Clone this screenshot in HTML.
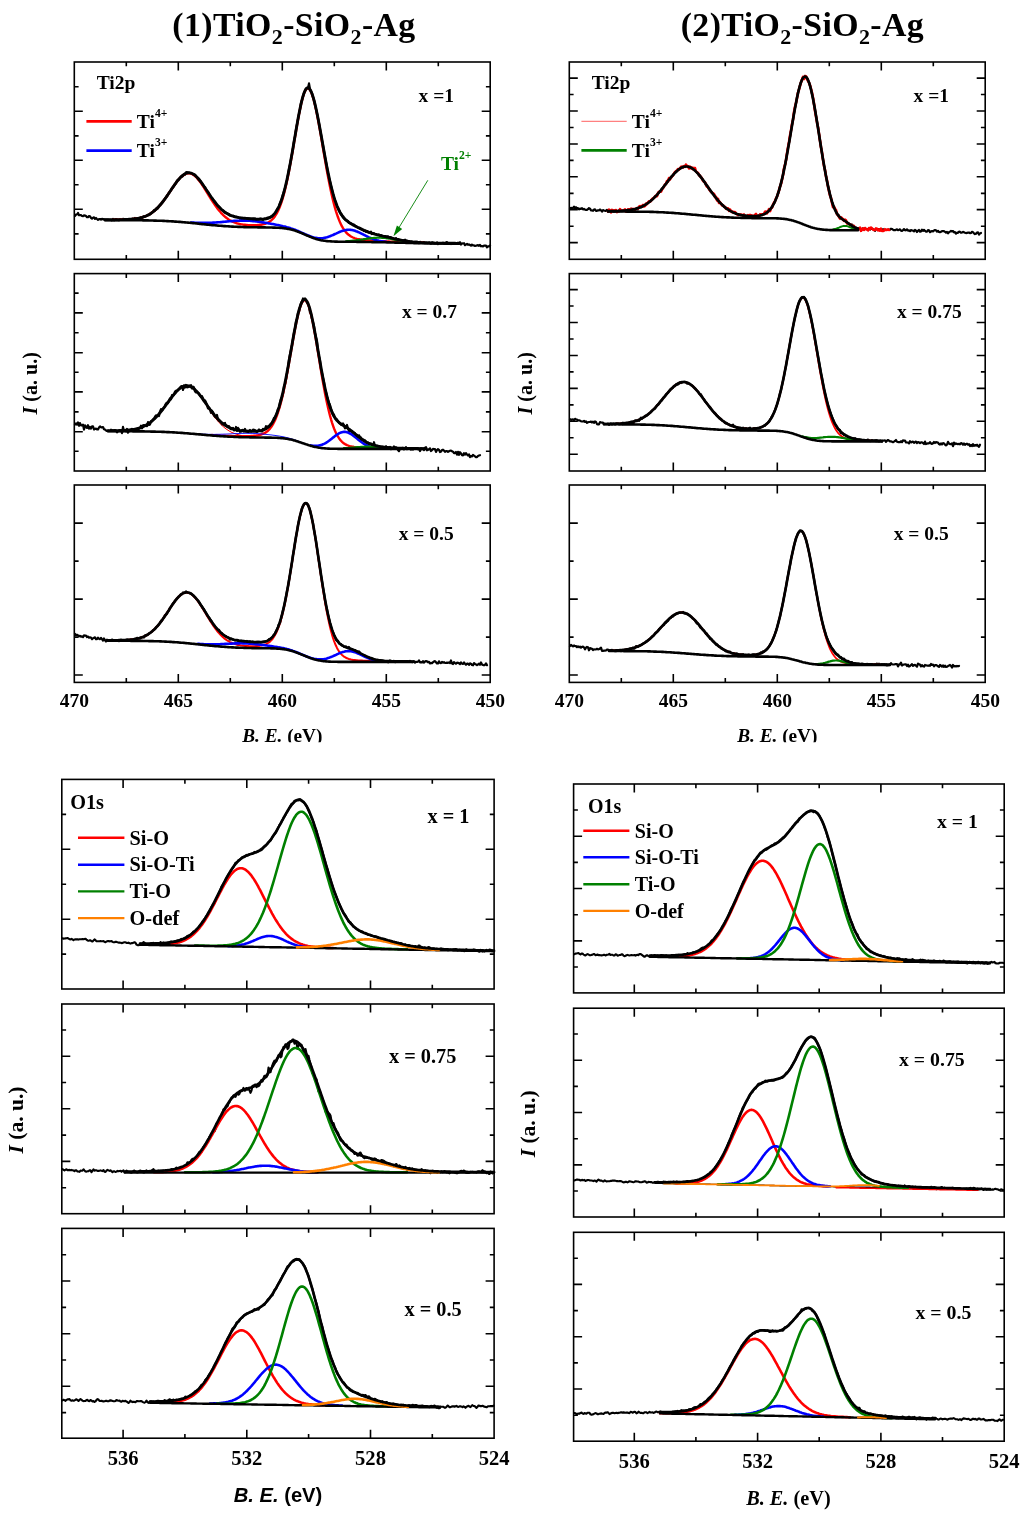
<!DOCTYPE html>
<html lang="en"><head><meta charset="utf-8"><title>XPS Ti2p and O1s spectra</title>
<style>html,body{margin:0;padding:0;background:#fff}svg{display:block}</style></head>
<body>
<svg width="1024" height="1513" viewBox="0 0 1024 1513">
<rect width="1024" height="1513" fill="#fff"/>
<polyline points="75.0,215.9 76.0,214.5 77.0,214.5 78.0,213.0 79.0,215.2 80.0,215.1 81.0,215.1 82.0,216.0 83.0,216.2 84.0,215.3 85.0,215.6 86.0,216.1 87.0,217.2 88.0,217.2 89.0,216.0 90.0,216.3 91.0,217.9 92.0,218.7 93.0,217.7 94.0,217.3 95.0,218.9 96.0,218.0 97.0,219.0 98.0,219.8 99.0,219.2 100.0,219.0 101.0,219.7 102.0,218.8 103.0,219.3 104.0,219.2 105.0,219.7 106.0,219.6 107.0,219.7 108.0,219.6 109.0,219.8 110.0,219.8 111.0,219.9 112.0,220.4 113.0,219.0 114.0,220.3 115.0,219.6 116.0,219.1 117.0,219.6 118.0,219.7 119.0,220.2 120.0,219.2 121.0,219.7 122.0,219.7 123.0,218.8 124.0,219.0 125.0,219.8 126.0,219.8 127.0,219.9 128.0,219.6 129.0,219.5 130.0,219.3 131.0,219.7 132.0,218.7 133.0,218.9 134.0,219.1 135.0,218.0 136.0,219.2 137.0,218.1 138.0,218.3 139.0,219.1 140.0,217.5 141.0,217.4 142.0,218.1 143.0,216.6 144.0,216.5 145.0,216.6 146.0,216.2 147.0,215.8 148.0,215.2 149.0,215.1 150.0,214.4 151.0,213.6 152.0,212.3 153.0,211.5 154.0,210.2 155.0,210.6 156.0,208.5 157.0,208.8 158.0,208.2 159.0,205.8 160.0,204.9 161.0,203.8 162.0,203.1 163.0,201.1 164.0,200.1 165.0,198.5 166.0,197.3 167.0,196.5 168.0,194.0 169.0,193.0 170.0,191.6 171.0,190.4 172.0,187.9 173.0,187.6 174.0,185.8 175.0,184.6 176.0,182.8 177.0,180.7 178.0,179.9 179.0,179.4 180.0,177.9 181.0,176.8 182.0,176.7 183.0,176.1 184.0,174.4 185.0,174.7 186.0,172.4 187.0,172.1 188.0,173.2 189.0,172.7 190.0,173.2 191.0,173.4 192.0,173.5 193.0,174.3 194.0,174.7 195.0,174.7 196.0,176.3 197.0,177.3 198.0,179.1 199.0,178.9 200.0,180.7 201.0,181.8 202.0,183.3 203.0,185.6 204.0,186.4 205.0,187.5 206.0,189.3 207.0,191.1 208.0,191.8 209.0,193.7 210.0,196.0 211.0,197.2 212.0,198.2 213.0,199.4 214.0,200.9 215.0,201.6 216.0,204.0 217.0,204.9 218.0,206.0 219.0,206.4 220.0,207.7 221.0,209.2 222.0,210.0 223.0,210.5 224.0,211.8 225.0,212.7 226.0,212.6 227.0,213.3 228.0,213.7 229.0,214.1 230.0,215.5 231.0,215.7 232.0,216.0 233.0,215.7 234.0,216.0 235.0,216.8 236.0,216.8 237.0,217.3 238.0,217.1 239.0,217.9 240.0,218.6 241.0,218.6 242.0,218.8 243.0,218.2 244.0,218.7 245.0,218.2 246.0,218.8 247.0,218.3 248.0,218.4 249.0,218.4 250.0,219.1 251.0,218.9 252.0,219.0 253.0,218.4 254.0,219.1 255.0,218.4 256.0,219.8 257.0,219.2 258.0,219.4 259.0,219.2 260.0,218.6 261.0,218.7 262.0,219.3 263.0,219.9 264.0,218.6 265.0,218.7 266.0,218.8 267.0,217.8 268.0,217.5 269.0,217.7 270.0,217.4 271.0,216.7 272.0,216.8 273.0,215.2 274.0,214.4 275.0,213.8 276.0,212.5 277.0,209.4 278.0,208.1 279.0,206.8 280.0,203.3 281.0,200.9 282.0,197.9 283.0,194.7 284.0,191.3 285.0,188.1 286.0,184.5 287.0,180.2 288.0,174.8 289.0,169.0 290.0,164.6 291.0,159.1 292.0,153.8 293.0,147.9 294.0,141.3 295.0,136.4 296.0,129.4 297.0,124.3 298.0,119.2 299.0,113.9 300.0,109.5 301.0,103.0 302.0,100.0 303.0,96.5 304.0,93.0 305.0,91.0 306.0,88.5 307.0,88.3 308.0,88.0 309.0,83.4 310.0,89.2 311.0,91.2 312.0,93.4 313.0,97.2 314.0,100.2 315.0,104.7 316.0,109.0 317.0,113.2 318.0,118.2 319.0,123.1 320.0,128.6 321.0,134.1 322.0,140.3 323.0,145.3 324.0,151.3 325.0,156.9 326.0,161.9 327.0,167.3 328.0,173.0 329.0,177.9 330.0,181.3 331.0,185.8 332.0,189.8 333.0,193.5 334.0,197.8 335.0,200.6 336.0,203.7 337.0,206.6 338.0,207.9 339.0,210.2 340.0,212.2 341.0,214.4 342.0,215.4 343.0,217.1 344.0,218.5 345.0,219.6 346.0,220.3 347.0,220.6 348.0,221.0 349.0,222.9 350.0,223.3 351.0,223.3 352.0,224.1 353.0,224.7 354.0,224.6 355.0,226.1 356.0,226.1 357.0,226.8 358.0,227.8 359.0,227.9 360.0,228.7 361.0,229.1 362.0,229.4 363.0,229.9 364.0,231.1 365.0,230.6 366.0,231.9 367.0,231.1 368.0,232.2 369.0,232.4 370.0,232.3 371.0,231.7 372.0,234.0 373.0,233.1 374.0,233.4 375.0,234.2 376.0,234.4 377.0,234.8 378.0,234.8 379.0,234.5 380.0,235.8 381.0,235.2 382.0,235.9 383.0,236.3 384.0,236.8 385.0,236.4 386.0,236.6 387.0,236.9 388.0,236.3 389.0,237.1 390.0,237.2 391.0,237.4 392.0,238.2 393.0,238.2 394.0,239.3 395.0,239.5 396.0,238.2 397.0,239.3 398.0,239.0 399.0,240.0 400.0,240.0 401.0,240.6 402.0,240.5 403.0,240.9 404.0,240.6 405.0,239.7 406.0,240.5 407.0,240.8 408.0,241.1 409.0,241.0 410.0,242.4 411.0,241.7 412.0,242.4 413.0,241.8 414.0,242.8 415.0,241.6 416.0,242.5 417.0,241.7 418.0,242.6 419.0,243.2 420.0,241.8 421.0,242.2 422.0,242.7 423.0,242.6 424.0,242.1 425.0,243.3 426.0,242.8 427.0,243.4 428.0,243.0 429.0,242.4 430.0,242.7 431.0,243.6 432.0,242.3 433.0,242.8 434.0,243.3 435.0,243.5 436.0,243.5 437.0,242.4 438.0,244.1 439.0,243.1 440.0,243.2 441.0,243.2 442.0,243.1 443.0,242.8 444.0,243.1 445.0,243.8 446.0,242.6 447.0,242.1 448.0,243.5 449.0,243.4 450.0,243.6 451.0,244.1 452.0,243.0 453.0,243.4 454.0,243.6 455.0,243.9 456.0,243.8 457.0,243.0 458.0,242.7 459.0,243.2 460.0,242.2 461.0,244.5 462.0,243.4 463.0,243.5 464.0,243.2 465.0,245.2 466.0,244.4 467.0,243.9 468.0,244.8 469.0,244.4 470.0,245.0 471.0,245.7 472.0,244.6 473.0,245.3 474.0,245.4 475.0,246.0 476.0,245.7 477.0,245.4 478.0,245.0 479.0,245.8 480.0,244.9 481.0,246.3 482.0,246.0 483.0,246.5 484.0,245.7 485.0,245.6 486.0,245.7 487.0,247.3 488.0,246.4 489.0,246.5 490.0,245.4" fill="none" stroke="#000" stroke-width="2.2" stroke-linejoin="round" stroke-linecap="round" />
<polyline points="113.0,219.8 114.0,219.7 115.0,219.7 116.0,219.7 117.0,219.7 118.0,219.7 119.0,219.7 120.0,219.6 121.0,219.6 122.0,219.6 123.0,219.6 124.0,219.5 125.0,219.5 126.0,219.5 127.0,219.4 128.0,219.4 129.0,219.3 130.0,219.3 131.0,219.2 132.0,219.1 133.0,219.0 134.0,218.9 135.0,218.8 136.0,218.6 137.0,218.5 138.0,218.3 139.0,218.1 140.0,217.9 141.0,217.6 142.0,217.4 143.0,217.1 144.0,216.7 145.0,216.4 146.0,216.0 147.0,215.5 148.0,215.0 149.0,214.5 150.0,213.9 151.0,213.3 152.0,212.6 153.0,211.9 154.0,211.1 155.0,210.3 156.0,209.4 157.0,208.4 158.0,207.4 159.0,206.3 160.0,205.2 161.0,204.0 162.0,202.8 163.0,201.5 164.0,200.2 165.0,198.8 166.0,197.4 167.0,196.0 168.0,194.5 169.0,193.0 170.0,191.5 171.0,190.1 172.0,188.6 173.0,187.1 174.0,185.7 175.0,184.2 176.0,182.9 177.0,181.5 178.0,180.3 179.0,179.1 180.0,178.0 181.0,177.0 182.0,176.1 183.0,175.3 184.0,174.6 185.0,174.1 186.0,173.6 187.0,173.3 188.0,173.2 189.0,173.2 190.0,173.3 191.0,173.6 192.0,174.0 193.0,174.6 194.0,175.2 195.0,176.1 196.0,177.0 197.0,178.0 198.0,179.2 199.0,180.4 200.0,181.7 201.0,183.1 202.0,184.6 203.0,186.1 204.0,187.7 205.0,189.3 206.0,190.9 207.0,192.5 208.0,194.1 209.0,195.8 210.0,197.4 211.0,199.0 212.0,200.6 213.0,202.1 214.0,203.6 215.0,205.1 216.0,206.5 217.0,207.9 218.0,209.2 219.0,210.4 220.0,211.6 221.0,212.8 222.0,213.8 223.0,214.9 224.0,215.8 225.0,216.7 226.0,217.5 227.0,218.3 228.0,219.0 229.0,219.7 230.0,220.3 231.0,220.8 232.0,221.4 233.0,221.8 234.0,222.3 235.0,222.6 236.0,223.0 237.0,223.3 238.0,223.6 239.0,223.8 240.0,224.1 241.0,224.3 242.0,224.4 243.0,224.6 244.0,224.7 245.0,224.8 246.0,224.9 247.0,225.0 248.0,225.1 249.0,225.1 250.0,225.2 251.0,225.2 252.0,225.2 253.0,225.2 254.0,225.2 255.0,225.2 256.0,225.1 257.0,225.1 258.0,225.0 259.0,224.9 260.0,224.8 261.0,224.7 262.0,224.5 263.0,224.3 264.0,224.1 265.0,223.8 266.0,223.4 267.0,223.0 268.0,222.6 269.0,222.0 270.0,221.4 271.0,220.6 272.0,219.7 273.0,218.7 274.0,217.6 275.0,216.2 276.0,214.7 277.0,212.9 278.0,211.0 279.0,208.8 280.0,206.3 281.0,203.6 282.0,200.6 283.0,197.3 284.0,193.7 285.0,189.8 286.0,185.5 287.0,181.0 288.0,176.2 289.0,171.2 290.0,165.9 291.0,160.4 292.0,154.7 293.0,148.9 294.0,143.0 295.0,137.1 296.0,131.2 297.0,125.4 298.0,119.7 299.0,114.4 300.0,109.3 301.0,104.6 302.0,100.4 303.0,96.7 304.0,93.6 305.0,91.2 306.0,89.4 307.0,88.5 308.0,88.3 309.0,88.8 310.0,90.0 311.0,91.9 312.0,94.3 313.0,97.4 314.0,100.9 315.0,105.0 316.0,109.5 317.0,114.4 318.0,119.5 319.0,125.0 320.0,130.6 321.0,136.4 322.0,142.3 323.0,148.2 324.0,154.1 325.0,159.9 326.0,165.6 327.0,171.2 328.0,176.6 329.0,181.8 330.0,186.8 331.0,191.5 332.0,196.0 333.0,200.2 334.0,204.2 335.0,207.9 336.0,211.3 337.0,214.4 338.0,217.3 339.0,219.9 340.0,222.3 341.0,224.4 342.0,226.4 343.0,228.1 344.0,229.7 345.0,231.0 346.0,232.3 347.0,233.3 348.0,234.3 349.0,235.1 350.0,235.8 351.0,236.5 352.0,237.0 353.0,237.5 354.0,237.9 355.0,238.3 356.0,238.6 357.0,238.9 358.0,239.1 359.0,239.3 360.0,239.5 361.0,239.7 362.0,239.8 363.0,239.9 364.0,240.0 365.0,240.1 366.0,240.2 367.0,240.3 368.0,240.4 369.0,240.5 370.0,240.5 371.0,240.6 372.0,240.7 373.0,240.7 374.0,240.8 375.0,240.8 376.0,240.9 377.0,240.9 378.0,241.0 379.0,241.1 380.0,241.1 381.0,241.2 382.0,241.2 383.0,241.3 384.0,241.3 385.0,241.3 386.0,241.4 387.0,241.4 388.0,241.5 389.0,241.5 390.0,241.6 391.0,241.6 392.0,241.7 393.0,241.7 394.0,241.7 395.0,241.8 396.0,241.8 397.0,241.9 398.0,241.9 399.0,242.0 400.0,242.0 401.0,242.0 402.0,242.1 403.0,242.1 404.0,242.2 405.0,242.2 406.0,242.2 407.0,242.3 408.0,242.3 409.0,242.3 410.0,242.4 411.0,242.4 412.0,242.5 413.0,242.5 414.0,242.5 415.0,242.6 416.0,242.6 417.0,242.6 418.0,242.7 419.0,242.7 420.0,242.7 421.0,242.7 422.0,242.8 423.0,242.8 424.0,242.8" fill="none" stroke="#ff0000" stroke-width="2.4" stroke-linejoin="round" stroke-linecap="round" />
<polyline points="191.0,222.5 192.0,222.5 193.0,222.6 194.0,222.6 195.0,222.7 196.0,222.7 197.0,222.7 198.0,222.8 199.0,222.8 200.0,222.8 201.0,222.8 202.0,222.8 203.0,222.9 204.0,222.9 205.0,222.9 206.0,222.8 207.0,222.8 208.0,222.8 209.0,222.8 210.0,222.8 211.0,222.7 212.0,222.7 213.0,222.6 214.0,222.6 215.0,222.5 216.0,222.5 217.0,222.4 218.0,222.3 219.0,222.2 220.0,222.2 221.0,222.1 222.0,222.0 223.0,221.9 224.0,221.8 225.0,221.7 226.0,221.6 227.0,221.5 228.0,221.4 229.0,221.3 230.0,221.3 231.0,221.2 232.0,221.1 233.0,221.0 234.0,220.9 235.0,220.9 236.0,220.8 237.0,220.8 238.0,220.7 239.0,220.7 240.0,220.6 241.0,220.6 242.0,220.6 243.0,220.6 244.0,220.6 245.0,220.6 246.0,220.6 247.0,220.7 248.0,220.7 249.0,220.8 250.0,220.8 251.0,220.9 252.0,221.0 253.0,221.1 254.0,221.2 255.0,221.3 256.0,221.4 257.0,221.5 258.0,221.6 259.0,221.8 260.0,221.9 261.0,222.1 262.0,222.2 263.0,222.4 264.0,222.5 265.0,222.7 266.0,222.9 267.0,223.0 268.0,223.2 269.0,223.4 270.0,223.6 271.0,223.7 272.0,223.9 273.0,224.1 274.0,224.3 275.0,224.5 276.0,224.7 277.0,224.9 278.0,225.1 279.0,225.3 280.0,225.5 281.0,225.7 282.0,225.9 283.0,226.2 284.0,226.4 285.0,226.6 286.0,226.9 287.0,227.2 288.0,227.4 289.0,227.7 290.0,228.0 291.0,228.4 292.0,228.7 293.0,229.1 294.0,229.4 295.0,229.8 296.0,230.2 297.0,230.6 298.0,231.0 299.0,231.5 300.0,231.9 301.0,232.4 302.0,232.8 303.0,233.3 304.0,233.7 305.0,234.2 306.0,234.6 307.0,235.0 308.0,235.4 309.0,235.8 310.0,236.2 311.0,236.6 312.0,236.9 313.0,237.2 314.0,237.5 315.0,237.7 316.0,237.9 317.0,238.0 318.0,238.2 319.0,238.2 320.0,238.3 321.0,238.2 322.0,238.2 323.0,238.1 324.0,237.9 325.0,237.8 326.0,237.5 327.0,237.3 328.0,236.9 329.0,236.6 330.0,236.2 331.0,235.8 332.0,235.4 333.0,235.0 334.0,234.5 335.0,234.0 336.0,233.6 337.0,233.1 338.0,232.7 339.0,232.2 340.0,231.8 341.0,231.4 342.0,231.0 343.0,230.7 344.0,230.4 345.0,230.2 346.0,230.0 347.0,229.9 348.0,229.8 349.0,229.8 350.0,229.8 351.0,229.9 352.0,230.1 353.0,230.3 354.0,230.5 355.0,230.8 356.0,231.2 357.0,231.5 358.0,232.0 359.0,232.4 360.0,232.9 361.0,233.4 362.0,233.9 363.0,234.4 364.0,234.9 365.0,235.4 366.0,235.9 367.0,236.4 368.0,236.9 369.0,237.4 370.0,237.8 371.0,238.2 372.0,238.6 373.0,239.0 374.0,239.4 375.0,239.7 376.0,240.0 377.0,240.3 378.0,240.5 379.0,240.8 380.0,241.0 381.0,241.2 382.0,241.3 383.0,241.5 384.0,241.6 385.0,241.8 386.0,241.9" fill="none" stroke="#0000ff" stroke-width="2.6" stroke-linejoin="round" stroke-linecap="round" />
<polyline points="346.0,241.3 347.0,241.2 348.0,241.2 349.0,241.1 350.0,241.0 351.0,240.9 352.0,240.8 353.0,240.7 354.0,240.6 355.0,240.5 356.0,240.4 357.0,240.2 358.0,240.1 359.0,240.0 360.0,239.8 361.0,239.7 362.0,239.5 363.0,239.4 364.0,239.2 365.0,239.0 366.0,238.9 367.0,238.7 368.0,238.6 369.0,238.4 370.0,238.3 371.0,238.2 372.0,238.1 373.0,238.0 374.0,237.9 375.0,237.8 376.0,237.8 377.0,237.7 378.0,237.7 379.0,237.7 380.0,237.7 381.0,237.7 382.0,237.8 383.0,237.8 384.0,237.9 385.0,238.0 386.0,238.1 387.0,238.3 388.0,238.4 389.0,238.6 390.0,238.7 391.0,238.9 392.0,239.1 393.0,239.3 394.0,239.5 395.0,239.7 396.0,239.9 397.0,240.1 398.0,240.3 399.0,240.5 400.0,240.6 401.0,240.8 402.0,241.0 403.0,241.2 404.0,241.3 405.0,241.5 406.0,241.7 407.0,241.8 408.0,241.9 409.0,242.1 410.0,242.2 411.0,242.3 412.0,242.4 413.0,242.5 414.0,242.6" fill="none" stroke="#008000" stroke-width="2.2" stroke-linejoin="round" stroke-linecap="round" />
<polyline points="105.0,220.2 106.0,220.2 107.0,220.2 108.0,220.2 109.0,220.2 110.0,220.2 111.0,220.2 112.0,220.2 113.0,220.2 114.0,220.2 115.0,220.2 116.0,220.2 117.0,220.2 118.0,220.2 119.0,220.2 120.0,220.2 121.0,220.2 122.0,220.2 123.0,220.2 124.0,220.2 125.0,220.2 126.0,220.2 127.0,220.2 128.0,220.2 129.0,220.2 130.0,220.2 131.0,220.3 132.0,220.3 133.0,220.3 134.0,220.3 135.0,220.3 136.0,220.3 137.0,220.3 138.0,220.3 139.0,220.3 140.0,220.3 141.0,220.3 142.0,220.3 143.0,220.4 144.0,220.4 145.0,220.4 146.0,220.4 147.0,220.4 148.0,220.4 149.0,220.5 150.0,220.5 151.0,220.5 152.0,220.5 153.0,220.5 154.0,220.6 155.0,220.6 156.0,220.6 157.0,220.7 158.0,220.7 159.0,220.7 160.0,220.8 161.0,220.8 162.0,220.8 163.0,220.9 164.0,220.9 165.0,221.0 166.0,221.0 167.0,221.1 168.0,221.1 169.0,221.2 170.0,221.2 171.0,221.3 172.0,221.4 173.0,221.4 174.0,221.5 175.0,221.6 176.0,221.6 177.0,221.7 178.0,221.8 179.0,221.9 180.0,221.9 181.0,222.0 182.0,222.1 183.0,222.2 184.0,222.3 185.0,222.4 186.0,222.5 187.0,222.5 188.0,222.6 189.0,222.7 190.0,222.8 191.0,222.9 192.0,223.0 193.0,223.1 194.0,223.2 195.0,223.3 196.0,223.4 197.0,223.5 198.0,223.6 199.0,223.7 200.0,223.9 201.0,224.0 202.0,224.1 203.0,224.2 204.0,224.3 205.0,224.4 206.0,224.5 207.0,224.6 208.0,224.7 209.0,224.8 210.0,224.9 211.0,225.0 212.0,225.1 213.0,225.2 214.0,225.2 215.0,225.3 216.0,225.4 217.0,225.5 218.0,225.6 219.0,225.7 220.0,225.8 221.0,225.8 222.0,225.9 223.0,226.0 224.0,226.1 225.0,226.1 226.0,226.2 227.0,226.3 228.0,226.3 229.0,226.4 230.0,226.5 231.0,226.5 232.0,226.6 233.0,226.6 234.0,226.7 235.0,226.7 236.0,226.8 237.0,226.8 238.0,226.9 239.0,226.9 240.0,226.9 241.0,227.0 242.0,227.0 243.0,227.0 244.0,227.1 245.0,227.1 246.0,227.1 247.0,227.2 248.0,227.2 249.0,227.2 250.0,227.2 251.0,227.3 252.0,227.3 253.0,227.3 254.0,227.3 255.0,227.3 256.0,227.3 257.0,227.3 258.0,227.4 259.0,227.4 260.0,227.4 261.0,227.4 262.0,227.4 263.0,227.4 264.0,227.4 265.0,227.4 266.0,227.5 267.0,227.5 268.0,227.5 269.0,227.5 270.0,227.5 271.0,227.5 272.0,227.5 273.0,227.6 274.0,227.6 275.0,227.6 276.0,227.7 277.0,227.7 278.0,227.7 279.0,227.8 280.0,227.9 281.0,227.9 282.0,228.0 283.0,228.1 284.0,228.2 285.0,228.4 286.0,228.5 287.0,228.7 288.0,228.9 289.0,229.0 290.0,229.3 291.0,229.5 292.0,229.7 293.0,230.0 294.0,230.3 295.0,230.6 296.0,231.0 297.0,231.3 298.0,231.7 299.0,232.1 300.0,232.5 301.0,232.9 302.0,233.3 303.0,233.7 304.0,234.2 305.0,234.6 306.0,235.0 307.0,235.5 308.0,235.9 309.0,236.3 310.0,236.7 311.0,237.1 312.0,237.5 313.0,237.9 314.0,238.2 315.0,238.6 316.0,238.9 317.0,239.2 318.0,239.5 319.0,239.7 320.0,239.9 321.0,240.2 322.0,240.4 323.0,240.5 324.0,240.7 325.0,240.8 326.0,241.0 327.0,241.1 328.0,241.2 329.0,241.3 330.0,241.3 331.0,241.4 332.0,241.5 333.0,241.5 334.0,241.5 335.0,241.6 336.0,241.6 337.0,241.6 338.0,241.7 339.0,241.7 340.0,241.7 341.0,241.7 342.0,241.7 343.0,241.7 344.0,241.7 345.0,241.8 346.0,241.8 347.0,241.8 348.0,241.8 349.0,241.8 350.0,241.8 351.0,241.8 352.0,241.8 353.0,241.8 354.0,241.8 355.0,241.8 356.0,241.8 357.0,241.9 358.0,241.9 359.0,241.9 360.0,241.9 361.0,241.9 362.0,241.9 363.0,241.9 364.0,241.9 365.0,241.9 366.0,242.0 367.0,242.0 368.0,242.0 369.0,242.0 370.0,242.0 371.0,242.0 372.0,242.1 373.0,242.1 374.0,242.1 375.0,242.1 376.0,242.1 377.0,242.1 378.0,242.2 379.0,242.2 380.0,242.2 381.0,242.2 382.0,242.2 383.0,242.3 384.0,242.3 385.0,242.3 386.0,242.3 387.0,242.4 388.0,242.4 389.0,242.4 390.0,242.4 391.0,242.5 392.0,242.5 393.0,242.5 394.0,242.5 395.0,242.6 396.0,242.6 397.0,242.6 398.0,242.6 399.0,242.7 400.0,242.7 401.0,242.7 402.0,242.8 403.0,242.8 404.0,242.8 405.0,242.8 406.0,242.9 407.0,242.9 408.0,242.9 409.0,242.9 410.0,243.0 411.0,243.0 412.0,243.0 413.0,243.0 414.0,243.1 415.0,243.1 416.0,243.1 417.0,243.1 418.0,243.2 419.0,243.2 420.0,243.2 421.0,243.2 422.0,243.2 423.0,243.3 424.0,243.3 425.0,243.3 426.0,243.3 427.0,243.3 428.0,243.3 429.0,243.4 430.0,243.4 431.0,243.4 432.0,243.4 433.0,243.4 434.0,243.4 435.0,243.5 436.0,243.5 437.0,243.5 438.0,243.5 439.0,243.5 440.0,243.5 441.0,243.5 442.0,243.5 443.0,243.5 444.0,243.6 445.0,243.6 446.0,243.6 447.0,243.6 448.0,243.6 449.0,243.6 450.0,243.6 451.0,243.6 452.0,243.6 453.0,243.6 454.0,243.6 455.0,243.6 456.0,243.6 457.0,243.6 458.0,243.6 459.0,243.7" fill="none" stroke="#000" stroke-width="2.6" stroke-linejoin="round" stroke-linecap="round" />
<polyline points="105.0,219.8 106.0,219.8 107.0,219.8 108.0,219.8 109.0,219.8 110.0,219.8 111.0,219.8 112.0,219.8 113.0,219.8 114.0,219.7 115.0,219.7 116.0,219.7 117.0,219.7 118.0,219.7 119.0,219.7 120.0,219.6 121.0,219.6 122.0,219.6 123.0,219.6 124.0,219.5 125.0,219.5 126.0,219.5 127.0,219.4 128.0,219.4 129.0,219.3 130.0,219.3 131.0,219.2 132.0,219.1 133.0,219.0 134.0,218.9 135.0,218.8 136.0,218.6 137.0,218.5 138.0,218.3 139.0,218.1 140.0,217.9 141.0,217.6 142.0,217.4 143.0,217.1 144.0,216.7 145.0,216.4 146.0,216.0 147.0,215.5 148.0,215.0 149.0,214.5 150.0,213.9 151.0,213.3 152.0,212.6 153.0,211.9 154.0,211.1 155.0,210.2 156.0,209.3 157.0,208.4 158.0,207.4 159.0,206.3 160.0,205.2 161.0,204.0 162.0,202.8 163.0,201.5 164.0,200.2 165.0,198.8 166.0,197.4 167.0,195.9 168.0,194.5 169.0,193.0 170.0,191.5 171.0,190.0 172.0,188.5 173.0,187.0 174.0,185.6 175.0,184.2 176.0,182.8 177.0,181.4 178.0,180.2 179.0,179.0 180.0,177.9 181.0,176.8 182.0,175.9 183.0,175.1 184.0,174.4 185.0,173.8 186.0,173.3 187.0,173.0 188.0,172.8 189.0,172.8 190.0,172.9 191.0,173.1 192.0,173.5 193.0,174.0 194.0,174.6 195.0,175.4 196.0,176.2 197.0,177.2 198.0,178.3 199.0,179.5 200.0,180.7 201.0,182.0 202.0,183.4 203.0,184.8 204.0,186.3 205.0,187.7 206.0,189.3 207.0,190.8 208.0,192.3 209.0,193.8 210.0,195.3 211.0,196.8 212.0,198.2 213.0,199.6 214.0,201.0 215.0,202.3 216.0,203.5 217.0,204.8 218.0,205.9 219.0,207.0 220.0,208.0 221.0,209.0 222.0,209.9 223.0,210.7 224.0,211.5 225.0,212.3 226.0,212.9 227.0,213.5 228.0,214.1 229.0,214.6 230.0,215.1 231.0,215.5 232.0,215.9 233.0,216.2 234.0,216.5 235.0,216.8 236.0,217.0 237.0,217.2 238.0,217.4 239.0,217.6 240.0,217.8 241.0,217.9 242.0,218.0 243.0,218.1 244.0,218.2 245.0,218.3 246.0,218.4 247.0,218.5 248.0,218.6 249.0,218.7 250.0,218.7 251.0,218.8 252.0,218.9 253.0,219.0 254.0,219.0 255.0,219.1 256.0,219.2 257.0,219.2 258.0,219.3 259.0,219.3 260.0,219.3 261.0,219.3 262.0,219.3 263.0,219.2 264.0,219.2 265.0,219.0 266.0,218.9 267.0,218.6 268.0,218.3 269.0,217.9 270.0,217.4 271.0,216.8 272.0,216.1 273.0,215.3 274.0,214.3 275.0,213.1 276.0,211.7 277.0,210.1 278.0,208.3 279.0,206.3 280.0,203.9 281.0,201.4 282.0,198.5 283.0,195.3 284.0,191.8 285.0,188.0 286.0,183.9 287.0,179.5 288.0,174.8 289.0,169.9 290.0,164.7 291.0,159.3 292.0,153.7 293.0,147.9 294.0,142.1 295.0,136.2 296.0,130.4 297.0,124.7 298.0,119.1 299.0,113.8 300.0,108.7 301.0,104.1 302.0,99.9 303.0,96.2 304.0,93.1 305.0,90.7 306.0,89.0 307.0,88.0 308.0,87.8 309.0,88.3 310.0,89.5 311.0,91.3 312.0,93.7 313.0,96.7 314.0,100.2 315.0,104.1 316.0,108.5 317.0,113.2 318.0,118.2 319.0,123.5 320.0,128.9 321.0,134.5 322.0,140.1 323.0,145.7 324.0,151.3 325.0,156.8 326.0,162.2 327.0,167.4 328.0,172.4 329.0,177.1 330.0,181.7 331.0,185.9 332.0,189.9 333.0,193.7 334.0,197.1 335.0,200.3 336.0,203.1 337.0,205.8 338.0,208.1 339.0,210.3 340.0,212.2 341.0,213.9 342.0,215.4 343.0,216.8 344.0,218.0 345.0,219.1 346.0,220.0 347.0,220.9 348.0,221.7 349.0,222.4 350.0,223.1 351.0,223.7 352.0,224.3 353.0,224.9 354.0,225.4 355.0,225.9 356.0,226.5 357.0,227.0 358.0,227.5 359.0,227.9 360.0,228.4 361.0,228.9 362.0,229.4 363.0,229.8 364.0,230.3 365.0,230.7 366.0,231.1 367.0,231.5 368.0,231.9 369.0,232.3 370.0,232.6 371.0,233.0 372.0,233.3 373.0,233.6 374.0,233.9 375.0,234.2 376.0,234.4 377.0,234.7 378.0,234.9 379.0,235.2 380.0,235.4 381.0,235.6 382.0,235.8 383.0,236.1 384.0,236.3 385.0,236.5 386.0,236.7 387.0,237.0 388.0,237.2 389.0,237.4 390.0,237.7 391.0,237.9 392.0,238.1 393.0,238.4 394.0,238.6 395.0,238.8 396.0,239.0 397.0,239.3 398.0,239.5 399.0,239.7 400.0,239.9 401.0,240.1 402.0,240.3 403.0,240.5 404.0,240.7 405.0,240.9 406.0,241.0 407.0,241.2 408.0,241.3 409.0,241.5 410.0,241.6 411.0,241.7 412.0,241.8 413.0,242.0 414.0,242.1 415.0,242.1 416.0,242.2 417.0,242.3 418.0,242.4 419.0,242.5 420.0,242.5 421.0,242.6 422.0,242.6 423.0,242.7 424.0,242.7 425.0,242.8 426.0,242.8 427.0,242.8 428.0,242.9 429.0,242.9 430.0,242.9 431.0,243.0 432.0,243.0 433.0,243.0 434.0,243.0 435.0,243.1 436.0,243.1 437.0,243.1 438.0,243.1 439.0,243.1 440.0,243.2 441.0,243.2 442.0,243.2 443.0,243.2 444.0,243.2 445.0,243.2 446.0,243.2 447.0,243.3 448.0,243.3 449.0,243.3 450.0,243.3 451.0,243.3 452.0,243.3 453.0,243.3 454.0,243.3 455.0,243.3 456.0,243.4 457.0,243.4 458.0,243.4 459.0,243.4" fill="none" stroke="#000" stroke-width="2.9" stroke-linejoin="round" stroke-linecap="round" />
<path d="M126.3 259.3L126.3 255.0 M178.3 259.3L178.3 250.8 M230.3 259.3L230.3 255.0 M282.3 259.3L282.3 250.8 M334.3 259.3L334.3 255.0 M386.3 259.3L386.3 250.8 M438.3 259.3L438.3 255.0 M126.3 62.0L126.3 66.3 M178.3 62.0L178.3 70.5 M230.3 62.0L230.3 66.3 M282.3 62.0L282.3 70.5 M334.3 62.0L334.3 66.3 M386.3 62.0L386.3 70.5 M438.3 62.0L438.3 66.3 M74.3 86.8L78.6 86.8 M490.2 86.8L485.9 86.8 M74.3 111.3L82.8 111.3 M490.2 111.3L481.7 111.3 M74.3 135.9L78.6 135.9 M490.2 135.9L485.9 135.9 M74.3 160.2L82.8 160.2 M490.2 160.2L481.7 160.2 M74.3 184.8L78.6 184.8 M490.2 184.8L485.9 184.8 M74.3 209.2L82.8 209.2 M490.2 209.2L481.7 209.2 M74.3 233.9L78.6 233.9 M490.2 233.9L485.9 233.9" stroke="#000" stroke-width="1.6" fill="none"/>
<rect x="74.3" y="62.0" width="415.9" height="197.3" fill="none" stroke="#000" stroke-width="1.6"/>
<polyline points="75.0,424.6 76.0,423.3 77.0,424.7 78.0,422.4 79.0,425.8 80.0,423.1 81.0,425.3 82.0,425.3 83.0,424.6 84.0,429.6 85.0,425.3 86.0,426.9 87.0,427.9 88.0,425.2 89.0,428.6 90.0,427.0 91.0,428.6 92.0,426.4 93.0,426.4 94.0,429.5 95.0,428.8 96.0,428.6 97.0,429.4 98.0,429.5 99.0,427.5 100.0,426.4 101.0,427.3 102.0,427.3 103.0,427.0 104.0,429.2 105.0,429.6 106.0,430.4 107.0,430.9 108.0,430.4 109.0,430.6 110.0,430.9 111.0,429.7 112.0,430.0 113.0,430.8 114.0,430.0 115.0,430.1 116.0,430.6 117.0,432.3 118.0,431.1 119.0,430.3 120.0,430.0 121.0,430.5 122.0,433.1 123.0,426.9 124.0,431.1 125.0,430.6 126.0,431.3 127.0,428.9 128.0,432.6 129.0,431.2 130.0,429.9 131.0,430.0 132.0,428.8 133.0,429.6 134.0,429.2 135.0,430.2 136.0,429.3 137.0,428.6 138.0,429.2 139.0,428.8 140.0,428.1 141.0,425.7 142.0,428.3 143.0,425.3 144.0,425.0 145.0,425.6 146.0,425.8 147.0,426.2 148.0,422.0 149.0,425.0 150.0,424.5 151.0,421.3 152.0,420.8 153.0,419.5 154.0,418.5 155.0,416.7 156.0,415.3 157.0,416.0 158.0,415.4 159.0,416.0 160.0,411.6 161.0,409.1 162.0,410.4 163.0,408.4 164.0,408.0 165.0,405.8 166.0,403.5 167.0,402.8 168.0,403.1 169.0,401.2 170.0,398.4 171.0,399.2 172.0,395.2 173.0,395.0 174.0,394.6 175.0,391.6 176.0,390.7 177.0,391.0 178.0,389.9 179.0,388.8 180.0,387.7 181.0,386.3 182.0,386.1 183.0,390.0 184.0,385.4 185.0,387.6 186.0,385.0 187.0,387.3 188.0,387.2 189.0,386.5 190.0,385.6 191.0,385.2 192.0,388.5 193.0,386.6 194.0,387.4 195.0,391.5 196.0,392.4 197.0,391.8 198.0,392.6 199.0,393.3 200.0,395.7 201.0,396.1 202.0,396.2 203.0,398.5 204.0,401.0 205.0,400.3 206.0,402.5 207.0,405.2 208.0,408.4 209.0,408.1 210.0,409.3 211.0,412.9 212.0,410.7 213.0,412.4 214.0,415.5 215.0,417.0 216.0,417.5 217.0,415.0 218.0,420.0 219.0,420.9 220.0,421.2 221.0,422.8 222.0,424.5 223.0,423.8 224.0,423.4 225.0,423.0 226.0,425.9 227.0,425.6 228.0,426.3 229.0,426.1 230.0,428.2 231.0,429.2 232.0,429.2 233.0,427.8 234.0,430.4 235.0,430.0 236.0,427.0 237.0,430.8 238.0,427.9 239.0,429.1 240.0,431.8 241.0,431.5 242.0,430.1 243.0,429.9 244.0,431.4 245.0,429.0 246.0,431.6 247.0,430.8 248.0,432.1 249.0,431.1 250.0,430.0 251.0,431.5 252.0,430.9 253.0,429.7 254.0,429.9 255.0,430.1 256.0,431.3 257.0,432.0 258.0,431.0 259.0,429.5 260.0,430.3 261.0,431.2 262.0,431.6 263.0,428.9 264.0,430.0 265.0,428.8 266.0,426.2 267.0,426.6 268.0,426.7 269.0,425.9 270.0,425.0 271.0,423.6 272.0,423.3 273.0,420.3 274.0,417.8 275.0,418.2 276.0,414.7 277.0,413.8 278.0,409.2 279.0,408.6 280.0,402.3 281.0,398.7 282.0,397.0 283.0,394.1 284.0,386.6 285.0,384.6 286.0,379.6 287.0,373.5 288.0,367.0 289.0,359.2 290.0,354.3 291.0,349.5 292.0,345.3 293.0,338.9 294.0,332.8 295.0,328.4 296.0,321.3 297.0,318.9 298.0,313.0 299.0,311.7 300.0,307.0 301.0,303.2 302.0,301.3 303.0,298.5 304.0,299.8 305.0,298.3 306.0,300.0 307.0,302.8 308.0,303.9 309.0,306.7 310.0,312.5 311.0,314.1 312.0,319.0 313.0,322.2 314.0,326.2 315.0,333.3 316.0,337.3 317.0,340.9 318.0,350.9 319.0,356.4 320.0,360.6 321.0,369.0 322.0,372.9 323.0,377.7 324.0,382.2 325.0,389.3 326.0,391.9 327.0,396.0 328.0,399.8 329.0,402.9 330.0,404.9 331.0,408.8 332.0,411.1 333.0,415.1 334.0,414.7 335.0,418.6 336.0,418.7 337.0,419.5 338.0,421.3 339.0,422.5 340.0,423.4 341.0,424.7 342.0,424.9 343.0,423.5 344.0,425.1 345.0,428.4 346.0,427.0 347.0,425.0 348.0,428.6 349.0,431.0 350.0,431.2 351.0,430.6 352.0,431.6 353.0,432.9 354.0,432.8 355.0,433.3 356.0,436.5 357.0,435.0 358.0,437.5 359.0,435.3 360.0,437.0 361.0,437.4 362.0,439.9 363.0,439.4 364.0,440.0 365.0,440.3 366.0,442.1 367.0,443.6 368.0,442.3 369.0,444.1 370.0,443.8 371.0,443.5 372.0,444.9 373.0,446.4 374.0,442.2 375.0,446.2 376.0,447.7 377.0,445.7 378.0,447.0 379.0,447.4 380.0,447.1 381.0,446.9 382.0,448.3 383.0,448.2 384.0,447.3 385.0,448.0 386.0,446.3 387.0,447.2 388.0,447.7 389.0,447.6 390.0,446.9 391.0,449.2 392.0,448.3 393.0,448.8 394.0,446.5 395.0,447.5 396.0,447.3 397.0,447.9 398.0,450.1 399.0,451.2 400.0,448.5 401.0,448.7 402.0,448.1 403.0,447.7 404.0,449.4 405.0,447.9 406.0,447.2 407.0,449.2 408.0,448.3 409.0,448.8 410.0,448.8 411.0,449.6 412.0,449.2 413.0,449.6 414.0,448.4 415.0,448.4 416.0,449.0 417.0,448.9 418.0,449.2 419.0,449.0 420.0,451.1 421.0,448.4 422.0,449.2 423.0,448.8 424.0,450.2 425.0,447.7 426.0,447.2 427.0,450.3 428.0,449.9 429.0,449.3 430.0,448.3 431.0,451.0 432.0,450.1 433.0,448.9 434.0,449.2 435.0,449.1 436.0,451.9 437.0,450.0 438.0,449.1 439.0,449.8 440.0,452.1 441.0,451.6 442.0,450.1 443.0,449.7 444.0,450.6 445.0,451.8 446.0,451.1 447.0,451.0 448.0,451.9 449.0,451.3 450.0,450.8 451.0,450.5 452.0,451.3 453.0,451.7 454.0,453.1 455.0,453.1 456.0,452.0 457.0,454.7 458.0,451.9 459.0,454.8 460.0,452.2 461.0,453.4 462.0,455.1 463.0,455.3 464.0,453.2 465.0,454.6 466.0,453.2 467.0,454.5 468.0,455.5 469.0,454.4 470.0,457.1 471.0,456.0 472.0,456.4 473.0,454.9 474.0,455.7 475.0,456.4 476.0,457.2 477.0,457.2 478.0,455.9 479.0,455.5 480.0,455.2" fill="none" stroke="#000" stroke-width="2.2" stroke-linejoin="round" stroke-linecap="round" />
<polyline points="117.0,430.8 118.0,430.8 119.0,430.8 120.0,430.7 121.0,430.7 122.0,430.7 123.0,430.6 124.0,430.6 125.0,430.5 126.0,430.4 127.0,430.4 128.0,430.3 129.0,430.2 130.0,430.1 131.0,429.9 132.0,429.8 133.0,429.6 134.0,429.5 135.0,429.3 136.0,429.1 137.0,428.8 138.0,428.6 139.0,428.3 140.0,428.0 141.0,427.6 142.0,427.2 143.0,426.8 144.0,426.4 145.0,425.9 146.0,425.3 147.0,424.8 148.0,424.1 149.0,423.5 150.0,422.8 151.0,422.0 152.0,421.2 153.0,420.3 154.0,419.4 155.0,418.4 156.0,417.4 157.0,416.4 158.0,415.3 159.0,414.1 160.0,412.9 161.0,411.7 162.0,410.5 163.0,409.2 164.0,407.8 165.0,406.5 166.0,405.2 167.0,403.8 168.0,402.4 169.0,401.1 170.0,399.7 171.0,398.4 172.0,397.1 173.0,395.8 174.0,394.6 175.0,393.4 176.0,392.3 177.0,391.3 178.0,390.3 179.0,389.4 180.0,388.6 181.0,387.9 182.0,387.3 183.0,386.9 184.0,386.5 185.0,386.2 186.0,386.1 187.0,386.1 188.0,386.2 189.0,386.5 190.0,386.8 191.0,387.3 192.0,387.9 193.0,388.6 194.0,389.4 195.0,390.3 196.0,391.4 197.0,392.4 198.0,393.6 199.0,394.8 200.0,396.1 201.0,397.5 202.0,398.9 203.0,400.3 204.0,401.8 205.0,403.3 206.0,404.8 207.0,406.3 208.0,407.7 209.0,409.2 210.0,410.7 211.0,412.1 212.0,413.6 213.0,415.0 214.0,416.3 215.0,417.6 216.0,418.9 217.0,420.1 218.0,421.3 219.0,422.4 220.0,423.5 221.0,424.5 222.0,425.5 223.0,426.4 224.0,427.3 225.0,428.1 226.0,428.9 227.0,429.6 228.0,430.2 229.0,430.9 230.0,431.4 231.0,432.0 232.0,432.5 233.0,432.9 234.0,433.3 235.0,433.7 236.0,434.0 237.0,434.4 238.0,434.7 239.0,434.9 240.0,435.2 241.0,435.4 242.0,435.6 243.0,435.8 244.0,435.9 245.0,436.1 246.0,436.2 247.0,436.3 248.0,436.4 249.0,436.5 250.0,436.6 251.0,436.7 252.0,436.7 253.0,436.8 254.0,436.8 255.0,436.9 256.0,436.9 257.0,437.0 258.0,437.0" fill="none" stroke="#ff0000" stroke-width="1.0" stroke-linejoin="round" stroke-linecap="round" />
<polyline points="212.0,435.0 213.0,435.1 214.0,435.2 215.0,435.2 216.0,435.3 217.0,435.4 218.0,435.4 219.0,435.5 220.0,435.6 221.0,435.6 222.0,435.7 223.0,435.7 224.0,435.8 225.0,435.8 226.0,435.9 227.0,435.9 228.0,435.9 229.0,436.0 230.0,436.0 231.0,436.0 232.0,436.1 233.0,436.1 234.0,436.1 235.0,436.1 236.0,436.2 237.0,436.2 238.0,436.2 239.0,436.2 240.0,436.2 241.0,436.2 242.0,436.2 243.0,436.2 244.0,436.2 245.0,436.2 246.0,436.2 247.0,436.2 248.0,436.1 249.0,436.1 250.0,436.1 251.0,436.0 252.0,436.0 253.0,435.9 254.0,435.8 255.0,435.7 256.0,435.6 257.0,435.4 258.0,435.3 259.0,435.1 260.0,434.8 261.0,434.6 262.0,434.2 263.0,433.9 264.0,433.4 265.0,432.9 266.0,432.2 267.0,431.5 268.0,430.7 269.0,429.7 270.0,428.6 271.0,427.3 272.0,425.8 273.0,424.2 274.0,422.3 275.0,420.2 276.0,417.9 277.0,415.3 278.0,412.4 279.0,409.2 280.0,405.8 281.0,402.1 282.0,398.1 283.0,393.8 284.0,389.2 285.0,384.4 286.0,379.3 287.0,374.0 288.0,368.6 289.0,363.0 290.0,357.3 291.0,351.5 292.0,345.8 293.0,340.1 294.0,334.5 295.0,329.1 296.0,324.0 297.0,319.2 298.0,314.9 299.0,310.9 300.0,307.5 301.0,304.7 302.0,302.5 303.0,301.0 304.0,300.1 305.0,300.1 306.0,300.7 307.0,302.0 308.0,304.1 309.0,306.8 310.0,310.2 311.0,314.1 312.0,318.5 313.0,323.4 314.0,328.7 315.0,334.3 316.0,340.1 317.0,346.1 318.0,352.2 319.0,358.4 320.0,364.5 321.0,370.6 322.0,376.5 323.0,382.3 324.0,387.9 325.0,393.2 326.0,398.3 327.0,403.1 328.0,407.6 329.0,411.8 330.0,415.7 331.0,419.3 332.0,422.6 333.0,425.6 334.0,428.4 335.0,430.8 336.0,433.0 337.0,435.0 338.0,436.7 339.0,438.2 340.0,439.6 341.0,440.7 342.0,441.8 343.0,442.7 344.0,443.4 345.0,444.1 346.0,444.6 347.0,445.1 348.0,445.5 349.0,445.9 350.0,446.2 351.0,446.4 352.0,446.7 353.0,446.8 354.0,447.0 355.0,447.1 356.0,447.3 357.0,447.4 358.0,447.4 359.0,447.5 360.0,447.6 361.0,447.6 362.0,447.7 363.0,447.7 364.0,447.8 365.0,447.8 366.0,447.9 367.0,447.9 368.0,447.9 369.0,448.0 370.0,448.0 371.0,448.0 372.0,448.0 373.0,448.1 374.0,448.1 375.0,448.1 376.0,448.1 377.0,448.2 378.0,448.2 379.0,448.2 380.0,448.2 381.0,448.2 382.0,448.2 383.0,448.3 384.0,448.3 385.0,448.3 386.0,448.3 387.0,448.3 388.0,448.3 389.0,448.3 390.0,448.4 391.0,448.4 392.0,448.4 393.0,448.4 394.0,448.4 395.0,448.4 396.0,448.4 397.0,448.4 398.0,448.4" fill="none" stroke="#ff0000" stroke-width="2.4" stroke-linejoin="round" stroke-linecap="round" />
<polyline points="200.0,434.0 201.0,434.0 202.0,434.1 203.0,434.1 204.0,434.2 205.0,434.2 206.0,434.2 207.0,434.3 208.0,434.3 209.0,434.3 210.0,434.3 211.0,434.3 212.0,434.4 213.0,434.4 214.0,434.4 215.0,434.4 216.0,434.3 217.0,434.3 218.0,434.3 219.0,434.3 220.0,434.3 221.0,434.2 222.0,434.2 223.0,434.2 224.0,434.1 225.0,434.1 226.0,434.1 227.0,434.0 228.0,434.0 229.0,433.9 230.0,433.9 231.0,433.8 232.0,433.8 233.0,433.7 234.0,433.7 235.0,433.6 236.0,433.6 237.0,433.6 238.0,433.5 239.0,433.5 240.0,433.5 241.0,433.4 242.0,433.4 243.0,433.4 244.0,433.4 245.0,433.3 246.0,433.3 247.0,433.3 248.0,433.3 249.0,433.4 250.0,433.4 251.0,433.4 252.0,433.4 253.0,433.4 254.0,433.5 255.0,433.5 256.0,433.6 257.0,433.6 258.0,433.7 259.0,433.8 260.0,433.8 261.0,433.9 262.0,434.0 263.0,434.1 264.0,434.2 265.0,434.3 266.0,434.4 267.0,434.5 268.0,434.6 269.0,434.7 270.0,434.8 271.0,434.9 272.0,435.0 273.0,435.2 274.0,435.3 275.0,435.4 276.0,435.6 277.0,435.7 278.0,435.9 279.0,436.0 280.0,436.2 281.0,436.4 282.0,436.5 283.0,436.7 284.0,436.9 285.0,437.2 286.0,437.4 287.0,437.6 288.0,437.9 289.0,438.1 290.0,438.4 291.0,438.7 292.0,439.0 293.0,439.3 294.0,439.6 295.0,439.9 296.0,440.3 297.0,440.7 298.0,441.0 299.0,441.4 300.0,441.8" fill="none" stroke="#0000ff" stroke-width="0.9" stroke-linejoin="round" stroke-linecap="round" />
<polyline points="311.0,445.4 312.0,445.6 313.0,445.7 314.0,445.8 315.0,445.8 316.0,445.8 317.0,445.8 318.0,445.7 319.0,445.5 320.0,445.3 321.0,445.1 322.0,444.7 323.0,444.3 324.0,443.9 325.0,443.4 326.0,442.8 327.0,442.2 328.0,441.5 329.0,440.8 330.0,440.0 331.0,439.2 332.0,438.4 333.0,437.6 334.0,436.9 335.0,436.1 336.0,435.3 337.0,434.7 338.0,434.0 339.0,433.4 340.0,432.9 341.0,432.5 342.0,432.2 343.0,432.0 344.0,431.9 345.0,431.9 346.0,432.0 347.0,432.2 348.0,432.6 349.0,433.0 350.0,433.5 351.0,434.0 352.0,434.7 353.0,435.4 354.0,436.2 355.0,437.0 356.0,437.8 357.0,438.6 358.0,439.4 359.0,440.2 360.0,441.0 361.0,441.8 362.0,442.5 363.0,443.2 364.0,443.9 365.0,444.5 366.0,445.0 367.0,445.5 368.0,446.0 369.0,446.4 370.0,446.8 371.0,447.1 372.0,447.4 373.0,447.6 374.0,447.9 375.0,448.0 376.0,448.2 377.0,448.3 378.0,448.4" fill="none" stroke="#0000ff" stroke-width="2.6" stroke-linejoin="round" stroke-linecap="round" />
<polyline points="344.0,448.4 345.0,448.4 346.0,448.3 347.0,448.2 348.0,448.2 349.0,448.1 350.0,448.0 351.0,447.9 352.0,447.9 353.0,447.8 354.0,447.7 355.0,447.6 356.0,447.5 357.0,447.4 358.0,447.4 359.0,447.3 360.0,447.2 361.0,447.1 362.0,447.1 363.0,447.0 364.0,447.0 365.0,446.9 366.0,446.9 367.0,446.9 368.0,446.9 369.0,446.9 370.0,446.9 371.0,446.9 372.0,447.0 373.0,447.0 374.0,447.1 375.0,447.1 376.0,447.2 377.0,447.3 378.0,447.4 379.0,447.4 380.0,447.5 381.0,447.6 382.0,447.7 383.0,447.8 384.0,447.9 385.0,447.9 386.0,448.0 387.0,448.1 388.0,448.2 389.0,448.3 390.0,448.3 391.0,448.4 392.0,448.4" fill="none" stroke="#008000" stroke-width="2.6" stroke-linejoin="round" stroke-linecap="round" />
<polyline points="108.0,431.3 109.0,431.3 110.0,431.3 111.0,431.3 112.0,431.3 113.0,431.3 114.0,431.3 115.0,431.3 116.0,431.3 117.0,431.3 118.0,431.3 119.0,431.3 120.0,431.3 121.0,431.3 122.0,431.3 123.0,431.3 124.0,431.3 125.0,431.3 126.0,431.3 127.0,431.3 128.0,431.3 129.0,431.3 130.0,431.3 131.0,431.3 132.0,431.3 133.0,431.4 134.0,431.4 135.0,431.4 136.0,431.4 137.0,431.4 138.0,431.4 139.0,431.4 140.0,431.4 141.0,431.4 142.0,431.4 143.0,431.4 144.0,431.4 145.0,431.5 146.0,431.5 147.0,431.5 148.0,431.5 149.0,431.5 150.0,431.5 151.0,431.6 152.0,431.6 153.0,431.6 154.0,431.6 155.0,431.6 156.0,431.7 157.0,431.7 158.0,431.7 159.0,431.8 160.0,431.8 161.0,431.8 162.0,431.9 163.0,431.9 164.0,431.9 165.0,432.0 166.0,432.0 167.0,432.1 168.0,432.1 169.0,432.1 170.0,432.2 171.0,432.2 172.0,432.3 173.0,432.4 174.0,432.4 175.0,432.5 176.0,432.5 177.0,432.6 178.0,432.7 179.0,432.7 180.0,432.8 181.0,432.9 182.0,432.9 183.0,433.0 184.0,433.1 185.0,433.2 186.0,433.2 187.0,433.3 188.0,433.4 189.0,433.5 190.0,433.6 191.0,433.7 192.0,433.7 193.0,433.8 194.0,433.9 195.0,434.0 196.0,434.1 197.0,434.2 198.0,434.3 199.0,434.4 200.0,434.4 201.0,434.5 202.0,434.6 203.0,434.7 204.0,434.8 205.0,434.9 206.0,435.0 207.0,435.1 208.0,435.2 209.0,435.2 210.0,435.3 211.0,435.4 212.0,435.5 213.0,435.6 214.0,435.7 215.0,435.7 216.0,435.8 217.0,435.9 218.0,436.0 219.0,436.0 220.0,436.1 221.0,436.2 222.0,436.2 223.0,436.3 224.0,436.4 225.0,436.4 226.0,436.5 227.0,436.5 228.0,436.6 229.0,436.7 230.0,436.7 231.0,436.8 232.0,436.8 233.0,436.8 234.0,436.9 235.0,436.9 236.0,437.0 237.0,437.0 238.0,437.0 239.0,437.1 240.0,437.1 241.0,437.1 242.0,437.2 243.0,437.2 244.0,437.2 245.0,437.3 246.0,437.3 247.0,437.3 248.0,437.3 249.0,437.3 250.0,437.4 251.0,437.4 252.0,437.4 253.0,437.4 254.0,437.4 255.0,437.4 256.0,437.5 257.0,437.5 258.0,437.5 259.0,437.5 260.0,437.5 261.0,437.5 262.0,437.5 263.0,437.5 264.0,437.5 265.0,437.6 266.0,437.6 267.0,437.6 268.0,437.6 269.0,437.6 270.0,437.6 271.0,437.6 272.0,437.7 273.0,437.7 274.0,437.7 275.0,437.8 276.0,437.8 277.0,437.8 278.0,437.9 279.0,438.0 280.0,438.0 281.0,438.1 282.0,438.2 283.0,438.3 284.0,438.4 285.0,438.5 286.0,438.7 287.0,438.8 288.0,439.0 289.0,439.2 290.0,439.4 291.0,439.6 292.0,439.8 293.0,440.1 294.0,440.4 295.0,440.6 296.0,440.9 297.0,441.2 298.0,441.6 299.0,441.9 300.0,442.2 301.0,442.6 302.0,442.9 303.0,443.2 304.0,443.6 305.0,443.9 306.0,444.3 307.0,444.6 308.0,444.9 309.0,445.3 310.0,445.6 311.0,445.9 312.0,446.1 313.0,446.4 314.0,446.7 315.0,446.9 316.0,447.1 317.0,447.3 318.0,447.5 319.0,447.7 320.0,447.8 321.0,448.0 322.0,448.1 323.0,448.2 324.0,448.3 325.0,448.4 326.0,448.5 327.0,448.5 328.0,448.6 329.0,448.6 330.0,448.7 331.0,448.7 332.0,448.8 333.0,448.8 334.0,448.8 335.0,448.8 336.0,448.8 337.0,448.8 338.0,448.9 339.0,448.9 340.0,448.9 341.0,448.9 342.0,448.9 343.0,448.9 344.0,448.9 345.0,448.9 346.0,448.9 347.0,448.9 348.0,448.9 349.0,448.9 350.0,448.9 351.0,448.9 352.0,448.9 353.0,448.9 354.0,448.9 355.0,448.9 356.0,448.9 357.0,448.9 358.0,448.9 359.0,448.9 360.0,448.9 361.0,448.9 362.0,448.9 363.0,448.9 364.0,448.9 365.0,448.9 366.0,448.9 367.0,448.9 368.0,448.9 369.0,448.9 370.0,448.9 371.0,448.9 372.0,448.9 373.0,448.9 374.0,448.9 375.0,448.9 376.0,448.9 377.0,448.9 378.0,448.9 379.0,448.9 380.0,448.9 381.0,448.9 382.0,448.9 383.0,448.9 384.0,448.9 385.0,448.9 386.0,448.9 387.0,448.9 388.0,448.9 389.0,448.9 390.0,448.9 391.0,448.9 392.0,448.9 393.0,448.9 394.0,448.9 395.0,448.9 396.0,448.9 397.0,448.9 398.0,448.9 399.0,448.9 400.0,448.9 401.0,448.9 402.0,448.9 403.0,448.9 404.0,448.9 405.0,448.9 406.0,448.9 407.0,448.9 408.0,448.9 409.0,448.9 410.0,448.9 411.0,448.9 412.0,448.9 413.0,448.9 414.0,448.9 415.0,448.9 416.0,448.9 417.0,448.9 418.0,448.9 419.0,448.9 420.0,448.9 421.0,448.9 422.0,448.9 423.0,448.9 424.0,448.9 425.0,448.9 426.0,448.9" fill="none" stroke="#000" stroke-width="2.6" stroke-linejoin="round" stroke-linecap="round" />
<polyline points="108.0,430.9 109.0,430.9 110.0,430.9 111.0,430.8 112.0,430.8 113.0,430.8 114.0,430.8 115.0,430.8 116.0,430.7 117.0,430.7 118.0,430.7 119.0,430.7 120.0,430.6 121.0,430.6 122.0,430.5 123.0,430.5 124.0,430.4 125.0,430.4 126.0,430.3 127.0,430.2 128.0,430.1 129.0,430.0 130.0,429.9 131.0,429.8 132.0,429.7 133.0,429.5 134.0,429.3 135.0,429.1 136.0,428.9 137.0,428.7 138.0,428.4 139.0,428.1 140.0,427.8 141.0,427.5 142.0,427.1 143.0,426.7 144.0,426.2 145.0,425.7 146.0,425.2 147.0,424.6 148.0,424.0 149.0,423.3 150.0,422.6 151.0,421.8 152.0,421.0 153.0,420.1 154.0,419.2 155.0,418.3 156.0,417.2 157.0,416.2 158.0,415.1 159.0,413.9 160.0,412.7 161.0,411.5 162.0,410.3 163.0,409.0 164.0,407.6 165.0,406.3 166.0,404.9 167.0,403.6 168.0,402.2 169.0,400.8 170.0,399.5 171.0,398.2 172.0,396.8 173.0,395.6 174.0,394.3 175.0,393.2 176.0,392.0 177.0,391.0 178.0,390.0 179.0,389.1 180.0,388.3 181.0,387.6 182.0,387.0 183.0,386.5 184.0,386.1 185.0,385.9 186.0,385.7 187.0,385.7 188.0,385.8 189.0,386.0 190.0,386.4 191.0,386.8 192.0,387.4 193.0,388.1 194.0,388.8 195.0,389.7 196.0,390.7 197.0,391.8 198.0,392.9 199.0,394.1 200.0,395.3 201.0,396.6 202.0,398.0 203.0,399.4 204.0,400.8 205.0,402.2 206.0,403.6 207.0,405.0 208.0,406.5 209.0,407.9 210.0,409.3 211.0,410.6 212.0,412.0 213.0,413.3 214.0,414.5 215.0,415.8 216.0,416.9 217.0,418.1 218.0,419.1 219.0,420.2 220.0,421.1 221.0,422.0 222.0,422.9 223.0,423.7 224.0,424.5 225.0,425.2 226.0,425.8 227.0,426.4 228.0,427.0 229.0,427.5 230.0,427.9 231.0,428.3 232.0,428.7 233.0,429.0 234.0,429.4 235.0,429.6 236.0,429.9 237.0,430.1 238.0,430.3 239.0,430.4 240.0,430.6 241.0,430.7 242.0,430.8 243.0,430.9 244.0,431.0 245.0,431.1 246.0,431.1 247.0,431.2 248.0,431.2 249.0,431.3 250.0,431.3 251.0,431.3 252.0,431.3 253.0,431.3 254.0,431.3 255.0,431.2 256.0,431.2 257.0,431.1 258.0,431.0 259.0,430.9 260.0,430.8 261.0,430.6 262.0,430.3 263.0,430.0 264.0,429.7 265.0,429.2 266.0,428.7 267.0,428.1 268.0,427.3 269.0,426.5 270.0,425.4 271.0,424.3 272.0,422.9 273.0,421.4 274.0,419.6 275.0,417.6 276.0,415.4 277.0,412.9 278.0,410.1 279.0,407.1 280.0,403.7 281.0,400.1 282.0,396.2 283.0,392.0 284.0,387.5 285.0,382.8 286.0,377.8 287.0,372.6 288.0,367.2 289.0,361.7 290.0,356.1 291.0,350.4 292.0,344.7 293.0,339.1 294.0,333.6 295.0,328.3 296.0,323.2 297.0,318.5 298.0,314.1 299.0,310.2 300.0,306.9 301.0,304.1 302.0,301.9 303.0,300.4 304.0,299.6 305.0,299.5 306.0,300.1 307.0,301.5 308.0,303.5 309.0,306.2 310.0,309.5 311.0,313.3 312.0,317.7 313.0,322.5 314.0,327.6 315.0,333.0 316.0,338.6 317.0,344.4 318.0,350.2 319.0,356.1 320.0,361.8 321.0,367.5 322.0,373.0 323.0,378.2 324.0,383.3 325.0,388.0 326.0,392.5 327.0,396.6 328.0,400.3 329.0,403.8 330.0,406.9 331.0,409.7 332.0,412.1 333.0,414.3 334.0,416.2 335.0,417.8 336.0,419.3 337.0,420.5 338.0,421.5 339.0,422.5 340.0,423.3 341.0,424.0 342.0,424.7 343.0,425.3 344.0,425.9 345.0,426.5 346.0,427.1 347.0,427.7 348.0,428.4 349.0,429.1 350.0,429.8 351.0,430.6 352.0,431.3 353.0,432.2 354.0,433.0 355.0,433.8 356.0,434.7 357.0,435.5 358.0,436.3 359.0,437.1 360.0,437.9 361.0,438.7 362.0,439.4 363.0,440.1 364.0,440.8 365.0,441.4 366.0,441.9 367.0,442.5 368.0,443.0 369.0,443.4 370.0,443.8 371.0,444.2 372.0,444.5 373.0,444.9 374.0,445.2 375.0,445.4 376.0,445.7 377.0,445.9 378.0,446.1 379.0,446.3 380.0,446.5 381.0,446.6 382.0,446.8 383.0,446.9 384.0,447.1 385.0,447.2 386.0,447.3 387.0,447.4 388.0,447.5 389.0,447.6 390.0,447.7 391.0,447.8 392.0,447.9 393.0,447.9 394.0,448.0 395.0,448.0 396.0,448.1 397.0,448.1 398.0,448.2 399.0,448.2 400.0,448.3 401.0,448.3 402.0,448.3 403.0,448.4 404.0,448.4 405.0,448.4 406.0,448.4 407.0,448.4 408.0,448.4 409.0,448.5 410.0,448.5 411.0,448.5 412.0,448.5 413.0,448.5 414.0,448.5 415.0,448.5 416.0,448.5 417.0,448.5 418.0,448.5 419.0,448.6 420.0,448.6 421.0,448.6 422.0,448.6 423.0,448.6 424.0,448.6 425.0,448.6 426.0,448.6" fill="none" stroke="#000" stroke-width="2.9" stroke-linejoin="round" stroke-linecap="round" />
<path d="M126.3 471.0L126.3 466.7 M178.3 471.0L178.3 462.5 M230.3 471.0L230.3 466.7 M282.3 471.0L282.3 462.5 M334.3 471.0L334.3 466.7 M386.3 471.0L386.3 462.5 M438.3 471.0L438.3 466.7 M126.3 273.6L126.3 277.9 M178.3 273.6L178.3 282.1 M230.3 273.6L230.3 277.9 M282.3 273.6L282.3 282.1 M334.3 273.6L334.3 277.9 M386.3 273.6L386.3 282.1 M438.3 273.6L438.3 277.9 M74.3 293.1L78.6 293.1 M490.2 293.1L485.9 293.1 M74.3 312.9L82.8 312.9 M490.2 312.9L481.7 312.9 M74.3 332.8L78.6 332.8 M490.2 332.8L485.9 332.8 M74.3 352.7L82.8 352.7 M490.2 352.7L481.7 352.7 M74.3 372.3L78.6 372.3 M490.2 372.3L485.9 372.3 M74.3 391.9L82.8 391.9 M490.2 391.9L481.7 391.9 M74.3 411.9L78.6 411.9 M490.2 411.9L485.9 411.9 M74.3 431.8L82.8 431.8 M490.2 431.8L481.7 431.8 M74.3 451.2L78.6 451.2 M490.2 451.2L485.9 451.2" stroke="#000" stroke-width="1.6" fill="none"/>
<rect x="74.3" y="273.6" width="415.9" height="197.4" fill="none" stroke="#000" stroke-width="1.6"/>
<polyline points="75.0,633.9 76.0,635.3 77.0,634.8 78.0,635.4 79.0,636.3 80.0,635.8 81.0,636.6 82.0,636.4 83.0,637.1 84.0,635.3 85.0,635.7 86.0,635.5 87.0,637.1 88.0,636.6 89.0,637.7 90.0,637.4 91.0,637.5 92.0,639.2 93.0,638.2 94.0,637.9 95.0,637.3 96.0,639.2 97.0,639.2 98.0,637.7 99.0,638.7 100.0,639.2 101.0,637.8 102.0,639.1 103.0,640.6 104.0,638.4 105.0,640.3 106.0,641.5 107.0,639.7 108.0,640.2 109.0,640.5 110.0,640.6 111.0,640.6 112.0,639.6 113.0,640.0 114.0,640.4 115.0,640.2 116.0,640.8 117.0,640.1 118.0,640.1 119.0,641.1 120.0,640.2 121.0,639.7 122.0,640.2 123.0,640.0 124.0,640.4 125.0,640.2 126.0,639.8 127.0,639.7 128.0,639.6 129.0,640.4 130.0,640.6 131.0,639.6 132.0,639.7 133.0,639.5 134.0,639.0 135.0,638.8 136.0,638.6 137.0,637.8 138.0,638.1 139.0,638.4 140.0,638.4 141.0,637.5 142.0,637.1 143.0,637.2 144.0,637.5 145.0,635.6 146.0,635.1 147.0,634.8 148.0,634.6 149.0,633.3 150.0,633.2 151.0,631.9 152.0,631.7 153.0,630.4 154.0,629.5 155.0,629.1 156.0,627.1 157.0,626.2 158.0,625.7 159.0,624.5 160.0,623.0 161.0,620.6 162.0,620.6 163.0,619.0 164.0,617.2 165.0,615.0 166.0,614.8 167.0,613.7 168.0,611.6 169.0,610.5 170.0,608.0 171.0,606.9 172.0,605.0 173.0,603.3 174.0,602.3 175.0,600.7 176.0,599.5 177.0,598.2 178.0,597.3 179.0,596.3 180.0,595.5 181.0,594.1 182.0,594.1 183.0,592.5 184.0,592.9 185.0,592.6 186.0,591.3 187.0,592.2 188.0,593.0 189.0,593.0 190.0,592.9 191.0,593.5 192.0,594.5 193.0,595.3 194.0,596.5 195.0,597.2 196.0,598.7 197.0,599.7 198.0,600.5 199.0,601.7 200.0,603.4 201.0,605.4 202.0,606.3 203.0,608.7 204.0,609.1 205.0,611.4 206.0,612.6 207.0,614.8 208.0,616.3 209.0,617.8 210.0,618.8 211.0,620.4 212.0,622.0 213.0,624.2 214.0,624.8 215.0,626.6 216.0,628.0 217.0,628.4 218.0,629.6 219.0,629.9 220.0,631.7 221.0,633.2 222.0,633.2 223.0,634.7 224.0,635.6 225.0,636.1 226.0,636.3 227.0,637.2 228.0,637.3 229.0,637.9 230.0,639.6 231.0,638.6 232.0,638.9 233.0,639.6 234.0,639.9 235.0,640.4 236.0,639.9 237.0,639.9 238.0,640.1 239.0,641.1 240.0,641.4 241.0,640.7 242.0,640.9 243.0,641.2 244.0,640.9 245.0,641.2 246.0,642.0 247.0,641.0 248.0,641.8 249.0,642.3 250.0,641.3 251.0,642.4 252.0,641.9 253.0,641.7 254.0,642.5 255.0,642.1 256.0,642.0 257.0,641.9 258.0,641.8 259.0,641.9 260.0,642.1 261.0,642.5 262.0,641.9 263.0,642.1 264.0,641.6 265.0,641.8 266.0,641.2 267.0,641.5 268.0,640.6 269.0,639.1 270.0,639.1 271.0,638.2 272.0,637.9 273.0,636.3 274.0,635.3 275.0,633.7 276.0,631.2 277.0,629.4 278.0,627.2 279.0,624.0 280.0,623.2 281.0,618.6 282.0,614.2 283.0,610.2 284.0,606.6 285.0,601.7 286.0,596.2 287.0,590.9 288.0,586.2 289.0,580.2 290.0,574.6 291.0,568.2 292.0,562.5 293.0,554.7 294.0,549.6 295.0,542.7 296.0,536.5 297.0,531.6 298.0,524.8 299.0,520.6 300.0,515.9 301.0,512.6 302.0,508.0 303.0,506.2 304.0,504.5 305.0,503.2 306.0,503.1 307.0,503.6 308.0,504.5 309.0,507.2 310.0,509.6 311.0,514.8 312.0,519.3 313.0,523.2 314.0,530.0 315.0,535.3 316.0,540.9 317.0,547.8 318.0,555.1 319.0,561.5 320.0,567.7 321.0,575.2 322.0,581.2 323.0,587.4 324.0,593.0 325.0,599.6 326.0,605.2 327.0,609.3 328.0,614.4 329.0,618.7 330.0,622.8 331.0,625.8 332.0,630.4 333.0,632.4 334.0,635.2 335.0,636.8 336.0,639.8 337.0,640.6 338.0,640.9 339.0,643.4 340.0,643.8 341.0,644.1 342.0,645.3 343.0,645.5 344.0,646.7 345.0,647.1 346.0,646.5 347.0,647.8 348.0,648.3 349.0,647.0 350.0,649.1 351.0,649.2 352.0,649.6 353.0,650.3 354.0,650.0 355.0,650.1 356.0,651.1 357.0,651.4 358.0,652.2 359.0,651.4 360.0,652.8 361.0,654.8 362.0,654.3 363.0,655.1 364.0,655.3 365.0,655.5 366.0,656.5 367.0,657.0 368.0,656.9 369.0,657.4 370.0,658.2 371.0,657.9 372.0,658.2 373.0,659.5 374.0,659.8 375.0,659.4 376.0,660.5 377.0,660.3 378.0,660.3 379.0,660.1 380.0,660.8 381.0,660.3 382.0,660.7 383.0,660.5 384.0,661.5 385.0,661.0 386.0,661.0 387.0,661.4 388.0,662.3 389.0,661.7 390.0,660.5 391.0,661.3 392.0,661.3 393.0,661.0 394.0,660.9 395.0,662.2 396.0,661.7 397.0,661.8 398.0,661.6 399.0,661.8 400.0,661.7 401.0,661.5 402.0,661.4 403.0,661.0 404.0,661.1 405.0,661.4 406.0,661.1 407.0,661.6 408.0,661.1 409.0,661.9 410.0,660.8 411.0,661.7 412.0,662.1 413.0,661.9 414.0,661.2 415.0,662.7 416.0,661.7 417.0,662.0 418.0,661.7 419.0,660.4 420.0,662.3 421.0,662.2 422.0,662.5 423.0,661.2 424.0,662.6 425.0,661.5 426.0,661.1 427.0,661.3 428.0,662.3 429.0,661.8 430.0,663.4 431.0,662.9 432.0,663.2 433.0,662.2 434.0,661.5 435.0,661.1 436.0,662.3 437.0,663.5 438.0,663.5 439.0,661.3 440.0,662.8 441.0,663.2 442.0,661.9 443.0,662.7 444.0,662.2 445.0,662.9 446.0,663.0 447.0,662.6 448.0,662.8 449.0,662.4 450.0,663.1 451.0,660.5 452.0,663.5 453.0,664.0 454.0,662.1 455.0,663.1 456.0,663.7 457.0,662.7 458.0,662.8 459.0,663.3 460.0,664.0 461.0,662.4 462.0,663.7 463.0,664.0 464.0,662.5 465.0,663.7 466.0,664.8 467.0,663.7 468.0,663.6 469.0,664.9 470.0,663.4 471.0,663.7 472.0,665.0 473.0,665.3 474.0,663.1 475.0,663.9 476.0,664.4 477.0,665.1 478.0,664.5 479.0,663.7 480.0,664.8 481.0,662.5 482.0,664.4 483.0,664.9 484.0,665.3 485.0,664.8 486.0,663.3 487.0,665.2" fill="none" stroke="#000" stroke-width="2.2" stroke-linejoin="round" stroke-linecap="round" />
<polyline points="113.0,640.3 114.0,640.3 115.0,640.3 116.0,640.3 117.0,640.3 118.0,640.3 119.0,640.2 120.0,640.2 121.0,640.2 122.0,640.2 123.0,640.1 124.0,640.1 125.0,640.0 126.0,640.0 127.0,639.9 128.0,639.9 129.0,639.8 130.0,639.7 131.0,639.6 132.0,639.5 133.0,639.4 134.0,639.2 135.0,639.1 136.0,638.9 137.0,638.7 138.0,638.4 139.0,638.2 140.0,637.9 141.0,637.6 142.0,637.3 143.0,636.9 144.0,636.5 145.0,636.0 146.0,635.5 147.0,635.0 148.0,634.4 149.0,633.7 150.0,633.0 151.0,632.3 152.0,631.5 153.0,630.6 154.0,629.7 155.0,628.7 156.0,627.7 157.0,626.6 158.0,625.4 159.0,624.2 160.0,622.9 161.0,621.6 162.0,620.3 163.0,618.8 164.0,617.4 165.0,615.9 166.0,614.4 167.0,612.9 168.0,611.4 169.0,609.9 170.0,608.3 171.0,606.8 172.0,605.3 173.0,603.9 174.0,602.5 175.0,601.1 176.0,599.8 177.0,598.6 178.0,597.5 179.0,596.5 180.0,595.5 181.0,594.7 182.0,594.0 183.0,593.4 184.0,593.0 185.0,592.7 186.0,592.5 187.0,592.5 188.0,592.7 189.0,593.0 190.0,593.4 191.0,593.9 192.0,594.6 193.0,595.5 194.0,596.4 195.0,597.5 196.0,598.7 197.0,599.9 198.0,601.3 199.0,602.7 200.0,604.2 201.0,605.8 202.0,607.4 203.0,609.0 204.0,610.7 205.0,612.3 206.0,614.0 207.0,615.7 208.0,617.4 209.0,619.0 210.0,620.6 211.0,622.2 212.0,623.8 213.0,625.3 214.0,626.7 215.0,628.1 216.0,629.5 217.0,630.8 218.0,632.0 219.0,633.2 220.0,634.3 221.0,635.3 222.0,636.3 223.0,637.2 224.0,638.1 225.0,638.9 226.0,639.6 227.0,640.3 228.0,640.9 229.0,641.5 230.0,642.1 231.0,642.5 232.0,643.0 233.0,643.4 234.0,643.8 235.0,644.1 236.0,644.4 237.0,644.7 238.0,644.9 239.0,645.1 240.0,645.3 241.0,645.5 242.0,645.6 243.0,645.7 244.0,645.8 245.0,645.9 246.0,646.0 247.0,646.1 248.0,646.1 249.0,646.2 250.0,646.2 251.0,646.2 252.0,646.2 253.0,646.2 254.0,646.2 255.0,646.2 256.0,646.1 257.0,646.1 258.0,646.0 259.0,645.9 260.0,645.7 261.0,645.6 262.0,645.4 263.0,645.1 264.0,644.9 265.0,644.5 266.0,644.1 267.0,643.6 268.0,643.0 269.0,642.4 270.0,641.6 271.0,640.6 272.0,639.5 273.0,638.3 274.0,636.8 275.0,635.1 276.0,633.2 277.0,631.1 278.0,628.6 279.0,625.9 280.0,622.9 281.0,619.5 282.0,615.9 283.0,611.8 284.0,607.5 285.0,602.8 286.0,597.8 287.0,592.5 288.0,586.9 289.0,581.0 290.0,574.9 291.0,568.7 292.0,562.4 293.0,556.0 294.0,549.7 295.0,543.4 296.0,537.3 297.0,531.4 298.0,525.9 299.0,520.8 300.0,516.2 301.0,512.2 302.0,508.9 303.0,506.3 304.0,504.4 305.0,503.4 306.0,503.2 307.0,503.8 308.0,505.3 309.0,507.7 310.0,510.8 311.0,514.6 312.0,519.2 313.0,524.2 314.0,529.9 315.0,535.9 316.0,542.2 317.0,548.9 318.0,555.6 319.0,562.5 320.0,569.4 321.0,576.2 322.0,582.9 323.0,589.4 324.0,595.7 325.0,601.8 326.0,607.5 327.0,612.9 328.0,617.9 329.0,622.6 330.0,627.0 331.0,631.0 332.0,634.6 333.0,637.9 334.0,640.8 335.0,643.5 336.0,645.8 337.0,647.9 338.0,649.7 339.0,651.3 340.0,652.7 341.0,653.9 342.0,654.9 343.0,655.8 344.0,656.6 345.0,657.2 346.0,657.8 347.0,658.2 348.0,658.6 349.0,659.0 350.0,659.2 351.0,659.5 352.0,659.7 353.0,659.9 354.0,660.0 355.0,660.1 356.0,660.2 357.0,660.3 358.0,660.4 359.0,660.5 360.0,660.5 361.0,660.6 362.0,660.6 363.0,660.7 364.0,660.7 365.0,660.8 366.0,660.8 367.0,660.8 368.0,660.9 369.0,660.9 370.0,660.9 371.0,661.0 372.0,661.0 373.0,661.0 374.0,661.0 375.0,661.1 376.0,661.1 377.0,661.1 378.0,661.1 379.0,661.1 380.0,661.2 381.0,661.2 382.0,661.2 383.0,661.2 384.0,661.2 385.0,661.2 386.0,661.3 387.0,661.3 388.0,661.3 389.0,661.3 390.0,661.3 391.0,661.3 392.0,661.3 393.0,661.3 394.0,661.4 395.0,661.4 396.0,661.4 397.0,661.4 398.0,661.4 399.0,661.4 400.0,661.4 401.0,661.4 402.0,661.4 403.0,661.4" fill="none" stroke="#ff0000" stroke-width="2.0" stroke-linejoin="round" stroke-linecap="round" />
<polyline points="198.0,643.9 199.0,643.9 200.0,644.0 201.0,644.0 202.0,644.1 203.0,644.1 204.0,644.2 205.0,644.2 206.0,644.3 207.0,644.3 208.0,644.3 209.0,644.3 210.0,644.3 211.0,644.3 212.0,644.3 213.0,644.3 214.0,644.3 215.0,644.3 216.0,644.3 217.0,644.3 218.0,644.2 219.0,644.2 220.0,644.2 221.0,644.1 222.0,644.1 223.0,644.0 224.0,644.0 225.0,643.9 226.0,643.9 227.0,643.8 228.0,643.8 229.0,643.7 230.0,643.7 231.0,643.6 232.0,643.6 233.0,643.5 234.0,643.5 235.0,643.4 236.0,643.4 237.0,643.4 238.0,643.4 239.0,643.4 240.0,643.3 241.0,643.3 242.0,643.3 243.0,643.4 244.0,643.4 245.0,643.4 246.0,643.4 247.0,643.5 248.0,643.5 249.0,643.6 250.0,643.6 251.0,643.7 252.0,643.8 253.0,643.9 254.0,644.0 255.0,644.1 256.0,644.2 257.0,644.3 258.0,644.4 259.0,644.5 260.0,644.6 261.0,644.7 262.0,644.9 263.0,645.0 264.0,645.1 265.0,645.3 266.0,645.4 267.0,645.5 268.0,645.7 269.0,645.8 270.0,646.0 271.0,646.1 272.0,646.3 273.0,646.4 274.0,646.6 275.0,646.7 276.0,646.9 277.0,647.0 278.0,647.2 279.0,647.4 280.0,647.5 281.0,647.7 282.0,647.9 283.0,648.1 284.0,648.3 285.0,648.6 286.0,648.8 287.0,649.1 288.0,649.3 289.0,649.6 290.0,649.9 291.0,650.2 292.0,650.5 293.0,650.9 294.0,651.2 295.0,651.6 296.0,652.0 297.0,652.4 298.0,652.8 299.0,653.2 300.0,653.6 301.0,654.1 302.0,654.5 303.0,654.9 304.0,655.3 305.0,655.8 306.0,656.2 307.0,656.6 308.0,656.9 309.0,657.3 310.0,657.6 311.0,658.0 312.0,658.3 313.0,658.5 314.0,658.8 315.0,659.0 316.0,659.1 317.0,659.3 318.0,659.3 319.0,659.4 320.0,659.4 321.0,659.4 322.0,659.3 323.0,659.2 324.0,659.1 325.0,658.9 326.0,658.7 327.0,658.4 328.0,658.1 329.0,657.8 330.0,657.4 331.0,657.0 332.0,656.6 333.0,656.2 334.0,655.7 335.0,655.3 336.0,654.8 337.0,654.3 338.0,653.9 339.0,653.4 340.0,653.0 341.0,652.6 342.0,652.3 343.0,651.9 344.0,651.7 345.0,651.4 346.0,651.3 347.0,651.2 348.0,651.1 349.0,651.1 350.0,651.2 351.0,651.3 352.0,651.5 353.0,651.7 354.0,652.0 355.0,652.3 356.0,652.6 357.0,653.0 358.0,653.5 359.0,653.9 360.0,654.4 361.0,654.9 362.0,655.3 363.0,655.8 364.0,656.3 365.0,656.8 366.0,657.2 367.0,657.7 368.0,658.1 369.0,658.5 370.0,658.9 371.0,659.2 372.0,659.5 373.0,659.8 374.0,660.1 375.0,660.3 376.0,660.5 377.0,660.7 378.0,660.9 379.0,661.1 380.0,661.2 381.0,661.3 382.0,661.4" fill="none" stroke="#0000ff" stroke-width="2.6" stroke-linejoin="round" stroke-linecap="round" />
<polyline points="108.0,640.8 109.0,640.8 110.0,640.8 111.0,640.8 112.0,640.8 113.0,640.8 114.0,640.8 115.0,640.8 116.0,640.8 117.0,640.8 118.0,640.8 119.0,640.8 120.0,640.8 121.0,640.8 122.0,640.8 123.0,640.8 124.0,640.8 125.0,640.8 126.0,640.8 127.0,640.8 128.0,640.8 129.0,640.8 130.0,640.8 131.0,640.9 132.0,640.9 133.0,640.9 134.0,640.9 135.0,640.9 136.0,640.9 137.0,640.9 138.0,640.9 139.0,640.9 140.0,640.9 141.0,640.9 142.0,640.9 143.0,641.0 144.0,641.0 145.0,641.0 146.0,641.0 147.0,641.0 148.0,641.0 149.0,641.1 150.0,641.1 151.0,641.1 152.0,641.1 153.0,641.1 154.0,641.2 155.0,641.2 156.0,641.2 157.0,641.3 158.0,641.3 159.0,641.3 160.0,641.4 161.0,641.4 162.0,641.5 163.0,641.5 164.0,641.5 165.0,641.6 166.0,641.6 167.0,641.7 168.0,641.7 169.0,641.8 170.0,641.9 171.0,641.9 172.0,642.0 173.0,642.1 174.0,642.1 175.0,642.2 176.0,642.3 177.0,642.3 178.0,642.4 179.0,642.5 180.0,642.6 181.0,642.7 182.0,642.8 183.0,642.8 184.0,642.9 185.0,643.0 186.0,643.1 187.0,643.2 188.0,643.3 189.0,643.4 190.0,643.5 191.0,643.6 192.0,643.7 193.0,643.8 194.0,643.9 195.0,644.0 196.0,644.1 197.0,644.2 198.0,644.3 199.0,644.4 200.0,644.5 201.0,644.7 202.0,644.8 203.0,644.9 204.0,645.0 205.0,645.1 206.0,645.2 207.0,645.3 208.0,645.4 209.0,645.5 210.0,645.6 211.0,645.7 212.0,645.8 213.0,645.9 214.0,646.0 215.0,646.1 216.0,646.2 217.0,646.3 218.0,646.3 219.0,646.4 220.0,646.5 221.0,646.6 222.0,646.7 223.0,646.8 224.0,646.8 225.0,646.9 226.0,647.0 227.0,647.0 228.0,647.1 229.0,647.2 230.0,647.2 231.0,647.3 232.0,647.4 233.0,647.4 234.0,647.5 235.0,647.5 236.0,647.6 237.0,647.6 238.0,647.6 239.0,647.7 240.0,647.7 241.0,647.8 242.0,647.8 243.0,647.8 244.0,647.9 245.0,647.9 246.0,647.9 247.0,648.0 248.0,648.0 249.0,648.0 250.0,648.0 251.0,648.0 252.0,648.1 253.0,648.1 254.0,648.1 255.0,648.1 256.0,648.1 257.0,648.1 258.0,648.2 259.0,648.2 260.0,648.2 261.0,648.2 262.0,648.2 263.0,648.2 264.0,648.2 265.0,648.2 266.0,648.3 267.0,648.3 268.0,648.3 269.0,648.3 270.0,648.3 271.0,648.4 272.0,648.4 273.0,648.4 274.0,648.4 275.0,648.5 276.0,648.5 277.0,648.6 278.0,648.7 279.0,648.7 280.0,648.8 281.0,648.9 282.0,649.0 283.0,649.1 284.0,649.3 285.0,649.4 286.0,649.6 287.0,649.8 288.0,650.0 289.0,650.2 290.0,650.5 291.0,650.7 292.0,651.0 293.0,651.3 294.0,651.6 295.0,652.0 296.0,652.3 297.0,652.7 298.0,653.1 299.0,653.5 300.0,653.9 301.0,654.3 302.0,654.7 303.0,655.1 304.0,655.5 305.0,655.9 306.0,656.3 307.0,656.7 308.0,657.1 309.0,657.5 310.0,657.9 311.0,658.2 312.0,658.6 313.0,658.9 314.0,659.2 315.0,659.5 316.0,659.7 317.0,660.0 318.0,660.2 319.0,660.4 320.0,660.6 321.0,660.8 322.0,660.9 323.0,661.1 324.0,661.2 325.0,661.3 326.0,661.4 327.0,661.5 328.0,661.5 329.0,661.6 330.0,661.6 331.0,661.7 332.0,661.7 333.0,661.8 334.0,661.8 335.0,661.8 336.0,661.8 337.0,661.8 338.0,661.9 339.0,661.9 340.0,661.9 341.0,661.9 342.0,661.9 343.0,661.9 344.0,661.9 345.0,661.9 346.0,661.9 347.0,661.9 348.0,661.9 349.0,661.9 350.0,661.9 351.0,661.9 352.0,661.9 353.0,661.9 354.0,661.9 355.0,661.9 356.0,661.9 357.0,661.9 358.0,661.9 359.0,661.9 360.0,661.9 361.0,661.9 362.0,661.9 363.0,661.9 364.0,661.9 365.0,661.9 366.0,661.9 367.0,661.9 368.0,661.9 369.0,661.9 370.0,661.9 371.0,661.9 372.0,661.9 373.0,661.9 374.0,661.9 375.0,661.9 376.0,661.9 377.0,661.9 378.0,661.9 379.0,661.9 380.0,661.9 381.0,661.9 382.0,661.9 383.0,661.9 384.0,661.9 385.0,661.9 386.0,661.9 387.0,661.9 388.0,661.9 389.0,661.9 390.0,661.9 391.0,661.9 392.0,661.9 393.0,661.9 394.0,661.9 395.0,661.9 396.0,661.9 397.0,661.9 398.0,661.9 399.0,661.9 400.0,661.9 401.0,661.9 402.0,661.9 403.0,661.9 404.0,661.9 405.0,661.9 406.0,661.9 407.0,661.9 408.0,661.9 409.0,661.9 410.0,661.9 411.0,661.9 412.0,661.9 413.0,661.9" fill="none" stroke="#000" stroke-width="2.6" stroke-linejoin="round" stroke-linecap="round" />
<polyline points="108.0,640.4 109.0,640.4 110.0,640.4 111.0,640.4 112.0,640.4 113.0,640.3 114.0,640.3 115.0,640.3 116.0,640.3 117.0,640.3 118.0,640.3 119.0,640.2 120.0,640.2 121.0,640.2 122.0,640.2 123.0,640.1 124.0,640.1 125.0,640.0 126.0,640.0 127.0,639.9 128.0,639.9 129.0,639.8 130.0,639.7 131.0,639.6 132.0,639.5 133.0,639.4 134.0,639.2 135.0,639.1 136.0,638.9 137.0,638.7 138.0,638.4 139.0,638.2 140.0,637.9 141.0,637.6 142.0,637.3 143.0,636.9 144.0,636.5 145.0,636.0 146.0,635.5 147.0,635.0 148.0,634.4 149.0,633.7 150.0,633.0 151.0,632.3 152.0,631.5 153.0,630.6 154.0,629.7 155.0,628.7 156.0,627.7 157.0,626.6 158.0,625.4 159.0,624.2 160.0,622.9 161.0,621.6 162.0,620.2 163.0,618.8 164.0,617.4 165.0,615.9 166.0,614.4 167.0,612.9 168.0,611.4 169.0,609.9 170.0,608.3 171.0,606.8 172.0,605.3 173.0,603.9 174.0,602.5 175.0,601.1 176.0,599.8 177.0,598.6 178.0,597.5 179.0,596.4 180.0,595.5 181.0,594.6 182.0,593.9 183.0,593.4 184.0,592.9 185.0,592.6 186.0,592.4 187.0,592.4 188.0,592.5 189.0,592.8 190.0,593.2 191.0,593.7 192.0,594.4 193.0,595.2 194.0,596.1 195.0,597.2 196.0,598.3 197.0,599.5 198.0,600.8 199.0,602.2 200.0,603.7 201.0,605.2 202.0,606.7 203.0,608.3 204.0,609.9 205.0,611.5 206.0,613.1 207.0,614.7 208.0,616.3 209.0,617.8 210.0,619.4 211.0,620.9 212.0,622.3 213.0,623.7 214.0,625.1 215.0,626.4 216.0,627.6 217.0,628.8 218.0,629.9 219.0,630.9 220.0,631.9 221.0,632.8 222.0,633.7 223.0,634.5 224.0,635.2 225.0,635.9 226.0,636.5 227.0,637.1 228.0,637.6 229.0,638.1 230.0,638.5 231.0,638.9 232.0,639.2 233.0,639.5 234.0,639.8 235.0,640.0 236.0,640.2 237.0,640.4 238.0,640.6 239.0,640.8 240.0,640.9 241.0,641.0 242.0,641.1 243.0,641.2 244.0,641.3 245.0,641.4 246.0,641.5 247.0,641.6 248.0,641.7 249.0,641.7 250.0,641.8 251.0,641.9 252.0,641.9 253.0,642.0 254.0,642.1 255.0,642.1 256.0,642.1 257.0,642.2 258.0,642.2 259.0,642.2 260.0,642.2 261.0,642.1 262.0,642.0 263.0,641.9 264.0,641.8 265.0,641.5 266.0,641.3 267.0,640.9 268.0,640.4 269.0,639.9 270.0,639.2 271.0,638.4 272.0,637.4 273.0,636.3 274.0,634.9 275.0,633.4 276.0,631.6 277.0,629.5 278.0,627.2 279.0,624.6 280.0,621.6 281.0,618.4 282.0,614.8 283.0,610.8 284.0,606.5 285.0,601.9 286.0,597.0 287.0,591.7 288.0,586.2 289.0,580.4 290.0,574.4 291.0,568.2 292.0,561.9 293.0,555.6 294.0,549.3 295.0,543.0 296.0,537.0 297.0,531.2 298.0,525.7 299.0,520.6 300.0,516.0 301.0,512.0 302.0,508.7 303.0,506.1 304.0,504.2 305.0,503.2 306.0,503.0 307.0,503.7 308.0,505.2 309.0,507.5 310.0,510.6 311.0,514.4 312.0,518.8 313.0,523.9 314.0,529.4 315.0,535.4 316.0,541.6 317.0,548.1 318.0,554.8 319.0,561.5 320.0,568.2 321.0,574.8 322.0,581.3 323.0,587.6 324.0,593.6 325.0,599.4 326.0,604.8 327.0,609.9 328.0,614.5 329.0,618.8 330.0,622.8 331.0,626.3 332.0,629.5 333.0,632.3 334.0,634.8 335.0,636.9 336.0,638.8 337.0,640.4 338.0,641.7 339.0,642.9 340.0,643.8 341.0,644.6 342.0,645.3 343.0,645.9 344.0,646.4 345.0,646.8 346.0,647.2 347.0,647.5 348.0,647.8 349.0,648.2 350.0,648.5 351.0,648.9 352.0,649.2 353.0,649.6 354.0,650.1 355.0,650.5 356.0,651.0 357.0,651.5 358.0,652.0 359.0,652.5 360.0,653.0 361.0,653.6 362.0,654.1 363.0,654.6 364.0,655.1 365.0,655.7 366.0,656.1 367.0,656.6 368.0,657.1 369.0,657.5 370.0,657.9 371.0,658.3 372.0,658.6 373.0,658.9 374.0,659.2 375.0,659.5 376.0,659.7 377.0,659.9 378.0,660.1 379.0,660.3 380.0,660.4 381.0,660.6 382.0,660.7 383.0,660.8 384.0,660.9 385.0,661.0 386.0,661.0 387.0,661.1 388.0,661.1 389.0,661.2 390.0,661.2 391.0,661.2 392.0,661.3 393.0,661.3 394.0,661.3 395.0,661.3 396.0,661.4 397.0,661.4 398.0,661.4 399.0,661.4 400.0,661.4 401.0,661.4 402.0,661.4 403.0,661.4 404.0,661.5 405.0,661.5 406.0,661.5 407.0,661.5 408.0,661.5 409.0,661.5 410.0,661.5 411.0,661.5 412.0,661.5 413.0,661.5" fill="none" stroke="#000" stroke-width="2.7" stroke-linejoin="round" stroke-linecap="round" />
<path d="M126.3 682.4L126.3 678.1 M178.3 682.4L178.3 673.9 M230.3 682.4L230.3 678.1 M282.3 682.4L282.3 673.9 M334.3 682.4L334.3 678.1 M386.3 682.4L386.3 673.9 M438.3 682.4L438.3 678.1 M126.3 485.0L126.3 489.3 M178.3 485.0L178.3 493.5 M230.3 485.0L230.3 489.3 M282.3 485.0L282.3 493.5 M334.3 485.0L334.3 489.3 M386.3 485.0L386.3 493.5 M438.3 485.0L438.3 489.3 M74.3 523.1L82.8 523.1 M490.2 523.1L481.7 523.1 M74.3 561.1L78.6 561.1 M490.2 561.1L485.9 561.1 M74.3 599.1L82.8 599.1 M490.2 599.1L481.7 599.1 M74.3 637.1L78.6 637.1 M490.2 637.1L485.9 637.1 M74.3 675.0L82.8 675.0 M490.2 675.0L481.7 675.0" stroke="#000" stroke-width="1.6" fill="none"/>
<rect x="74.3" y="485.0" width="415.9" height="197.4" fill="none" stroke="#000" stroke-width="1.6"/>
<polyline points="570.0,208.9 571.0,207.9 572.0,208.1 573.0,208.0 574.0,206.7 575.0,208.3 576.0,207.2 577.0,208.6 578.0,208.1 579.0,209.4 580.0,208.6 581.0,208.8 582.0,208.1 583.0,209.4 584.0,208.9 585.0,209.6 586.0,209.8 587.0,209.9 588.0,209.2 589.0,208.1 590.0,208.7 591.0,210.3 592.0,210.5 593.0,210.8 594.0,209.5 595.0,209.3 596.0,210.8 597.0,210.8 598.0,210.3 599.0,210.4 600.0,209.5 601.0,210.4 602.0,211.6 603.0,210.1 604.0,210.5 605.0,210.8 606.0,210.8 607.0,209.8 608.0,211.0 609.0,210.9 610.0,211.0 611.0,211.0 612.0,211.1 613.0,210.7 614.0,211.8 615.0,210.9 616.0,211.7 617.0,211.6 618.0,211.0 619.0,210.4 620.0,209.9 621.0,210.2 622.0,210.6 623.0,210.8 624.0,210.3 625.0,210.3 626.0,211.6 627.0,210.5 628.0,209.7 629.0,210.4 630.0,209.5 631.0,208.7 632.0,209.7 633.0,209.1 634.0,209.2 635.0,209.7 636.0,208.7 637.0,208.0 638.0,208.8 639.0,206.8 640.0,206.8 641.0,207.5 642.0,207.1 643.0,205.9 644.0,205.1 645.0,205.0 646.0,204.4 647.0,203.7 648.0,202.7 649.0,201.6 650.0,201.1 651.0,200.4 652.0,199.6 653.0,198.5 654.0,197.8 655.0,196.1 656.0,196.2 657.0,195.3 658.0,193.3 659.0,191.9 660.0,191.4 661.0,190.3 662.0,188.7 663.0,188.0 664.0,186.0 665.0,184.5 666.0,184.3 667.0,182.2 668.0,180.9 669.0,178.8 670.0,178.4 671.0,177.0 672.0,176.1 673.0,175.3 674.0,173.9 675.0,172.3 676.0,172.2 677.0,171.0 678.0,170.2 679.0,169.2 680.0,168.6 681.0,167.3 682.0,166.8 683.0,166.8 684.0,166.4 685.0,166.7 686.0,165.0 687.0,166.3 688.0,166.3 689.0,167.4 690.0,167.0 691.0,167.5 692.0,168.3 693.0,169.2 694.0,168.9 695.0,170.0 696.0,171.8 697.0,172.7 698.0,173.6 699.0,175.4 700.0,175.3 701.0,177.3 702.0,178.4 703.0,180.1 704.0,181.0 705.0,182.8 706.0,185.3 707.0,185.9 708.0,187.1 709.0,189.2 710.0,190.2 711.0,192.2 712.0,192.3 713.0,193.6 714.0,194.5 715.0,196.3 716.0,197.1 717.0,199.8 718.0,200.4 719.0,201.7 720.0,202.7 721.0,203.6 722.0,204.5 723.0,204.9 724.0,207.1 725.0,207.1 726.0,208.9 727.0,209.1 728.0,208.9 729.0,210.0 730.0,210.6 731.0,211.1 732.0,211.6 733.0,212.3 734.0,212.5 735.0,212.9 736.0,213.6 737.0,213.9 738.0,214.0 739.0,214.7 740.0,214.6 741.0,215.2 742.0,215.2 743.0,215.9 744.0,214.7 745.0,216.4 746.0,215.6 747.0,216.4 748.0,215.7 749.0,215.9 750.0,216.3 751.0,215.9 752.0,215.9 753.0,216.0 754.0,216.7 755.0,215.3 756.0,215.9 757.0,216.5 758.0,215.6 759.0,216.3 760.0,214.4 761.0,214.6 762.0,214.6 763.0,214.1 764.0,213.8 765.0,213.8 766.0,212.5 767.0,212.4 768.0,211.6 769.0,210.4 770.0,210.4 771.0,208.0 772.0,207.7 773.0,204.8 774.0,203.5 775.0,201.4 776.0,198.5 777.0,196.6 778.0,194.0 779.0,190.6 780.0,186.8 781.0,183.7 782.0,179.3 783.0,174.8 784.0,168.7 785.0,165.0 786.0,160.3 787.0,154.0 788.0,147.6 789.0,142.8 790.0,137.2 791.0,130.6 792.0,125.2 793.0,119.6 794.0,113.3 795.0,107.8 796.0,103.3 797.0,97.6 798.0,92.5 799.0,89.0 800.0,85.5 801.0,82.1 802.0,79.6 803.0,77.5 804.0,78.0 805.0,76.0 806.0,76.9 807.0,78.2 808.0,80.3 809.0,82.2 810.0,85.7 811.0,89.2 812.0,94.0 813.0,97.9 814.0,104.5 815.0,109.8 816.0,115.8 817.0,121.6 818.0,127.0 819.0,133.8 820.0,140.5 821.0,147.5 822.0,153.1 823.0,159.6 824.0,165.1 825.0,170.3 826.0,175.9 827.0,181.3 828.0,186.2 829.0,190.0 830.0,194.5 831.0,198.3 832.0,202.0 833.0,205.3 834.0,206.8 835.0,209.4 836.0,211.0 837.0,214.4 838.0,215.1 839.0,215.6 840.0,218.3 841.0,218.1 842.0,219.0 843.0,219.8 844.0,220.6 845.0,220.1 846.0,221.6 847.0,222.7 848.0,223.2 849.0,223.7 850.0,224.2 851.0,224.5 852.0,224.5 853.0,225.7 854.0,227.2 855.0,227.6 856.0,227.6 857.0,228.3 858.0,229.3 859.0,228.5 860.0,228.2 861.0,230.8 862.0,228.8 863.0,228.3 864.0,229.8 865.0,228.3 866.0,228.9 867.0,229.1 868.0,230.0 869.0,228.5 870.0,229.6 871.0,228.0 872.0,229.0 873.0,229.2 874.0,229.5 875.0,230.8 876.0,229.2 877.0,229.2 878.0,229.1 879.0,229.2 880.0,229.8 881.0,229.6 882.0,230.4 883.0,229.2 884.0,230.1 885.0,230.0 886.0,229.8 887.0,230.0 888.0,229.9 889.0,229.6 890.0,229.7 891.0,228.7 892.0,229.0 893.0,229.7 894.0,230.2 895.0,230.2 896.0,229.7 897.0,229.3 898.0,230.1 899.0,229.9 900.0,229.3 901.0,230.6 902.0,230.9 903.0,230.1 904.0,229.1 905.0,230.2 906.0,230.3 907.0,229.3 908.0,230.7 909.0,230.4 910.0,231.1 911.0,230.1 912.0,230.5 913.0,230.6 914.0,231.3 915.0,229.9 916.0,230.7 917.0,232.0 918.0,230.6 919.0,230.0 920.0,231.7 921.0,231.4 922.0,229.6 923.0,230.9 924.0,229.8 925.0,230.9 926.0,231.6 927.0,231.6 928.0,230.2 929.0,230.4 930.0,232.2 931.0,231.5 932.0,231.0 933.0,231.4 934.0,230.5 935.0,230.0 936.0,230.3 937.0,231.7 938.0,230.8 939.0,231.9 940.0,232.2 941.0,231.8 942.0,231.0 943.0,231.2 944.0,231.1 945.0,231.8 946.0,232.7 947.0,232.0 948.0,233.3 949.0,232.2 950.0,231.6 951.0,230.9 952.0,231.4 953.0,231.0 954.0,232.4 955.0,232.1 956.0,233.6 957.0,232.7 958.0,232.8 959.0,231.7 960.0,231.9 961.0,232.8 962.0,232.5 963.0,231.9 964.0,232.2 965.0,232.7 966.0,233.1 967.0,232.9 968.0,232.5 969.0,232.5 970.0,233.2 971.0,232.9 972.0,231.8 973.0,232.3 974.0,233.3 975.0,234.1 976.0,233.7 977.0,232.5 978.0,232.3 979.0,234.7 980.0,233.4 981.0,232.9" fill="none" stroke="#000" stroke-width="2.2" stroke-linejoin="round" stroke-linecap="round" />
<polyline points="608.0,211.7 609.0,209.6 610.0,210.3 611.0,212.4 612.0,209.9 613.0,210.4 614.0,211.1 615.0,210.2 616.0,210.1 617.0,212.1 618.0,211.3 619.0,211.5 620.0,209.2 621.0,210.3 622.0,210.7 623.0,210.7 624.0,210.0 625.0,209.4 626.0,211.6 627.0,210.2 628.0,209.4 629.0,209.5 630.0,209.3 631.0,209.1 632.0,208.8 633.0,209.4 634.0,208.9 635.0,209.4 636.0,208.9 637.0,208.5 638.0,208.7 639.0,206.8 640.0,206.0 641.0,206.9 642.0,205.9 643.0,205.0 644.0,206.4 645.0,206.1 646.0,203.5 647.0,204.1 648.0,202.5 649.0,201.3 650.0,201.7 651.0,200.9 652.0,199.0 653.0,198.6 654.0,197.9 655.0,197.0 656.0,195.5 657.0,196.1 658.0,193.1 659.0,191.7 660.0,191.7 661.0,191.8 662.0,189.5 663.0,187.9 664.0,186.8 665.0,184.4 666.0,183.9 667.0,181.0 668.0,181.4 669.0,178.0 670.0,179.4 671.0,177.7 672.0,176.2 673.0,175.4 674.0,173.5 675.0,172.1 676.0,171.0 677.0,170.8 678.0,169.0 679.0,169.6 680.0,168.5 681.0,166.8 682.0,166.7 683.0,167.5 684.0,166.0 685.0,166.8 686.0,164.6 687.0,166.3 688.0,166.3 689.0,168.5 690.0,166.7 691.0,168.2 692.0,167.5 693.0,169.2 694.0,167.9 695.0,168.1 696.0,171.5 697.0,172.3 698.0,172.9 699.0,174.8 700.0,176.3 701.0,176.8 702.0,178.6 703.0,180.7 704.0,181.8 705.0,182.3 706.0,184.4 707.0,186.8 708.0,187.0 709.0,188.8 710.0,190.5 711.0,191.7 712.0,192.5 713.0,193.4 714.0,193.9 715.0,197.1 716.0,196.9 717.0,200.5 718.0,198.9 719.0,202.9 720.0,202.2 721.0,203.7 722.0,205.4 723.0,205.5 724.0,206.3 725.0,206.8 726.0,208.7 727.0,208.6 728.0,208.3 729.0,210.8 730.0,209.5 731.0,211.2 732.0,212.2 733.0,211.7 734.0,212.1 735.0,212.0 736.0,213.5 737.0,214.2 738.0,215.0 739.0,214.7 740.0,214.8 741.0,214.6 742.0,214.7 743.0,215.4 744.0,214.6 745.0,216.8 746.0,216.5 747.0,216.8 748.0,215.1 749.0,216.1 750.0,214.9 751.0,215.3 752.0,216.0 753.0,215.9 754.0,216.3 755.0,215.0 756.0,214.0 757.0,216.2 758.0,216.2 759.0,217.0 760.0,214.6 761.0,214.5 762.0,214.2 763.0,214.4 764.0,214.1 765.0,211.8 766.0,211.5 767.0,213.3 768.0,211.2 769.0,209.1 770.0,211.2 771.0,208.4 772.0,207.7 773.0,204.7 774.0,202.7 775.0,201.2 776.0,198.3 777.0,196.6 778.0,193.6 779.0,190.5 780.0,186.6 781.0,184.0 782.0,179.8 783.0,175.3 784.0,168.3 785.0,164.9 786.0,160.2 787.0,153.3 788.0,147.4 789.0,142.0 790.0,135.5 791.0,130.5 792.0,124.0 793.0,119.7 794.0,112.0 795.0,106.7 796.0,102.8 797.0,98.2 798.0,92.7 799.0,89.7 800.0,85.9 801.0,82.4 802.0,80.1 803.0,76.9 804.0,79.0 805.0,76.1 806.0,76.2 807.0,78.7 808.0,81.0 809.0,82.7 810.0,85.2 811.0,88.8 812.0,92.8 813.0,97.7 814.0,103.7 815.0,111.0 816.0,116.4 817.0,122.4 818.0,127.2 819.0,133.6 820.0,140.7 821.0,147.3 822.0,152.6 823.0,159.5 824.0,166.0 825.0,169.9 826.0,176.6 827.0,180.5 828.0,186.6 829.0,191.1 830.0,195.6 831.0,198.1 832.0,202.7 833.0,207.1 834.0,206.8 835.0,208.7 836.0,210.0 837.0,214.1 838.0,215.0 839.0,216.8 840.0,218.5 841.0,217.3 842.0,218.2 843.0,219.1 844.0,220.8 845.0,219.7 846.0,220.3 847.0,223.4 848.0,223.5 849.0,223.7 850.0,225.0 851.0,224.9 852.0,225.6 853.0,227.0 854.0,226.0 855.0,228.4 856.0,228.2 857.0,228.9 858.0,229.0 859.0,228.1 860.0,227.7 861.0,230.8 862.0,229.6 863.0,228.4 864.0,229.9 865.0,228.0 866.0,229.2 867.0,229.4 868.0,230.3 869.0,228.0 870.0,229.0 871.0,227.5 872.0,228.2 873.0,229.6 874.0,230.0 875.0,230.0 876.0,228.4 877.0,228.7 878.0,230.4 879.0,229.3 880.0,230.7 881.0,228.7 882.0,231.0 883.0,231.0 884.0,230.6 885.0,229.2 886.0,230.0 887.0,229.9 888.0,229.3 889.0,230.0" fill="none" stroke="#ff0000" stroke-width="2.6" stroke-linejoin="round" stroke-linecap="round" />
<polyline points="615.0,211.0 616.0,211.0 617.0,211.0 618.0,211.0 619.0,210.9 620.0,210.9 621.0,210.8 622.0,210.8 623.0,210.7 624.0,210.6 625.0,210.5 626.0,210.4 627.0,210.3 628.0,210.2 629.0,210.1 630.0,210.0 631.0,209.8 632.0,209.6 633.0,209.4 634.0,209.2 635.0,209.0 636.0,208.7 637.0,208.4 638.0,208.1 639.0,207.7 640.0,207.4 641.0,206.9 642.0,206.5 643.0,206.0 644.0,205.5 645.0,204.9 646.0,204.3 647.0,203.7 648.0,203.0 649.0,202.3 650.0,201.5 651.0,200.6 652.0,199.8 653.0,198.9 654.0,197.9 655.0,196.9 656.0,195.9 657.0,194.8 658.0,193.6 659.0,192.5 660.0,191.3 661.0,190.1 662.0,188.8 663.0,187.6 664.0,186.3 665.0,185.0 666.0,183.7 667.0,182.4 668.0,181.1 669.0,179.8 670.0,178.6 671.0,177.3 672.0,176.1 673.0,175.0 674.0,173.9 675.0,172.8 676.0,171.8 677.0,170.9 678.0,170.0 679.0,169.2 680.0,168.6 681.0,168.0 682.0,167.5 683.0,167.1 684.0,166.8 685.0,166.6 686.0,166.5 687.0,166.5 688.0,166.7 689.0,166.9 690.0,167.3 691.0,167.8 692.0,168.3 693.0,169.0 694.0,169.8 695.0,170.6 696.0,171.6 697.0,172.6 698.0,173.7 699.0,174.8 700.0,176.1 701.0,177.3 702.0,178.6 703.0,180.0 704.0,181.4 705.0,182.8 706.0,184.2 707.0,185.6 708.0,187.1 709.0,188.5 710.0,189.9 711.0,191.3 712.0,192.7 713.0,194.1 714.0,195.4 715.0,196.7 716.0,198.0 717.0,199.2 718.0,200.4 719.0,201.5 720.0,202.6 721.0,203.6 722.0,204.6 723.0,205.6 724.0,206.5 725.0,207.3 726.0,208.1 727.0,208.8 728.0,209.5 729.0,210.2 730.0,210.8 731.0,211.4 732.0,211.9 733.0,212.4 734.0,212.8 735.0,213.3 736.0,213.6 737.0,214.0 738.0,214.3 739.0,214.6 740.0,214.8 741.0,215.0 742.0,215.2 743.0,215.4 744.0,215.6 745.0,215.7 746.0,215.8 747.0,215.9 748.0,216.0 749.0,216.1 750.0,216.1 751.0,216.2 752.0,216.2 753.0,216.2 754.0,216.2 755.0,216.1 756.0,216.1 757.0,216.0 758.0,215.8 759.0,215.7 760.0,215.5 761.0,215.2 762.0,215.0 763.0,214.6 764.0,214.2 765.0,213.7 766.0,213.1 767.0,212.4 768.0,211.6 769.0,210.6 770.0,209.5 771.0,208.3 772.0,206.9 773.0,205.2 774.0,203.4 775.0,201.3 776.0,199.0 777.0,196.4 778.0,193.5 779.0,190.4 780.0,186.9 781.0,183.1 782.0,179.1 783.0,174.7 784.0,170.1 785.0,165.2 786.0,160.0 787.0,154.6 788.0,149.0 789.0,143.3 790.0,137.4 791.0,131.5 792.0,125.5 793.0,119.6 794.0,113.8 795.0,108.2 796.0,102.9 797.0,97.8 798.0,93.2 799.0,89.0 800.0,85.3 801.0,82.2 802.0,79.7 803.0,77.9 804.0,76.9 805.0,76.5 806.0,76.9 807.0,78.0 808.0,79.9 809.0,82.4 810.0,85.7 811.0,89.5 812.0,93.9 813.0,98.7 814.0,104.0 815.0,109.6 816.0,115.6 817.0,121.7 818.0,128.0 819.0,134.3 820.0,140.7 821.0,147.0 822.0,153.2 823.0,159.2 824.0,165.1 825.0,170.7 826.0,176.1 827.0,181.2 828.0,186.0 829.0,190.5 830.0,194.7 831.0,198.5 832.0,202.1 833.0,205.3 834.0,208.3 835.0,210.9 836.0,213.3 837.0,215.4 838.0,217.3 839.0,218.9 840.0,220.4 841.0,221.7 842.0,222.8 843.0,223.8 844.0,224.6 845.0,225.3 846.0,225.9 847.0,226.4 848.0,226.9 849.0,227.3 850.0,227.6 851.0,227.9 852.0,228.1 853.0,228.3 854.0,228.4 855.0,228.6 856.0,228.7 857.0,228.8 858.0,228.9" fill="none" stroke="#ff0000" stroke-width="0.1" stroke-linejoin="round" stroke-linecap="round" />
<polyline points="833.0,229.5 834.0,229.3 835.0,229.1 836.0,228.8 837.0,228.4 838.0,228.0 839.0,227.6 840.0,227.1 841.0,226.7 842.0,226.4 843.0,226.1 844.0,226.0 845.0,225.9 846.0,226.0 847.0,226.1 848.0,226.4 849.0,226.8 850.0,227.2 851.0,227.6 852.0,228.0 853.0,228.4 854.0,228.8 855.0,229.1 856.0,229.4 857.0,229.6" fill="none" stroke="#008000" stroke-width="2.0" stroke-linejoin="round" stroke-linecap="round" />
<polyline points="608.0,211.5 609.0,211.5 610.0,211.5 611.0,211.5 612.0,211.5 613.0,211.5 614.0,211.5 615.0,211.5 616.0,211.5 617.0,211.5 618.0,211.5 619.0,211.5 620.0,211.5 621.0,211.5 622.0,211.5 623.0,211.5 624.0,211.5 625.0,211.5 626.0,211.5 627.0,211.6 628.0,211.6 629.0,211.6 630.0,211.6 631.0,211.6 632.0,211.6 633.0,211.6 634.0,211.6 635.0,211.6 636.0,211.6 637.0,211.6 638.0,211.6 639.0,211.7 640.0,211.7 641.0,211.7 642.0,211.7 643.0,211.7 644.0,211.7 645.0,211.7 646.0,211.8 647.0,211.8 648.0,211.8 649.0,211.8 650.0,211.9 651.0,211.9 652.0,211.9 653.0,211.9 654.0,212.0 655.0,212.0 656.0,212.0 657.0,212.1 658.0,212.1 659.0,212.2 660.0,212.2 661.0,212.3 662.0,212.3 663.0,212.3 664.0,212.4 665.0,212.5 666.0,212.5 667.0,212.6 668.0,212.6 669.0,212.7 670.0,212.7 671.0,212.8 672.0,212.9 673.0,212.9 674.0,213.0 675.0,213.1 676.0,213.2 677.0,213.2 678.0,213.3 679.0,213.4 680.0,213.5 681.0,213.6 682.0,213.7 683.0,213.7 684.0,213.8 685.0,213.9 686.0,214.0 687.0,214.1 688.0,214.2 689.0,214.3 690.0,214.4 691.0,214.5 692.0,214.6 693.0,214.7 694.0,214.8 695.0,214.8 696.0,214.9 697.0,215.0 698.0,215.1 699.0,215.2 700.0,215.3 701.0,215.4 702.0,215.5 703.0,215.6 704.0,215.7 705.0,215.8 706.0,215.9 707.0,216.0 708.0,216.0 709.0,216.1 710.0,216.2 711.0,216.3 712.0,216.4 713.0,216.5 714.0,216.5 715.0,216.6 716.0,216.7 717.0,216.8 718.0,216.8 719.0,216.9 720.0,217.0 721.0,217.0 722.0,217.1 723.0,217.1 724.0,217.2 725.0,217.2 726.0,217.3 727.0,217.4 728.0,217.4 729.0,217.4 730.0,217.5 731.0,217.5 732.0,217.6 733.0,217.6 734.0,217.7 735.0,217.7 736.0,217.7 737.0,217.8 738.0,217.8 739.0,217.8 740.0,217.8 741.0,217.9 742.0,217.9 743.0,217.9 744.0,217.9 745.0,218.0 746.0,218.0 747.0,218.0 748.0,218.0 749.0,218.0 750.0,218.0 751.0,218.0 752.0,218.1 753.0,218.1 754.0,218.1 755.0,218.1 756.0,218.1 757.0,218.1 758.0,218.1 759.0,218.1 760.0,218.1 761.0,218.1 762.0,218.1 763.0,218.2 764.0,218.2 765.0,218.2 766.0,218.2 767.0,218.2 768.0,218.2 769.0,218.2 770.0,218.2 771.0,218.2 772.0,218.2 773.0,218.3 774.0,218.3 775.0,218.3 776.0,218.3 777.0,218.4 778.0,218.4 779.0,218.5 780.0,218.5 781.0,218.6 782.0,218.7 783.0,218.8 784.0,218.9 785.0,219.0 786.0,219.1 787.0,219.3 788.0,219.5 789.0,219.7 790.0,219.9 791.0,220.1 792.0,220.4 793.0,220.6 794.0,220.9 795.0,221.2 796.0,221.6 797.0,221.9 798.0,222.3 799.0,222.6 800.0,223.0 801.0,223.4 802.0,223.8 803.0,224.2 804.0,224.6 805.0,225.0 806.0,225.4 807.0,225.8 808.0,226.1 809.0,226.5 810.0,226.8 811.0,227.2 812.0,227.5 813.0,227.8 814.0,228.0 815.0,228.3 816.0,228.5 817.0,228.7 818.0,228.9 819.0,229.1 820.0,229.3 821.0,229.4 822.0,229.5 823.0,229.6 824.0,229.7 825.0,229.8 826.0,229.9 827.0,229.9 828.0,230.0 829.0,230.0 830.0,230.1 831.0,230.1 832.0,230.1 833.0,230.1 834.0,230.1 835.0,230.2 836.0,230.2 837.0,230.2 838.0,230.2 839.0,230.2 840.0,230.2 841.0,230.2 842.0,230.2 843.0,230.2 844.0,230.2 845.0,230.2 846.0,230.2 847.0,230.2 848.0,230.2 849.0,230.2 850.0,230.2 851.0,230.2 852.0,230.2 853.0,230.2 854.0,230.2 855.0,230.2 856.0,230.2 857.0,230.2 858.0,230.2" fill="none" stroke="#000" stroke-width="2.6" stroke-linejoin="round" stroke-linecap="round" />
<polyline points="608.0,211.2 609.0,211.2 610.0,211.1 611.0,211.1 612.0,211.1 613.0,211.1 614.0,211.1 615.0,211.0 616.0,211.0 617.0,211.0 618.0,211.0 619.0,210.9 620.0,210.9 621.0,210.8 622.0,210.8 623.0,210.7 624.0,210.6 625.0,210.5 626.0,210.4 627.0,210.3 628.0,210.2 629.0,210.1 630.0,210.0 631.0,209.8 632.0,209.6 633.0,209.4 634.0,209.2 635.0,209.0 636.0,208.7 637.0,208.4 638.0,208.1 639.0,207.7 640.0,207.4 641.0,206.9 642.0,206.5 643.0,206.0 644.0,205.5 645.0,204.9 646.0,204.3 647.0,203.7 648.0,203.0 649.0,202.3 650.0,201.5 651.0,200.6 652.0,199.8 653.0,198.9 654.0,197.9 655.0,196.9 656.0,195.9 657.0,194.8 658.0,193.6 659.0,192.5 660.0,191.3 661.0,190.1 662.0,188.8 663.0,187.6 664.0,186.3 665.0,185.0 666.0,183.7 667.0,182.4 668.0,181.1 669.0,179.8 670.0,178.6 671.0,177.3 672.0,176.1 673.0,175.0 674.0,173.9 675.0,172.8 676.0,171.8 677.0,170.9 678.0,170.0 679.0,169.2 680.0,168.6 681.0,168.0 682.0,167.5 683.0,167.1 684.0,166.8 685.0,166.6 686.0,166.5 687.0,166.5 688.0,166.7 689.0,166.9 690.0,167.3 691.0,167.8 692.0,168.3 693.0,169.0 694.0,169.8 695.0,170.6 696.0,171.6 697.0,172.6 698.0,173.7 699.0,174.8 700.0,176.1 701.0,177.3 702.0,178.6 703.0,180.0 704.0,181.4 705.0,182.8 706.0,184.2 707.0,185.6 708.0,187.1 709.0,188.5 710.0,189.9 711.0,191.3 712.0,192.7 713.0,194.1 714.0,195.4 715.0,196.7 716.0,198.0 717.0,199.2 718.0,200.4 719.0,201.5 720.0,202.6 721.0,203.6 722.0,204.6 723.0,205.6 724.0,206.5 725.0,207.3 726.0,208.1 727.0,208.8 728.0,209.5 729.0,210.2 730.0,210.8 731.0,211.4 732.0,211.9 733.0,212.4 734.0,212.8 735.0,213.3 736.0,213.6 737.0,214.0 738.0,214.3 739.0,214.6 740.0,214.8 741.0,215.0 742.0,215.2 743.0,215.4 744.0,215.6 745.0,215.7 746.0,215.8 747.0,215.9 748.0,216.0 749.0,216.1 750.0,216.1 751.0,216.2 752.0,216.2 753.0,216.2 754.0,216.2 755.0,216.1 756.0,216.1 757.0,216.0 758.0,215.8 759.0,215.7 760.0,215.5 761.0,215.2 762.0,215.0 763.0,214.6 764.0,214.2 765.0,213.7 766.0,213.1 767.0,212.4 768.0,211.6 769.0,210.6 770.0,209.5 771.0,208.3 772.0,206.9 773.0,205.2 774.0,203.4 775.0,201.3 776.0,199.0 777.0,196.4 778.0,193.5 779.0,190.4 780.0,186.9 781.0,183.1 782.0,179.1 783.0,174.7 784.0,170.1 785.0,165.2 786.0,160.0 787.0,154.6 788.0,149.0 789.0,143.3 790.0,137.4 791.0,131.5 792.0,125.5 793.0,119.6 794.0,113.8 795.0,108.2 796.0,102.9 797.0,97.8 798.0,93.2 799.0,89.0 800.0,85.3 801.0,82.2 802.0,79.7 803.0,77.9 804.0,76.9 805.0,76.5 806.0,76.9 807.0,78.0 808.0,79.9 809.0,82.4 810.0,85.7 811.0,89.5 812.0,93.9 813.0,98.7 814.0,104.0 815.0,109.6 816.0,115.6 817.0,121.7 818.0,128.0 819.0,134.3 820.0,140.7 821.0,147.0 822.0,153.2 823.0,159.2 824.0,165.1 825.0,170.7 826.0,176.1 827.0,181.2 828.0,185.9 829.0,190.4 830.0,194.5 831.0,198.3 832.0,201.7 833.0,204.7 834.0,207.5 835.0,209.8 836.0,211.9 837.0,213.6 838.0,215.1 839.0,216.3 840.0,217.4 841.0,218.2 842.0,219.0 843.0,219.7 844.0,220.3 845.0,221.0 846.0,221.7 847.0,222.4 848.0,223.1 849.0,223.8 850.0,224.5 851.0,225.2 852.0,225.9 853.0,226.5 854.0,227.0 855.0,227.5 856.0,227.9 857.0,228.2 858.0,228.5" fill="none" stroke="#000" stroke-width="2.7" stroke-linejoin="round" stroke-linecap="round" />
<path d="M621.3 259.3L621.3 255.0 M673.3 259.3L673.3 250.8 M725.3 259.3L725.3 255.0 M777.3 259.3L777.3 250.8 M829.3 259.3L829.3 255.0 M881.3 259.3L881.3 250.8 M933.3 259.3L933.3 255.0 M621.3 62.0L621.3 66.3 M673.3 62.0L673.3 70.5 M725.3 62.0L725.3 66.3 M777.3 62.0L777.3 70.5 M829.3 62.0L829.3 66.3 M881.3 62.0L881.3 70.5 M933.3 62.0L933.3 66.3 M569.3 78.1L577.8 78.1 M985.2 78.1L976.7 78.1 M569.3 94.5L573.6 94.5 M985.2 94.5L980.9 94.5 M569.3 111.0L577.8 111.0 M985.2 111.0L976.7 111.0 M569.3 127.5L573.6 127.5 M985.2 127.5L980.9 127.5 M569.3 144.0L577.8 144.0 M985.2 144.0L976.7 144.0 M569.3 160.4L573.6 160.4 M985.2 160.4L980.9 160.4 M569.3 176.8L577.8 176.8 M985.2 176.8L976.7 176.8 M569.3 193.4L573.6 193.4 M985.2 193.4L980.9 193.4 M569.3 209.6L577.8 209.6 M985.2 209.6L976.7 209.6 M569.3 226.3L573.6 226.3 M985.2 226.3L980.9 226.3 M569.3 242.6L577.8 242.6 M985.2 242.6L976.7 242.6" stroke="#000" stroke-width="1.6" fill="none"/>
<rect x="569.3" y="62.0" width="415.9" height="197.3" fill="none" stroke="#000" stroke-width="1.6"/>
<polyline points="570.0,419.2 571.0,419.8 572.0,419.6 573.0,419.4 574.0,420.1 575.0,418.8 576.0,419.4 577.0,419.5 578.0,420.3 579.0,420.3 580.0,420.6 581.0,421.2 582.0,421.5 583.0,421.5 584.0,420.9 585.0,421.9 586.0,421.4 587.0,422.9 588.0,422.3 589.0,422.0 590.0,422.0 591.0,421.5 592.0,422.5 593.0,421.7 594.0,422.9 595.0,421.4 596.0,422.0 597.0,424.1 598.0,424.3 599.0,424.3 600.0,422.1 601.0,422.5 602.0,422.6 603.0,422.6 604.0,424.1 605.0,423.8 606.0,424.0 607.0,423.8 608.0,423.6 609.0,424.9 610.0,424.2 611.0,423.5 612.0,424.4 613.0,423.6 614.0,423.7 615.0,424.4 616.0,423.4 617.0,423.6 618.0,423.5 619.0,424.4 620.0,424.5 621.0,423.6 622.0,424.3 623.0,422.7 624.0,423.2 625.0,423.7 626.0,422.9 627.0,423.1 628.0,422.9 629.0,422.9 630.0,422.5 631.0,421.5 632.0,421.8 633.0,421.4 634.0,421.8 635.0,420.4 636.0,420.5 637.0,421.1 638.0,420.3 639.0,420.8 640.0,419.3 641.0,417.6 642.0,418.7 643.0,417.8 644.0,417.0 645.0,415.9 646.0,415.7 647.0,415.4 648.0,414.5 649.0,413.6 650.0,413.0 651.0,411.9 652.0,410.4 653.0,410.0 654.0,409.1 655.0,408.7 656.0,406.8 657.0,405.2 658.0,405.0 659.0,403.7 660.0,401.9 661.0,400.4 662.0,400.4 663.0,397.8 664.0,397.0 665.0,396.2 666.0,394.4 667.0,393.6 668.0,392.7 669.0,391.2 670.0,389.7 671.0,388.9 672.0,388.1 673.0,387.7 674.0,385.9 675.0,386.2 676.0,384.4 677.0,384.7 678.0,384.5 679.0,383.6 680.0,382.5 681.0,383.1 682.0,382.6 683.0,382.2 684.0,381.9 685.0,381.9 686.0,382.3 687.0,383.7 688.0,383.3 689.0,383.7 690.0,383.9 691.0,385.0 692.0,385.5 693.0,386.2 694.0,387.5 695.0,388.2 696.0,389.6 697.0,390.6 698.0,391.5 699.0,393.3 700.0,394.6 701.0,394.4 702.0,396.8 703.0,398.2 704.0,399.5 705.0,401.6 706.0,402.4 707.0,403.5 708.0,404.7 709.0,406.6 710.0,406.9 711.0,408.7 712.0,409.8 713.0,411.1 714.0,412.3 715.0,413.0 716.0,414.1 717.0,415.7 718.0,416.3 719.0,418.3 720.0,418.7 721.0,418.9 722.0,420.4 723.0,420.9 724.0,421.8 725.0,423.0 726.0,423.4 727.0,423.2 728.0,424.3 729.0,424.4 730.0,425.5 731.0,425.5 732.0,425.2 733.0,424.7 734.0,426.3 735.0,426.5 736.0,426.8 737.0,428.4 738.0,427.7 739.0,428.2 740.0,427.6 741.0,428.5 742.0,428.0 743.0,427.7 744.0,428.4 745.0,428.6 746.0,428.2 747.0,429.4 748.0,428.8 749.0,428.1 750.0,427.7 751.0,429.1 752.0,429.1 753.0,429.0 754.0,428.2 755.0,428.2 756.0,428.7 757.0,428.1 758.0,428.1 759.0,428.2 760.0,428.1 761.0,426.9 762.0,426.8 763.0,426.5 764.0,425.6 765.0,425.7 766.0,424.0 767.0,423.8 768.0,422.4 769.0,422.0 770.0,420.1 771.0,418.2 772.0,416.6 773.0,414.2 774.0,412.9 775.0,410.1 776.0,407.4 777.0,404.7 778.0,401.5 779.0,397.5 780.0,393.3 781.0,390.2 782.0,385.5 783.0,380.8 784.0,376.2 785.0,370.6 786.0,366.1 787.0,359.9 788.0,354.3 789.0,348.9 790.0,343.0 791.0,337.5 792.0,332.2 793.0,326.6 794.0,322.0 795.0,317.1 796.0,313.6 797.0,308.6 798.0,305.0 799.0,302.0 800.0,300.3 801.0,298.6 802.0,297.1 803.0,297.6 804.0,296.9 805.0,298.3 806.0,300.3 807.0,302.9 808.0,305.5 809.0,310.1 810.0,314.1 811.0,318.2 812.0,323.0 813.0,328.2 814.0,333.7 815.0,339.6 816.0,345.4 817.0,351.0 818.0,356.4 819.0,361.6 820.0,367.1 821.0,373.5 822.0,378.0 823.0,383.4 824.0,389.0 825.0,393.2 826.0,397.4 827.0,401.4 828.0,405.4 829.0,408.8 830.0,411.3 831.0,414.1 832.0,416.9 833.0,419.6 834.0,422.8 835.0,423.9 836.0,425.6 837.0,427.6 838.0,429.0 839.0,429.5 840.0,430.0 841.0,433.2 842.0,432.7 843.0,433.5 844.0,435.0 845.0,434.6 846.0,435.5 847.0,435.5 848.0,437.1 849.0,436.8 850.0,437.5 851.0,438.2 852.0,438.1 853.0,439.5 854.0,438.6 855.0,438.2 856.0,439.5 857.0,439.7 858.0,439.9 859.0,439.3 860.0,439.5 861.0,439.8 862.0,440.4 863.0,440.0 864.0,440.8 865.0,440.6 866.0,440.6 867.0,440.0 868.0,439.6 869.0,440.5 870.0,441.1 871.0,441.0 872.0,440.2 873.0,441.0 874.0,440.7 875.0,440.9 876.0,440.2 877.0,440.3 878.0,440.7 879.0,441.3 880.0,440.6 881.0,440.9 882.0,441.4 883.0,440.5 884.0,440.5 885.0,440.4 886.0,441.9 887.0,440.7 888.0,440.0 889.0,440.6 890.0,441.4 891.0,441.4 892.0,441.7 893.0,442.2 894.0,441.6 895.0,441.0 896.0,440.0 897.0,441.7 898.0,442.1 899.0,442.0 900.0,442.1 901.0,441.2 902.0,442.2 903.0,440.4 904.0,440.7 905.0,440.5 906.0,442.5 907.0,442.5 908.0,442.5 909.0,443.4 910.0,441.2 911.0,442.4 912.0,441.9 913.0,441.7 914.0,442.9 915.0,442.1 916.0,441.6 917.0,443.0 918.0,442.1 919.0,442.4 920.0,443.2 921.0,442.4 922.0,442.4 923.0,443.0 924.0,444.0 925.0,441.6 926.0,444.1 927.0,443.6 928.0,443.3 929.0,443.4 930.0,442.1 931.0,443.4 932.0,443.9 933.0,443.3 934.0,442.0 935.0,443.0 936.0,442.2 937.0,442.4 938.0,442.6 939.0,444.0 940.0,444.6 941.0,443.4 942.0,444.4 943.0,443.2 944.0,443.3 945.0,444.6 946.0,445.4 947.0,444.7 948.0,441.9 949.0,443.5 950.0,444.1 951.0,444.1 952.0,443.3 953.0,446.1 954.0,442.6 955.0,444.1 956.0,443.4 957.0,443.9 958.0,444.2 959.0,443.8 960.0,444.4 961.0,443.1 962.0,443.6 963.0,444.7 964.0,443.5 965.0,444.8 966.0,444.1 967.0,443.7 968.0,444.7 969.0,444.2 970.0,446.1 971.0,444.9 972.0,446.1 973.0,444.2 974.0,445.8 975.0,445.0 976.0,445.6 977.0,444.7 978.0,446.0 979.0,446.8 980.0,444.7" fill="none" stroke="#000" stroke-width="2.2" stroke-linejoin="round" stroke-linecap="round" />
<polyline points="613.0,423.9 614.0,423.8 615.0,423.8 616.0,423.8 617.0,423.7 618.0,423.7 619.0,423.6 620.0,423.6 621.0,423.5 622.0,423.4 623.0,423.3 624.0,423.3 625.0,423.1 626.0,423.0 627.0,422.9 628.0,422.8 629.0,422.6 630.0,422.4 631.0,422.2 632.0,422.0 633.0,421.8 634.0,421.5 635.0,421.2 636.0,420.9 637.0,420.5 638.0,420.2 639.0,419.7 640.0,419.3 641.0,418.8 642.0,418.3 643.0,417.7 644.0,417.1 645.0,416.5 646.0,415.8 647.0,415.1 648.0,414.4 649.0,413.5 650.0,412.7 651.0,411.8 652.0,410.9 653.0,409.9 654.0,408.9 655.0,407.9 656.0,406.8 657.0,405.7 658.0,404.5 659.0,403.4 660.0,402.2 661.0,401.0 662.0,399.7 663.0,398.5 664.0,397.3 665.0,396.1 666.0,394.9 667.0,393.7 668.0,392.5 669.0,391.4 670.0,390.3 671.0,389.2 672.0,388.2 673.0,387.2 674.0,386.3 675.0,385.5 676.0,384.8 677.0,384.1 678.0,383.5 679.0,383.0 680.0,382.6 681.0,382.3 682.0,382.1 683.0,382.0 684.0,382.0 685.0,382.1 686.0,382.3 687.0,382.6 688.0,383.0 689.0,383.6 690.0,384.2 691.0,384.9 692.0,385.6 693.0,386.5 694.0,387.4 695.0,388.5 696.0,389.5 697.0,390.7 698.0,391.8 699.0,393.1 700.0,394.3 701.0,395.6 702.0,396.9 703.0,398.3 704.0,399.6 705.0,401.0 706.0,402.3 707.0,403.7 708.0,405.0 709.0,406.3 710.0,407.6 711.0,408.9 712.0,410.1 713.0,411.3 714.0,412.5 715.0,413.6 716.0,414.7 717.0,415.7 718.0,416.7 719.0,417.6 720.0,418.5 721.0,419.4 722.0,420.2 723.0,421.0 724.0,421.7 725.0,422.4 726.0,423.0 727.0,423.6 728.0,424.1 729.0,424.6 730.0,425.1 731.0,425.5 732.0,425.9 733.0,426.3 734.0,426.6 735.0,426.9 736.0,427.2 737.0,427.4 738.0,427.6 739.0,427.8 740.0,428.0 741.0,428.2 742.0,428.3 743.0,428.4 744.0,428.5 745.0,428.6 746.0,428.7 747.0,428.7 748.0,428.8 749.0,428.8 750.0,428.8 751.0,428.8 752.0,428.8 753.0,428.7 754.0,428.7 755.0,428.6 756.0,428.4 757.0,428.3 758.0,428.1 759.0,427.9 760.0,427.6 761.0,427.3 762.0,426.9 763.0,426.4 764.0,425.9 765.0,425.2 766.0,424.5 767.0,423.6 768.0,422.6 769.0,421.4 770.0,420.0 771.0,418.5 772.0,416.8 773.0,414.8 774.0,412.6 775.0,410.2 776.0,407.5 777.0,404.5 778.0,401.2 779.0,397.7 780.0,393.8 781.0,389.7 782.0,385.3 783.0,380.7 784.0,375.8 785.0,370.7 786.0,365.4 787.0,360.0 788.0,354.4 789.0,348.8 790.0,343.2 791.0,337.7 792.0,332.2 793.0,326.9 794.0,321.9 795.0,317.2 796.0,312.9 797.0,309.0 798.0,305.6 799.0,302.7 800.0,300.5 801.0,298.9 802.0,298.0 803.0,297.7 804.0,298.2 805.0,299.4 806.0,301.3 807.0,303.8 808.0,307.0 809.0,310.7 810.0,314.9 811.0,319.6 812.0,324.6 813.0,330.0 814.0,335.6 815.0,341.5 816.0,347.4 817.0,353.4 818.0,359.3 819.0,365.3 820.0,371.1 821.0,376.7 822.0,382.2 823.0,387.4 824.0,392.4 825.0,397.1 826.0,401.5 827.0,405.7 828.0,409.5 829.0,413.0 830.0,416.3 831.0,419.2 832.0,421.9 833.0,424.2 834.0,426.4 835.0,428.3 836.0,430.0 837.0,431.5 838.0,432.8 839.0,433.9 840.0,434.9 841.0,435.7 842.0,436.5 843.0,437.1 844.0,437.6 845.0,438.1 846.0,438.5 847.0,438.8 848.0,439.1 849.0,439.3 850.0,439.5 851.0,439.7 852.0,439.8 853.0,439.9 854.0,440.0 855.0,440.1 856.0,440.2 857.0,440.3 858.0,440.3 859.0,440.4 860.0,440.4 861.0,440.5 862.0,440.5 863.0,440.5 864.0,440.6 865.0,440.6 866.0,440.6 867.0,440.6 868.0,440.7 869.0,440.7 870.0,440.7 871.0,440.7 872.0,440.7 873.0,440.8 874.0,440.8 875.0,440.8 876.0,440.8 877.0,440.8 878.0,440.8 879.0,440.8 880.0,440.9 881.0,440.9 882.0,440.9" fill="none" stroke="#ff0000" stroke-width="1.8" stroke-linejoin="round" stroke-linecap="round" />
<polyline points="802.0,436.3 803.0,436.5 804.0,436.8 805.0,437.0 806.0,437.2 807.0,437.4 808.0,437.6 809.0,437.8 810.0,437.9 811.0,438.0 812.0,438.0 813.0,438.1 814.0,438.1 815.0,438.1 816.0,438.0 817.0,438.0 818.0,437.9 819.0,437.8 820.0,437.7 821.0,437.6 822.0,437.5 823.0,437.4 824.0,437.2 825.0,437.1 826.0,437.0 827.0,437.0 828.0,436.9 829.0,436.8 830.0,436.8 831.0,436.8 832.0,436.8 833.0,436.8 834.0,436.8 835.0,436.9 836.0,437.0 837.0,437.1 838.0,437.2 839.0,437.3 840.0,437.5 841.0,437.7 842.0,437.8 843.0,438.0 844.0,438.2 845.0,438.4 846.0,438.6 847.0,438.8 848.0,439.0 849.0,439.2 850.0,439.4 851.0,439.6 852.0,439.7 853.0,439.9 854.0,440.1 855.0,440.2 856.0,440.3 857.0,440.5 858.0,440.6 859.0,440.7 860.0,440.8 861.0,440.9 862.0,440.9" fill="none" stroke="#008000" stroke-width="2.2" stroke-linejoin="round" stroke-linecap="round" />
<polyline points="604.0,424.3 605.0,424.3 606.0,424.3 607.0,424.3 608.0,424.3 609.0,424.3 610.0,424.3 611.0,424.3 612.0,424.3 613.0,424.3 614.0,424.3 615.0,424.3 616.0,424.3 617.0,424.3 618.0,424.3 619.0,424.3 620.0,424.3 621.0,424.3 622.0,424.3 623.0,424.4 624.0,424.4 625.0,424.4 626.0,424.4 627.0,424.4 628.0,424.4 629.0,424.4 630.0,424.4 631.0,424.4 632.0,424.4 633.0,424.4 634.0,424.4 635.0,424.5 636.0,424.5 637.0,424.5 638.0,424.5 639.0,424.5 640.0,424.5 641.0,424.6 642.0,424.6 643.0,424.6 644.0,424.6 645.0,424.6 646.0,424.7 647.0,424.7 648.0,424.7 649.0,424.8 650.0,424.8 651.0,424.8 652.0,424.9 653.0,424.9 654.0,424.9 655.0,425.0 656.0,425.0 657.0,425.1 658.0,425.1 659.0,425.1 660.0,425.2 661.0,425.2 662.0,425.3 663.0,425.4 664.0,425.4 665.0,425.5 666.0,425.5 667.0,425.6 668.0,425.7 669.0,425.7 670.0,425.8 671.0,425.9 672.0,425.9 673.0,426.0 674.0,426.1 675.0,426.2 676.0,426.2 677.0,426.3 678.0,426.4 679.0,426.5 680.0,426.6 681.0,426.7 682.0,426.7 683.0,426.8 684.0,426.9 685.0,427.0 686.0,427.1 687.0,427.2 688.0,427.3 689.0,427.4 690.0,427.4 691.0,427.5 692.0,427.6 693.0,427.7 694.0,427.8 695.0,427.9 696.0,428.0 697.0,428.1 698.0,428.2 699.0,428.2 700.0,428.3 701.0,428.4 702.0,428.5 703.0,428.6 704.0,428.7 705.0,428.7 706.0,428.8 707.0,428.9 708.0,429.0 709.0,429.0 710.0,429.1 711.0,429.2 712.0,429.2 713.0,429.3 714.0,429.4 715.0,429.4 716.0,429.5 717.0,429.5 718.0,429.6 719.0,429.7 720.0,429.7 721.0,429.8 722.0,429.8 723.0,429.8 724.0,429.9 725.0,429.9 726.0,430.0 727.0,430.0 728.0,430.0 729.0,430.1 730.0,430.1 731.0,430.1 732.0,430.2 733.0,430.2 734.0,430.2 735.0,430.3 736.0,430.3 737.0,430.3 738.0,430.3 739.0,430.3 740.0,430.4 741.0,430.4 742.0,430.4 743.0,430.4 744.0,430.4 745.0,430.4 746.0,430.5 747.0,430.5 748.0,430.5 749.0,430.5 750.0,430.5 751.0,430.5 752.0,430.5 753.0,430.5 754.0,430.5 755.0,430.5 756.0,430.5 757.0,430.5 758.0,430.6 759.0,430.6 760.0,430.6 761.0,430.6 762.0,430.6 763.0,430.6 764.0,430.6 765.0,430.6 766.0,430.6 767.0,430.6 768.0,430.6 769.0,430.6 770.0,430.7 771.0,430.7 772.0,430.7 773.0,430.7 774.0,430.8 775.0,430.8 776.0,430.8 777.0,430.9 778.0,431.0 779.0,431.0 780.0,431.1 781.0,431.2 782.0,431.3 783.0,431.4 784.0,431.6 785.0,431.7 786.0,431.9 787.0,432.1 788.0,432.3 789.0,432.5 790.0,432.8 791.0,433.0 792.0,433.3 793.0,433.6 794.0,433.9 795.0,434.3 796.0,434.6 797.0,434.9 798.0,435.3 799.0,435.6 800.0,436.0 801.0,436.4 802.0,436.7 803.0,437.1 804.0,437.4 805.0,437.7 806.0,438.1 807.0,438.4 808.0,438.7 809.0,439.0 810.0,439.2 811.0,439.5 812.0,439.7 813.0,439.9 814.0,440.1 815.0,440.3 816.0,440.4 817.0,440.6 818.0,440.7 819.0,440.8 820.0,440.9 821.0,441.0 822.0,441.0 823.0,441.1 824.0,441.2 825.0,441.2 826.0,441.2 827.0,441.3 828.0,441.3 829.0,441.3 830.0,441.3 831.0,441.3 832.0,441.4 833.0,441.4 834.0,441.4 835.0,441.4 836.0,441.4 837.0,441.4 838.0,441.4 839.0,441.4 840.0,441.4 841.0,441.4 842.0,441.4 843.0,441.4 844.0,441.4 845.0,441.4 846.0,441.4 847.0,441.4 848.0,441.4 849.0,441.4 850.0,441.4 851.0,441.4 852.0,441.4 853.0,441.4 854.0,441.4 855.0,441.4 856.0,441.4 857.0,441.4 858.0,441.4 859.0,441.4 860.0,441.4 861.0,441.4 862.0,441.4 863.0,441.4 864.0,441.4 865.0,441.4 866.0,441.4 867.0,441.4 868.0,441.4 869.0,441.4 870.0,441.4 871.0,441.4 872.0,441.4 873.0,441.4 874.0,441.4 875.0,441.4 876.0,441.4 877.0,441.4 878.0,441.4 879.0,441.4 880.0,441.4 881.0,441.4 882.0,441.4" fill="none" stroke="#000" stroke-width="2.6" stroke-linejoin="round" stroke-linecap="round" />
<polyline points="604.0,424.0 605.0,424.0 606.0,424.0 607.0,424.0 608.0,424.0 609.0,423.9 610.0,423.9 611.0,423.9 612.0,423.9 613.0,423.9 614.0,423.8 615.0,423.8 616.0,423.8 617.0,423.7 618.0,423.7 619.0,423.6 620.0,423.6 621.0,423.5 622.0,423.4 623.0,423.3 624.0,423.3 625.0,423.1 626.0,423.0 627.0,422.9 628.0,422.8 629.0,422.6 630.0,422.4 631.0,422.2 632.0,422.0 633.0,421.8 634.0,421.5 635.0,421.2 636.0,420.9 637.0,420.5 638.0,420.2 639.0,419.7 640.0,419.3 641.0,418.8 642.0,418.3 643.0,417.7 644.0,417.1 645.0,416.5 646.0,415.8 647.0,415.1 648.0,414.4 649.0,413.5 650.0,412.7 651.0,411.8 652.0,410.9 653.0,409.9 654.0,408.9 655.0,407.9 656.0,406.8 657.0,405.7 658.0,404.5 659.0,403.4 660.0,402.2 661.0,401.0 662.0,399.7 663.0,398.5 664.0,397.3 665.0,396.1 666.0,394.9 667.0,393.7 668.0,392.5 669.0,391.4 670.0,390.3 671.0,389.2 672.0,388.2 673.0,387.2 674.0,386.3 675.0,385.5 676.0,384.8 677.0,384.1 678.0,383.5 679.0,383.0 680.0,382.6 681.0,382.3 682.0,382.1 683.0,382.0 684.0,382.0 685.0,382.1 686.0,382.3 687.0,382.6 688.0,383.0 689.0,383.6 690.0,384.2 691.0,384.9 692.0,385.6 693.0,386.5 694.0,387.4 695.0,388.5 696.0,389.5 697.0,390.7 698.0,391.8 699.0,393.1 700.0,394.3 701.0,395.6 702.0,396.9 703.0,398.3 704.0,399.6 705.0,401.0 706.0,402.3 707.0,403.7 708.0,405.0 709.0,406.3 710.0,407.6 711.0,408.9 712.0,410.1 713.0,411.3 714.0,412.5 715.0,413.6 716.0,414.7 717.0,415.7 718.0,416.7 719.0,417.6 720.0,418.5 721.0,419.4 722.0,420.2 723.0,421.0 724.0,421.7 725.0,422.4 726.0,423.0 727.0,423.6 728.0,424.1 729.0,424.6 730.0,425.1 731.0,425.5 732.0,425.9 733.0,426.3 734.0,426.6 735.0,426.9 736.0,427.2 737.0,427.4 738.0,427.6 739.0,427.8 740.0,428.0 741.0,428.2 742.0,428.3 743.0,428.4 744.0,428.5 745.0,428.6 746.0,428.7 747.0,428.7 748.0,428.8 749.0,428.8 750.0,428.8 751.0,428.8 752.0,428.8 753.0,428.7 754.0,428.7 755.0,428.6 756.0,428.4 757.0,428.3 758.0,428.1 759.0,427.9 760.0,427.6 761.0,427.3 762.0,426.9 763.0,426.4 764.0,425.9 765.0,425.2 766.0,424.5 767.0,423.6 768.0,422.6 769.0,421.4 770.0,420.0 771.0,418.5 772.0,416.8 773.0,414.8 774.0,412.6 775.0,410.2 776.0,407.5 777.0,404.5 778.0,401.2 779.0,397.7 780.0,393.8 781.0,389.7 782.0,385.3 783.0,380.7 784.0,375.8 785.0,370.7 786.0,365.4 787.0,359.9 788.0,354.4 789.0,348.8 790.0,343.2 791.0,337.6 792.0,332.1 793.0,326.9 794.0,321.8 795.0,317.1 796.0,312.7 797.0,308.8 798.0,305.3 799.0,302.4 800.0,300.1 801.0,298.5 802.0,297.5 803.0,297.2 804.0,297.6 805.0,298.7 806.0,300.5 807.0,302.9 808.0,305.9 809.0,309.5 810.0,313.6 811.0,318.1 812.0,323.0 813.0,328.2 814.0,333.6 815.0,339.3 816.0,345.0 817.0,350.8 818.0,356.6 819.0,362.3 820.0,367.9 821.0,373.3 822.0,378.6 823.0,383.7 824.0,388.5 825.0,393.1 826.0,397.4 827.0,401.4 828.0,405.1 829.0,408.5 830.0,411.7 831.0,414.6 832.0,417.3 833.0,419.7 834.0,421.8 835.0,423.8 836.0,425.6 837.0,427.1 838.0,428.6 839.0,429.8 840.0,431.0 841.0,432.0 842.0,432.9 843.0,433.7 844.0,434.4 845.0,435.1 846.0,435.7 847.0,436.2 848.0,436.7 849.0,437.1 850.0,437.5 851.0,437.8 852.0,438.2 853.0,438.4 854.0,438.7 855.0,438.9 856.0,439.1 857.0,439.3 858.0,439.5 859.0,439.7 860.0,439.8 861.0,439.9 862.0,440.0 863.0,440.1 864.0,440.2 865.0,440.3 866.0,440.4 867.0,440.4 868.0,440.5 869.0,440.5 870.0,440.6 871.0,440.6 872.0,440.7 873.0,440.7 874.0,440.7 875.0,440.7 876.0,440.8 877.0,440.8 878.0,440.8 879.0,440.8 880.0,440.8 881.0,440.9 882.0,440.9" fill="none" stroke="#000" stroke-width="2.7" stroke-linejoin="round" stroke-linecap="round" />
<path d="M621.3 471.0L621.3 466.7 M673.3 471.0L673.3 462.5 M725.3 471.0L725.3 466.7 M777.3 471.0L777.3 462.5 M829.3 471.0L829.3 466.7 M881.3 471.0L881.3 462.5 M933.3 471.0L933.3 466.7 M621.3 273.6L621.3 277.9 M673.3 273.6L673.3 282.1 M725.3 273.6L725.3 277.9 M777.3 273.6L777.3 282.1 M829.3 273.6L829.3 277.9 M881.3 273.6L881.3 282.1 M933.3 273.6L933.3 277.9 M569.3 289.6L577.8 289.6 M985.2 289.6L976.7 289.6 M569.3 306.0L573.6 306.0 M985.2 306.0L980.9 306.0 M569.3 322.5L577.8 322.5 M985.2 322.5L976.7 322.5 M569.3 339.0L573.6 339.0 M985.2 339.0L980.9 339.0 M569.3 355.5L577.8 355.5 M985.2 355.5L976.7 355.5 M569.3 371.9L573.6 371.9 M985.2 371.9L980.9 371.9 M569.3 388.4L577.8 388.4 M985.2 388.4L976.7 388.4 M569.3 404.9L573.6 404.9 M985.2 404.9L980.9 404.9 M569.3 421.3L577.8 421.3 M985.2 421.3L976.7 421.3 M569.3 437.8L573.6 437.8 M985.2 437.8L980.9 437.8 M569.3 454.3L577.8 454.3 M985.2 454.3L976.7 454.3" stroke="#000" stroke-width="1.6" fill="none"/>
<rect x="569.3" y="273.6" width="415.9" height="197.4" fill="none" stroke="#000" stroke-width="1.6"/>
<polyline points="570.0,646.1 571.0,644.9 572.0,645.8 573.0,646.4 574.0,645.5 575.0,646.1 576.0,646.0 577.0,647.2 578.0,646.3 579.0,647.2 580.0,646.6 581.0,647.7 582.0,646.8 583.0,646.7 584.0,647.4 585.0,649.3 586.0,647.7 587.0,646.9 588.0,647.3 589.0,650.3 590.0,648.2 591.0,648.4 592.0,648.8 593.0,650.0 594.0,649.4 595.0,649.5 596.0,649.3 597.0,648.8 598.0,649.4 599.0,649.2 600.0,648.5 601.0,647.7 602.0,650.8 603.0,650.8 604.0,650.6 605.0,650.6 606.0,650.5 607.0,649.5 608.0,649.6 609.0,650.3 610.0,650.3 611.0,650.2 612.0,649.9 613.0,650.8 614.0,650.8 615.0,651.2 616.0,651.2 617.0,650.1 618.0,650.6 619.0,650.2 620.0,650.3 621.0,651.1 622.0,650.8 623.0,650.2 624.0,650.3 625.0,650.0 626.0,649.5 627.0,649.3 628.0,648.9 629.0,649.8 630.0,648.4 631.0,648.4 632.0,648.3 633.0,647.7 634.0,648.6 635.0,647.8 636.0,646.1 637.0,646.3 638.0,646.8 639.0,645.7 640.0,645.6 641.0,645.1 642.0,644.5 643.0,643.5 644.0,643.2 645.0,642.6 646.0,641.5 647.0,641.3 648.0,640.4 649.0,639.7 650.0,639.0 651.0,637.8 652.0,636.4 653.0,636.4 654.0,635.2 655.0,633.4 656.0,632.4 657.0,632.0 658.0,631.1 659.0,628.9 660.0,628.4 661.0,627.2 662.0,626.2 663.0,625.5 664.0,625.0 665.0,622.6 666.0,622.7 667.0,621.5 668.0,621.0 669.0,619.0 670.0,618.2 671.0,617.7 672.0,616.6 673.0,616.5 674.0,615.2 675.0,614.9 676.0,614.1 677.0,613.1 678.0,613.5 679.0,612.6 680.0,612.6 681.0,612.5 682.0,612.8 683.0,612.0 684.0,613.4 685.0,613.5 686.0,613.6 687.0,613.5 688.0,614.0 689.0,615.0 690.0,615.5 691.0,616.7 692.0,617.7 693.0,618.7 694.0,619.5 695.0,620.0 696.0,622.3 697.0,623.5 698.0,623.4 699.0,624.8 700.0,627.2 701.0,628.1 702.0,628.7 703.0,630.1 704.0,630.4 705.0,632.2 706.0,634.0 707.0,633.7 708.0,636.1 709.0,636.4 710.0,638.9 711.0,638.6 712.0,639.6 713.0,640.9 714.0,641.9 715.0,643.2 716.0,644.6 717.0,644.3 718.0,645.5 719.0,646.7 720.0,646.7 721.0,648.2 722.0,648.7 723.0,649.4 724.0,649.7 725.0,650.6 726.0,651.4 727.0,651.1 728.0,652.2 729.0,652.1 730.0,651.6 731.0,653.3 732.0,653.2 733.0,653.9 734.0,653.3 735.0,653.8 736.0,653.7 737.0,653.5 738.0,654.4 739.0,655.2 740.0,654.7 741.0,654.5 742.0,654.5 743.0,654.2 744.0,655.0 745.0,655.3 746.0,654.8 747.0,654.8 748.0,654.7 749.0,654.5 750.0,655.7 751.0,655.4 752.0,655.0 753.0,654.3 754.0,654.6 755.0,655.1 756.0,655.0 757.0,655.6 758.0,654.5 759.0,653.9 760.0,653.5 761.0,652.3 762.0,653.1 763.0,651.4 764.0,651.5 765.0,650.7 766.0,650.2 767.0,649.3 768.0,648.2 769.0,646.8 770.0,645.0 771.0,643.6 772.0,641.5 773.0,638.7 774.0,637.0 775.0,633.8 776.0,631.2 777.0,628.1 778.0,624.0 779.0,619.9 780.0,616.7 781.0,611.7 782.0,607.2 783.0,602.7 784.0,597.0 785.0,592.0 786.0,586.9 787.0,580.7 788.0,575.4 789.0,570.3 790.0,565.4 791.0,559.0 792.0,555.1 793.0,550.6 794.0,545.6 795.0,541.9 796.0,537.8 797.0,536.1 798.0,533.2 799.0,532.0 800.0,530.4 801.0,531.2 802.0,531.0 803.0,532.4 804.0,534.7 805.0,536.9 806.0,539.5 807.0,543.6 808.0,547.9 809.0,552.3 810.0,557.2 811.0,562.3 812.0,567.8 813.0,573.5 814.0,578.8 815.0,585.1 816.0,590.8 817.0,595.9 818.0,601.2 819.0,606.5 820.0,611.4 821.0,616.5 822.0,621.1 823.0,625.1 824.0,629.1 825.0,631.7 826.0,635.8 827.0,638.1 828.0,640.8 829.0,642.8 830.0,644.8 831.0,646.8 832.0,648.1 833.0,649.6 834.0,650.6 835.0,653.0 836.0,654.2 837.0,654.6 838.0,654.7 839.0,656.3 840.0,657.7 841.0,657.2 842.0,659.1 843.0,659.2 844.0,658.6 845.0,660.4 846.0,660.8 847.0,661.0 848.0,660.9 849.0,661.7 850.0,663.1 851.0,662.4 852.0,662.2 853.0,663.4 854.0,663.4 855.0,663.2 856.0,663.9 857.0,663.5 858.0,663.8 859.0,663.6 860.0,664.6 861.0,664.1 862.0,663.7 863.0,664.9 864.0,664.5 865.0,664.2 866.0,664.7 867.0,663.9 868.0,664.2 869.0,664.2 870.0,664.8 871.0,664.3 872.0,664.6 873.0,664.5 874.0,664.5 875.0,664.2 876.0,664.7 877.0,663.6 878.0,664.2 879.0,663.7 880.0,664.9 881.0,664.9 882.0,664.1 883.0,664.7 884.0,664.2 885.0,665.0 886.0,664.3 887.0,665.5 888.0,665.1 889.0,665.1 890.0,664.4 891.0,663.2 892.0,664.2 893.0,664.5 894.0,664.5 895.0,664.2 896.0,664.2 897.0,664.1 898.0,666.4 899.0,664.4 900.0,664.4 901.0,662.6 902.0,665.5 903.0,664.8 904.0,664.5 905.0,664.4 906.0,664.4 907.0,666.0 908.0,664.7 909.0,666.5 910.0,666.0 911.0,665.0 912.0,664.2 913.0,665.9 914.0,665.1 915.0,664.9 916.0,665.6 917.0,666.6 918.0,663.6 919.0,664.3 920.0,664.6 921.0,666.4 922.0,665.1 923.0,666.2 924.0,666.6 925.0,665.0 926.0,665.4 927.0,665.5 928.0,665.8 929.0,665.4 930.0,665.8 931.0,664.0 932.0,665.0 933.0,664.6 934.0,666.3 935.0,665.2 936.0,665.0 937.0,665.5 938.0,666.3 939.0,666.9 940.0,664.9 941.0,665.6 942.0,666.6 943.0,665.4 944.0,666.9 945.0,665.7 946.0,667.0 947.0,666.7 948.0,666.1 949.0,665.6 950.0,665.0 951.0,665.9 952.0,667.5 953.0,665.0 954.0,666.4 955.0,666.0 956.0,666.5 957.0,665.9 958.0,666.3 959.0,665.9" fill="none" stroke="#000" stroke-width="2.2" stroke-linejoin="round" stroke-linecap="round" />
<polyline points="613.0,650.5 614.0,650.5 615.0,650.5 616.0,650.4 617.0,650.4 618.0,650.3 619.0,650.3 620.0,650.2 621.0,650.1 622.0,650.0 623.0,649.9 624.0,649.8 625.0,649.7 626.0,649.6 627.0,649.4 628.0,649.3 629.0,649.1 630.0,648.9 631.0,648.7 632.0,648.4 633.0,648.1 634.0,647.8 635.0,647.5 636.0,647.2 637.0,646.8 638.0,646.4 639.0,646.0 640.0,645.5 641.0,645.0 642.0,644.4 643.0,643.8 644.0,643.2 645.0,642.6 646.0,641.9 647.0,641.1 648.0,640.4 649.0,639.5 650.0,638.7 651.0,637.8 652.0,636.9 653.0,635.9 654.0,634.9 655.0,633.9 656.0,632.9 657.0,631.8 658.0,630.7 659.0,629.7 660.0,628.5 661.0,627.4 662.0,626.3 663.0,625.2 664.0,624.1 665.0,623.0 666.0,622.0 667.0,620.9 668.0,619.9 669.0,619.0 670.0,618.1 671.0,617.2 672.0,616.4 673.0,615.6 674.0,615.0 675.0,614.4 676.0,613.8 677.0,613.4 678.0,613.0 679.0,612.8 680.0,612.6 681.0,612.5 682.0,612.5 683.0,612.6 684.0,612.8 685.0,613.1 686.0,613.5 687.0,613.9 688.0,614.5 689.0,615.1 690.0,615.9 691.0,616.6 692.0,617.5 693.0,618.4 694.0,619.4 695.0,620.4 696.0,621.5 697.0,622.6 698.0,623.8 699.0,624.9 700.0,626.1 701.0,627.4 702.0,628.6 703.0,629.8 704.0,631.0 705.0,632.2 706.0,633.4 707.0,634.6 708.0,635.8 709.0,636.9 710.0,638.0 711.0,639.1 712.0,640.2 713.0,641.2 714.0,642.2 715.0,643.1 716.0,644.0 717.0,644.9 718.0,645.7 719.0,646.5 720.0,647.2 721.0,647.9 722.0,648.5 723.0,649.1 724.0,649.7 725.0,650.2 726.0,650.7 727.0,651.2 728.0,651.6 729.0,652.0 730.0,652.3 731.0,652.7 732.0,653.0 733.0,653.2 734.0,653.5 735.0,653.7 736.0,653.9 737.0,654.1 738.0,654.2 739.0,654.4 740.0,654.5 741.0,654.6 742.0,654.7 743.0,654.8 744.0,654.9 745.0,654.9 746.0,655.0 747.0,655.0 748.0,655.0 749.0,655.0 750.0,655.0 751.0,655.0 752.0,654.9 753.0,654.8 754.0,654.8 755.0,654.6 756.0,654.5 757.0,654.3 758.0,654.1 759.0,653.9 760.0,653.5 761.0,653.2 762.0,652.7 763.0,652.2 764.0,651.6 765.0,650.8 766.0,650.0 767.0,648.9 768.0,647.8 769.0,646.5 770.0,644.9 771.0,643.2 772.0,641.3 773.0,639.1 774.0,636.6 775.0,633.9 776.0,631.0 777.0,627.7 778.0,624.1 779.0,620.3 780.0,616.2 781.0,611.8 782.0,607.2 783.0,602.3 784.0,597.2 785.0,592.0 786.0,586.7 787.0,581.2 788.0,575.8 789.0,570.3 790.0,565.0 791.0,559.8 792.0,554.8 793.0,550.2 794.0,545.9 795.0,542.0 796.0,538.6 797.0,535.8 798.0,533.5 799.0,531.9 800.0,531.0 801.0,530.8 802.0,531.3 803.0,532.5 804.0,534.3 805.0,536.8 806.0,539.9 807.0,543.6 808.0,547.8 809.0,552.4 810.0,557.3 811.0,562.6 812.0,568.1 813.0,573.7 814.0,579.5 815.0,585.2 816.0,591.0 817.0,596.6 818.0,602.1 819.0,607.5 820.0,612.6 821.0,617.5 822.0,622.2 823.0,626.5 824.0,630.6 825.0,634.3 826.0,637.8 827.0,641.0 828.0,643.8 829.0,646.4 830.0,648.8 831.0,650.8 832.0,652.7 833.0,654.3 834.0,655.7 835.0,657.0 836.0,658.1 837.0,659.0 838.0,659.8 839.0,660.5 840.0,661.1 841.0,661.6 842.0,662.0 843.0,662.4 844.0,662.7 845.0,662.9 846.0,663.1 847.0,663.3 848.0,663.4 849.0,663.6 850.0,663.7 851.0,663.8 852.0,663.8 853.0,663.9 854.0,664.0 855.0,664.0 856.0,664.1 857.0,664.1 858.0,664.1 859.0,664.2 860.0,664.2 861.0,664.2 862.0,664.3 863.0,664.3 864.0,664.3 865.0,664.3 866.0,664.3 867.0,664.4 868.0,664.4 869.0,664.4 870.0,664.4 871.0,664.4 872.0,664.4 873.0,664.5 874.0,664.5 875.0,664.5 876.0,664.5 877.0,664.5 878.0,664.5 879.0,664.5 880.0,664.5" fill="none" stroke="#ff0000" stroke-width="1.8" stroke-linejoin="round" stroke-linecap="round" />
<polyline points="817.0,664.0 818.0,664.0 819.0,663.9 820.0,663.8 821.0,663.6 822.0,663.5 823.0,663.3 824.0,663.0 825.0,662.8 826.0,662.5 827.0,662.2 828.0,661.9 829.0,661.6 830.0,661.4 831.0,661.1 832.0,660.9 833.0,660.7 834.0,660.6 835.0,660.5 836.0,660.5 837.0,660.5 838.0,660.6 839.0,660.7 840.0,660.9 841.0,661.1 842.0,661.4 843.0,661.7 844.0,662.0 845.0,662.3 846.0,662.6 847.0,662.9 848.0,663.1 849.0,663.4 850.0,663.7 851.0,663.9 852.0,664.1 853.0,664.2 854.0,664.4 855.0,664.5" fill="none" stroke="#008000" stroke-width="2.2" stroke-linejoin="round" stroke-linecap="round" />
<polyline points="609.0,651.0 610.0,651.0 611.0,651.0 612.0,651.0 613.0,651.0 614.0,651.0 615.0,651.0 616.0,651.0 617.0,651.0 618.0,651.0 619.0,651.0 620.0,651.0 621.0,651.0 622.0,651.0 623.0,651.0 624.0,651.1 625.0,651.1 626.0,651.1 627.0,651.1 628.0,651.1 629.0,651.1 630.0,651.1 631.0,651.1 632.0,651.1 633.0,651.1 634.0,651.1 635.0,651.1 636.0,651.2 637.0,651.2 638.0,651.2 639.0,651.2 640.0,651.2 641.0,651.2 642.0,651.2 643.0,651.3 644.0,651.3 645.0,651.3 646.0,651.3 647.0,651.3 648.0,651.4 649.0,651.4 650.0,651.4 651.0,651.5 652.0,651.5 653.0,651.5 654.0,651.6 655.0,651.6 656.0,651.6 657.0,651.7 658.0,651.7 659.0,651.8 660.0,651.8 661.0,651.8 662.0,651.9 663.0,651.9 664.0,652.0 665.0,652.0 666.0,652.1 667.0,652.2 668.0,652.2 669.0,652.3 670.0,652.3 671.0,652.4 672.0,652.5 673.0,652.5 674.0,652.6 675.0,652.7 676.0,652.7 677.0,652.8 678.0,652.9 679.0,652.9 680.0,653.0 681.0,653.1 682.0,653.2 683.0,653.2 684.0,653.3 685.0,653.4 686.0,653.5 687.0,653.6 688.0,653.6 689.0,653.7 690.0,653.8 691.0,653.9 692.0,654.0 693.0,654.0 694.0,654.1 695.0,654.2 696.0,654.3 697.0,654.4 698.0,654.4 699.0,654.5 700.0,654.6 701.0,654.7 702.0,654.7 703.0,654.8 704.0,654.9 705.0,654.9 706.0,655.0 707.0,655.1 708.0,655.1 709.0,655.2 710.0,655.3 711.0,655.3 712.0,655.4 713.0,655.4 714.0,655.5 715.0,655.6 716.0,655.6 717.0,655.7 718.0,655.7 719.0,655.8 720.0,655.8 721.0,655.8 722.0,655.9 723.0,655.9 724.0,656.0 725.0,656.0 726.0,656.0 727.0,656.1 728.0,656.1 729.0,656.1 730.0,656.2 731.0,656.2 732.0,656.2 733.0,656.3 734.0,656.3 735.0,656.3 736.0,656.3 737.0,656.3 738.0,656.4 739.0,656.4 740.0,656.4 741.0,656.4 742.0,656.4 743.0,656.4 744.0,656.4 745.0,656.5 746.0,656.5 747.0,656.5 748.0,656.5 749.0,656.5 750.0,656.5 751.0,656.5 752.0,656.5 753.0,656.5 754.0,656.5 755.0,656.5 756.0,656.6 757.0,656.6 758.0,656.6 759.0,656.6 760.0,656.6 761.0,656.6 762.0,656.6 763.0,656.6 764.0,656.6 765.0,656.6 766.0,656.6 767.0,656.6 768.0,656.6 769.0,656.7 770.0,656.7 771.0,656.7 772.0,656.7 773.0,656.7 774.0,656.8 775.0,656.8 776.0,656.9 777.0,656.9 778.0,657.0 779.0,657.1 780.0,657.2 781.0,657.3 782.0,657.4 783.0,657.5 784.0,657.6 785.0,657.8 786.0,657.9 787.0,658.1 788.0,658.3 789.0,658.5 790.0,658.7 791.0,658.9 792.0,659.2 793.0,659.4 794.0,659.7 795.0,660.0 796.0,660.2 797.0,660.5 798.0,660.8 799.0,661.1 800.0,661.4 801.0,661.6 802.0,661.9 803.0,662.2 804.0,662.4 805.0,662.6 806.0,662.9 807.0,663.1 808.0,663.3 809.0,663.5 810.0,663.7 811.0,663.8 812.0,664.0 813.0,664.1 814.0,664.2 815.0,664.3 816.0,664.4 817.0,664.5 818.0,664.6 819.0,664.7 820.0,664.7 821.0,664.8 822.0,664.8 823.0,664.8 824.0,664.9 825.0,664.9 826.0,664.9 827.0,664.9 828.0,664.9 829.0,665.0 830.0,665.0 831.0,665.0 832.0,665.0 833.0,665.0 834.0,665.0 835.0,665.0 836.0,665.0 837.0,665.0 838.0,665.0 839.0,665.0 840.0,665.0 841.0,665.0 842.0,665.0 843.0,665.0 844.0,665.0 845.0,665.0 846.0,665.0 847.0,665.0 848.0,665.0 849.0,665.0 850.0,665.0 851.0,665.0 852.0,665.0 853.0,665.0 854.0,665.0 855.0,665.0 856.0,665.0 857.0,665.0 858.0,665.0 859.0,665.0 860.0,665.0 861.0,665.0 862.0,665.0 863.0,665.0 864.0,665.0 865.0,665.0 866.0,665.0 867.0,665.0 868.0,665.0 869.0,665.0 870.0,665.0 871.0,665.0 872.0,665.0 873.0,665.0 874.0,665.0 875.0,665.0 876.0,665.0 877.0,665.0 878.0,665.0 879.0,665.0 880.0,665.0 881.0,665.0 882.0,665.0 883.0,665.0 884.0,665.0 885.0,665.0 886.0,665.0 887.0,665.0 888.0,665.0 889.0,665.0 890.0,665.0" fill="none" stroke="#000" stroke-width="2.6" stroke-linejoin="round" stroke-linecap="round" />
<polyline points="609.0,650.6 610.0,650.6 611.0,650.6 612.0,650.6 613.0,650.5 614.0,650.5 615.0,650.5 616.0,650.4 617.0,650.4 618.0,650.3 619.0,650.3 620.0,650.2 621.0,650.1 622.0,650.0 623.0,649.9 624.0,649.8 625.0,649.7 626.0,649.6 627.0,649.4 628.0,649.3 629.0,649.1 630.0,648.9 631.0,648.7 632.0,648.4 633.0,648.1 634.0,647.8 635.0,647.5 636.0,647.2 637.0,646.8 638.0,646.4 639.0,646.0 640.0,645.5 641.0,645.0 642.0,644.4 643.0,643.8 644.0,643.2 645.0,642.6 646.0,641.9 647.0,641.1 648.0,640.4 649.0,639.5 650.0,638.7 651.0,637.8 652.0,636.9 653.0,635.9 654.0,634.9 655.0,633.9 656.0,632.9 657.0,631.8 658.0,630.7 659.0,629.7 660.0,628.5 661.0,627.4 662.0,626.3 663.0,625.2 664.0,624.1 665.0,623.0 666.0,622.0 667.0,620.9 668.0,619.9 669.0,619.0 670.0,618.1 671.0,617.2 672.0,616.4 673.0,615.6 674.0,615.0 675.0,614.4 676.0,613.8 677.0,613.4 678.0,613.0 679.0,612.8 680.0,612.6 681.0,612.5 682.0,612.5 683.0,612.6 684.0,612.8 685.0,613.1 686.0,613.5 687.0,613.9 688.0,614.5 689.0,615.1 690.0,615.9 691.0,616.6 692.0,617.5 693.0,618.4 694.0,619.4 695.0,620.4 696.0,621.5 697.0,622.6 698.0,623.8 699.0,624.9 700.0,626.1 701.0,627.4 702.0,628.6 703.0,629.8 704.0,631.0 705.0,632.2 706.0,633.4 707.0,634.6 708.0,635.8 709.0,636.9 710.0,638.0 711.0,639.1 712.0,640.2 713.0,641.2 714.0,642.2 715.0,643.1 716.0,644.0 717.0,644.9 718.0,645.7 719.0,646.5 720.0,647.2 721.0,647.9 722.0,648.5 723.0,649.1 724.0,649.7 725.0,650.2 726.0,650.7 727.0,651.2 728.0,651.6 729.0,652.0 730.0,652.3 731.0,652.7 732.0,653.0 733.0,653.2 734.0,653.5 735.0,653.7 736.0,653.9 737.0,654.1 738.0,654.2 739.0,654.4 740.0,654.5 741.0,654.6 742.0,654.7 743.0,654.8 744.0,654.9 745.0,654.9 746.0,655.0 747.0,655.0 748.0,655.0 749.0,655.0 750.0,655.0 751.0,655.0 752.0,654.9 753.0,654.8 754.0,654.8 755.0,654.6 756.0,654.5 757.0,654.3 758.0,654.1 759.0,653.9 760.0,653.5 761.0,653.2 762.0,652.7 763.0,652.2 764.0,651.6 765.0,650.8 766.0,650.0 767.0,648.9 768.0,647.8 769.0,646.5 770.0,644.9 771.0,643.2 772.0,641.3 773.0,639.1 774.0,636.6 775.0,633.9 776.0,631.0 777.0,627.7 778.0,624.1 779.0,620.3 780.0,616.2 781.0,611.8 782.0,607.2 783.0,602.3 784.0,597.2 785.0,592.0 786.0,586.7 787.0,581.2 788.0,575.8 789.0,570.3 790.0,565.0 791.0,559.8 792.0,554.8 793.0,550.2 794.0,545.9 795.0,542.0 796.0,538.6 797.0,535.8 798.0,533.5 799.0,531.9 800.0,531.0 801.0,530.8 802.0,531.3 803.0,532.5 804.0,534.3 805.0,536.8 806.0,539.9 807.0,543.6 808.0,547.7 809.0,552.3 810.0,557.3 811.0,562.5 812.0,568.0 813.0,573.6 814.0,579.2 815.0,584.9 816.0,590.6 817.0,596.1 818.0,601.5 819.0,606.7 820.0,611.7 821.0,616.4 822.0,620.8 823.0,624.9 824.0,628.7 825.0,632.2 826.0,635.4 827.0,638.2 828.0,640.8 829.0,643.1 830.0,645.2 831.0,647.0 832.0,648.6 833.0,650.1 834.0,651.3 835.0,652.5 836.0,653.6 837.0,654.5 838.0,655.4 839.0,656.2 840.0,657.0 841.0,657.7 842.0,658.4 843.0,659.0 844.0,659.6 845.0,660.2 846.0,660.7 847.0,661.2 848.0,661.6 849.0,662.0 850.0,662.3 851.0,662.7 852.0,662.9 853.0,663.2 854.0,663.4 855.0,663.5 856.0,663.7 857.0,663.8 858.0,663.9 859.0,664.0 860.0,664.1 861.0,664.1 862.0,664.2 863.0,664.2 864.0,664.3 865.0,664.3 866.0,664.3 867.0,664.3 868.0,664.4 869.0,664.4 870.0,664.4 871.0,664.4 872.0,664.4 873.0,664.5 874.0,664.5 875.0,664.5 876.0,664.5 877.0,664.5 878.0,664.5 879.0,664.5 880.0,664.5 881.0,664.6 882.0,664.6 883.0,664.6 884.0,664.6 885.0,664.6 886.0,664.6 887.0,664.6 888.0,664.6 889.0,664.6 890.0,664.6" fill="none" stroke="#000" stroke-width="2.7" stroke-linejoin="round" stroke-linecap="round" />
<path d="M621.3 682.4L621.3 678.1 M673.3 682.4L673.3 673.9 M725.3 682.4L725.3 678.1 M777.3 682.4L777.3 673.9 M829.3 682.4L829.3 678.1 M881.3 682.4L881.3 673.9 M933.3 682.4L933.3 678.1 M621.3 485.0L621.3 489.3 M673.3 485.0L673.3 493.5 M725.3 485.0L725.3 489.3 M777.3 485.0L777.3 493.5 M829.3 485.0L829.3 489.3 M881.3 485.0L881.3 493.5 M933.3 485.0L933.3 489.3 M569.3 523.1L577.8 523.1 M985.2 523.1L976.7 523.1 M569.3 561.1L573.6 561.1 M985.2 561.1L980.9 561.1 M569.3 599.1L577.8 599.1 M985.2 599.1L976.7 599.1 M569.3 637.1L573.6 637.1 M985.2 637.1L980.9 637.1 M569.3 675.0L577.8 675.0 M985.2 675.0L976.7 675.0" stroke="#000" stroke-width="1.6" fill="none"/>
<rect x="569.3" y="485.0" width="415.9" height="197.4" fill="none" stroke="#000" stroke-width="1.6"/>
<text x="74.3" y="706.9" font-family='"Liberation Serif", "DejaVu Serif", serif' font-size="19.5" font-weight="bold" font-style="normal" text-anchor="middle" fill="#000" >470</text>
<text x="178.3" y="706.9" font-family='"Liberation Serif", "DejaVu Serif", serif' font-size="19.5" font-weight="bold" font-style="normal" text-anchor="middle" fill="#000" >465</text>
<text x="282.3" y="706.9" font-family='"Liberation Serif", "DejaVu Serif", serif' font-size="19.5" font-weight="bold" font-style="normal" text-anchor="middle" fill="#000" >460</text>
<text x="386.3" y="706.9" font-family='"Liberation Serif", "DejaVu Serif", serif' font-size="19.5" font-weight="bold" font-style="normal" text-anchor="middle" fill="#000" >455</text>
<text x="490.3" y="706.9" font-family='"Liberation Serif", "DejaVu Serif", serif' font-size="19.5" font-weight="bold" font-style="normal" text-anchor="middle" fill="#000" >450</text>
<text transform="translate(36.9,383.3) rotate(-90)" font-family='"Liberation Serif", "DejaVu Serif", serif' font-size="20.0" font-weight="bold" text-anchor="middle"><tspan font-style="italic">I</tspan> (a. u.)</text>
<text x="569.3" y="706.9" font-family='"Liberation Serif", "DejaVu Serif", serif' font-size="19.5" font-weight="bold" font-style="normal" text-anchor="middle" fill="#000" >470</text>
<text x="673.3" y="706.9" font-family='"Liberation Serif", "DejaVu Serif", serif' font-size="19.5" font-weight="bold" font-style="normal" text-anchor="middle" fill="#000" >465</text>
<text x="777.3" y="706.9" font-family='"Liberation Serif", "DejaVu Serif", serif' font-size="19.5" font-weight="bold" font-style="normal" text-anchor="middle" fill="#000" >460</text>
<text x="881.3" y="706.9" font-family='"Liberation Serif", "DejaVu Serif", serif' font-size="19.5" font-weight="bold" font-style="normal" text-anchor="middle" fill="#000" >455</text>
<text x="985.3" y="706.9" font-family='"Liberation Serif", "DejaVu Serif", serif' font-size="19.5" font-weight="bold" font-style="normal" text-anchor="middle" fill="#000" >450</text>
<text transform="translate(531.9,383.3) rotate(-90)" font-family='"Liberation Serif", "DejaVu Serif", serif' font-size="20.0" font-weight="bold" text-anchor="middle"><tspan font-style="italic">I</tspan> (a. u.)</text>
<clipPath id="cl"><rect x="0" y="700" width="1024" height="42.3"/></clipPath>
<text x="282.3" y="741.9" clip-path="url(#cl)" font-family='"Liberation Serif", "DejaVu Serif", serif' font-size="19.3" font-weight="bold" text-anchor="middle"><tspan font-style="italic">B. E.</tspan> (eV)</text>
<text x="777.3" y="741.9" clip-path="url(#cl)" font-family='"Liberation Serif", "DejaVu Serif", serif' font-size="19.3" font-weight="bold" text-anchor="middle"><tspan font-style="italic">B. E.</tspan> (eV)</text>
<text x="294.0" y="35.6" font-family='"Liberation Serif", "DejaVu Serif", serif' font-size="33.8" letter-spacing="0.4" font-weight="bold" text-anchor="middle">(1)TiO<tspan font-size="22" dy="8">2</tspan><tspan dy="-8">-SiO</tspan><tspan font-size="22" dy="8">2</tspan><tspan dy="-8">-Ag</tspan></text>
<text x="802.4" y="36.2" font-family='"Liberation Serif", "DejaVu Serif", serif' font-size="33.8" letter-spacing="0.4" font-weight="bold" text-anchor="middle">(2)TiO<tspan font-size="22" dy="8">2</tspan><tspan dy="-8">-SiO</tspan><tspan font-size="22" dy="8">2</tspan><tspan dy="-8">-Ag</tspan></text>
<text x="96.7" y="88.8" font-family='"Liberation Serif", "DejaVu Serif", serif' font-size="19.5" font-weight="bold" font-style="normal" text-anchor="start" fill="#000" >Ti2p</text>
<path d="M86.4 121.3H131.7" stroke="#ff0000" stroke-width="2.8"/>
<path d="M86.4 150.6H131.7" stroke="#0000ff" stroke-width="2.8"/>
<text x="136.8" y="127.9" font-family='"Liberation Serif", "DejaVu Serif", serif' font-size="19.5" font-weight="bold" fill="#000">Ti<tspan font-size="11.6" dy="-11.2">4+</tspan></text>
<text x="136.8" y="157.3" font-family='"Liberation Serif", "DejaVu Serif", serif' font-size="19.5" font-weight="bold" fill="#000">Ti<tspan font-size="11.6" dy="-11.2">3+</tspan></text>
<text x="418.6" y="102.3" font-family='"Liberation Serif", "DejaVu Serif", serif' font-size="19.5" font-weight="bold" font-style="normal" text-anchor="start" fill="#000" >x =1</text>
<text x="440.9" y="170.0" font-family='"Liberation Serif", "DejaVu Serif", serif' font-size="19.5" font-weight="bold" fill="#008000">Ti<tspan font-size="11.6" dy="-11.2">2+</tspan></text>
<path d="M427.8 180.3L397.5 230.0" stroke="#008000" stroke-width="0.9" fill="none"/>
<path d="M393.4 236.3L396.9 225.6L402.2 228.9Z" fill="#008000"/>
<text x="401.9" y="317.7" font-family='"Liberation Serif", "DejaVu Serif", serif' font-size="19.5" font-weight="bold" font-style="normal" text-anchor="start" fill="#000" >x = 0.7</text>
<text x="398.7" y="540.2" font-family='"Liberation Serif", "DejaVu Serif", serif' font-size="19.5" font-weight="bold" font-style="normal" text-anchor="start" fill="#000" >x = 0.5</text>
<text x="591.7" y="88.8" font-family='"Liberation Serif", "DejaVu Serif", serif' font-size="19.5" font-weight="bold" font-style="normal" text-anchor="start" fill="#000" >Ti2p</text>
<path d="M581.4 121.3H626.7" stroke="#ff8080" stroke-width="1.3"/>
<path d="M581.4 150.4H626.7" stroke="#008000" stroke-width="2.8"/>
<text x="631.8" y="127.8" font-family='"Liberation Serif", "DejaVu Serif", serif' font-size="19.5" font-weight="bold" fill="#000">Ti<tspan font-size="11.6" dy="-11.2">4+</tspan></text>
<text x="631.8" y="157.2" font-family='"Liberation Serif", "DejaVu Serif", serif' font-size="19.5" font-weight="bold" fill="#000">Ti<tspan font-size="11.6" dy="-11.2">3+</tspan></text>
<text x="913.6" y="102.3" font-family='"Liberation Serif", "DejaVu Serif", serif' font-size="19.5" font-weight="bold" font-style="normal" text-anchor="start" fill="#000" >x =1</text>
<text x="896.9" y="317.7" font-family='"Liberation Serif", "DejaVu Serif", serif' font-size="19.5" font-weight="bold" font-style="normal" text-anchor="start" fill="#000" >x = 0.75</text>
<text x="893.7" y="540.2" font-family='"Liberation Serif", "DejaVu Serif", serif' font-size="19.5" font-weight="bold" font-style="normal" text-anchor="start" fill="#000" >x = 0.5</text>
<polyline points="62.5,938.3 63.5,938.8 64.5,938.5 65.5,938.4 66.5,938.3 67.5,938.0 68.5,938.6 69.5,939.2 70.5,939.4 71.5,938.8 72.5,939.4 73.5,940.2 74.5,939.5 75.5,939.3 76.5,939.4 77.5,939.3 78.5,939.6 79.5,939.2 80.5,939.2 81.5,939.3 82.5,939.0 83.5,939.3 84.5,939.0 85.5,938.7 86.5,939.6 87.5,940.4 88.5,940.7 89.5,940.4 90.5,940.4 91.5,941.2 92.5,941.4 93.5,940.4 94.5,939.4 95.5,940.1 96.5,941.3 97.5,941.2 98.5,941.2 99.5,941.3 100.5,941.1 101.5,941.2 102.5,941.3 103.5,941.1 104.5,941.8 105.5,942.3 106.5,941.5 107.5,941.1 108.5,941.0 109.5,941.4 110.5,941.3 111.5,941.0 112.5,941.9 113.5,942.3 114.5,942.3 115.5,941.7 116.5,941.9 117.5,942.3 118.5,942.6 119.5,942.6 120.5,942.8 121.5,943.1 122.5,942.9 123.5,942.6 124.5,942.3 125.5,942.3 126.5,942.9 127.5,943.0 128.5,942.6 129.5,943.3 130.5,943.6 131.5,943.1 132.5,943.1 133.5,942.8 134.5,942.2 135.5,942.9 136.5,944.6 137.5,945.2 138.5,945.2 139.5,944.7 140.5,943.6 141.5,943.8 142.5,943.6 143.5,942.1 144.5,942.7 145.5,944.1 146.5,944.2 147.5,944.4 148.5,944.4 149.5,944.0 150.5,943.3 151.5,943.1 152.5,943.0 153.5,942.9 154.5,944.0 155.5,944.2 156.5,943.6 157.5,943.2 158.5,944.0 159.5,943.5 160.5,942.2 161.5,943.2 162.5,943.2 163.5,942.5 164.5,942.9 165.5,943.4 166.5,943.4 167.5,942.7 168.5,942.6 169.5,942.3 170.5,941.6 171.5,941.5 172.5,941.8 173.5,941.9 174.5,941.2 175.5,941.1 176.5,940.9 177.5,940.4 178.5,940.4 179.5,940.1 180.5,939.5 181.5,938.9 182.5,939.3 183.5,938.5 184.5,937.8 185.5,937.7 186.5,936.8 187.5,935.9 188.5,935.5 189.5,935.3 190.5,935.0 191.5,934.2 192.5,932.6 193.5,931.5 194.5,931.4 195.5,931.1 196.5,929.6 197.5,928.9 198.5,928.0 199.5,926.0 200.5,924.9 201.5,923.3 202.5,921.7 203.5,920.3 204.5,919.0 205.5,918.1 206.5,916.2 207.5,914.7 208.5,912.8 209.5,910.9 210.5,909.3 211.5,906.8 212.5,905.2 213.5,904.4 214.5,903.3 215.5,900.8 216.5,897.8 217.5,896.4 218.5,893.9 219.5,891.8 220.5,889.6 221.5,886.6 222.5,885.1 223.5,883.5 224.5,882.0 225.5,879.8 226.5,877.6 227.5,876.0 228.5,874.4 229.5,873.0 230.5,871.7 231.5,870.0 232.5,868.3 233.5,866.8 234.5,864.8 235.5,862.8 236.5,862.4 237.5,861.5 238.5,860.0 239.5,859.7 240.5,859.1 241.5,857.9 242.5,857.1 243.5,856.8 244.5,857.1 245.5,855.9 246.5,854.9 247.5,855.4 248.5,855.3 249.5,854.3 250.5,853.9 251.5,854.0 252.5,854.0 253.5,852.9 254.5,851.9 255.5,852.2 256.5,852.2 257.5,851.7 258.5,851.2 259.5,850.9 260.5,850.3 261.5,850.2 262.5,849.0 263.5,847.1 264.5,846.0 265.5,845.4 266.5,845.0 267.5,843.6 268.5,841.9 269.5,841.5 270.5,840.7 271.5,838.9 272.5,836.9 273.5,835.2 274.5,834.3 275.5,833.2 276.5,831.6 277.5,829.6 278.5,827.1 279.5,824.8 280.5,823.6 281.5,821.8 282.5,819.9 283.5,817.9 284.5,816.7 285.5,814.9 286.5,812.9 287.5,811.6 288.5,809.5 289.5,807.8 290.5,805.5 291.5,803.9 292.5,804.0 293.5,802.8 294.5,800.7 295.5,800.6 296.5,800.2 297.5,800.0 298.5,800.2 299.5,799.3 300.5,799.3 301.5,800.8 302.5,801.8 303.5,802.1 304.5,803.2 305.5,804.5 306.5,805.8 307.5,807.9 308.5,810.6 309.5,812.6 310.5,815.1 311.5,818.0 312.5,819.5 313.5,822.2 314.5,826.3 315.5,828.4 316.5,830.9 317.5,835.1 318.5,838.4 319.5,841.6 320.5,845.3 321.5,848.5 322.5,852.0 323.5,855.8 324.5,859.3 325.5,862.9 326.5,866.2 327.5,869.3 328.5,872.7 329.5,876.5 330.5,879.5 331.5,883.0 332.5,886.1 333.5,889.3 334.5,892.4 335.5,894.3 336.5,896.9 337.5,899.8 338.5,902.5 339.5,904.3 340.5,906.5 341.5,909.1 342.5,911.1 343.5,913.3 344.5,914.1 345.5,915.2 346.5,917.5 347.5,919.2 348.5,921.5 349.5,922.1 350.5,922.3 351.5,923.8 352.5,925.5 353.5,927.0 354.5,927.2 355.5,928.0 356.5,929.0 357.5,929.8 358.5,930.5 359.5,930.9 360.5,931.4 361.5,931.4 362.5,931.5 363.5,932.5 364.5,933.0 365.5,932.8 366.5,933.4 367.5,934.3 368.5,935.0 369.5,934.9 370.5,934.9 371.5,935.7 372.5,935.8 373.5,936.2 374.5,936.8 375.5,936.4 376.5,936.8 377.5,937.4 378.5,938.0 379.5,938.4 380.5,938.6 381.5,939.8 382.5,939.8 383.5,939.4 384.5,939.3 385.5,939.5 386.5,940.2 387.5,941.2 388.5,941.6 389.5,940.9 390.5,941.2 391.5,941.5 392.5,942.0 393.5,943.0 394.5,942.7 395.5,942.1 396.5,942.4 397.5,942.9 398.5,942.7 399.5,943.1 400.5,943.0 401.5,943.3 402.5,944.3 403.5,944.9 404.5,944.7 405.5,944.4 406.5,945.4 407.5,946.2 408.5,945.3 409.5,945.3 410.5,946.4 411.5,946.2 412.5,946.3 413.5,946.7 414.5,946.3 415.5,946.1 416.5,946.9 417.5,947.2 418.5,945.6 419.5,945.5 420.5,946.6 421.5,946.7 422.5,947.7 423.5,947.9 424.5,947.3 425.5,947.8 426.5,948.3 427.5,947.8 428.5,947.0 429.5,947.2 430.5,948.2 431.5,948.5 432.5,948.6 433.5,948.5 434.5,948.7 435.5,949.2 436.5,948.9 437.5,949.1 438.5,949.2 439.5,949.2 440.5,948.6 441.5,948.6 442.5,949.2 443.5,949.3 444.5,949.5 445.5,949.2 446.5,949.4 447.5,950.1 448.5,950.2 449.5,949.7 450.5,949.6 451.5,950.0 452.5,949.7 453.5,949.4 454.5,949.5 455.5,949.0 456.5,949.5 457.5,950.4 458.5,950.0 459.5,949.7 460.5,950.0 461.5,950.8 462.5,950.6 463.5,950.7 464.5,951.2 465.5,949.8 466.5,949.3 467.5,950.2 468.5,950.2 469.5,950.4 470.5,950.7 471.5,950.5 472.5,950.3 473.5,949.5 474.5,949.7 475.5,950.0 476.5,950.2 477.5,950.7 478.5,951.5 479.5,951.6 480.5,949.9 481.5,950.6 482.5,951.5 483.5,951.1 484.5,951.5 485.5,950.7 486.5,949.8 487.5,950.5 488.5,950.5 489.5,949.6 490.5,949.7 491.5,950.3 492.5,950.8 493.5,950.8" fill="none" stroke="#000" stroke-width="2.1" stroke-linejoin="round" stroke-linecap="round" />
<polyline points="149.0,944.7 150.0,944.7 151.0,944.7 152.0,944.7 153.0,944.7 154.0,944.7 155.0,944.7 156.0,944.7 157.0,944.7 158.0,944.7 159.0,944.7 160.0,944.6 161.0,944.6 162.0,944.6 163.0,944.6 164.0,944.5 165.0,944.5 166.0,944.4 167.0,944.3 168.0,944.2 169.0,944.2 170.0,944.1 171.0,943.9 172.0,943.8 173.0,943.7 174.0,943.5 175.0,943.3 176.0,943.1 177.0,942.9 178.0,942.6 179.0,942.4 180.0,942.1 181.0,941.7 182.0,941.4 183.0,941.0 184.0,940.6 185.0,940.1 186.0,939.6 187.0,939.0 188.0,938.4 189.0,937.8 190.0,937.1 191.0,936.4 192.0,935.6 193.0,934.8 194.0,933.9 195.0,932.9 196.0,931.9 197.0,930.9 198.0,929.7 199.0,928.6 200.0,927.3 201.0,926.0 202.0,924.7 203.0,923.2 204.0,921.8 205.0,920.2 206.0,918.6 207.0,917.0 208.0,915.3 209.0,913.6 210.0,911.8 211.0,910.0 212.0,908.1 213.0,906.2 214.0,904.3 215.0,902.4 216.0,900.5 217.0,898.5 218.0,896.6 219.0,894.6 220.0,892.7 221.0,890.8 222.0,888.9 223.0,887.0 224.0,885.2 225.0,883.5 226.0,881.8 227.0,880.2 228.0,878.6 229.0,877.2 230.0,875.8 231.0,874.5 232.0,873.3 233.0,872.3 234.0,871.3 235.0,870.5 236.0,869.8 237.0,869.2 238.0,868.7 239.0,868.4 240.0,868.3 241.0,868.2 242.0,868.3 243.0,868.6 244.0,868.9 245.0,869.4 246.0,870.1 247.0,870.9 248.0,871.7 249.0,872.8 250.0,873.9 251.0,875.1 252.0,876.5 253.0,877.9 254.0,879.4 255.0,881.0 256.0,882.7 257.0,884.4 258.0,886.2 259.0,888.1 260.0,889.9 261.0,891.9 262.0,893.8 263.0,895.8 264.0,897.8 265.0,899.8 266.0,901.8 267.0,903.7 268.0,905.7 269.0,907.6 270.0,909.5 271.0,911.4 272.0,913.3 273.0,915.1 274.0,916.9 275.0,918.6 276.0,920.2 277.0,921.8 278.0,923.4 279.0,924.9 280.0,926.4 281.0,927.7 282.0,929.1 283.0,930.3 284.0,931.5 285.0,932.7 286.0,933.8 287.0,934.8 288.0,935.8 289.0,936.7 290.0,937.5 291.0,938.4 292.0,939.1 293.0,939.8 294.0,940.5 295.0,941.1 296.0,941.7 297.0,942.2 298.0,942.7 299.0,943.2 300.0,943.6 301.0,944.0 302.0,944.3 303.0,944.7 304.0,945.0 305.0,945.3 306.0,945.5 307.0,945.7 308.0,946.0 309.0,946.2 310.0,946.3 311.0,946.5 312.0,946.6 313.0,946.8 314.0,946.9 315.0,947.0 316.0,947.1 317.0,947.2 318.0,947.3 319.0,947.4 320.0,947.5 321.0,947.5 322.0,947.6 323.0,947.6 324.0,947.7 325.0,947.7 326.0,947.8 327.0,947.8 328.0,947.9 329.0,947.9 330.0,947.9 331.0,948.0 332.0,948.0 333.0,948.0" fill="none" stroke="#ff0000" stroke-width="2.6" stroke-linejoin="round" stroke-linecap="round" />
<polyline points="228.0,946.1 229.0,946.1 230.0,946.1 231.0,946.0 232.0,946.0 233.0,945.9 234.0,945.8 235.0,945.7 236.0,945.6 237.0,945.5 238.0,945.4 239.0,945.2 240.0,945.1 241.0,944.9 242.0,944.6 243.0,944.4 244.0,944.2 245.0,943.9 246.0,943.6 247.0,943.3 248.0,942.9 249.0,942.6 250.0,942.2 251.0,941.8 252.0,941.4 253.0,941.0 254.0,940.5 255.0,940.1 256.0,939.7 257.0,939.2 258.0,938.8 259.0,938.4 260.0,938.0 261.0,937.6 262.0,937.3 263.0,937.0 264.0,936.7 265.0,936.5 266.0,936.3 267.0,936.1 268.0,936.0 269.0,936.0 270.0,936.0 271.0,936.0 272.0,936.1 273.0,936.2 274.0,936.4 275.0,936.7 276.0,936.9 277.0,937.2 278.0,937.6 279.0,938.0 280.0,938.4 281.0,938.8 282.0,939.2 283.0,939.7 284.0,940.2 285.0,940.6 286.0,941.1 287.0,941.6 288.0,942.0 289.0,942.5 290.0,942.9 291.0,943.3 292.0,943.7 293.0,944.1 294.0,944.4 295.0,944.8 296.0,945.1 297.0,945.4 298.0,945.7 299.0,945.9 300.0,946.1 301.0,946.3 302.0,946.5 303.0,946.7 304.0,946.9 305.0,947.0 306.0,947.1 307.0,947.2 308.0,947.3 309.0,947.4 310.0,947.5 311.0,947.6 312.0,947.6" fill="none" stroke="#0000ff" stroke-width="2.6" stroke-linejoin="round" stroke-linecap="round" />
<polyline points="195.0,945.5 196.0,945.6 197.0,945.6 198.0,945.6 199.0,945.6 200.0,945.6 201.0,945.6 202.0,945.6 203.0,945.6 204.0,945.6 205.0,945.7 206.0,945.7 207.0,945.7 208.0,945.7 209.0,945.7 210.0,945.7 211.0,945.7 212.0,945.7 213.0,945.7 214.0,945.7 215.0,945.7 216.0,945.7 217.0,945.7 218.0,945.6 219.0,945.6 220.0,945.6 221.0,945.6 222.0,945.5 223.0,945.5 224.0,945.4 225.0,945.3 226.0,945.3 227.0,945.2 228.0,945.1 229.0,945.0 230.0,944.8 231.0,944.7 232.0,944.5 233.0,944.3 234.0,944.1 235.0,943.9 236.0,943.6 237.0,943.3 238.0,943.0 239.0,942.6 240.0,942.2 241.0,941.7 242.0,941.2 243.0,940.6 244.0,940.0 245.0,939.3 246.0,938.6 247.0,937.8 248.0,936.9 249.0,936.0 250.0,934.9 251.0,933.8 252.0,932.6 253.0,931.3 254.0,929.9 255.0,928.4 256.0,926.9 257.0,925.2 258.0,923.4 259.0,921.5 260.0,919.4 261.0,917.3 262.0,915.0 263.0,912.7 264.0,910.2 265.0,907.6 266.0,904.9 267.0,902.1 268.0,899.2 269.0,896.2 270.0,893.1 271.0,890.0 272.0,886.7 273.0,883.4 274.0,880.0 275.0,876.5 276.0,873.0 277.0,869.5 278.0,866.0 279.0,862.4 280.0,858.9 281.0,855.4 282.0,851.9 283.0,848.5 284.0,845.1 285.0,841.8 286.0,838.6 287.0,835.5 288.0,832.6 289.0,829.8 290.0,827.1 291.0,824.6 292.0,822.3 293.0,820.2 294.0,818.3 295.0,816.7 296.0,815.2 297.0,814.0 298.0,813.1 299.0,812.4 300.0,811.9 301.0,811.7 302.0,811.8 303.0,812.1 304.0,812.7 305.0,813.6 306.0,814.6 307.0,816.0 308.0,817.6 309.0,819.3 310.0,821.4 311.0,823.6 312.0,826.0 313.0,828.6 314.0,831.3 315.0,834.2 316.0,837.3 317.0,840.4 318.0,843.7 319.0,847.1 320.0,850.5 321.0,854.0 322.0,857.5 323.0,861.1 324.0,864.7 325.0,868.3 326.0,871.8 327.0,875.4 328.0,878.9 329.0,882.3 330.0,885.8 331.0,889.1 332.0,892.4 333.0,895.5 334.0,898.6 335.0,901.6 336.0,904.5 337.0,907.3 338.0,910.0 339.0,912.6 340.0,915.0 341.0,917.4 342.0,919.6 343.0,921.8 344.0,923.8 345.0,925.7 346.0,927.5 347.0,929.2 348.0,930.7 349.0,932.2 350.0,933.6 351.0,934.9 352.0,936.1 353.0,937.2 354.0,938.3 355.0,939.2 356.0,940.1 357.0,940.9 358.0,941.7 359.0,942.4 360.0,943.0 361.0,943.6 362.0,944.1 363.0,944.6 364.0,945.0 365.0,945.4 366.0,945.8 367.0,946.1 368.0,946.4 369.0,946.6 370.0,946.9 371.0,947.1 372.0,947.3 373.0,947.5 374.0,947.6 375.0,947.8 376.0,947.9 377.0,948.0 378.0,948.1 379.0,948.2 380.0,948.3 381.0,948.4 382.0,948.5 383.0,948.5 384.0,948.6 385.0,948.7 386.0,948.7 387.0,948.8 388.0,948.8 389.0,948.9 390.0,948.9 391.0,948.9 392.0,949.0 393.0,949.0 394.0,949.0 395.0,949.1 396.0,949.1 397.0,949.1 398.0,949.1 399.0,949.2 400.0,949.2 401.0,949.2 402.0,949.3 403.0,949.3 404.0,949.3 405.0,949.3 406.0,949.3 407.0,949.4" fill="none" stroke="#008000" stroke-width="2.6" stroke-linejoin="round" stroke-linecap="round" />
<polyline points="140.0,944.8 141.0,944.8 142.0,944.8 143.0,944.9 144.0,944.9 145.0,944.9 146.0,944.9 147.0,944.9 148.0,944.9 149.0,945.0 150.0,945.0 151.0,945.0 152.0,945.0 153.0,945.0 154.0,945.1 155.0,945.1 156.0,945.1 157.0,945.1 158.0,945.1 159.0,945.1 160.0,945.2 161.0,945.2 162.0,945.2 163.0,945.2 164.0,945.2 165.0,945.3 166.0,945.3 167.0,945.3 168.0,945.3 169.0,945.3 170.0,945.3 171.0,945.4 172.0,945.4 173.0,945.4 174.0,945.4 175.0,945.4 176.0,945.5 177.0,945.5 178.0,945.5 179.0,945.5 180.0,945.5 181.0,945.5 182.0,945.6 183.0,945.6 184.0,945.6 185.0,945.6 186.0,945.6 187.0,945.6 188.0,945.7 189.0,945.7 190.0,945.7 191.0,945.7 192.0,945.7 193.0,945.8 194.0,945.8 195.0,945.8 196.0,945.8 197.0,945.8 198.0,945.8 199.0,945.9 200.0,945.9 201.0,945.9 202.0,945.9 203.0,945.9 204.0,946.0 205.0,946.0 206.0,946.0 207.0,946.0 208.0,946.0 209.0,946.0 210.0,946.1 211.0,946.1 212.0,946.1 213.0,946.1 214.0,946.1 215.0,946.2 216.0,946.2 217.0,946.2 218.0,946.2 219.0,946.2 220.0,946.2 221.0,946.3 222.0,946.3 223.0,946.3 224.0,946.3 225.0,946.3 226.0,946.4 227.0,946.4 228.0,946.4 229.0,946.4 230.0,946.4 231.0,946.4 232.0,946.5 233.0,946.5 234.0,946.5 235.0,946.5 236.0,946.5 237.0,946.6 238.0,946.6 239.0,946.6 240.0,946.6 241.0,946.6 242.0,946.6 243.0,946.7 244.0,946.7 245.0,946.7 246.0,946.7 247.0,946.7 248.0,946.8 249.0,946.8 250.0,946.8 251.0,946.8 252.0,946.8 253.0,946.8 254.0,946.9 255.0,946.9 256.0,946.9 257.0,946.9 258.0,946.9 259.0,947.0 260.0,947.0 261.0,947.0 262.0,947.0 263.0,947.0 264.0,947.0 265.0,947.1 266.0,947.1 267.0,947.1 268.0,947.1 269.0,947.1 270.0,947.2 271.0,947.2 272.0,947.2 273.0,947.2 274.0,947.2 275.0,947.2 276.0,947.3 277.0,947.3 278.0,947.3 279.0,947.3 280.0,947.3 281.0,947.3 282.0,947.4 283.0,947.4 284.0,947.4 285.0,947.4 286.0,947.4 287.0,947.5 288.0,947.5 289.0,947.5 290.0,947.5 291.0,947.5 292.0,947.5 293.0,947.6 294.0,947.6 295.0,947.6 296.0,947.6 297.0,947.6 298.0,947.7 299.0,947.7 300.0,947.7 301.0,947.7 302.0,947.7 303.0,947.7 304.0,947.8 305.0,947.8 306.0,947.8 307.0,947.8 308.0,947.8 309.0,947.9 310.0,947.9 311.0,947.9 312.0,947.9 313.0,947.9 314.0,947.9 315.0,948.0 316.0,948.0 317.0,948.0 318.0,948.0 319.0,948.0 320.0,948.1 321.0,948.1 322.0,948.1 323.0,948.1 324.0,948.1 325.0,948.1 326.0,948.2 327.0,948.2 328.0,948.2 329.0,948.2 330.0,948.2 331.0,948.3 332.0,948.3 333.0,948.3 334.0,948.3 335.0,948.3 336.0,948.3 337.0,948.4 338.0,948.4 339.0,948.4 340.0,948.4 341.0,948.4 342.0,948.5 343.0,948.5 344.0,948.5 345.0,948.5 346.0,948.5 347.0,948.5 348.0,948.6 349.0,948.6 350.0,948.6 351.0,948.6 352.0,948.6 353.0,948.7 354.0,948.7 355.0,948.7 356.0,948.7 357.0,948.7 358.0,948.7 359.0,948.8 360.0,948.8 361.0,948.8 362.0,948.8 363.0,948.8 364.0,948.8 365.0,948.9 366.0,948.9 367.0,948.9 368.0,948.9 369.0,948.9 370.0,949.0 371.0,949.0 372.0,949.0 373.0,949.0 374.0,949.0 375.0,949.0 376.0,949.1 377.0,949.1 378.0,949.1 379.0,949.1 380.0,949.1 381.0,949.2 382.0,949.2 383.0,949.2 384.0,949.2 385.0,949.2 386.0,949.2 387.0,949.3 388.0,949.3 389.0,949.3 390.0,949.3 391.0,949.3 392.0,949.4 393.0,949.4 394.0,949.4 395.0,949.4 396.0,949.4 397.0,949.4 398.0,949.5 399.0,949.5 400.0,949.5 401.0,949.5 402.0,949.5 403.0,949.6 404.0,949.6 405.0,949.6 406.0,949.6 407.0,949.6 408.0,949.6 409.0,949.7 410.0,949.7 411.0,949.7 412.0,949.7 413.0,949.7 414.0,949.8 415.0,949.8 416.0,949.8 417.0,949.8 418.0,949.8 419.0,949.8 420.0,949.9 421.0,949.9 422.0,949.9 423.0,949.9 424.0,949.9 425.0,950.0 426.0,950.0 427.0,950.0 428.0,950.0 429.0,950.0 430.0,950.0 431.0,950.1 432.0,950.1 433.0,950.1 434.0,950.1 435.0,950.1 436.0,950.2 437.0,950.2 438.0,950.2 439.0,950.2 440.0,950.2 441.0,950.2 442.0,950.3 443.0,950.3 444.0,950.3 445.0,950.3 446.0,950.3 447.0,950.4 448.0,950.4 449.0,950.4 450.0,950.4 451.0,950.4 452.0,950.4 453.0,950.5 454.0,950.5 455.0,950.5 456.0,950.5 457.0,950.5 458.0,950.5 459.0,950.6 460.0,950.6 461.0,950.6 462.0,950.6 463.0,950.6 464.0,950.7 465.0,950.7 466.0,950.7 467.0,950.7 468.0,950.7 469.0,950.7 470.0,950.8 471.0,950.8 472.0,950.8 473.0,950.8 474.0,950.8 475.0,950.9 476.0,950.9 477.0,950.9 478.0,950.9 479.0,950.9 480.0,950.9 481.0,951.0 482.0,951.0 483.0,951.0 484.0,951.0 485.0,951.0 486.0,951.1 487.0,951.1 488.0,951.1 489.0,951.1 490.0,951.1 491.0,951.1 492.0,951.2 493.0,951.2 494.0,951.2" fill="none" stroke="#000" stroke-width="2.4" stroke-linejoin="round" stroke-linecap="round" />
<polyline points="297.0,947.4 298.0,947.4 299.0,947.4 300.0,947.3 301.0,947.3 302.0,947.3 303.0,947.3 304.0,947.3 305.0,947.2 306.0,947.2 307.0,947.2 308.0,947.1 309.0,947.1 310.0,947.0 311.0,947.0 312.0,946.9 313.0,946.9 314.0,946.8 315.0,946.7 316.0,946.7 317.0,946.6 318.0,946.5 319.0,946.4 320.0,946.3 321.0,946.2 322.0,946.1 323.0,946.0 324.0,945.8 325.0,945.7 326.0,945.6 327.0,945.4 328.0,945.3 329.0,945.1 330.0,945.0 331.0,944.8 332.0,944.6 333.0,944.4 334.0,944.3 335.0,944.1 336.0,943.9 337.0,943.7 338.0,943.5 339.0,943.3 340.0,943.1 341.0,942.9 342.0,942.7 343.0,942.5 344.0,942.3 345.0,942.1 346.0,941.9 347.0,941.7 348.0,941.5 349.0,941.3 350.0,941.1 351.0,941.0 352.0,940.8 353.0,940.6 354.0,940.5 355.0,940.3 356.0,940.2 357.0,940.0 358.0,939.9 359.0,939.8 360.0,939.7 361.0,939.6 362.0,939.6 363.0,939.5 364.0,939.5 365.0,939.4 366.0,939.4 367.0,939.4 368.0,939.4 369.0,939.4 370.0,939.5 371.0,939.5 372.0,939.6 373.0,939.7 374.0,939.8 375.0,939.9 376.0,940.0 377.0,940.1 378.0,940.3 379.0,940.4 380.0,940.6 381.0,940.8 382.0,941.0 383.0,941.2 384.0,941.4 385.0,941.6 386.0,941.8 387.0,942.0 388.0,942.2 389.0,942.5 390.0,942.7 391.0,942.9 392.0,943.2 393.0,943.4 394.0,943.6 395.0,943.9 396.0,944.1 397.0,944.3 398.0,944.6 399.0,944.8 400.0,945.0 401.0,945.3 402.0,945.5 403.0,945.7 404.0,945.9 405.0,946.1 406.0,946.3 407.0,946.5 408.0,946.7 409.0,946.9 410.0,947.1 411.0,947.3 412.0,947.4 413.0,947.6 414.0,947.7 415.0,947.9 416.0,948.0 417.0,948.2 418.0,948.3 419.0,948.4 420.0,948.5 421.0,948.7 422.0,948.8 423.0,948.9 424.0,949.0 425.0,949.1 426.0,949.1 427.0,949.2 428.0,949.3 429.0,949.4 430.0,949.5 431.0,949.5 432.0,949.6 433.0,949.6 434.0,949.7 435.0,949.8 436.0,949.8 437.0,949.9 438.0,949.9 439.0,949.9" fill="none" stroke="#ff8000" stroke-width="2.6" stroke-linejoin="round" stroke-linecap="round" />
<polyline points="140.0,943.6 141.0,943.6 142.0,943.6 143.0,943.6 144.0,943.6 145.0,943.6 146.0,943.6 147.0,943.6 148.0,943.6 149.0,943.6 150.0,943.5 151.0,943.5 152.0,943.5 153.0,943.5 154.0,943.5 155.0,943.4 156.0,943.4 157.0,943.4 158.0,943.3 159.0,943.3 160.0,943.3 161.0,943.2 162.0,943.2 163.0,943.1 164.0,943.0 165.0,943.0 166.0,942.9 167.0,942.8 168.0,942.7 169.0,942.6 170.0,942.4 171.0,942.3 172.0,942.1 173.0,942.0 174.0,941.8 175.0,941.6 176.0,941.4 177.0,941.1 178.0,940.9 179.0,940.6 180.0,940.2 181.0,939.9 182.0,939.5 183.0,939.1 184.0,938.7 185.0,938.2 186.0,937.7 187.0,937.1 188.0,936.5 189.0,935.9 190.0,935.2 191.0,934.4 192.0,933.7 193.0,932.8 194.0,931.9 195.0,931.0 196.0,930.0 197.0,928.9 198.0,927.8 199.0,926.7 200.0,925.4 201.0,924.2 202.0,922.8 203.0,921.4 204.0,919.9 205.0,918.4 206.0,916.8 207.0,915.2 208.0,913.5 209.0,911.8 210.0,910.0 211.0,908.2 212.0,906.4 213.0,904.5 214.0,902.5 215.0,900.6 216.0,898.6 217.0,896.6 218.0,894.6 219.0,892.6 220.0,890.6 221.0,888.6 222.0,886.6 223.0,884.6 224.0,882.7 225.0,880.8 226.0,878.9 227.0,877.1 228.0,875.3 229.0,873.6 230.0,871.9 231.0,870.3 232.0,868.8 233.0,867.4 234.0,866.0 235.0,864.7 236.0,863.5 237.0,862.4 238.0,861.3 239.0,860.4 240.0,859.5 241.0,858.7 242.0,858.0 243.0,857.4 244.0,856.8 245.0,856.3 246.0,855.8 247.0,855.4 248.0,855.0 249.0,854.6 250.0,854.3 251.0,854.0 252.0,853.6 253.0,853.3 254.0,852.9 255.0,852.6 256.0,852.2 257.0,851.7 258.0,851.2 259.0,850.7 260.0,850.1 261.0,849.4 262.0,848.7 263.0,847.9 264.0,847.1 265.0,846.2 266.0,845.2 267.0,844.1 268.0,843.0 269.0,841.8 270.0,840.5 271.0,839.2 272.0,837.8 273.0,836.3 274.0,834.8 275.0,833.2 276.0,831.6 277.0,829.9 278.0,828.1 279.0,826.4 280.0,824.6 281.0,822.8 282.0,820.9 283.0,819.1 284.0,817.2 285.0,815.4 286.0,813.6 287.0,811.9 288.0,810.2 289.0,808.6 290.0,807.1 291.0,805.7 292.0,804.4 293.0,803.2 294.0,802.2 295.0,801.3 296.0,800.6 297.0,800.1 298.0,799.8 299.0,799.7 300.0,799.8 301.0,800.2 302.0,800.7 303.0,801.5 304.0,802.5 305.0,803.8 306.0,805.2 307.0,806.9 308.0,808.8 309.0,810.9 310.0,813.2 311.0,815.7 312.0,818.3 313.0,821.1 314.0,824.0 315.0,827.1 316.0,830.2 317.0,833.5 318.0,836.8 319.0,840.2 320.0,843.7 321.0,847.2 322.0,850.7 323.0,854.3 324.0,857.8 325.0,861.3 326.0,864.8 327.0,868.2 328.0,871.6 329.0,875.0 330.0,878.2 331.0,881.4 332.0,884.5 333.0,887.6 334.0,890.5 335.0,893.3 336.0,896.0 337.0,898.6 338.0,901.1 339.0,903.5 340.0,905.8 341.0,907.9 342.0,910.0 343.0,911.9 344.0,913.8 345.0,915.5 346.0,917.1 347.0,918.6 348.0,920.0 349.0,921.4 350.0,922.6 351.0,923.8 352.0,924.8 353.0,925.8 354.0,926.7 355.0,927.6 356.0,928.4 357.0,929.1 358.0,929.7 359.0,930.4 360.0,930.9 361.0,931.5 362.0,932.0 363.0,932.4 364.0,932.9 365.0,933.3 366.0,933.7 367.0,934.0 368.0,934.4 369.0,934.7 370.0,935.0 371.0,935.4 372.0,935.7 373.0,936.0 374.0,936.2 375.0,936.5 376.0,936.8 377.0,937.1 378.0,937.4 379.0,937.7 380.0,938.0 381.0,938.3 382.0,938.5 383.0,938.8 384.0,939.1 385.0,939.4 386.0,939.7 387.0,940.0 388.0,940.3 389.0,940.5 390.0,940.8 391.0,941.1 392.0,941.4 393.0,941.7 394.0,941.9 395.0,942.2 396.0,942.5 397.0,942.8 398.0,943.0 399.0,943.3 400.0,943.5 401.0,943.8 402.0,944.0 403.0,944.3 404.0,944.5 405.0,944.7 406.0,945.0 407.0,945.2 408.0,945.4 409.0,945.6 410.0,945.8 411.0,946.0 412.0,946.1 413.0,946.3 414.0,946.5 415.0,946.7 416.0,946.8 417.0,947.0 418.0,947.1 419.0,947.2 420.0,947.4 421.0,947.5 422.0,947.6 423.0,947.7 424.0,947.9 425.0,948.0 426.0,948.1 427.0,948.2 428.0,948.2 429.0,948.3 430.0,948.4 431.0,948.5 432.0,948.6 433.0,948.6 434.0,948.7 435.0,948.8 436.0,948.8 437.0,948.9 438.0,949.0 439.0,949.0 440.0,949.1 441.0,949.1 442.0,949.2 443.0,949.2 444.0,949.3 445.0,949.3 446.0,949.3 447.0,949.4 448.0,949.4 449.0,949.5 450.0,949.5 451.0,949.5 452.0,949.6 453.0,949.6 454.0,949.6 455.0,949.7 456.0,949.7 457.0,949.7 458.0,949.8 459.0,949.8 460.0,949.8 461.0,949.9 462.0,949.9 463.0,949.9 464.0,949.9 465.0,950.0 466.0,950.0 467.0,950.0 468.0,950.1 469.0,950.1 470.0,950.1 471.0,950.1 472.0,950.2 473.0,950.2 474.0,950.2 475.0,950.2 476.0,950.3 477.0,950.3 478.0,950.3 479.0,950.3 480.0,950.4 481.0,950.4 482.0,950.4 483.0,950.4 484.0,950.5 485.0,950.5 486.0,950.5 487.0,950.5 488.0,950.6 489.0,950.6 490.0,950.6 491.0,950.6 492.0,950.6 493.0,950.7 494.0,950.7" fill="none" stroke="#000" stroke-width="2.7" stroke-linejoin="round" stroke-linecap="round" />
<path d="M123.1 989.0L123.1 980.5 M184.9 989.0L184.9 984.7 M246.8 989.0L246.8 980.5 M308.6 989.0L308.6 984.7 M370.5 989.0L370.5 980.5 M432.3 989.0L432.3 984.7 M123.1 779.4L123.1 787.9 M184.9 779.4L184.9 783.7 M246.8 779.4L246.8 787.9 M308.6 779.4L308.6 783.7 M370.5 779.4L370.5 787.9 M432.3 779.4L432.3 783.7 M61.8 814.4L66.1 814.4 M494.1 814.4L489.8 814.4 M61.8 849.3L70.3 849.3 M494.1 849.3L485.6 849.3 M61.8 884.2L66.1 884.2 M494.1 884.2L489.8 884.2 M61.8 919.2L70.3 919.2 M494.1 919.2L485.6 919.2 M61.8 954.1L66.1 954.1 M494.1 954.1L489.8 954.1" stroke="#000" stroke-width="1.6" fill="none"/>
<rect x="61.8" y="779.4" width="432.3" height="209.6" fill="none" stroke="#000" stroke-width="1.6"/>
<polyline points="62.5,1169.1 63.5,1169.8 64.5,1170.5 65.5,1169.7 66.5,1169.3 67.5,1170.1 68.5,1170.1 69.5,1169.9 70.5,1170.3 71.5,1169.9 72.5,1170.2 73.5,1170.5 74.5,1171.1 75.5,1170.2 76.5,1170.4 77.5,1171.4 78.5,1171.5 79.5,1171.9 80.5,1170.5 81.5,1170.7 82.5,1170.7 83.5,1169.3 84.5,1170.4 85.5,1171.4 86.5,1171.6 87.5,1171.2 88.5,1171.2 89.5,1170.4 90.5,1170.2 91.5,1172.2 92.5,1170.8 93.5,1169.3 94.5,1170.7 95.5,1170.3 96.5,1170.3 97.5,1170.9 98.5,1170.9 99.5,1170.8 100.5,1170.4 101.5,1170.8 102.5,1171.1 103.5,1170.1 104.5,1171.7 105.5,1172.0 106.5,1170.6 107.5,1169.9 108.5,1170.4 109.5,1170.9 110.5,1170.3 111.5,1171.4 112.5,1172.1 113.5,1171.3 114.5,1171.3 115.5,1172.0 116.5,1171.6 117.5,1170.9 118.5,1171.3 119.5,1171.0 120.5,1170.9 121.5,1171.8 122.5,1170.9 123.5,1170.4 124.5,1172.5 125.5,1172.0 126.5,1170.6 127.5,1171.5 128.5,1171.8 129.5,1172.1 130.5,1172.4 131.5,1172.6 132.5,1172.0 133.5,1170.8 134.5,1170.6 135.5,1171.7 136.5,1172.2 137.5,1172.5 138.5,1172.1 139.5,1170.7 140.5,1170.5 141.5,1171.3 142.5,1172.1 143.5,1172.5 144.5,1172.4 145.5,1171.1 146.5,1170.4 147.5,1171.4 148.5,1171.8 149.5,1171.9 150.5,1171.0 151.5,1170.8 152.5,1169.9 153.5,1169.2 154.5,1170.8 155.5,1170.9 156.5,1171.3 157.5,1171.3 158.5,1170.8 159.5,1171.3 160.5,1170.7 161.5,1171.1 162.5,1171.2 163.5,1170.6 164.5,1171.0 165.5,1170.3 166.5,1170.1 167.5,1170.5 168.5,1170.0 169.5,1171.0 170.5,1170.5 171.5,1169.1 172.5,1170.2 173.5,1170.3 174.5,1170.0 175.5,1168.6 176.5,1167.6 177.5,1168.2 178.5,1168.9 179.5,1168.0 180.5,1166.9 181.5,1168.1 182.5,1168.0 183.5,1166.7 184.5,1165.9 185.5,1165.9 186.5,1164.2 187.5,1162.3 188.5,1162.5 189.5,1162.4 190.5,1162.0 191.5,1159.7 192.5,1158.9 193.5,1158.9 194.5,1159.7 195.5,1159.1 196.5,1156.9 197.5,1155.5 198.5,1153.4 199.5,1151.9 200.5,1151.4 201.5,1151.7 202.5,1148.7 203.5,1146.6 204.5,1146.6 205.5,1145.7 206.5,1143.1 207.5,1141.6 208.5,1139.4 209.5,1136.6 210.5,1135.4 211.5,1133.1 212.5,1132.6 213.5,1131.5 214.5,1131.3 215.5,1128.8 216.5,1123.5 217.5,1122.8 218.5,1121.8 219.5,1118.3 220.5,1117.5 221.5,1117.6 222.5,1112.9 223.5,1109.2 224.5,1110.3 225.5,1108.2 226.5,1107.1 227.5,1106.3 228.5,1103.4 229.5,1102.3 230.5,1099.2 231.5,1097.6 232.5,1096.8 233.5,1095.4 234.5,1096.5 235.5,1096.9 236.5,1094.5 237.5,1093.3 238.5,1094.7 239.5,1093.7 240.5,1090.9 241.5,1091.3 242.5,1090.7 243.5,1087.9 244.5,1090.6 245.5,1090.4 246.5,1088.0 247.5,1089.6 248.5,1088.8 249.5,1090.3 250.5,1092.8 251.5,1090.6 252.5,1086.0 253.5,1085.5 254.5,1084.8 255.5,1084.5 256.5,1087.2 257.5,1086.3 258.5,1086.2 259.5,1085.2 260.5,1081.6 261.5,1079.8 262.5,1081.5 263.5,1078.1 264.5,1075.7 265.5,1075.7 266.5,1077.1 267.5,1075.3 268.5,1067.6 269.5,1069.4 270.5,1072.2 271.5,1068.2 272.5,1065.0 273.5,1062.4 274.5,1060.6 275.5,1062.1 276.5,1061.1 277.5,1058.1 278.5,1055.1 279.5,1055.2 280.5,1057.4 281.5,1056.5 282.5,1050.2 283.5,1046.9 284.5,1046.4 285.5,1044.3 286.5,1045.2 287.5,1049.1 288.5,1048.1 289.5,1043.0 290.5,1041.1 291.5,1041.6 292.5,1039.5 293.5,1039.6 294.5,1043.8 295.5,1041.3 296.5,1042.9 297.5,1048.8 298.5,1045.6 299.5,1044.2 300.5,1045.8 301.5,1044.7 302.5,1048.3 303.5,1051.5 304.5,1050.0 305.5,1049.0 306.5,1053.4 307.5,1055.7 308.5,1055.8 309.5,1060.0 310.5,1063.7 311.5,1067.2 312.5,1073.4 313.5,1073.8 314.5,1075.8 315.5,1078.5 316.5,1079.4 317.5,1085.5 318.5,1091.4 319.5,1090.7 320.5,1092.7 321.5,1097.5 322.5,1098.5 323.5,1102.1 324.5,1106.8 325.5,1111.6 326.5,1112.5 327.5,1111.8 328.5,1113.0 329.5,1113.9 330.5,1115.5 331.5,1121.1 332.5,1123.2 333.5,1123.1 334.5,1126.3 335.5,1128.8 336.5,1130.5 337.5,1132.0 338.5,1134.0 339.5,1137.8 340.5,1140.5 341.5,1140.8 342.5,1141.0 343.5,1142.3 344.5,1144.3 345.5,1144.7 346.5,1144.6 347.5,1146.5 348.5,1147.8 349.5,1147.8 350.5,1149.2 351.5,1150.5 352.5,1150.4 353.5,1152.3 354.5,1153.9 355.5,1153.1 356.5,1154.0 357.5,1155.6 358.5,1155.5 359.5,1153.0 360.5,1152.5 361.5,1154.7 362.5,1156.1 363.5,1157.5 364.5,1158.1 365.5,1157.2 366.5,1157.7 367.5,1157.7 368.5,1158.1 369.5,1157.8 370.5,1158.4 371.5,1159.7 372.5,1159.5 373.5,1159.7 374.5,1158.4 375.5,1158.7 376.5,1160.0 377.5,1160.6 378.5,1160.9 379.5,1161.3 380.5,1161.1 381.5,1160.0 382.5,1160.3 383.5,1160.8 384.5,1161.3 385.5,1162.3 386.5,1162.8 387.5,1162.9 388.5,1163.6 389.5,1164.6 390.5,1164.9 391.5,1165.1 392.5,1165.4 393.5,1166.1 394.5,1165.9 395.5,1164.2 396.5,1164.0 397.5,1166.7 398.5,1166.0 399.5,1165.3 400.5,1166.5 401.5,1167.6 402.5,1168.5 403.5,1167.6 404.5,1167.6 405.5,1166.9 406.5,1168.4 407.5,1170.1 408.5,1168.5 409.5,1167.9 410.5,1168.9 411.5,1169.0 412.5,1168.4 413.5,1169.5 414.5,1170.0 415.5,1169.9 416.5,1170.7 417.5,1170.1 418.5,1170.6 419.5,1171.8 420.5,1170.3 421.5,1169.1 422.5,1169.9 423.5,1171.0 424.5,1170.5 425.5,1170.3 426.5,1170.7 427.5,1170.7 428.5,1171.1 429.5,1172.3 430.5,1173.2 431.5,1171.9 432.5,1170.8 433.5,1171.0 434.5,1171.0 435.5,1171.2 436.5,1172.1 437.5,1172.9 438.5,1171.8 439.5,1172.1 440.5,1172.1 441.5,1171.4 442.5,1172.2 443.5,1171.9 444.5,1171.1 445.5,1171.6 446.5,1172.5 447.5,1172.2 448.5,1172.8 449.5,1173.3 450.5,1172.0 451.5,1172.0 452.5,1172.2 453.5,1172.0 454.5,1172.6 455.5,1172.7 456.5,1173.2 457.5,1173.1 458.5,1172.4 459.5,1172.2 460.5,1171.0 461.5,1170.8 462.5,1171.8 463.5,1170.6 464.5,1170.7 465.5,1172.5 466.5,1172.9 467.5,1172.9 468.5,1172.9 469.5,1172.7 470.5,1171.8 471.5,1172.1 472.5,1171.8 473.5,1172.3 474.5,1172.2 475.5,1172.3 476.5,1172.6 477.5,1171.5 478.5,1171.2 479.5,1171.4 480.5,1172.0 481.5,1171.3 482.5,1170.2 483.5,1171.1 484.5,1171.2 485.5,1171.6 486.5,1173.2 487.5,1172.5 488.5,1173.7 489.5,1174.0 490.5,1171.5 491.5,1172.6 492.5,1173.5 493.5,1172.1" fill="none" stroke="#000" stroke-width="2.1" stroke-linejoin="round" stroke-linecap="round" />
<polyline points="154.0,1172.3 155.0,1172.3 156.0,1172.3 157.0,1172.3 158.0,1172.2 159.0,1172.2 160.0,1172.2 161.0,1172.1 162.0,1172.1 163.0,1172.1 164.0,1172.0 165.0,1171.9 166.0,1171.9 167.0,1171.8 168.0,1171.7 169.0,1171.6 170.0,1171.5 171.0,1171.4 172.0,1171.2 173.0,1171.1 174.0,1170.9 175.0,1170.7 176.0,1170.5 177.0,1170.3 178.0,1170.0 179.0,1169.7 180.0,1169.4 181.0,1169.1 182.0,1168.7 183.0,1168.3 184.0,1167.8 185.0,1167.4 186.0,1166.8 187.0,1166.3 188.0,1165.6 189.0,1165.0 190.0,1164.3 191.0,1163.5 192.0,1162.7 193.0,1161.8 194.0,1160.9 195.0,1159.9 196.0,1158.9 197.0,1157.8 198.0,1156.6 199.0,1155.4 200.0,1154.1 201.0,1152.8 202.0,1151.4 203.0,1149.9 204.0,1148.4 205.0,1146.9 206.0,1145.3 207.0,1143.6 208.0,1142.0 209.0,1140.2 210.0,1138.5 211.0,1136.7 212.0,1135.0 213.0,1133.2 214.0,1131.4 215.0,1129.6 216.0,1127.8 217.0,1126.0 218.0,1124.3 219.0,1122.5 220.0,1120.9 221.0,1119.3 222.0,1117.7 223.0,1116.2 224.0,1114.8 225.0,1113.4 226.0,1112.2 227.0,1111.0 228.0,1110.0 229.0,1109.1 230.0,1108.2 231.0,1107.5 232.0,1107.0 233.0,1106.5 234.0,1106.2 235.0,1106.0 236.0,1106.0 237.0,1106.1 238.0,1106.3 239.0,1106.7 240.0,1107.2 241.0,1107.8 242.0,1108.6 243.0,1109.4 244.0,1110.4 245.0,1111.5 246.0,1112.7 247.0,1114.0 248.0,1115.3 249.0,1116.8 250.0,1118.3 251.0,1119.9 252.0,1121.5 253.0,1123.2 254.0,1124.9 255.0,1126.7 256.0,1128.5 257.0,1130.3 258.0,1132.1 259.0,1133.9 260.0,1135.7 261.0,1137.4 262.0,1139.2 263.0,1140.9 264.0,1142.6 265.0,1144.3 266.0,1145.9 267.0,1147.5 268.0,1149.0 269.0,1150.5 270.0,1151.9 271.0,1153.3 272.0,1154.6 273.0,1155.9 274.0,1157.1 275.0,1158.2 276.0,1159.3 277.0,1160.3 278.0,1161.3 279.0,1162.2 280.0,1163.0 281.0,1163.8 282.0,1164.6 283.0,1165.3 284.0,1165.9 285.0,1166.5 286.0,1167.0 287.0,1167.6 288.0,1168.0 289.0,1168.5 290.0,1168.9 291.0,1169.2 292.0,1169.5 293.0,1169.8 294.0,1170.1 295.0,1170.4 296.0,1170.6 297.0,1170.8 298.0,1171.0 299.0,1171.1 300.0,1171.3 301.0,1171.4 302.0,1171.5 303.0,1171.6 304.0,1171.7 305.0,1171.8 306.0,1171.9 307.0,1172.0 308.0,1172.0 309.0,1172.1 310.0,1172.1 311.0,1172.2 312.0,1172.2 313.0,1172.2 314.0,1172.3 315.0,1172.3 316.0,1172.3 317.0,1172.3 318.0,1172.3" fill="none" stroke="#ff0000" stroke-width="2.6" stroke-linejoin="round" stroke-linecap="round" />
<polyline points="213.0,1172.3 214.0,1172.3 215.0,1172.3 216.0,1172.2 217.0,1172.2 218.0,1172.1 219.0,1172.1 220.0,1172.0 221.0,1172.0 222.0,1171.9 223.0,1171.8 224.0,1171.7 225.0,1171.7 226.0,1171.6 227.0,1171.5 228.0,1171.4 229.0,1171.2 230.0,1171.1 231.0,1171.0 232.0,1170.8 233.0,1170.7 234.0,1170.5 235.0,1170.4 236.0,1170.2 237.0,1170.0 238.0,1169.9 239.0,1169.7 240.0,1169.5 241.0,1169.3 242.0,1169.1 243.0,1168.9 244.0,1168.7 245.0,1168.5 246.0,1168.3 247.0,1168.0 248.0,1167.8 249.0,1167.6 250.0,1167.4 251.0,1167.2 252.0,1167.1 253.0,1166.9 254.0,1166.7 255.0,1166.5 256.0,1166.4 257.0,1166.3 258.0,1166.1 259.0,1166.0 260.0,1165.9 261.0,1165.9 262.0,1165.8 263.0,1165.7 264.0,1165.7 265.0,1165.7 266.0,1165.7 267.0,1165.7 268.0,1165.8 269.0,1165.8 270.0,1165.9 271.0,1166.0 272.0,1166.1 273.0,1166.2 274.0,1166.3 275.0,1166.5 276.0,1166.6 277.0,1166.8 278.0,1167.0 279.0,1167.2 280.0,1167.4 281.0,1167.6 282.0,1167.8 283.0,1168.0 284.0,1168.2 285.0,1168.4 286.0,1168.6 287.0,1168.8 288.0,1169.0 289.0,1169.2 290.0,1169.4 291.0,1169.6 292.0,1169.8 293.0,1170.0 294.0,1170.1 295.0,1170.3 296.0,1170.5 297.0,1170.6 298.0,1170.8 299.0,1170.9 300.0,1171.1 301.0,1171.2 302.0,1171.3 303.0,1171.4 304.0,1171.5 305.0,1171.6 306.0,1171.7 307.0,1171.8 308.0,1171.9 309.0,1171.9 310.0,1172.0 311.0,1172.1 312.0,1172.1 313.0,1172.2 314.0,1172.2 315.0,1172.3 316.0,1172.3 317.0,1172.3" fill="none" stroke="#0000ff" stroke-width="2.6" stroke-linejoin="round" stroke-linecap="round" />
<polyline points="185.0,1172.3 186.0,1172.3 187.0,1172.3 188.0,1172.3 189.0,1172.3 190.0,1172.3 191.0,1172.3 192.0,1172.3 193.0,1172.3 194.0,1172.3 195.0,1172.3 196.0,1172.3 197.0,1172.2 198.0,1172.2 199.0,1172.2 200.0,1172.2 201.0,1172.2 202.0,1172.2 203.0,1172.1 204.0,1172.1 205.0,1172.1 206.0,1172.0 207.0,1172.0 208.0,1172.0 209.0,1171.9 210.0,1171.9 211.0,1171.8 212.0,1171.7 213.0,1171.7 214.0,1171.6 215.0,1171.5 216.0,1171.4 217.0,1171.3 218.0,1171.2 219.0,1171.0 220.0,1170.9 221.0,1170.7 222.0,1170.5 223.0,1170.3 224.0,1170.1 225.0,1169.8 226.0,1169.6 227.0,1169.3 228.0,1168.9 229.0,1168.6 230.0,1168.2 231.0,1167.7 232.0,1167.2 233.0,1166.7 234.0,1166.2 235.0,1165.5 236.0,1164.9 237.0,1164.2 238.0,1163.4 239.0,1162.6 240.0,1161.7 241.0,1160.7 242.0,1159.7 243.0,1158.6 244.0,1157.4 245.0,1156.2 246.0,1154.9 247.0,1153.5 248.0,1152.0 249.0,1150.4 250.0,1148.8 251.0,1147.0 252.0,1145.2 253.0,1143.3 254.0,1141.3 255.0,1139.2 256.0,1137.0 257.0,1134.8 258.0,1132.4 259.0,1130.0 260.0,1127.5 261.0,1124.9 262.0,1122.3 263.0,1119.5 264.0,1116.8 265.0,1113.9 266.0,1111.1 267.0,1108.2 268.0,1105.2 269.0,1102.2 270.0,1099.2 271.0,1096.2 272.0,1093.2 273.0,1090.2 274.0,1087.3 275.0,1084.3 276.0,1081.4 277.0,1078.6 278.0,1075.8 279.0,1073.1 280.0,1070.5 281.0,1067.9 282.0,1065.5 283.0,1063.2 284.0,1061.0 285.0,1059.0 286.0,1057.1 287.0,1055.4 288.0,1053.8 289.0,1052.4 290.0,1051.2 291.0,1050.2 292.0,1049.4 293.0,1048.7 294.0,1048.3 295.0,1048.0 296.0,1048.0 297.0,1048.2 298.0,1048.5 299.0,1049.1 300.0,1049.9 301.0,1050.8 302.0,1051.9 303.0,1053.3 304.0,1054.8 305.0,1056.4 306.0,1058.2 307.0,1060.2 308.0,1062.3 309.0,1064.6 310.0,1067.0 311.0,1069.4 312.0,1072.0 313.0,1074.7 314.0,1077.4 315.0,1080.3 316.0,1083.1 317.0,1086.1 318.0,1089.0 319.0,1092.0 320.0,1095.0 321.0,1098.0 322.0,1101.0 323.0,1104.0 324.0,1107.0 325.0,1109.9 326.0,1112.8 327.0,1115.6 328.0,1118.4 329.0,1121.2 330.0,1123.9 331.0,1126.5 332.0,1129.0 333.0,1131.5 334.0,1133.8 335.0,1136.1 336.0,1138.3 337.0,1140.5 338.0,1142.5 339.0,1144.4 340.0,1146.3 341.0,1148.1 342.0,1149.8 343.0,1151.4 344.0,1152.9 345.0,1154.3 346.0,1155.7 347.0,1157.0 348.0,1158.2 349.0,1159.3 350.0,1160.3 351.0,1161.3 352.0,1162.2 353.0,1163.1 354.0,1163.9 355.0,1164.6 356.0,1165.3 357.0,1165.9 358.0,1166.5 359.0,1167.0 360.0,1167.5 361.0,1168.0 362.0,1168.4 363.0,1168.8 364.0,1169.1 365.0,1169.4 366.0,1169.7 367.0,1170.0 368.0,1170.2 369.0,1170.4 370.0,1170.6 371.0,1170.8 372.0,1171.0 373.0,1171.1 374.0,1171.2 375.0,1171.4 376.0,1171.5 377.0,1171.6 378.0,1171.6 379.0,1171.7 380.0,1171.8 381.0,1171.8 382.0,1171.9 383.0,1171.9 384.0,1172.0 385.0,1172.0 386.0,1172.1 387.0,1172.1 388.0,1172.1 389.0,1172.1 390.0,1172.2 391.0,1172.2 392.0,1172.2 393.0,1172.2 394.0,1172.2 395.0,1172.3 396.0,1172.3 397.0,1172.3 398.0,1172.3 399.0,1172.3 400.0,1172.3 401.0,1172.3 402.0,1172.3 403.0,1172.3 404.0,1172.3 405.0,1172.3 406.0,1172.3 407.0,1172.3" fill="none" stroke="#008000" stroke-width="2.6" stroke-linejoin="round" stroke-linecap="round" />
<polyline points="125.0,1172.6 126.0,1172.6 127.0,1172.6 128.0,1172.6 129.0,1172.6 130.0,1172.6 131.0,1172.6 132.0,1172.6 133.0,1172.6 134.0,1172.6 135.0,1172.6 136.0,1172.6 137.0,1172.6 138.0,1172.6 139.0,1172.6 140.0,1172.6 141.0,1172.6 142.0,1172.6 143.0,1172.6 144.0,1172.6 145.0,1172.6 146.0,1172.6 147.0,1172.6 148.0,1172.6 149.0,1172.6 150.0,1172.6 151.0,1172.6 152.0,1172.6 153.0,1172.6 154.0,1172.6 155.0,1172.6 156.0,1172.6 157.0,1172.6 158.0,1172.6 159.0,1172.6 160.0,1172.6 161.0,1172.6 162.0,1172.6 163.0,1172.6 164.0,1172.6 165.0,1172.6 166.0,1172.6 167.0,1172.6 168.0,1172.6 169.0,1172.6 170.0,1172.6 171.0,1172.6 172.0,1172.6 173.0,1172.6 174.0,1172.6 175.0,1172.6 176.0,1172.6 177.0,1172.6 178.0,1172.6 179.0,1172.6 180.0,1172.6 181.0,1172.6 182.0,1172.6 183.0,1172.6 184.0,1172.6 185.0,1172.6 186.0,1172.6 187.0,1172.6 188.0,1172.6 189.0,1172.6 190.0,1172.6 191.0,1172.6 192.0,1172.6 193.0,1172.6 194.0,1172.6 195.0,1172.6 196.0,1172.6 197.0,1172.6 198.0,1172.6 199.0,1172.6 200.0,1172.6 201.0,1172.6 202.0,1172.6 203.0,1172.6 204.0,1172.6 205.0,1172.6 206.0,1172.6 207.0,1172.6 208.0,1172.6 209.0,1172.6 210.0,1172.6 211.0,1172.6 212.0,1172.6 213.0,1172.6 214.0,1172.6 215.0,1172.6 216.0,1172.6 217.0,1172.6 218.0,1172.6 219.0,1172.6 220.0,1172.6 221.0,1172.6 222.0,1172.6 223.0,1172.6 224.0,1172.6 225.0,1172.6 226.0,1172.6 227.0,1172.6 228.0,1172.6 229.0,1172.6 230.0,1172.6 231.0,1172.6 232.0,1172.6 233.0,1172.6 234.0,1172.6 235.0,1172.6 236.0,1172.6 237.0,1172.6 238.0,1172.6 239.0,1172.6 240.0,1172.6 241.0,1172.6 242.0,1172.6 243.0,1172.6 244.0,1172.6 245.0,1172.6 246.0,1172.6 247.0,1172.6 248.0,1172.6 249.0,1172.6 250.0,1172.6 251.0,1172.6 252.0,1172.6 253.0,1172.6 254.0,1172.6 255.0,1172.6 256.0,1172.6 257.0,1172.6 258.0,1172.6 259.0,1172.6 260.0,1172.6 261.0,1172.6 262.0,1172.6 263.0,1172.6 264.0,1172.6 265.0,1172.6 266.0,1172.6 267.0,1172.6 268.0,1172.6 269.0,1172.6 270.0,1172.6 271.0,1172.6 272.0,1172.6 273.0,1172.6 274.0,1172.6 275.0,1172.6 276.0,1172.6 277.0,1172.6 278.0,1172.6 279.0,1172.6 280.0,1172.6 281.0,1172.6 282.0,1172.6 283.0,1172.6 284.0,1172.6 285.0,1172.6 286.0,1172.6 287.0,1172.6 288.0,1172.6 289.0,1172.6 290.0,1172.6 291.0,1172.6 292.0,1172.6 293.0,1172.6 294.0,1172.6 295.0,1172.6 296.0,1172.6 297.0,1172.6 298.0,1172.6 299.0,1172.6 300.0,1172.6 301.0,1172.6 302.0,1172.6 303.0,1172.6 304.0,1172.6 305.0,1172.6 306.0,1172.6 307.0,1172.6 308.0,1172.6 309.0,1172.6 310.0,1172.6 311.0,1172.6 312.0,1172.6 313.0,1172.6 314.0,1172.6 315.0,1172.6 316.0,1172.6 317.0,1172.6 318.0,1172.6 319.0,1172.6 320.0,1172.6 321.0,1172.6 322.0,1172.6 323.0,1172.6 324.0,1172.6 325.0,1172.6 326.0,1172.6 327.0,1172.6 328.0,1172.6 329.0,1172.6 330.0,1172.6 331.0,1172.6 332.0,1172.6 333.0,1172.6 334.0,1172.6 335.0,1172.6 336.0,1172.6 337.0,1172.6 338.0,1172.6 339.0,1172.6 340.0,1172.6 341.0,1172.6 342.0,1172.6 343.0,1172.6 344.0,1172.6 345.0,1172.6 346.0,1172.6 347.0,1172.6 348.0,1172.6 349.0,1172.6 350.0,1172.6 351.0,1172.6 352.0,1172.6 353.0,1172.6 354.0,1172.6 355.0,1172.6 356.0,1172.6 357.0,1172.6 358.0,1172.6 359.0,1172.6 360.0,1172.6 361.0,1172.6 362.0,1172.6 363.0,1172.6 364.0,1172.6 365.0,1172.6 366.0,1172.6 367.0,1172.6 368.0,1172.6 369.0,1172.6 370.0,1172.6 371.0,1172.6 372.0,1172.6 373.0,1172.6 374.0,1172.6 375.0,1172.6 376.0,1172.6 377.0,1172.6 378.0,1172.6 379.0,1172.6 380.0,1172.6 381.0,1172.6 382.0,1172.6 383.0,1172.6 384.0,1172.6 385.0,1172.6 386.0,1172.6 387.0,1172.6 388.0,1172.6 389.0,1172.6 390.0,1172.6 391.0,1172.6 392.0,1172.6 393.0,1172.6 394.0,1172.6 395.0,1172.6 396.0,1172.6 397.0,1172.6 398.0,1172.6 399.0,1172.6 400.0,1172.6 401.0,1172.6 402.0,1172.6 403.0,1172.6 404.0,1172.6 405.0,1172.6 406.0,1172.6 407.0,1172.6 408.0,1172.6 409.0,1172.6 410.0,1172.6 411.0,1172.6 412.0,1172.6 413.0,1172.6 414.0,1172.6 415.0,1172.6 416.0,1172.6 417.0,1172.6 418.0,1172.6 419.0,1172.6 420.0,1172.6 421.0,1172.6 422.0,1172.6 423.0,1172.6 424.0,1172.6 425.0,1172.6 426.0,1172.6 427.0,1172.6 428.0,1172.6 429.0,1172.6 430.0,1172.6 431.0,1172.6 432.0,1172.6 433.0,1172.6 434.0,1172.6 435.0,1172.6 436.0,1172.6 437.0,1172.6 438.0,1172.6 439.0,1172.6 440.0,1172.6 441.0,1172.6 442.0,1172.6 443.0,1172.6 444.0,1172.6 445.0,1172.6 446.0,1172.6 447.0,1172.6 448.0,1172.6 449.0,1172.6 450.0,1172.6 451.0,1172.6 452.0,1172.6 453.0,1172.6 454.0,1172.6 455.0,1172.6 456.0,1172.6 457.0,1172.6 458.0,1172.6 459.0,1172.6 460.0,1172.6 461.0,1172.6 462.0,1172.6 463.0,1172.6 464.0,1172.6 465.0,1172.6 466.0,1172.6 467.0,1172.6 468.0,1172.6 469.0,1172.6 470.0,1172.6 471.0,1172.6 472.0,1172.6 473.0,1172.6 474.0,1172.6 475.0,1172.6 476.0,1172.6 477.0,1172.6 478.0,1172.6 479.0,1172.6 480.0,1172.6 481.0,1172.6 482.0,1172.6 483.0,1172.6 484.0,1172.6 485.0,1172.6 486.0,1172.6 487.0,1172.6 488.0,1172.6 489.0,1172.6 490.0,1172.6 491.0,1172.6 492.0,1172.6 493.0,1172.6 494.0,1172.6" fill="none" stroke="#000" stroke-width="2.4" stroke-linejoin="round" stroke-linecap="round" />
<polyline points="294.0,1172.3 295.0,1172.3 296.0,1172.3 297.0,1172.2 298.0,1172.2 299.0,1172.2 300.0,1172.1 301.0,1172.1 302.0,1172.0 303.0,1172.0 304.0,1171.9 305.0,1171.9 306.0,1171.8 307.0,1171.8 308.0,1171.7 309.0,1171.6 310.0,1171.5 311.0,1171.4 312.0,1171.3 313.0,1171.2 314.0,1171.1 315.0,1171.0 316.0,1170.9 317.0,1170.8 318.0,1170.6 319.0,1170.5 320.0,1170.4 321.0,1170.2 322.0,1170.0 323.0,1169.9 324.0,1169.7 325.0,1169.5 326.0,1169.3 327.0,1169.1 328.0,1168.9 329.0,1168.7 330.0,1168.5 331.0,1168.3 332.0,1168.1 333.0,1167.9 334.0,1167.6 335.0,1167.4 336.0,1167.2 337.0,1166.9 338.0,1166.7 339.0,1166.4 340.0,1166.2 341.0,1165.9 342.0,1165.7 343.0,1165.4 344.0,1165.2 345.0,1164.9 346.0,1164.7 347.0,1164.5 348.0,1164.2 349.0,1164.0 350.0,1163.8 351.0,1163.6 352.0,1163.4 353.0,1163.2 354.0,1163.0 355.0,1162.9 356.0,1162.7 357.0,1162.6 358.0,1162.4 359.0,1162.3 360.0,1162.2 361.0,1162.1 362.0,1162.0 363.0,1162.0 364.0,1161.9 365.0,1161.9 366.0,1161.9 367.0,1161.9 368.0,1161.9 369.0,1162.0 370.0,1162.0 371.0,1162.1 372.0,1162.2 373.0,1162.3 374.0,1162.4 375.0,1162.5 376.0,1162.6 377.0,1162.8 378.0,1163.0 379.0,1163.1 380.0,1163.3 381.0,1163.5 382.0,1163.7 383.0,1163.9 384.0,1164.1 385.0,1164.4 386.0,1164.6 387.0,1164.8 388.0,1165.1 389.0,1165.3 390.0,1165.6 391.0,1165.8 392.0,1166.1 393.0,1166.3 394.0,1166.6 395.0,1166.8 396.0,1167.1 397.0,1167.3 398.0,1167.5 399.0,1167.8 400.0,1168.0 401.0,1168.2 402.0,1168.4 403.0,1168.7 404.0,1168.9 405.0,1169.1 406.0,1169.3 407.0,1169.5 408.0,1169.6 409.0,1169.8 410.0,1170.0 411.0,1170.1 412.0,1170.3 413.0,1170.4 414.0,1170.6 415.0,1170.7 416.0,1170.9 417.0,1171.0 418.0,1171.1 419.0,1171.2 420.0,1171.3 421.0,1171.4 422.0,1171.5 423.0,1171.6 424.0,1171.7 425.0,1171.7 426.0,1171.8 427.0,1171.9 428.0,1171.9 429.0,1172.0 430.0,1172.0 431.0,1172.1 432.0,1172.1 433.0,1172.2 434.0,1172.2 435.0,1172.2 436.0,1172.3 437.0,1172.3 438.0,1172.3 439.0,1172.3" fill="none" stroke="#ff8000" stroke-width="2.6" stroke-linejoin="round" stroke-linecap="round" />
<polyline points="125.0,1171.7 126.0,1171.7 127.0,1171.7 128.0,1171.7 129.0,1171.6 130.0,1171.6 131.0,1171.6 132.0,1171.6 133.0,1171.6 134.0,1171.6 135.0,1171.6 136.0,1171.5 137.0,1171.5 138.0,1171.5 139.0,1171.5 140.0,1171.5 141.0,1171.4 142.0,1171.4 143.0,1171.4 144.0,1171.4 145.0,1171.4 146.0,1171.3 147.0,1171.3 148.0,1171.3 149.0,1171.3 150.0,1171.2 151.0,1171.2 152.0,1171.2 153.0,1171.1 154.0,1171.1 155.0,1171.1 156.0,1171.0 157.0,1171.0 158.0,1170.9 159.0,1170.9 160.0,1170.8 161.0,1170.8 162.0,1170.7 163.0,1170.6 164.0,1170.5 165.0,1170.5 166.0,1170.4 167.0,1170.3 168.0,1170.2 169.0,1170.0 170.0,1169.9 171.0,1169.7 172.0,1169.6 173.0,1169.4 174.0,1169.2 175.0,1169.0 176.0,1168.8 177.0,1168.5 178.0,1168.2 179.0,1167.9 180.0,1167.6 181.0,1167.2 182.0,1166.8 183.0,1166.4 184.0,1165.9 185.0,1165.4 186.0,1164.9 187.0,1164.3 188.0,1163.7 189.0,1163.0 190.0,1162.3 191.0,1161.5 192.0,1160.7 193.0,1159.8 194.0,1158.9 195.0,1157.9 196.0,1156.9 197.0,1155.8 198.0,1154.6 199.0,1153.4 200.0,1152.1 201.0,1150.8 202.0,1149.4 203.0,1147.9 204.0,1146.4 205.0,1144.8 206.0,1143.2 207.0,1141.5 208.0,1139.8 209.0,1138.1 210.0,1136.3 211.0,1134.4 212.0,1132.6 213.0,1130.7 214.0,1128.8 215.0,1126.9 216.0,1124.9 217.0,1123.0 218.0,1121.1 219.0,1119.1 220.0,1117.2 221.0,1115.4 222.0,1113.5 223.0,1111.7 224.0,1109.9 225.0,1108.2 226.0,1106.5 227.0,1104.9 228.0,1103.4 229.0,1101.9 230.0,1100.5 231.0,1099.2 232.0,1098.0 233.0,1096.9 234.0,1095.8 235.0,1094.9 236.0,1094.0 237.0,1093.2 238.0,1092.5 239.0,1091.8 240.0,1091.2 241.0,1090.7 242.0,1090.3 243.0,1089.9 244.0,1089.5 245.0,1089.2 246.0,1088.9 247.0,1088.6 248.0,1088.4 249.0,1088.1 250.0,1087.8 251.0,1087.5 252.0,1087.1 253.0,1086.8 254.0,1086.3 255.0,1085.9 256.0,1085.3 257.0,1084.8 258.0,1084.1 259.0,1083.4 260.0,1082.6 261.0,1081.7 262.0,1080.8 263.0,1079.7 264.0,1078.6 265.0,1077.5 266.0,1076.2 267.0,1074.9 268.0,1073.5 269.0,1072.1 270.0,1070.5 271.0,1069.0 272.0,1067.4 273.0,1065.7 274.0,1064.1 275.0,1062.4 276.0,1060.7 277.0,1059.0 278.0,1057.3 279.0,1055.6 280.0,1054.0 281.0,1052.4 282.0,1050.8 283.0,1049.4 284.0,1048.0 285.0,1046.7 286.0,1045.5 287.0,1044.4 288.0,1043.4 289.0,1042.6 290.0,1041.9 291.0,1041.4 292.0,1041.0 293.0,1040.8 294.0,1040.8 295.0,1040.9 296.0,1041.2 297.0,1041.7 298.0,1042.4 299.0,1043.3 300.0,1044.3 301.0,1045.5 302.0,1046.9 303.0,1048.5 304.0,1050.2 305.0,1052.0 306.0,1054.0 307.0,1056.2 308.0,1058.4 309.0,1060.8 310.0,1063.2 311.0,1065.8 312.0,1068.4 313.0,1071.1 314.0,1073.9 315.0,1076.7 316.0,1079.5 317.0,1082.4 318.0,1085.3 319.0,1088.1 320.0,1091.0 321.0,1093.9 322.0,1096.8 323.0,1099.6 324.0,1102.4 325.0,1105.1 326.0,1107.8 327.0,1110.5 328.0,1113.0 329.0,1115.5 330.0,1118.0 331.0,1120.3 332.0,1122.6 333.0,1124.8 334.0,1126.9 335.0,1129.0 336.0,1130.9 337.0,1132.7 338.0,1134.5 339.0,1136.2 340.0,1137.8 341.0,1139.3 342.0,1140.7 343.0,1142.1 344.0,1143.3 345.0,1144.5 346.0,1145.6 347.0,1146.6 348.0,1147.6 349.0,1148.5 350.0,1149.3 351.0,1150.1 352.0,1150.8 353.0,1151.5 354.0,1152.1 355.0,1152.7 356.0,1153.3 357.0,1153.8 358.0,1154.2 359.0,1154.7 360.0,1155.1 361.0,1155.5 362.0,1155.8 363.0,1156.2 364.0,1156.5 365.0,1156.8 366.0,1157.1 367.0,1157.4 368.0,1157.7 369.0,1158.0 370.0,1158.3 371.0,1158.5 372.0,1158.8 373.0,1159.1 374.0,1159.4 375.0,1159.6 376.0,1159.9 377.0,1160.2 378.0,1160.5 379.0,1160.8 380.0,1161.0 381.0,1161.3 382.0,1161.6 383.0,1161.9 384.0,1162.2 385.0,1162.5 386.0,1162.8 387.0,1163.1 388.0,1163.3 389.0,1163.6 390.0,1163.9 391.0,1164.2 392.0,1164.5 393.0,1164.8 394.0,1165.1 395.0,1165.3 396.0,1165.6 397.0,1165.9 398.0,1166.1 399.0,1166.4 400.0,1166.6 401.0,1166.9 402.0,1167.1 403.0,1167.3 404.0,1167.6 405.0,1167.8 406.0,1168.0 407.0,1168.2 408.0,1168.4 409.0,1168.6 410.0,1168.8 411.0,1168.9 412.0,1169.1 413.0,1169.3 414.0,1169.4 415.0,1169.6 416.0,1169.7 417.0,1169.8 418.0,1170.0 419.0,1170.1 420.0,1170.2 421.0,1170.3 422.0,1170.4 423.0,1170.5 424.0,1170.6 425.0,1170.7 426.0,1170.8 427.0,1170.8 428.0,1170.9 429.0,1171.0 430.0,1171.1 431.0,1171.1 432.0,1171.2 433.0,1171.2 434.0,1171.3 435.0,1171.3 436.0,1171.4 437.0,1171.4 438.0,1171.4 439.0,1171.5 440.0,1171.5 441.0,1171.5 442.0,1171.6 443.0,1171.6 444.0,1171.6 445.0,1171.6 446.0,1171.7 447.0,1171.7 448.0,1171.7 449.0,1171.7 450.0,1171.7 451.0,1171.8 452.0,1171.8 453.0,1171.8 454.0,1171.8 455.0,1171.8 456.0,1171.8 457.0,1171.8 458.0,1171.9 459.0,1171.9 460.0,1171.9 461.0,1171.9 462.0,1171.9 463.0,1171.9 464.0,1171.9 465.0,1171.9 466.0,1171.9 467.0,1171.9 468.0,1172.0 469.0,1172.0 470.0,1172.0 471.0,1172.0 472.0,1172.0 473.0,1172.0 474.0,1172.0 475.0,1172.0 476.0,1172.0 477.0,1172.0 478.0,1172.0 479.0,1172.0 480.0,1172.0 481.0,1172.0 482.0,1172.1 483.0,1172.1 484.0,1172.1 485.0,1172.1 486.0,1172.1 487.0,1172.1 488.0,1172.1 489.0,1172.1 490.0,1172.1 491.0,1172.1 492.0,1172.1 493.0,1172.1 494.0,1172.1" fill="none" stroke="#000" stroke-width="2.7" stroke-linejoin="round" stroke-linecap="round" />
<path d="M123.1 1213.7L123.1 1205.2 M184.9 1213.7L184.9 1209.4 M246.8 1213.7L246.8 1205.2 M308.6 1213.7L308.6 1209.4 M370.5 1213.7L370.5 1205.2 M432.3 1213.7L432.3 1209.4 M123.1 1004.0L123.1 1012.5 M184.9 1004.0L184.9 1008.3 M246.8 1004.0L246.8 1012.5 M308.6 1004.0L308.6 1008.3 M370.5 1004.0L370.5 1012.5 M432.3 1004.0L432.3 1008.3 M61.8 1030.0L66.1 1030.0 M494.1 1030.0L489.8 1030.0 M61.8 1056.2L70.3 1056.2 M494.1 1056.2L485.6 1056.2 M61.8 1082.5L66.1 1082.5 M494.1 1082.5L489.8 1082.5 M61.8 1108.8L70.3 1108.8 M494.1 1108.8L485.6 1108.8 M61.8 1135.1L66.1 1135.1 M494.1 1135.1L489.8 1135.1 M61.8 1161.4L70.3 1161.4 M494.1 1161.4L485.6 1161.4 M61.8 1187.7L66.1 1187.7 M494.1 1187.7L489.8 1187.7" stroke="#000" stroke-width="1.6" fill="none"/>
<rect x="61.8" y="1004.0" width="432.3" height="209.7" fill="none" stroke="#000" stroke-width="1.6"/>
<polyline points="62.5,1400.3 63.5,1399.7 64.5,1400.1 65.5,1400.8 66.5,1399.9 67.5,1399.4 68.5,1399.4 69.5,1399.0 70.5,1400.4 71.5,1400.8 72.5,1400.3 73.5,1400.7 74.5,1400.4 75.5,1399.8 76.5,1399.3 77.5,1400.0 78.5,1401.0 79.5,1400.0 80.5,1399.0 81.5,1399.8 82.5,1400.8 83.5,1401.1 84.5,1401.0 85.5,1400.9 86.5,1400.1 87.5,1399.9 88.5,1401.0 89.5,1401.2 90.5,1400.0 91.5,1400.6 92.5,1401.4 93.5,1401.1 94.5,1401.9 95.5,1401.3 96.5,1400.0 97.5,1399.1 98.5,1399.5 99.5,1401.0 100.5,1401.0 101.5,1400.7 102.5,1401.2 103.5,1401.4 104.5,1401.2 105.5,1400.9 106.5,1400.7 107.5,1401.3 108.5,1401.3 109.5,1400.6 110.5,1400.4 111.5,1400.6 112.5,1400.9 113.5,1401.3 114.5,1401.2 115.5,1400.9 116.5,1400.0 117.5,1400.5 118.5,1400.8 119.5,1400.5 120.5,1401.5 121.5,1401.8 122.5,1400.8 123.5,1401.1 124.5,1401.3 125.5,1400.8 126.5,1401.5 127.5,1402.1 128.5,1403.0 129.5,1402.2 130.5,1400.7 131.5,1401.5 132.5,1402.1 133.5,1401.8 134.5,1401.9 135.5,1402.2 136.5,1401.1 137.5,1401.0 138.5,1401.3 139.5,1401.3 140.5,1401.1 141.5,1401.1 142.5,1401.8 143.5,1402.4 144.5,1402.8 145.5,1402.0 146.5,1400.7 147.5,1402.1 148.5,1402.8 149.5,1402.0 150.5,1401.4 151.5,1401.4 152.5,1401.8 153.5,1401.6 154.5,1402.2 155.5,1401.7 156.5,1401.2 157.5,1400.8 158.5,1400.9 159.5,1401.1 160.5,1401.8 161.5,1401.6 162.5,1401.5 163.5,1401.7 164.5,1400.1 165.5,1400.6 166.5,1401.4 167.5,1400.8 168.5,1400.0 169.5,1399.2 170.5,1399.6 171.5,1400.8 172.5,1399.9 173.5,1399.6 174.5,1401.2 175.5,1400.2 176.5,1399.5 177.5,1400.5 178.5,1399.7 179.5,1399.4 180.5,1398.9 181.5,1398.7 182.5,1399.7 183.5,1399.0 184.5,1397.6 185.5,1396.5 186.5,1397.2 187.5,1398.6 188.5,1397.0 189.5,1395.7 190.5,1395.3 191.5,1395.3 192.5,1394.0 193.5,1392.9 194.5,1391.9 195.5,1391.1 196.5,1390.9 197.5,1390.3 198.5,1390.0 199.5,1388.0 200.5,1386.3 201.5,1384.9 202.5,1384.8 203.5,1384.6 204.5,1382.2 205.5,1379.7 206.5,1378.8 207.5,1377.9 208.5,1375.8 209.5,1374.2 210.5,1373.1 211.5,1371.3 212.5,1369.5 213.5,1367.6 214.5,1365.6 215.5,1363.4 216.5,1361.7 217.5,1360.0 218.5,1357.5 219.5,1355.5 220.5,1353.4 221.5,1351.2 222.5,1349.5 223.5,1347.9 224.5,1344.9 225.5,1342.3 226.5,1341.1 227.5,1338.7 228.5,1336.9 229.5,1335.5 230.5,1333.2 231.5,1330.6 232.5,1328.5 233.5,1327.7 234.5,1327.6 235.5,1325.9 236.5,1322.6 237.5,1322.0 238.5,1321.9 239.5,1320.6 240.5,1319.2 241.5,1318.0 242.5,1317.5 243.5,1315.7 244.5,1314.6 245.5,1314.5 246.5,1313.6 247.5,1313.5 248.5,1313.2 249.5,1312.6 250.5,1312.2 251.5,1311.6 252.5,1311.6 253.5,1310.0 254.5,1309.1 255.5,1310.0 256.5,1309.4 257.5,1309.3 258.5,1309.6 259.5,1307.9 260.5,1306.7 261.5,1306.7 262.5,1305.5 263.5,1305.2 264.5,1305.0 265.5,1303.3 266.5,1301.5 267.5,1299.9 268.5,1298.8 269.5,1298.2 270.5,1296.8 271.5,1295.4 272.5,1295.5 273.5,1292.8 274.5,1289.8 275.5,1289.3 276.5,1288.0 277.5,1285.3 278.5,1283.3 279.5,1281.8 280.5,1280.4 281.5,1278.1 282.5,1275.8 283.5,1274.3 284.5,1272.9 285.5,1271.1 286.5,1268.5 287.5,1266.4 288.5,1266.2 289.5,1265.1 290.5,1263.3 291.5,1262.4 292.5,1261.5 293.5,1261.4 294.5,1260.6 295.5,1259.9 296.5,1259.9 297.5,1259.7 298.5,1259.2 299.5,1259.4 300.5,1261.1 301.5,1262.3 302.5,1263.0 303.5,1264.6 304.5,1266.0 305.5,1267.9 306.5,1270.9 307.5,1273.5 308.5,1275.6 309.5,1279.4 310.5,1283.5 311.5,1286.5 312.5,1289.2 313.5,1293.3 314.5,1297.7 315.5,1300.4 316.5,1303.6 317.5,1307.6 318.5,1311.0 319.5,1316.3 320.5,1321.8 321.5,1324.1 322.5,1327.6 323.5,1332.3 324.5,1335.9 325.5,1340.0 326.5,1343.8 327.5,1346.8 328.5,1349.5 329.5,1352.9 330.5,1357.1 331.5,1359.1 332.5,1360.7 333.5,1363.8 334.5,1366.2 335.5,1368.5 336.5,1371.5 337.5,1373.9 338.5,1375.3 339.5,1376.9 340.5,1378.3 341.5,1380.2 342.5,1381.8 343.5,1382.2 344.5,1383.4 345.5,1385.0 346.5,1387.0 347.5,1387.9 348.5,1387.9 349.5,1389.7 350.5,1390.6 351.5,1390.9 352.5,1391.8 353.5,1392.1 354.5,1391.9 355.5,1392.2 356.5,1393.0 357.5,1392.8 358.5,1393.6 359.5,1394.5 360.5,1394.7 361.5,1395.7 362.5,1394.9 363.5,1395.0 364.5,1395.6 365.5,1395.0 366.5,1396.1 367.5,1397.0 368.5,1396.3 369.5,1396.8 370.5,1398.3 371.5,1399.2 372.5,1399.9 373.5,1399.6 374.5,1398.7 375.5,1399.0 376.5,1400.2 377.5,1400.9 378.5,1401.4 379.5,1401.5 380.5,1401.5 381.5,1401.5 382.5,1401.4 383.5,1402.1 384.5,1403.0 385.5,1402.4 386.5,1402.0 387.5,1402.6 388.5,1403.4 389.5,1403.7 390.5,1404.7 391.5,1405.0 392.5,1403.7 393.5,1403.6 394.5,1403.9 395.5,1404.0 396.5,1404.6 397.5,1405.5 398.5,1406.1 399.5,1405.8 400.5,1404.7 401.5,1404.8 402.5,1405.0 403.5,1404.8 404.5,1405.5 405.5,1405.6 406.5,1406.4 407.5,1406.5 408.5,1405.4 409.5,1405.4 410.5,1406.0 411.5,1405.4 412.5,1404.8 413.5,1405.1 414.5,1405.2 415.5,1405.0 416.5,1405.0 417.5,1406.3 418.5,1406.1 419.5,1406.2 420.5,1406.2 421.5,1405.7 422.5,1405.5 423.5,1405.9 424.5,1406.7 425.5,1406.5 426.5,1406.8 427.5,1406.5 428.5,1407.0 429.5,1407.3 430.5,1406.1 431.5,1405.9 432.5,1406.3 433.5,1405.9 434.5,1405.5 435.5,1406.8 436.5,1407.6 437.5,1407.3 438.5,1408.2 439.5,1408.1 440.5,1406.7 441.5,1406.8 442.5,1406.8 443.5,1406.9 444.5,1407.6 445.5,1407.6 446.5,1406.9 447.5,1405.5 448.5,1406.1 449.5,1407.2 450.5,1407.1 451.5,1406.6 452.5,1406.4 453.5,1406.3 454.5,1406.8 455.5,1406.3 456.5,1405.9 457.5,1406.8 458.5,1406.9 459.5,1406.4 460.5,1406.2 461.5,1406.6 462.5,1407.2 463.5,1406.3 464.5,1406.9 465.5,1407.8 466.5,1406.8 467.5,1406.1 468.5,1405.7 469.5,1406.6 470.5,1407.1 471.5,1405.9 472.5,1405.2 473.5,1406.0 474.5,1406.0 475.5,1406.9 476.5,1407.9 477.5,1406.8 478.5,1405.5 479.5,1405.8 480.5,1406.3 481.5,1406.1 482.5,1405.7 483.5,1406.2 484.5,1406.7 485.5,1406.9 486.5,1407.3 487.5,1406.6 488.5,1406.3 489.5,1406.2 490.5,1406.1 491.5,1406.0 492.5,1406.2 493.5,1405.7" fill="none" stroke="#000" stroke-width="2.1" stroke-linejoin="round" stroke-linecap="round" />
<polyline points="156.0,1402.6 157.0,1402.6 158.0,1402.6 159.0,1402.6 160.0,1402.6 161.0,1402.6 162.0,1402.6 163.0,1402.6 164.0,1402.6 165.0,1402.5 166.0,1402.5 167.0,1402.5 168.0,1402.4 169.0,1402.4 170.0,1402.3 171.0,1402.3 172.0,1402.2 173.0,1402.1 174.0,1402.0 175.0,1401.9 176.0,1401.8 177.0,1401.6 178.0,1401.5 179.0,1401.3 180.0,1401.1 181.0,1400.8 182.0,1400.6 183.0,1400.3 184.0,1400.0 185.0,1399.7 186.0,1399.3 187.0,1398.9 188.0,1398.4 189.0,1398.0 190.0,1397.4 191.0,1396.9 192.0,1396.3 193.0,1395.6 194.0,1394.9 195.0,1394.1 196.0,1393.3 197.0,1392.4 198.0,1391.5 199.0,1390.5 200.0,1389.4 201.0,1388.3 202.0,1387.1 203.0,1385.8 204.0,1384.5 205.0,1383.2 206.0,1381.7 207.0,1380.2 208.0,1378.7 209.0,1377.1 210.0,1375.4 211.0,1373.7 212.0,1371.9 213.0,1370.1 214.0,1368.3 215.0,1366.4 216.0,1364.5 217.0,1362.6 218.0,1360.7 219.0,1358.8 220.0,1356.8 221.0,1354.9 222.0,1353.0 223.0,1351.1 224.0,1349.2 225.0,1347.4 226.0,1345.7 227.0,1343.9 228.0,1342.3 229.0,1340.7 230.0,1339.2 231.0,1337.9 232.0,1336.6 233.0,1335.4 234.0,1334.3 235.0,1333.3 236.0,1332.5 237.0,1331.8 238.0,1331.3 239.0,1330.8 240.0,1330.5 241.0,1330.4 242.0,1330.4 243.0,1330.5 244.0,1330.8 245.0,1331.3 246.0,1331.8 247.0,1332.5 248.0,1333.4 249.0,1334.3 250.0,1335.4 251.0,1336.6 252.0,1337.9 253.0,1339.3 254.0,1340.8 255.0,1342.4 256.0,1344.1 257.0,1345.8 258.0,1347.6 259.0,1349.4 260.0,1351.3 261.0,1353.2 262.0,1355.2 263.0,1357.1 264.0,1359.1 265.0,1361.1 266.0,1363.0 267.0,1365.0 268.0,1366.9 269.0,1368.8 270.0,1370.7 271.0,1372.5 272.0,1374.3 273.0,1376.1 274.0,1377.8 275.0,1379.4 276.0,1381.0 277.0,1382.6 278.0,1384.1 279.0,1385.5 280.0,1386.8 281.0,1388.1 282.0,1389.3 283.0,1390.5 284.0,1391.6 285.0,1392.7 286.0,1393.6 287.0,1394.6 288.0,1395.4 289.0,1396.3 290.0,1397.0 291.0,1397.7 292.0,1398.4 293.0,1399.0 294.0,1399.6 295.0,1400.1 296.0,1400.6 297.0,1401.0 298.0,1401.4 299.0,1401.8 300.0,1402.1 301.0,1402.5 302.0,1402.8 303.0,1403.0 304.0,1403.3 305.0,1403.5 306.0,1403.7 307.0,1403.9 308.0,1404.0 309.0,1404.2 310.0,1404.3 311.0,1404.4 312.0,1404.5 313.0,1404.6 314.0,1404.7 315.0,1404.8 316.0,1404.9 317.0,1405.0 318.0,1405.0 319.0,1405.1 320.0,1405.1 321.0,1405.2 322.0,1405.2 323.0,1405.3 324.0,1405.3 325.0,1405.3 326.0,1405.4 327.0,1405.4" fill="none" stroke="#ff0000" stroke-width="2.6" stroke-linejoin="round" stroke-linecap="round" />
<polyline points="210.0,1403.5 211.0,1403.5 212.0,1403.5 213.0,1403.5 214.0,1403.4 215.0,1403.4 216.0,1403.3 217.0,1403.3 218.0,1403.2 219.0,1403.2 220.0,1403.1 221.0,1403.0 222.0,1402.9 223.0,1402.8 224.0,1402.6 225.0,1402.5 226.0,1402.3 227.0,1402.1 228.0,1401.9 229.0,1401.6 230.0,1401.3 231.0,1401.0 232.0,1400.7 233.0,1400.3 234.0,1399.9 235.0,1399.5 236.0,1399.0 237.0,1398.5 238.0,1397.9 239.0,1397.3 240.0,1396.6 241.0,1395.9 242.0,1395.2 243.0,1394.4 244.0,1393.5 245.0,1392.7 246.0,1391.7 247.0,1390.8 248.0,1389.7 249.0,1388.7 250.0,1387.6 251.0,1386.5 252.0,1385.3 253.0,1384.2 254.0,1383.0 255.0,1381.8 256.0,1380.5 257.0,1379.3 258.0,1378.1 259.0,1376.9 260.0,1375.7 261.0,1374.5 262.0,1373.4 263.0,1372.3 264.0,1371.3 265.0,1370.3 266.0,1369.3 267.0,1368.5 268.0,1367.7 269.0,1367.0 270.0,1366.3 271.0,1365.8 272.0,1365.4 273.0,1365.0 274.0,1364.8 275.0,1364.7 276.0,1364.6 277.0,1364.7 278.0,1364.9 279.0,1365.2 280.0,1365.6 281.0,1366.1 282.0,1366.7 283.0,1367.3 284.0,1368.1 285.0,1368.9 286.0,1369.8 287.0,1370.8 288.0,1371.9 289.0,1373.0 290.0,1374.1 291.0,1375.3 292.0,1376.5 293.0,1377.7 294.0,1378.9 295.0,1380.2 296.0,1381.4 297.0,1382.7 298.0,1383.9 299.0,1385.1 300.0,1386.3 301.0,1387.5 302.0,1388.7 303.0,1389.8 304.0,1390.9 305.0,1391.9 306.0,1392.9 307.0,1393.8 308.0,1394.8 309.0,1395.6 310.0,1396.4 311.0,1397.2 312.0,1397.9 313.0,1398.6 314.0,1399.2 315.0,1399.8 316.0,1400.4 317.0,1400.9 318.0,1401.4 319.0,1401.8 320.0,1402.2 321.0,1402.6 322.0,1402.9 323.0,1403.2 324.0,1403.5 325.0,1403.7 326.0,1404.0 327.0,1404.2 328.0,1404.3 329.0,1404.5 330.0,1404.7 331.0,1404.8 332.0,1404.9 333.0,1405.0 334.0,1405.1 335.0,1405.2 336.0,1405.3 337.0,1405.4 338.0,1405.4 339.0,1405.5 340.0,1405.6 341.0,1405.6 342.0,1405.6" fill="none" stroke="#0000ff" stroke-width="2.6" stroke-linejoin="round" stroke-linecap="round" />
<polyline points="217.0,1403.6 218.0,1403.6 219.0,1403.6 220.0,1403.7 221.0,1403.7 222.0,1403.7 223.0,1403.7 224.0,1403.7 225.0,1403.7 226.0,1403.7 227.0,1403.7 228.0,1403.7 229.0,1403.6 230.0,1403.6 231.0,1403.6 232.0,1403.6 233.0,1403.6 234.0,1403.5 235.0,1403.5 236.0,1403.4 237.0,1403.3 238.0,1403.3 239.0,1403.2 240.0,1403.1 241.0,1402.9 242.0,1402.8 243.0,1402.6 244.0,1402.4 245.0,1402.2 246.0,1401.9 247.0,1401.6 248.0,1401.3 249.0,1400.9 250.0,1400.5 251.0,1400.0 252.0,1399.4 253.0,1398.8 254.0,1398.1 255.0,1397.4 256.0,1396.6 257.0,1395.6 258.0,1394.6 259.0,1393.5 260.0,1392.3 261.0,1391.0 262.0,1389.5 263.0,1388.0 264.0,1386.3 265.0,1384.5 266.0,1382.5 267.0,1380.4 268.0,1378.2 269.0,1375.9 270.0,1373.4 271.0,1370.8 272.0,1368.0 273.0,1365.1 274.0,1362.1 275.0,1359.0 276.0,1355.8 277.0,1352.5 278.0,1349.1 279.0,1345.6 280.0,1342.0 281.0,1338.4 282.0,1334.8 283.0,1331.2 284.0,1327.5 285.0,1323.9 286.0,1320.4 287.0,1316.9 288.0,1313.5 289.0,1310.2 290.0,1307.0 291.0,1304.0 292.0,1301.2 293.0,1298.6 294.0,1296.2 295.0,1294.0 296.0,1292.0 297.0,1290.4 298.0,1289.0 299.0,1287.9 300.0,1287.1 301.0,1286.6 302.0,1286.5 303.0,1286.6 304.0,1287.1 305.0,1287.8 306.0,1288.9 307.0,1290.2 308.0,1291.9 309.0,1293.8 310.0,1296.0 311.0,1298.4 312.0,1301.0 313.0,1303.8 314.0,1306.8 315.0,1310.0 316.0,1313.3 317.0,1316.7 318.0,1320.2 319.0,1323.8 320.0,1327.4 321.0,1331.0 322.0,1334.7 323.0,1338.4 324.0,1342.0 325.0,1345.6 326.0,1349.1 327.0,1352.6 328.0,1356.0 329.0,1359.3 330.0,1362.4 331.0,1365.5 332.0,1368.4 333.0,1371.2 334.0,1373.9 335.0,1376.5 336.0,1378.9 337.0,1381.1 338.0,1383.3 339.0,1385.3 340.0,1387.1 341.0,1388.9 342.0,1390.5 343.0,1392.0 344.0,1393.4 345.0,1394.7 346.0,1395.8 347.0,1396.9 348.0,1397.9 349.0,1398.8 350.0,1399.6 351.0,1400.3 352.0,1400.9 353.0,1401.5 354.0,1402.1 355.0,1402.5 356.0,1403.0 357.0,1403.3 358.0,1403.7 359.0,1404.0 360.0,1404.2 361.0,1404.5 362.0,1404.7 363.0,1404.9 364.0,1405.0 365.0,1405.2 366.0,1405.3 367.0,1405.4 368.0,1405.5 369.0,1405.6 370.0,1405.7 371.0,1405.8 372.0,1405.8 373.0,1405.9 374.0,1406.0 375.0,1406.0 376.0,1406.1 377.0,1406.1 378.0,1406.1 379.0,1406.2 380.0,1406.2 381.0,1406.2 382.0,1406.3 383.0,1406.3 384.0,1406.3 385.0,1406.3 386.0,1406.4 387.0,1406.4" fill="none" stroke="#008000" stroke-width="2.6" stroke-linejoin="round" stroke-linecap="round" />
<polyline points="150.0,1402.8 151.0,1402.8 152.0,1402.8 153.0,1402.8 154.0,1402.9 155.0,1402.9 156.0,1402.9 157.0,1402.9 158.0,1402.9 159.0,1402.9 160.0,1403.0 161.0,1403.0 162.0,1403.0 163.0,1403.0 164.0,1403.0 165.0,1403.0 166.0,1403.1 167.0,1403.1 168.0,1403.1 169.0,1403.1 170.0,1403.1 171.0,1403.1 172.0,1403.2 173.0,1403.2 174.0,1403.2 175.0,1403.2 176.0,1403.2 177.0,1403.2 178.0,1403.3 179.0,1403.3 180.0,1403.3 181.0,1403.3 182.0,1403.3 183.0,1403.3 184.0,1403.4 185.0,1403.4 186.0,1403.4 187.0,1403.4 188.0,1403.4 189.0,1403.4 190.0,1403.4 191.0,1403.5 192.0,1403.5 193.0,1403.5 194.0,1403.5 195.0,1403.5 196.0,1403.5 197.0,1403.6 198.0,1403.6 199.0,1403.6 200.0,1403.6 201.0,1403.6 202.0,1403.6 203.0,1403.7 204.0,1403.7 205.0,1403.7 206.0,1403.7 207.0,1403.7 208.0,1403.7 209.0,1403.8 210.0,1403.8 211.0,1403.8 212.0,1403.8 213.0,1403.8 214.0,1403.8 215.0,1403.9 216.0,1403.9 217.0,1403.9 218.0,1403.9 219.0,1403.9 220.0,1403.9 221.0,1404.0 222.0,1404.0 223.0,1404.0 224.0,1404.0 225.0,1404.0 226.0,1404.0 227.0,1404.0 228.0,1404.1 229.0,1404.1 230.0,1404.1 231.0,1404.1 232.0,1404.1 233.0,1404.1 234.0,1404.2 235.0,1404.2 236.0,1404.2 237.0,1404.2 238.0,1404.2 239.0,1404.2 240.0,1404.3 241.0,1404.3 242.0,1404.3 243.0,1404.3 244.0,1404.3 245.0,1404.3 246.0,1404.4 247.0,1404.4 248.0,1404.4 249.0,1404.4 250.0,1404.4 251.0,1404.4 252.0,1404.5 253.0,1404.5 254.0,1404.5 255.0,1404.5 256.0,1404.5 257.0,1404.5 258.0,1404.6 259.0,1404.6 260.0,1404.6 261.0,1404.6 262.0,1404.6 263.0,1404.6 264.0,1404.6 265.0,1404.7 266.0,1404.7 267.0,1404.7 268.0,1404.7 269.0,1404.7 270.0,1404.7 271.0,1404.8 272.0,1404.8 273.0,1404.8 274.0,1404.8 275.0,1404.8 276.0,1404.8 277.0,1404.9 278.0,1404.9 279.0,1404.9 280.0,1404.9 281.0,1404.9 282.0,1404.9 283.0,1405.0 284.0,1405.0 285.0,1405.0 286.0,1405.0 287.0,1405.0 288.0,1405.0 289.0,1405.1 290.0,1405.1 291.0,1405.1 292.0,1405.1 293.0,1405.1 294.0,1405.1 295.0,1405.2 296.0,1405.2 297.0,1405.2 298.0,1405.2 299.0,1405.2 300.0,1405.2 301.0,1405.2 302.0,1405.3 303.0,1405.3 304.0,1405.3 305.0,1405.3 306.0,1405.3 307.0,1405.3 308.0,1405.4 309.0,1405.4 310.0,1405.4 311.0,1405.4 312.0,1405.4 313.0,1405.4 314.0,1405.5 315.0,1405.5 316.0,1405.5 317.0,1405.5 318.0,1405.5 319.0,1405.5 320.0,1405.6 321.0,1405.6 322.0,1405.6 323.0,1405.6 324.0,1405.6 325.0,1405.6 326.0,1405.7 327.0,1405.7 328.0,1405.7 329.0,1405.7 330.0,1405.7 331.0,1405.7 332.0,1405.7 333.0,1405.8 334.0,1405.8 335.0,1405.8 336.0,1405.8 337.0,1405.8 338.0,1405.8 339.0,1405.9 340.0,1405.9 341.0,1405.9 342.0,1405.9 343.0,1405.9 344.0,1405.9 345.0,1406.0 346.0,1406.0 347.0,1406.0 348.0,1406.0 349.0,1406.0 350.0,1406.0 351.0,1406.1 352.0,1406.1 353.0,1406.1 354.0,1406.1 355.0,1406.1 356.0,1406.1 357.0,1406.2 358.0,1406.2 359.0,1406.2 360.0,1406.2 361.0,1406.2 362.0,1406.2 363.0,1406.3 364.0,1406.3 365.0,1406.3 366.0,1406.3 367.0,1406.3 368.0,1406.3 369.0,1406.3 370.0,1406.4 371.0,1406.4 372.0,1406.4 373.0,1406.4 374.0,1406.4 375.0,1406.4 376.0,1406.5 377.0,1406.5 378.0,1406.5 379.0,1406.5 380.0,1406.5 381.0,1406.5 382.0,1406.6 383.0,1406.6 384.0,1406.6 385.0,1406.6 386.0,1406.6 387.0,1406.6 388.0,1406.7 389.0,1406.7 390.0,1406.7 391.0,1406.7 392.0,1406.7 393.0,1406.7 394.0,1406.8 395.0,1406.8 396.0,1406.8 397.0,1406.8 398.0,1406.8 399.0,1406.8 400.0,1406.9 401.0,1406.9 402.0,1406.9 403.0,1406.9 404.0,1406.9 405.0,1406.9 406.0,1406.9 407.0,1407.0 408.0,1407.0 409.0,1407.0 410.0,1407.0 411.0,1407.0 412.0,1407.0 413.0,1407.1 414.0,1407.1 415.0,1407.1 416.0,1407.1 417.0,1407.1 418.0,1407.1 419.0,1407.2 420.0,1407.2 421.0,1407.2 422.0,1407.2 423.0,1407.2 424.0,1407.2 425.0,1407.3 426.0,1407.3 427.0,1407.3 428.0,1407.3 429.0,1407.3 430.0,1407.3 431.0,1407.4 432.0,1407.4 433.0,1407.4 434.0,1407.4 435.0,1407.4 436.0,1407.4 437.0,1407.5 438.0,1407.5 439.0,1407.5 440.0,1407.5" fill="none" stroke="#000" stroke-width="2.4" stroke-linejoin="round" stroke-linecap="round" />
<polyline points="303.0,1405.0 304.0,1405.0 305.0,1405.0 306.0,1405.0 307.0,1404.9 308.0,1404.9 309.0,1404.9 310.0,1404.8 311.0,1404.8 312.0,1404.7 313.0,1404.6 314.0,1404.6 315.0,1404.5 316.0,1404.4 317.0,1404.3 318.0,1404.2 319.0,1404.1 320.0,1404.0 321.0,1403.9 322.0,1403.8 323.0,1403.6 324.0,1403.5 325.0,1403.3 326.0,1403.2 327.0,1403.0 328.0,1402.8 329.0,1402.6 330.0,1402.5 331.0,1402.3 332.0,1402.1 333.0,1401.9 334.0,1401.7 335.0,1401.5 336.0,1401.3 337.0,1401.1 338.0,1400.9 339.0,1400.7 340.0,1400.5 341.0,1400.3 342.0,1400.1 343.0,1399.9 344.0,1399.7 345.0,1399.6 346.0,1399.4 347.0,1399.3 348.0,1399.2 349.0,1399.1 350.0,1399.0 351.0,1398.9 352.0,1398.9 353.0,1398.8 354.0,1398.8 355.0,1398.8 356.0,1398.8 357.0,1398.9 358.0,1398.9 359.0,1399.0 360.0,1399.1 361.0,1399.2 362.0,1399.3 363.0,1399.5 364.0,1399.6 365.0,1399.8 366.0,1400.0 367.0,1400.2 368.0,1400.4 369.0,1400.6 370.0,1400.8 371.0,1401.0 372.0,1401.2 373.0,1401.5 374.0,1401.7 375.0,1401.9 376.0,1402.2 377.0,1402.4 378.0,1402.6 379.0,1402.9 380.0,1403.1 381.0,1403.3 382.0,1403.5 383.0,1403.8 384.0,1404.0 385.0,1404.2 386.0,1404.3 387.0,1404.5 388.0,1404.7 389.0,1404.9 390.0,1405.0 391.0,1405.2 392.0,1405.3 393.0,1405.5 394.0,1405.6 395.0,1405.7 396.0,1405.8 397.0,1405.9 398.0,1406.0 399.0,1406.1 400.0,1406.2 401.0,1406.3 402.0,1406.4 403.0,1406.4 404.0,1406.5 405.0,1406.6 406.0,1406.6 407.0,1406.7 408.0,1406.7" fill="none" stroke="#ff8000" stroke-width="2.6" stroke-linejoin="round" stroke-linecap="round" />
<polyline points="150.0,1401.6 151.0,1401.6 152.0,1401.6 153.0,1401.6 154.0,1401.5 155.0,1401.5 156.0,1401.5 157.0,1401.5 158.0,1401.5 159.0,1401.5 160.0,1401.4 161.0,1401.4 162.0,1401.4 163.0,1401.3 164.0,1401.3 165.0,1401.2 166.0,1401.2 167.0,1401.1 168.0,1401.1 169.0,1401.0 170.0,1400.9 171.0,1400.8 172.0,1400.7 173.0,1400.6 174.0,1400.5 175.0,1400.3 176.0,1400.2 177.0,1400.0 178.0,1399.8 179.0,1399.6 180.0,1399.4 181.0,1399.2 182.0,1398.9 183.0,1398.6 184.0,1398.3 185.0,1397.9 186.0,1397.5 187.0,1397.1 188.0,1396.6 189.0,1396.1 190.0,1395.6 191.0,1395.0 192.0,1394.4 193.0,1393.7 194.0,1393.0 195.0,1392.2 196.0,1391.4 197.0,1390.5 198.0,1389.6 199.0,1388.6 200.0,1387.5 201.0,1386.4 202.0,1385.2 203.0,1384.0 204.0,1382.7 205.0,1381.3 206.0,1379.9 207.0,1378.4 208.0,1376.9 209.0,1375.3 210.0,1373.6 211.0,1371.9 212.0,1370.1 213.0,1368.3 214.0,1366.4 215.0,1364.5 216.0,1362.6 217.0,1360.6 218.0,1358.6 219.0,1356.5 220.0,1354.5 221.0,1352.4 222.0,1350.4 223.0,1348.3 224.0,1346.2 225.0,1344.2 226.0,1342.2 227.0,1340.2 228.0,1338.2 229.0,1336.3 230.0,1334.4 231.0,1332.6 232.0,1330.9 233.0,1329.2 234.0,1327.5 235.0,1326.0 236.0,1324.5 237.0,1323.1 238.0,1321.8 239.0,1320.6 240.0,1319.4 241.0,1318.4 242.0,1317.4 243.0,1316.5 244.0,1315.7 245.0,1315.0 246.0,1314.3 247.0,1313.7 248.0,1313.1 249.0,1312.6 250.0,1312.1 251.0,1311.7 252.0,1311.2 253.0,1310.8 254.0,1310.4 255.0,1309.9 256.0,1309.5 257.0,1309.0 258.0,1308.5 259.0,1308.0 260.0,1307.3 261.0,1306.7 262.0,1306.0 263.0,1305.2 264.0,1304.3 265.0,1303.4 266.0,1302.4 267.0,1301.3 268.0,1300.1 269.0,1298.9 270.0,1297.5 271.0,1296.1 272.0,1294.7 273.0,1293.1 274.0,1291.5 275.0,1289.9 276.0,1288.2 277.0,1286.4 278.0,1284.6 279.0,1282.8 280.0,1281.0 281.0,1279.1 282.0,1277.3 283.0,1275.4 284.0,1273.6 285.0,1271.9 286.0,1270.1 287.0,1268.5 288.0,1266.9 289.0,1265.5 290.0,1264.1 291.0,1262.9 292.0,1261.8 293.0,1260.9 294.0,1260.1 295.0,1259.6 296.0,1259.3 297.0,1259.2 298.0,1259.4 299.0,1259.8 300.0,1260.4 301.0,1261.3 302.0,1262.5 303.0,1264.0 304.0,1265.7 305.0,1267.7 306.0,1270.0 307.0,1272.4 308.0,1275.1 309.0,1278.1 310.0,1281.2 311.0,1284.5 312.0,1287.9 313.0,1291.5 314.0,1295.2 315.0,1299.0 316.0,1302.8 317.0,1306.7 318.0,1310.7 319.0,1314.7 320.0,1318.6 321.0,1322.5 322.0,1326.4 323.0,1330.3 324.0,1334.0 325.0,1337.7 326.0,1341.3 327.0,1344.8 328.0,1348.2 329.0,1351.4 330.0,1354.5 331.0,1357.5 332.0,1360.3 333.0,1363.0 334.0,1365.6 335.0,1368.0 336.0,1370.3 337.0,1372.4 338.0,1374.4 339.0,1376.2 340.0,1378.0 341.0,1379.6 342.0,1381.1 343.0,1382.4 344.0,1383.7 345.0,1384.8 346.0,1385.9 347.0,1386.9 348.0,1387.8 349.0,1388.6 350.0,1389.4 351.0,1390.1 352.0,1390.7 353.0,1391.3 354.0,1391.9 355.0,1392.4 356.0,1392.9 357.0,1393.4 358.0,1393.8 359.0,1394.3 360.0,1394.7 361.0,1395.1 362.0,1395.5 363.0,1395.8 364.0,1396.2 365.0,1396.6 366.0,1396.9 367.0,1397.3 368.0,1397.6 369.0,1397.9 370.0,1398.3 371.0,1398.6 372.0,1398.9 373.0,1399.2 374.0,1399.5 375.0,1399.9 376.0,1400.2 377.0,1400.4 378.0,1400.7 379.0,1401.0 380.0,1401.3 381.0,1401.6 382.0,1401.8 383.0,1402.1 384.0,1402.3 385.0,1402.5 386.0,1402.8 387.0,1403.0 388.0,1403.2 389.0,1403.4 390.0,1403.6 391.0,1403.7 392.0,1403.9 393.0,1404.1 394.0,1404.2 395.0,1404.4 396.0,1404.5 397.0,1404.6 398.0,1404.7 399.0,1404.9 400.0,1405.0 401.0,1405.1 402.0,1405.2 403.0,1405.2 404.0,1405.3 405.0,1405.4 406.0,1405.5 407.0,1405.5 408.0,1405.6 409.0,1405.7 410.0,1405.7 411.0,1405.8 412.0,1405.8 413.0,1405.9 414.0,1405.9 415.0,1406.0 416.0,1406.0 417.0,1406.1 418.0,1406.1 419.0,1406.2 420.0,1406.2 421.0,1406.2 422.0,1406.3 423.0,1406.3 424.0,1406.3 425.0,1406.4 426.0,1406.4 427.0,1406.4 428.0,1406.5 429.0,1406.5 430.0,1406.5 431.0,1406.5 432.0,1406.6 433.0,1406.6 434.0,1406.6 435.0,1406.7 436.0,1406.7 437.0,1406.7 438.0,1406.7 439.0,1406.8 440.0,1406.8" fill="none" stroke="#000" stroke-width="2.7" stroke-linejoin="round" stroke-linecap="round" />
<path d="M123.1 1438.2L123.1 1429.7 M184.9 1438.2L184.9 1433.9 M246.8 1438.2L246.8 1429.7 M308.6 1438.2L308.6 1433.9 M370.5 1438.2L370.5 1429.7 M432.3 1438.2L432.3 1433.9 M123.1 1228.4L123.1 1236.9 M184.9 1228.4L184.9 1232.7 M246.8 1228.4L246.8 1236.9 M308.6 1228.4L308.6 1232.7 M370.5 1228.4L370.5 1236.9 M432.3 1228.4L432.3 1232.7 M61.8 1254.7L66.1 1254.7 M494.1 1254.7L489.8 1254.7 M61.8 1281.0L70.3 1281.0 M494.1 1281.0L485.6 1281.0 M61.8 1307.4L66.1 1307.4 M494.1 1307.4L489.8 1307.4 M61.8 1333.7L70.3 1333.7 M494.1 1333.7L485.6 1333.7 M61.8 1360.0L66.1 1360.0 M494.1 1360.0L489.8 1360.0 M61.8 1386.3L70.3 1386.3 M494.1 1386.3L485.6 1386.3 M61.8 1412.6L66.1 1412.6 M494.1 1412.6L489.8 1412.6" stroke="#000" stroke-width="1.6" fill="none"/>
<rect x="61.8" y="1228.4" width="432.3" height="209.8" fill="none" stroke="#000" stroke-width="1.6"/>
<polyline points="574.5,954.2 575.5,953.6 576.5,953.5 577.5,953.3 578.5,953.1 579.5,953.8 580.5,954.5 581.5,953.6 582.5,953.6 583.5,954.5 584.5,955.2 585.5,955.4 586.5,954.7 587.5,954.1 588.5,954.5 589.5,955.2 590.5,955.3 591.5,954.9 592.5,954.7 593.5,954.1 594.5,954.1 595.5,955.2 596.5,955.0 597.5,954.5 598.5,955.1 599.5,955.0 600.5,955.2 601.5,955.4 602.5,955.2 603.5,954.9 604.5,954.7 605.5,955.5 606.5,954.9 607.5,954.8 608.5,954.5 609.5,953.9 610.5,955.0 611.5,954.8 612.5,954.7 613.5,955.5 614.5,955.5 615.5,954.3 616.5,954.5 617.5,955.7 618.5,955.4 619.5,955.0 620.5,955.0 621.5,954.4 622.5,954.3 623.5,955.6 624.5,956.2 625.5,955.8 626.5,955.3 627.5,954.9 628.5,955.3 629.5,955.5 630.5,955.3 631.5,955.1 632.5,955.3 633.5,955.2 634.5,955.0 635.5,955.6 636.5,955.0 637.5,954.8 638.5,955.2 639.5,954.0 640.5,954.0 641.5,954.6 642.5,955.4 643.5,956.3 644.5,956.8 645.5,956.3 646.5,955.3 647.5,955.4 648.5,956.2 649.5,956.5 650.5,956.0 651.5,955.4 652.5,956.1 653.5,955.8 654.5,955.0 655.5,955.5 656.5,955.9 657.5,955.4 658.5,955.7 659.5,956.1 660.5,955.2 661.5,955.0 662.5,955.3 663.5,955.4 664.5,955.7 665.5,955.5 666.5,955.4 667.5,956.5 668.5,956.4 669.5,956.0 670.5,956.2 671.5,955.1 672.5,955.2 673.5,955.8 674.5,955.6 675.5,956.0 676.5,955.8 677.5,955.4 678.5,954.7 679.5,954.8 680.5,955.3 681.5,955.0 682.5,955.3 683.5,954.6 684.5,954.4 685.5,955.3 686.5,954.6 687.5,953.2 688.5,954.0 689.5,954.7 690.5,953.9 691.5,953.4 692.5,952.7 693.5,952.2 694.5,952.1 695.5,952.1 696.5,951.5 697.5,950.8 698.5,950.5 699.5,950.0 700.5,948.8 701.5,948.2 702.5,947.6 703.5,947.8 704.5,947.5 705.5,946.8 706.5,946.5 707.5,946.1 708.5,945.4 709.5,944.2 710.5,942.7 711.5,940.7 712.5,940.1 713.5,940.1 714.5,938.6 715.5,936.7 716.5,935.4 717.5,933.9 718.5,933.1 719.5,931.9 720.5,930.2 721.5,928.7 722.5,926.4 723.5,925.3 724.5,923.8 725.5,920.9 726.5,919.6 727.5,918.2 728.5,915.5 729.5,912.8 730.5,910.3 731.5,908.1 732.5,906.7 733.5,904.5 734.5,902.5 735.5,900.4 736.5,898.1 737.5,895.6 738.5,893.1 739.5,891.1 740.5,888.7 741.5,886.4 742.5,884.0 743.5,881.7 744.5,880.4 745.5,878.4 746.5,876.1 747.5,874.5 748.5,872.2 749.5,870.2 750.5,868.3 751.5,866.0 752.5,864.0 753.5,862.1 754.5,860.3 755.5,859.8 756.5,858.8 757.5,856.8 758.5,855.9 759.5,853.7 760.5,852.4 761.5,852.7 762.5,851.7 763.5,850.6 764.5,849.7 765.5,849.6 766.5,849.7 767.5,849.0 768.5,848.0 769.5,847.2 770.5,846.5 771.5,845.6 772.5,845.3 773.5,844.9 774.5,843.5 775.5,843.2 776.5,843.1 777.5,842.4 778.5,841.8 779.5,840.6 780.5,839.7 781.5,839.1 782.5,837.8 783.5,837.2 784.5,837.1 785.5,835.8 786.5,834.3 787.5,833.2 788.5,832.1 789.5,830.5 790.5,829.2 791.5,828.2 792.5,826.5 793.5,825.4 794.5,824.2 795.5,822.9 796.5,822.4 797.5,822.1 798.5,820.4 799.5,818.2 800.5,817.8 801.5,816.9 802.5,815.6 803.5,815.1 804.5,814.3 805.5,813.3 806.5,812.1 807.5,811.9 808.5,811.8 809.5,810.7 810.5,810.6 811.5,810.6 812.5,811.4 813.5,812.1 814.5,811.2 815.5,811.5 816.5,812.4 817.5,813.0 818.5,814.1 819.5,815.8 820.5,817.9 821.5,819.9 822.5,821.8 823.5,824.3 824.5,827.4 825.5,829.8 826.5,832.9 827.5,836.8 828.5,839.3 829.5,842.2 830.5,846.1 831.5,850.0 832.5,854.5 833.5,858.6 834.5,861.7 835.5,865.5 836.5,869.9 837.5,874.5 838.5,878.5 839.5,881.6 840.5,885.5 841.5,889.5 842.5,892.8 843.5,896.3 844.5,900.1 845.5,903.4 846.5,906.6 847.5,910.4 848.5,914.0 849.5,917.5 850.5,919.9 851.5,921.9 852.5,924.6 853.5,928.0 854.5,930.4 855.5,932.4 856.5,933.5 857.5,934.5 858.5,938.2 859.5,940.0 860.5,941.0 861.5,942.3 862.5,942.8 863.5,944.5 864.5,946.2 865.5,947.2 866.5,948.9 867.5,949.5 868.5,949.4 869.5,950.9 870.5,952.2 871.5,952.1 872.5,952.4 873.5,953.3 874.5,953.1 875.5,953.8 876.5,954.6 877.5,954.6 878.5,954.9 879.5,955.7 880.5,955.4 881.5,955.5 882.5,956.2 883.5,955.9 884.5,956.2 885.5,956.8 886.5,957.3 887.5,957.1 888.5,957.4 889.5,957.9 890.5,957.5 891.5,957.7 892.5,958.5 893.5,958.3 894.5,958.8 895.5,960.0 896.5,958.7 897.5,958.1 898.5,958.7 899.5,958.3 900.5,959.2 901.5,959.8 902.5,959.4 903.5,959.7 904.5,959.8 905.5,959.1 906.5,959.2 907.5,960.3 908.5,960.6 909.5,960.4 910.5,960.4 911.5,959.6 912.5,959.1 913.5,960.1 914.5,960.9 915.5,961.4 916.5,961.7 917.5,961.0 918.5,961.1 919.5,960.3 920.5,959.6 921.5,960.2 922.5,959.7 923.5,960.0 924.5,960.5 925.5,960.5 926.5,961.3 927.5,961.0 928.5,960.5 929.5,961.2 930.5,960.9 931.5,961.2 932.5,961.7 933.5,960.6 934.5,960.5 935.5,961.6 936.5,961.4 937.5,961.3 938.5,961.5 939.5,960.8 940.5,961.1 941.5,962.0 942.5,961.6 943.5,960.5 944.5,961.1 945.5,962.1 946.5,962.0 947.5,962.1 948.5,961.9 949.5,961.4 950.5,961.4 951.5,962.3 952.5,962.3 953.5,961.8 954.5,962.2 955.5,962.5 956.5,962.0 957.5,961.5 958.5,961.5 959.5,962.3 960.5,962.6 961.5,961.9 962.5,962.4 963.5,962.5 964.5,962.2 965.5,963.0 966.5,963.3 967.5,963.4 968.5,962.7 969.5,961.8 970.5,962.2 971.5,962.6 972.5,962.0 973.5,961.8 974.5,963.0 975.5,963.1 976.5,962.3 977.5,962.1 978.5,961.8 979.5,962.5 980.5,963.3 981.5,962.2 982.5,962.2 983.5,963.3 984.5,963.5 985.5,962.5 986.5,962.6 987.5,963.8 988.5,963.3 989.5,962.7 990.5,962.4 991.5,961.8 992.5,962.5 993.5,962.2 994.5,961.9 995.5,963.3 996.5,963.4 997.5,963.5 998.5,963.5 999.5,962.9 1000.5,962.7 1001.5,962.7 1002.5,962.8 1003.5,963.0" fill="none" stroke="#000" stroke-width="2.1" stroke-linejoin="round" stroke-linecap="round" />
<polyline points="657.0,956.7 658.0,956.7 659.0,956.7 660.0,956.7 661.0,956.7 662.0,956.7 663.0,956.7 664.0,956.7 665.0,956.7 666.0,956.7 667.0,956.7 668.0,956.7 669.0,956.7 670.0,956.7 671.0,956.7 672.0,956.7 673.0,956.7 674.0,956.7 675.0,956.6 676.0,956.6 677.0,956.6 678.0,956.5 679.0,956.5 680.0,956.4 681.0,956.3 682.0,956.3 683.0,956.2 684.0,956.1 685.0,956.0 686.0,955.9 687.0,955.7 688.0,955.6 689.0,955.4 690.0,955.2 691.0,955.0 692.0,954.8 693.0,954.5 694.0,954.3 695.0,953.9 696.0,953.6 697.0,953.3 698.0,952.9 699.0,952.4 700.0,952.0 701.0,951.5 702.0,951.0 703.0,950.4 704.0,949.8 705.0,949.1 706.0,948.4 707.0,947.6 708.0,946.8 709.0,945.9 710.0,945.0 711.0,944.0 712.0,943.0 713.0,941.9 714.0,940.7 715.0,939.5 716.0,938.2 717.0,936.8 718.0,935.4 719.0,934.0 720.0,932.4 721.0,930.8 722.0,929.1 723.0,927.4 724.0,925.6 725.0,923.8 726.0,921.9 727.0,919.9 728.0,917.9 729.0,915.9 730.0,913.8 731.0,911.6 732.0,909.5 733.0,907.3 734.0,905.0 735.0,902.8 736.0,900.6 737.0,898.3 738.0,896.0 739.0,893.8 740.0,891.6 741.0,889.3 742.0,887.2 743.0,885.0 744.0,882.9 745.0,880.9 746.0,878.9 747.0,876.9 748.0,875.1 749.0,873.3 750.0,871.7 751.0,870.1 752.0,868.6 753.0,867.2 754.0,866.0 755.0,864.9 756.0,863.9 757.0,863.0 758.0,862.3 759.0,861.7 760.0,861.2 761.0,860.9 762.0,860.8 763.0,860.8 764.0,860.9 765.0,861.2 766.0,861.6 767.0,862.2 768.0,862.9 769.0,863.8 770.0,864.7 771.0,865.8 772.0,867.1 773.0,868.4 774.0,869.9 775.0,871.5 776.0,873.2 777.0,874.9 778.0,876.8 779.0,878.7 780.0,880.7 781.0,882.8 782.0,884.9 783.0,887.1 784.0,889.3 785.0,891.5 786.0,893.8 787.0,896.1 788.0,898.4 789.0,900.7 790.0,902.9 791.0,905.2 792.0,907.5 793.0,909.7 794.0,912.0 795.0,914.1 796.0,916.3 797.0,918.4 798.0,920.5 799.0,922.5 800.0,924.4 801.0,926.4 802.0,928.2 803.0,930.0 804.0,931.7 805.0,933.4 806.0,935.0 807.0,936.5 808.0,938.0 809.0,939.4 810.0,940.8 811.0,942.1 812.0,943.3 813.0,944.5 814.0,945.6 815.0,946.6 816.0,947.6 817.0,948.5 818.0,949.4 819.0,950.2 820.0,951.0 821.0,951.7 822.0,952.4 823.0,953.0 824.0,953.6 825.0,954.2 826.0,954.7 827.0,955.2 828.0,955.6 829.0,956.0 830.0,956.4 831.0,956.7 832.0,957.1 833.0,957.4 834.0,957.6 835.0,957.9 836.0,958.1 837.0,958.3 838.0,958.5 839.0,958.7 840.0,958.9 841.0,959.0 842.0,959.2 843.0,959.3 844.0,959.4 845.0,959.5 846.0,959.6 847.0,959.7 848.0,959.8 849.0,959.9 850.0,960.0 851.0,960.0 852.0,960.1 853.0,960.1 854.0,960.2 855.0,960.3 856.0,960.3 857.0,960.3 858.0,960.4 859.0,960.4 860.0,960.5 861.0,960.5 862.0,960.5 863.0,960.6 864.0,960.6 865.0,960.6 866.0,960.7 867.0,960.7 868.0,960.7" fill="none" stroke="#ff0000" stroke-width="2.6" stroke-linejoin="round" stroke-linecap="round" />
<polyline points="746.0,958.4 747.0,958.3 748.0,958.3 749.0,958.3 750.0,958.2 751.0,958.1 752.0,958.1 753.0,958.0 754.0,957.8 755.0,957.7 756.0,957.5 757.0,957.3 758.0,957.1 759.0,956.8 760.0,956.5 761.0,956.2 762.0,955.8 763.0,955.3 764.0,954.8 765.0,954.3 766.0,953.7 767.0,953.0 768.0,952.3 769.0,951.5 770.0,950.6 771.0,949.7 772.0,948.8 773.0,947.7 774.0,946.6 775.0,945.5 776.0,944.3 777.0,943.1 778.0,941.9 779.0,940.6 780.0,939.4 781.0,938.1 782.0,936.9 783.0,935.7 784.0,934.5 785.0,933.4 786.0,932.4 787.0,931.4 788.0,930.5 789.0,929.7 790.0,929.1 791.0,928.6 792.0,928.2 793.0,927.9 794.0,927.8 795.0,927.8 796.0,928.0 797.0,928.3 798.0,928.7 799.0,929.3 800.0,930.0 801.0,930.8 802.0,931.7 803.0,932.7 804.0,933.8 805.0,934.9 806.0,936.1 807.0,937.4 808.0,938.6 809.0,939.9 810.0,941.2 811.0,942.5 812.0,943.8 813.0,945.0 814.0,946.3 815.0,947.4 816.0,948.5 817.0,949.6 818.0,950.6 819.0,951.6 820.0,952.5 821.0,953.3 822.0,954.1 823.0,954.8 824.0,955.4 825.0,956.0 826.0,956.5 827.0,957.0 828.0,957.4 829.0,957.8 830.0,958.2 831.0,958.5 832.0,958.8 833.0,959.0 834.0,959.2 835.0,959.4 836.0,959.5 837.0,959.7 838.0,959.8 839.0,959.9 840.0,960.0 841.0,960.1 842.0,960.1 843.0,960.2" fill="none" stroke="#0000ff" stroke-width="2.6" stroke-linejoin="round" stroke-linecap="round" />
<polyline points="737.0,958.2 738.0,958.2 739.0,958.2 740.0,958.2 741.0,958.3 742.0,958.3 743.0,958.3 744.0,958.3 745.0,958.3 746.0,958.3 747.0,958.3 748.0,958.3 749.0,958.2 750.0,958.2 751.0,958.2 752.0,958.2 753.0,958.2 754.0,958.1 755.0,958.1 756.0,958.0 757.0,957.9 758.0,957.8 759.0,957.7 760.0,957.6 761.0,957.5 762.0,957.3 763.0,957.1 764.0,956.9 765.0,956.6 766.0,956.3 767.0,956.0 768.0,955.6 769.0,955.2 770.0,954.7 771.0,954.1 772.0,953.5 773.0,952.8 774.0,952.0 775.0,951.2 776.0,950.2 777.0,949.2 778.0,948.1 779.0,946.8 780.0,945.5 781.0,944.0 782.0,942.4 783.0,940.6 784.0,938.8 785.0,936.8 786.0,934.7 787.0,932.4 788.0,930.0 789.0,927.4 790.0,924.7 791.0,921.9 792.0,919.0 793.0,915.9 794.0,912.7 795.0,909.5 796.0,906.1 797.0,902.6 798.0,899.1 799.0,895.6 800.0,891.9 801.0,888.3 802.0,884.7 803.0,881.1 804.0,877.6 805.0,874.1 806.0,870.7 807.0,867.4 808.0,864.2 809.0,861.2 810.0,858.4 811.0,855.8 812.0,853.4 813.0,851.2 814.0,849.3 815.0,847.7 816.0,846.4 817.0,845.3 818.0,844.6 819.0,844.2 820.0,844.1 821.0,844.3 822.0,844.8 823.0,845.6 824.0,846.8 825.0,848.2 826.0,849.9 827.0,851.9 828.0,854.2 829.0,856.7 830.0,859.4 831.0,862.3 832.0,865.3 833.0,868.5 834.0,871.9 835.0,875.3 836.0,878.9 837.0,882.5 838.0,886.1 839.0,889.8 840.0,893.4 841.0,897.1 842.0,900.7 843.0,904.2 844.0,907.7 845.0,911.1 846.0,914.4 847.0,917.6 848.0,920.7 849.0,923.6 850.0,926.4 851.0,929.1 852.0,931.7 853.0,934.1 854.0,936.4 855.0,938.5 856.0,940.5 857.0,942.4 858.0,944.2 859.0,945.8 860.0,947.3 861.0,948.6 862.0,949.9 863.0,951.1 864.0,952.1 865.0,953.1 866.0,954.0 867.0,954.7 868.0,955.5 869.0,956.1 870.0,956.7 871.0,957.2 872.0,957.7 873.0,958.1 874.0,958.4 875.0,958.8 876.0,959.1 877.0,959.3 878.0,959.5 879.0,959.7 880.0,959.9 881.0,960.1 882.0,960.2 883.0,960.4 884.0,960.5 885.0,960.6 886.0,960.6 887.0,960.7 888.0,960.8 889.0,960.9 890.0,960.9 891.0,961.0 892.0,961.0 893.0,961.1 894.0,961.1 895.0,961.1 896.0,961.2 897.0,961.2 898.0,961.2 899.0,961.3 900.0,961.3 901.0,961.3 902.0,961.4" fill="none" stroke="#008000" stroke-width="2.6" stroke-linejoin="round" stroke-linecap="round" />
<polyline points="650.0,956.8 651.0,956.8 652.0,956.8 653.0,956.9 654.0,956.9 655.0,956.9 656.0,956.9 657.0,956.9 658.0,957.0 659.0,957.0 660.0,957.0 661.0,957.0 662.0,957.0 663.0,957.0 664.0,957.1 665.0,957.1 666.0,957.1 667.0,957.1 668.0,957.1 669.0,957.2 670.0,957.2 671.0,957.2 672.0,957.2 673.0,957.2 674.0,957.3 675.0,957.3 676.0,957.3 677.0,957.3 678.0,957.3 679.0,957.4 680.0,957.4 681.0,957.4 682.0,957.4 683.0,957.4 684.0,957.4 685.0,957.5 686.0,957.5 687.0,957.5 688.0,957.5 689.0,957.5 690.0,957.6 691.0,957.6 692.0,957.6 693.0,957.6 694.0,957.6 695.0,957.7 696.0,957.7 697.0,957.7 698.0,957.7 699.0,957.7 700.0,957.8 701.0,957.8 702.0,957.8 703.0,957.8 704.0,957.8 705.0,957.9 706.0,957.9 707.0,957.9 708.0,957.9 709.0,957.9 710.0,957.9 711.0,958.0 712.0,958.0 713.0,958.0 714.0,958.0 715.0,958.0 716.0,958.1 717.0,958.1 718.0,958.1 719.0,958.1 720.0,958.1 721.0,958.2 722.0,958.2 723.0,958.2 724.0,958.2 725.0,958.2 726.0,958.3 727.0,958.3 728.0,958.3 729.0,958.3 730.0,958.3 731.0,958.3 732.0,958.4 733.0,958.4 734.0,958.4 735.0,958.4 736.0,958.4 737.0,958.5 738.0,958.5 739.0,958.5 740.0,958.5 741.0,958.5 742.0,958.6 743.0,958.6 744.0,958.6 745.0,958.6 746.0,958.6 747.0,958.7 748.0,958.7 749.0,958.7 750.0,958.7 751.0,958.7 752.0,958.8 753.0,958.8 754.0,958.8 755.0,958.8 756.0,958.8 757.0,958.8 758.0,958.9 759.0,958.9 760.0,958.9 761.0,958.9 762.0,958.9 763.0,959.0 764.0,959.0 765.0,959.0 766.0,959.0 767.0,959.0 768.0,959.1 769.0,959.1 770.0,959.1 771.0,959.1 772.0,959.1 773.0,959.2 774.0,959.2 775.0,959.2 776.0,959.2 777.0,959.2 778.0,959.2 779.0,959.3 780.0,959.3 781.0,959.3 782.0,959.3 783.0,959.3 784.0,959.4 785.0,959.4 786.0,959.4 787.0,959.4 788.0,959.4 789.0,959.5 790.0,959.5 791.0,959.5 792.0,959.5 793.0,959.5 794.0,959.6 795.0,959.6 796.0,959.6 797.0,959.6 798.0,959.6 799.0,959.6 800.0,959.7 801.0,959.7 802.0,959.7 803.0,959.7 804.0,959.7 805.0,959.8 806.0,959.8 807.0,959.8 808.0,959.8 809.0,959.8 810.0,959.9 811.0,959.9 812.0,959.9 813.0,959.9 814.0,959.9 815.0,960.0 816.0,960.0 817.0,960.0 818.0,960.0 819.0,960.0 820.0,960.0 821.0,960.1 822.0,960.1 823.0,960.1 824.0,960.1 825.0,960.1 826.0,960.2 827.0,960.2 828.0,960.2 829.0,960.2 830.0,960.2 831.0,960.3 832.0,960.3 833.0,960.3 834.0,960.3 835.0,960.3 836.0,960.4 837.0,960.4 838.0,960.4 839.0,960.4 840.0,960.4 841.0,960.5 842.0,960.5 843.0,960.5 844.0,960.5 845.0,960.5 846.0,960.5 847.0,960.6 848.0,960.6 849.0,960.6 850.0,960.6 851.0,960.6 852.0,960.7 853.0,960.7 854.0,960.7 855.0,960.7 856.0,960.7 857.0,960.8 858.0,960.8 859.0,960.8 860.0,960.8 861.0,960.8 862.0,960.9 863.0,960.9 864.0,960.9 865.0,960.9 866.0,960.9 867.0,960.9 868.0,961.0 869.0,961.0 870.0,961.0 871.0,961.0 872.0,961.0 873.0,961.1 874.0,961.1 875.0,961.1 876.0,961.1 877.0,961.1 878.0,961.2 879.0,961.2 880.0,961.2 881.0,961.2 882.0,961.2 883.0,961.3 884.0,961.3 885.0,961.3 886.0,961.3 887.0,961.3 888.0,961.3 889.0,961.4 890.0,961.4 891.0,961.4 892.0,961.4 893.0,961.4 894.0,961.5 895.0,961.5 896.0,961.5 897.0,961.5 898.0,961.5 899.0,961.6 900.0,961.6 901.0,961.6 902.0,961.6 903.0,961.6 904.0,961.7 905.0,961.7 906.0,961.7 907.0,961.7 908.0,961.7 909.0,961.8 910.0,961.8 911.0,961.8 912.0,961.8 913.0,961.8 914.0,961.8 915.0,961.9 916.0,961.9 917.0,961.9 918.0,961.9 919.0,961.9 920.0,962.0 921.0,962.0 922.0,962.0 923.0,962.0 924.0,962.0 925.0,962.1 926.0,962.1 927.0,962.1 928.0,962.1 929.0,962.1 930.0,962.2 931.0,962.2 932.0,962.2 933.0,962.2 934.0,962.2 935.0,962.2 936.0,962.3 937.0,962.3 938.0,962.3 939.0,962.3 940.0,962.3 941.0,962.4 942.0,962.4 943.0,962.4 944.0,962.4 945.0,962.4 946.0,962.5 947.0,962.5 948.0,962.5 949.0,962.5 950.0,962.5 951.0,962.6 952.0,962.6 953.0,962.6 954.0,962.6 955.0,962.6 956.0,962.6 957.0,962.7 958.0,962.7 959.0,962.7 960.0,962.7 961.0,962.7 962.0,962.8 963.0,962.8 964.0,962.8 965.0,962.8 966.0,962.8 967.0,962.9 968.0,962.9 969.0,962.9 970.0,962.9 971.0,962.9 972.0,963.0 973.0,963.0 974.0,963.0 975.0,963.0 976.0,963.0 977.0,963.1 978.0,963.1 979.0,963.1 980.0,963.1 981.0,963.1 982.0,963.1 983.0,963.2 984.0,963.2 985.0,963.2 986.0,963.2 987.0,963.2 988.0,963.3 989.0,963.3 990.0,963.3" fill="none" stroke="#000" stroke-width="2.4" stroke-linejoin="round" stroke-linecap="round" />
<polyline points="830.0,960.0 831.0,960.0 832.0,959.9 833.0,959.9 834.0,959.9 835.0,959.9 836.0,959.9 837.0,959.8 838.0,959.8 839.0,959.8 840.0,959.7 841.0,959.7 842.0,959.6 843.0,959.6 844.0,959.6 845.0,959.5 846.0,959.5 847.0,959.4 848.0,959.4 849.0,959.3 850.0,959.3 851.0,959.2 852.0,959.2 853.0,959.1 854.0,959.1 855.0,959.1 856.0,959.0 857.0,959.0 858.0,959.0 859.0,958.9 860.0,958.9 861.0,958.9 862.0,958.9 863.0,958.9 864.0,958.9 865.0,958.9 866.0,958.9 867.0,959.0 868.0,959.0 869.0,959.0 870.0,959.1 871.0,959.1 872.0,959.2 873.0,959.2 874.0,959.3 875.0,959.3 876.0,959.4 877.0,959.5 878.0,959.6 879.0,959.6 880.0,959.7 881.0,959.8 882.0,959.9 883.0,960.0 884.0,960.1 885.0,960.1 886.0,960.2 887.0,960.3 888.0,960.4 889.0,960.5 890.0,960.6 891.0,960.6 892.0,960.7 893.0,960.8 894.0,960.9 895.0,960.9 896.0,961.0 897.0,961.1 898.0,961.1 899.0,961.2 900.0,961.2 901.0,961.3 902.0,961.3" fill="none" stroke="#ff8000" stroke-width="2.6" stroke-linejoin="round" stroke-linecap="round" />
<polyline points="650.0,955.7 651.0,955.7 652.0,955.7 653.0,955.7 654.0,955.7 655.0,955.7 656.0,955.7 657.0,955.7 658.0,955.7 659.0,955.7 660.0,955.7 661.0,955.6 662.0,955.6 663.0,955.6 664.0,955.6 665.0,955.6 666.0,955.6 667.0,955.6 668.0,955.5 669.0,955.5 670.0,955.5 671.0,955.5 672.0,955.4 673.0,955.4 674.0,955.3 675.0,955.3 676.0,955.2 677.0,955.2 678.0,955.1 679.0,955.0 680.0,955.0 681.0,954.9 682.0,954.8 683.0,954.7 684.0,954.5 685.0,954.4 686.0,954.3 687.0,954.1 688.0,953.9 689.0,953.7 690.0,953.5 691.0,953.3 692.0,953.1 693.0,952.8 694.0,952.5 695.0,952.2 696.0,951.8 697.0,951.5 698.0,951.1 699.0,950.6 700.0,950.2 701.0,949.6 702.0,949.1 703.0,948.5 704.0,947.9 705.0,947.2 706.0,946.5 707.0,945.7 708.0,944.9 709.0,944.1 710.0,943.1 711.0,942.2 712.0,941.1 713.0,940.0 714.0,938.9 715.0,937.7 716.0,936.4 717.0,935.1 718.0,933.7 719.0,932.2 720.0,930.7 721.0,929.2 722.0,927.5 723.0,925.8 724.0,924.0 725.0,922.2 726.0,920.3 727.0,918.4 728.0,916.4 729.0,914.4 730.0,912.3 731.0,910.2 732.0,908.0 733.0,905.8 734.0,903.6 735.0,901.4 736.0,899.1 737.0,896.8 738.0,894.5 739.0,892.2 740.0,889.9 741.0,887.6 742.0,885.3 743.0,883.1 744.0,880.9 745.0,878.7 746.0,876.6 747.0,874.5 748.0,872.4 749.0,870.4 750.0,868.5 751.0,866.7 752.0,864.9 753.0,863.2 754.0,861.6 755.0,860.1 756.0,858.7 757.0,857.4 758.0,856.1 759.0,854.9 760.0,853.9 761.0,852.9 762.0,852.0 763.0,851.1 764.0,850.4 765.0,849.7 766.0,849.0 767.0,848.4 768.0,847.9 769.0,847.4 770.0,846.8 771.0,846.3 772.0,845.8 773.0,845.3 774.0,844.8 775.0,844.2 776.0,843.7 777.0,843.0 778.0,842.4 779.0,841.6 780.0,840.9 781.0,840.0 782.0,839.1 783.0,838.2 784.0,837.2 785.0,836.1 786.0,835.0 787.0,833.9 788.0,832.7 789.0,831.5 790.0,830.3 791.0,829.0 792.0,827.8 793.0,826.6 794.0,825.3 795.0,824.1 796.0,822.9 797.0,821.7 798.0,820.6 799.0,819.5 800.0,818.4 801.0,817.4 802.0,816.4 803.0,815.5 804.0,814.6 805.0,813.8 806.0,813.1 807.0,812.4 808.0,811.8 809.0,811.4 810.0,811.1 811.0,810.9 812.0,810.8 813.0,810.9 814.0,811.2 815.0,811.6 816.0,812.3 817.0,813.1 818.0,814.2 819.0,815.5 820.0,817.1 821.0,818.8 822.0,820.8 823.0,823.1 824.0,825.5 825.0,828.2 826.0,831.1 827.0,834.1 828.0,837.4 829.0,840.8 830.0,844.3 831.0,848.0 832.0,851.8 833.0,855.7 834.0,859.6 835.0,863.6 836.0,867.6 837.0,871.6 838.0,875.7 839.0,879.7 840.0,883.6 841.0,887.6 842.0,891.4 843.0,895.2 844.0,898.8 845.0,902.4 846.0,905.8 847.0,909.2 848.0,912.4 849.0,915.4 850.0,918.4 851.0,921.2 852.0,923.8 853.0,926.3 854.0,928.7 855.0,930.9 856.0,933.0 857.0,935.0 858.0,936.8 859.0,938.5 860.0,940.1 861.0,941.6 862.0,943.0 863.0,944.3 864.0,945.4 865.0,946.5 866.0,947.5 867.0,948.5 868.0,949.3 869.0,950.1 870.0,950.8 871.0,951.5 872.0,952.1 873.0,952.7 874.0,953.2 875.0,953.7 876.0,954.1 877.0,954.6 878.0,954.9 879.0,955.3 880.0,955.6 881.0,956.0 882.0,956.3 883.0,956.5 884.0,956.8 885.0,957.0 886.0,957.3 887.0,957.5 888.0,957.7 889.0,957.9 890.0,958.0 891.0,958.2 892.0,958.4 893.0,958.5 894.0,958.7 895.0,958.8 896.0,958.9 897.0,959.1 898.0,959.2 899.0,959.3 900.0,959.4 901.0,959.5 902.0,959.6 903.0,959.7 904.0,959.8 905.0,959.8 906.0,959.9 907.0,960.0 908.0,960.1 909.0,960.1 910.0,960.2 911.0,960.3 912.0,960.3 913.0,960.4 914.0,960.4 915.0,960.5 916.0,960.5 917.0,960.6 918.0,960.6 919.0,960.7 920.0,960.7 921.0,960.8 922.0,960.8 923.0,960.8 924.0,960.9 925.0,960.9 926.0,961.0 927.0,961.0 928.0,961.0 929.0,961.1 930.0,961.1 931.0,961.1 932.0,961.2 933.0,961.2 934.0,961.3 935.0,961.3 936.0,961.3 937.0,961.4 938.0,961.4 939.0,961.4 940.0,961.5 941.0,961.5 942.0,961.5 943.0,961.5 944.0,961.6 945.0,961.6 946.0,961.6 947.0,961.7 948.0,961.7 949.0,961.7 950.0,961.8 951.0,961.8 952.0,961.8 953.0,961.8 954.0,961.9 955.0,961.9 956.0,961.9 957.0,962.0 958.0,962.0 959.0,962.0 960.0,962.0 961.0,962.1 962.0,962.1 963.0,962.1 964.0,962.2 965.0,962.2 966.0,962.2 967.0,962.2 968.0,962.3 969.0,962.3 970.0,962.3 971.0,962.3 972.0,962.4 973.0,962.4 974.0,962.4 975.0,962.4 976.0,962.5 977.0,962.5 978.0,962.5 979.0,962.5 980.0,962.6 981.0,962.6 982.0,962.6 983.0,962.6 984.0,962.7 985.0,962.7 986.0,962.7 987.0,962.7 988.0,962.8 989.0,962.8 990.0,962.8" fill="none" stroke="#000" stroke-width="2.7" stroke-linejoin="round" stroke-linecap="round" />
<path d="M634.3 992.9L634.3 984.4 M695.9 992.9L695.9 988.6 M757.6 992.9L757.6 984.4 M819.2 992.9L819.2 988.6 M880.9 992.9L880.9 984.4 M942.5 992.9L942.5 988.6 M634.3 784.0L634.3 792.5 M695.9 784.0L695.9 788.3 M757.6 784.0L757.6 792.5 M819.2 784.0L819.2 788.3 M880.9 784.0L880.9 792.5 M942.5 784.0L942.5 788.3 M573.6 810.0L577.9 810.0 M1004.2 810.0L999.9 810.0 M573.6 836.2L582.1 836.2 M1004.2 836.2L995.7 836.2 M573.6 862.4L577.9 862.4 M1004.2 862.4L999.9 862.4 M573.6 888.5L582.1 888.5 M1004.2 888.5L995.7 888.5 M573.6 914.7L577.9 914.7 M1004.2 914.7L999.9 914.7 M573.6 940.9L582.1 940.9 M1004.2 940.9L995.7 940.9 M573.6 967.0L577.9 967.0 M1004.2 967.0L999.9 967.0" stroke="#000" stroke-width="1.6" fill="none"/>
<rect x="573.6" y="784.0" width="430.6" height="208.9" fill="none" stroke="#000" stroke-width="1.6"/>
<polyline points="574.5,1180.4 575.5,1180.1 576.5,1179.6 577.5,1179.6 578.5,1179.8 579.5,1179.9 580.5,1180.5 581.5,1180.1 582.5,1179.9 583.5,1180.2 584.5,1179.9 585.5,1180.9 586.5,1180.6 587.5,1180.0 588.5,1180.0 589.5,1180.4 590.5,1180.5 591.5,1180.5 592.5,1180.7 593.5,1181.1 594.5,1180.5 595.5,1180.7 596.5,1181.7 597.5,1180.4 598.5,1179.6 599.5,1180.3 600.5,1180.8 601.5,1180.5 602.5,1181.3 603.5,1181.5 604.5,1180.4 605.5,1180.8 606.5,1181.5 607.5,1181.2 608.5,1181.2 609.5,1181.2 610.5,1180.9 611.5,1180.9 612.5,1180.6 613.5,1180.5 614.5,1180.6 615.5,1180.7 616.5,1181.1 617.5,1181.1 618.5,1181.2 619.5,1181.1 620.5,1181.1 621.5,1181.2 622.5,1182.0 623.5,1182.4 624.5,1182.3 625.5,1181.8 626.5,1181.8 627.5,1182.4 628.5,1181.8 629.5,1181.3 630.5,1181.5 631.5,1181.7 632.5,1182.0 633.5,1182.3 634.5,1181.9 635.5,1181.2 636.5,1181.4 637.5,1181.5 638.5,1181.6 639.5,1182.1 640.5,1182.2 641.5,1182.2 642.5,1181.9 643.5,1181.7 644.5,1181.3 645.5,1181.6 646.5,1182.6 647.5,1182.5 648.5,1181.9 649.5,1182.0 650.5,1182.1 651.5,1182.0 652.5,1182.8 653.5,1182.8 654.5,1182.0 655.5,1182.2 656.5,1182.3 657.5,1181.8 658.5,1181.8 659.5,1182.5 660.5,1182.3 661.5,1182.4 662.5,1182.4 663.5,1181.5 664.5,1181.7 665.5,1181.8 666.5,1182.0 667.5,1182.1 668.5,1181.8 669.5,1181.8 670.5,1181.9 671.5,1182.2 672.5,1182.2 673.5,1181.6 674.5,1181.9 675.5,1182.5 676.5,1181.6 677.5,1181.8 678.5,1182.2 679.5,1181.9 680.5,1182.2 681.5,1182.6 682.5,1182.4 683.5,1181.8 684.5,1181.8 685.5,1182.1 686.5,1181.5 687.5,1181.0 688.5,1181.3 689.5,1181.2 690.5,1181.0 691.5,1181.1 692.5,1181.1 693.5,1181.2 694.5,1180.9 695.5,1180.4 696.5,1180.5 697.5,1180.6 698.5,1180.9 699.5,1180.0 700.5,1178.9 701.5,1178.5 702.5,1178.0 703.5,1177.6 704.5,1177.0 705.5,1176.1 706.5,1175.5 707.5,1174.4 708.5,1174.2 709.5,1173.7 710.5,1171.9 711.5,1171.5 712.5,1170.9 713.5,1170.1 714.5,1168.6 715.5,1166.9 716.5,1165.6 717.5,1164.1 718.5,1162.6 719.5,1160.9 720.5,1159.3 721.5,1157.5 722.5,1156.3 723.5,1154.5 724.5,1152.4 725.5,1150.1 726.5,1147.9 727.5,1145.5 728.5,1142.7 729.5,1141.0 730.5,1138.9 731.5,1135.5 732.5,1133.1 733.5,1131.0 734.5,1128.8 735.5,1126.5 736.5,1124.1 737.5,1121.7 738.5,1118.7 739.5,1115.7 740.5,1113.2 741.5,1111.1 742.5,1108.3 743.5,1106.5 744.5,1104.7 745.5,1102.6 746.5,1101.4 747.5,1099.9 748.5,1098.1 749.5,1095.6 750.5,1093.8 751.5,1092.8 752.5,1092.0 753.5,1090.2 754.5,1088.9 755.5,1088.6 756.5,1086.9 757.5,1084.9 758.5,1083.8 759.5,1083.6 760.5,1084.2 761.5,1083.6 762.5,1082.1 763.5,1082.2 764.5,1081.6 765.5,1080.5 766.5,1081.2 767.5,1081.5 768.5,1080.6 769.5,1080.6 770.5,1080.7 771.5,1080.4 772.5,1080.6 773.5,1080.6 774.5,1080.5 775.5,1079.6 776.5,1078.9 777.5,1079.0 778.5,1078.6 779.5,1078.3 780.5,1078.1 781.5,1077.9 782.5,1077.8 783.5,1076.9 784.5,1075.7 785.5,1074.0 786.5,1072.6 787.5,1072.3 788.5,1071.1 789.5,1069.6 790.5,1068.3 791.5,1066.6 792.5,1064.5 793.5,1062.9 794.5,1061.6 795.5,1059.8 796.5,1057.1 797.5,1054.5 798.5,1052.6 799.5,1051.0 800.5,1048.8 801.5,1046.9 802.5,1045.8 803.5,1044.3 804.5,1042.8 805.5,1041.1 806.5,1039.9 807.5,1039.3 808.5,1038.3 809.5,1037.3 810.5,1036.5 811.5,1036.5 812.5,1037.1 813.5,1037.2 814.5,1037.6 815.5,1039.2 816.5,1041.4 817.5,1043.5 818.5,1045.9 819.5,1048.0 820.5,1049.9 821.5,1053.3 822.5,1056.7 823.5,1060.4 824.5,1064.0 825.5,1067.3 826.5,1071.0 827.5,1074.9 828.5,1079.1 829.5,1082.9 830.5,1087.1 831.5,1091.2 832.5,1095.2 833.5,1099.6 834.5,1104.3 835.5,1108.5 836.5,1112.5 837.5,1116.3 838.5,1119.6 839.5,1123.5 840.5,1127.2 841.5,1130.2 842.5,1134.0 843.5,1136.8 844.5,1139.7 845.5,1143.3 846.5,1147.0 847.5,1150.1 848.5,1152.0 849.5,1153.8 850.5,1156.7 851.5,1159.2 852.5,1160.1 853.5,1162.7 854.5,1165.2 855.5,1166.2 856.5,1167.9 857.5,1169.3 858.5,1170.5 859.5,1171.7 860.5,1172.9 861.5,1174.3 862.5,1174.8 863.5,1174.9 864.5,1175.5 865.5,1177.2 866.5,1177.5 867.5,1177.6 868.5,1178.4 869.5,1178.8 870.5,1179.4 871.5,1180.0 872.5,1180.5 873.5,1181.2 874.5,1181.5 875.5,1181.2 876.5,1181.3 877.5,1181.9 878.5,1181.8 879.5,1182.2 880.5,1183.4 881.5,1183.0 882.5,1183.0 883.5,1184.2 884.5,1184.5 885.5,1184.3 886.5,1183.9 887.5,1184.3 888.5,1184.8 889.5,1185.0 890.5,1185.3 891.5,1185.3 892.5,1185.1 893.5,1185.2 894.5,1185.2 895.5,1185.5 896.5,1186.3 897.5,1186.1 898.5,1185.6 899.5,1185.8 900.5,1185.9 901.5,1186.0 902.5,1186.6 903.5,1186.4 904.5,1185.4 905.5,1186.1 906.5,1187.0 907.5,1186.5 908.5,1186.1 909.5,1186.3 910.5,1187.1 911.5,1186.9 912.5,1186.5 913.5,1187.2 914.5,1187.2 915.5,1186.6 916.5,1187.5 917.5,1188.2 918.5,1187.5 919.5,1187.3 920.5,1187.4 921.5,1187.2 922.5,1187.5 923.5,1188.1 924.5,1187.8 925.5,1187.4 926.5,1187.6 927.5,1187.4 928.5,1187.3 929.5,1187.8 930.5,1187.0 931.5,1186.7 932.5,1187.7 933.5,1187.3 934.5,1187.0 935.5,1188.7 936.5,1189.2 937.5,1188.3 938.5,1188.0 939.5,1188.0 940.5,1188.0 941.5,1187.0 942.5,1187.5 943.5,1188.2 944.5,1187.6 945.5,1188.1 946.5,1188.4 947.5,1188.4 948.5,1188.9 949.5,1189.0 950.5,1188.4 951.5,1188.0 952.5,1187.9 953.5,1188.1 954.5,1188.4 955.5,1188.5 956.5,1188.3 957.5,1188.3 958.5,1188.3 959.5,1188.5 960.5,1188.8 961.5,1188.9 962.5,1189.0 963.5,1188.8 964.5,1188.8 965.5,1188.9 966.5,1188.6 967.5,1188.9 968.5,1189.1 969.5,1188.2 970.5,1187.9 971.5,1188.7 972.5,1188.4 973.5,1187.8 974.5,1188.0 975.5,1189.0 976.5,1189.0 977.5,1188.6 978.5,1189.2 979.5,1189.3 980.5,1189.0 981.5,1188.3 982.5,1189.0 983.5,1190.0 984.5,1188.8 985.5,1188.9 986.5,1189.8 987.5,1189.4 988.5,1189.3 989.5,1189.4 990.5,1189.7 991.5,1189.8 992.5,1189.4 993.5,1189.6 994.5,1189.1 995.5,1188.8 996.5,1189.2 997.5,1189.2 998.5,1189.9 999.5,1190.3 1000.5,1189.5 1001.5,1189.4 1002.5,1189.9 1003.5,1190.1" fill="none" stroke="#000" stroke-width="2.1" stroke-linejoin="round" stroke-linecap="round" />
<polyline points="655.0,1183.3 656.0,1183.3 657.0,1183.3 658.0,1183.4 659.0,1183.4 660.0,1183.4 661.0,1183.4 662.0,1183.4 663.0,1183.5 664.0,1183.5 665.0,1183.5 666.0,1183.5 667.0,1183.5 668.0,1183.5 669.0,1183.6 670.0,1183.6 671.0,1183.6 672.0,1183.6 673.0,1183.6 674.0,1183.7 675.0,1183.7 676.0,1183.7 677.0,1183.7 678.0,1183.7 679.0,1183.8 680.0,1183.8 681.0,1183.8 682.0,1183.8 683.0,1183.8 684.0,1183.8 685.0,1183.9 686.0,1183.9 687.0,1183.9 688.0,1183.9 689.0,1183.9 690.0,1184.0 691.0,1184.0 692.0,1184.0 693.0,1184.0 694.0,1184.0 695.0,1184.1 696.0,1184.1 697.0,1184.1 698.0,1184.1 699.0,1184.1 700.0,1184.1 701.0,1184.2 702.0,1184.2 703.0,1184.2 704.0,1184.2 705.0,1184.2 706.0,1184.3 707.0,1184.3 708.0,1184.3 709.0,1184.3 710.0,1184.3 711.0,1184.4 712.0,1184.4 713.0,1184.4 714.0,1184.4 715.0,1184.4 716.0,1184.4 717.0,1184.5 718.0,1184.5 719.0,1184.5 720.0,1184.5 721.0,1184.5 722.0,1184.6 723.0,1184.6 724.0,1184.6 725.0,1184.6 726.0,1184.6 727.0,1184.7 728.0,1184.7 729.0,1184.7 730.0,1184.7 731.0,1184.7 732.0,1184.7 733.0,1184.8 734.0,1184.8 735.0,1184.8 736.0,1184.8 737.0,1184.8 738.0,1184.9 739.0,1184.9 740.0,1184.9 741.0,1184.9 742.0,1184.9 743.0,1185.0 744.0,1185.0 745.0,1185.0 746.0,1185.0 747.0,1185.0 748.0,1185.0 749.0,1185.1 750.0,1185.1 751.0,1185.1 752.0,1185.1 753.0,1185.1 754.0,1185.2 755.0,1185.2 756.0,1185.2 757.0,1185.2 758.0,1185.2 759.0,1185.3 760.0,1185.3 761.0,1185.3 762.0,1185.3 763.0,1185.3 764.0,1185.3 765.0,1185.4 766.0,1185.4 767.0,1185.4 768.0,1185.4 769.0,1185.4 770.0,1185.5 771.0,1185.5 772.0,1185.5 773.0,1185.5 774.0,1185.5 775.0,1185.6 776.0,1185.6 777.0,1185.6 778.0,1185.6 779.0,1185.6 780.0,1185.7 781.0,1185.7 782.0,1185.7 783.0,1185.7 784.0,1185.7 785.0,1185.7 786.0,1185.8 787.0,1185.8 788.0,1185.8 789.0,1185.8 790.0,1185.8 791.0,1185.9 792.0,1185.9 793.0,1185.9 794.0,1185.9 795.0,1185.9 796.0,1186.0 797.0,1186.0 798.0,1186.0 799.0,1186.0 800.0,1186.0 801.0,1186.0 802.0,1186.1 803.0,1186.1 804.0,1186.1 805.0,1186.1 806.0,1186.1 807.0,1186.2 808.0,1186.2 809.0,1186.2 810.0,1186.2 811.0,1186.2 812.0,1186.3 813.0,1186.3 814.0,1186.3 815.0,1186.3 816.0,1186.3 817.0,1186.3 818.0,1186.4 819.0,1186.4 820.0,1186.4 821.0,1186.4 822.0,1186.4 823.0,1186.5 824.0,1186.5 825.0,1186.5 826.0,1186.5 827.0,1186.5 828.0,1186.6 829.0,1186.6 830.0,1186.6 831.0,1186.6 832.0,1186.6 833.0,1186.6 834.0,1186.7 835.0,1186.7 836.0,1186.7 837.0,1186.7 838.0,1186.7 839.0,1186.8 840.0,1186.8 841.0,1186.8 842.0,1186.8 843.0,1186.8 844.0,1186.9 845.0,1186.9 846.0,1186.9 847.0,1186.9 848.0,1186.9 849.0,1186.9 850.0,1187.0 851.0,1187.0 852.0,1187.0 853.0,1187.0 854.0,1187.0 855.0,1187.1 856.0,1187.1 857.0,1187.1 858.0,1187.1 859.0,1187.1 860.0,1187.2 861.0,1187.2 862.0,1187.2 863.0,1187.2 864.0,1187.2 865.0,1187.2 866.0,1187.3 867.0,1187.3 868.0,1187.3 869.0,1187.3 870.0,1187.3 871.0,1187.4 872.0,1187.4 873.0,1187.4 874.0,1187.4 875.0,1187.4 876.0,1187.5 877.0,1187.5 878.0,1187.5 879.0,1187.5 880.0,1187.5 881.0,1187.6 882.0,1187.6 883.0,1187.6 884.0,1187.6 885.0,1187.6 886.0,1187.6 887.0,1187.7 888.0,1187.7 889.0,1187.7 890.0,1187.7 891.0,1187.7 892.0,1187.8 893.0,1187.8 894.0,1187.8 895.0,1187.8 896.0,1187.8 897.0,1187.9 898.0,1187.9 899.0,1187.9 900.0,1187.9 901.0,1187.9 902.0,1187.9 903.0,1188.0 904.0,1188.0 905.0,1188.0 906.0,1188.0 907.0,1188.0 908.0,1188.1 909.0,1188.1 910.0,1188.1 911.0,1188.1 912.0,1188.1 913.0,1188.2 914.0,1188.2 915.0,1188.2 916.0,1188.2 917.0,1188.2 918.0,1188.2 919.0,1188.3 920.0,1188.3 921.0,1188.3 922.0,1188.3 923.0,1188.3 924.0,1188.4 925.0,1188.4 926.0,1188.4 927.0,1188.4 928.0,1188.4 929.0,1188.5 930.0,1188.5 931.0,1188.5 932.0,1188.5 933.0,1188.5 934.0,1188.5 935.0,1188.6 936.0,1188.6 937.0,1188.6 938.0,1188.6 939.0,1188.6 940.0,1188.7 941.0,1188.7 942.0,1188.7 943.0,1188.7 944.0,1188.7 945.0,1188.8 946.0,1188.8 947.0,1188.8 948.0,1188.8 949.0,1188.8 950.0,1188.8 951.0,1188.9 952.0,1188.9 953.0,1188.9 954.0,1188.9 955.0,1188.9 956.0,1189.0 957.0,1189.0 958.0,1189.0 959.0,1189.0 960.0,1189.0 961.0,1189.1 962.0,1189.1 963.0,1189.1 964.0,1189.1 965.0,1189.1 966.0,1189.1 967.0,1189.2 968.0,1189.2 969.0,1189.2 970.0,1189.2 971.0,1189.2 972.0,1189.3 973.0,1189.3 974.0,1189.3 975.0,1189.3 976.0,1189.3 977.0,1189.4 978.0,1189.4 979.0,1189.4 980.0,1189.4 981.0,1189.4 982.0,1189.4 983.0,1189.5 984.0,1189.5 985.0,1189.5 986.0,1189.5 987.0,1189.5 988.0,1189.6 989.0,1189.6 990.0,1189.6" fill="none" stroke="#000" stroke-width="1.4" stroke-linejoin="round" stroke-linecap="round" />
<polyline points="836.0,1187.6 837.0,1187.6 838.0,1187.6 839.0,1187.7 840.0,1187.7 841.0,1187.7 842.0,1187.7 843.0,1187.7 844.0,1187.8 845.0,1187.8 846.0,1187.8 847.0,1187.8 848.0,1187.8 849.0,1187.8 850.0,1187.9 851.0,1187.9 852.0,1187.9 853.0,1187.9 854.0,1187.9 855.0,1188.0 856.0,1188.0 857.0,1188.0 858.0,1188.0 859.0,1188.0 860.0,1188.1 861.0,1188.1 862.0,1188.1 863.0,1188.1 864.0,1188.1 865.0,1188.1 866.0,1188.2 867.0,1188.2 868.0,1188.2 869.0,1188.2 870.0,1188.2 871.0,1188.3 872.0,1188.3 873.0,1188.3 874.0,1188.3 875.0,1188.3 876.0,1188.4 877.0,1188.4 878.0,1188.4 879.0,1188.4 880.0,1188.4 881.0,1188.5 882.0,1188.5 883.0,1188.5 884.0,1188.5 885.0,1188.5 886.0,1188.5 887.0,1188.6 888.0,1188.6 889.0,1188.6 890.0,1188.6 891.0,1188.6 892.0,1188.7 893.0,1188.7 894.0,1188.7 895.0,1188.7 896.0,1188.7 897.0,1188.8 898.0,1188.8 899.0,1188.8 900.0,1188.8 901.0,1188.8 902.0,1188.8 903.0,1188.9 904.0,1188.9 905.0,1188.9 906.0,1188.9 907.0,1188.9 908.0,1189.0 909.0,1189.0 910.0,1189.0 911.0,1189.0 912.0,1189.0 913.0,1189.1 914.0,1189.1 915.0,1189.1 916.0,1189.1 917.0,1189.1 918.0,1189.1 919.0,1189.2 920.0,1189.2 921.0,1189.2 922.0,1189.2 923.0,1189.2 924.0,1189.3 925.0,1189.3 926.0,1189.3 927.0,1189.3 928.0,1189.3 929.0,1189.4 930.0,1189.4 931.0,1189.4 932.0,1189.4 933.0,1189.4 934.0,1189.4 935.0,1189.5 936.0,1189.5 937.0,1189.5 938.0,1189.5 939.0,1189.5 940.0,1189.6 941.0,1189.6 942.0,1189.6 943.0,1189.6 944.0,1189.6 945.0,1189.7 946.0,1189.7 947.0,1189.7 948.0,1189.7 949.0,1189.7 950.0,1189.7 951.0,1189.8 952.0,1189.8 953.0,1189.8 954.0,1189.8 955.0,1189.8 956.0,1189.9 957.0,1189.9 958.0,1189.9 959.0,1189.9 960.0,1189.9 961.0,1190.0 962.0,1190.0 963.0,1190.0 964.0,1190.0 965.0,1190.0 966.0,1190.0 967.0,1190.1 968.0,1190.1 969.0,1190.1 970.0,1190.1 971.0,1190.1 972.0,1190.2 973.0,1190.2 974.0,1190.2 975.0,1190.2 976.0,1190.2 977.0,1190.3 978.0,1190.3" fill="none" stroke="#ff0000" stroke-width="1.6" stroke-linejoin="round" stroke-linecap="round" />
<polyline points="676.0,1183.4 677.0,1183.4 678.0,1183.4 679.0,1183.4 680.0,1183.4 681.0,1183.4 682.0,1183.4 683.0,1183.4 684.0,1183.3 685.0,1183.3 686.0,1183.3 687.0,1183.2 688.0,1183.2 689.0,1183.1 690.0,1183.0 691.0,1182.9 692.0,1182.8 693.0,1182.7 694.0,1182.5 695.0,1182.3 696.0,1182.1 697.0,1181.9 698.0,1181.7 699.0,1181.4 700.0,1181.1 701.0,1180.7 702.0,1180.3 703.0,1179.8 704.0,1179.4 705.0,1178.8 706.0,1178.2 707.0,1177.6 708.0,1176.8 709.0,1176.1 710.0,1175.2 711.0,1174.3 712.0,1173.3 713.0,1172.2 714.0,1171.1 715.0,1169.9 716.0,1168.6 717.0,1167.2 718.0,1165.7 719.0,1164.1 720.0,1162.5 721.0,1160.8 722.0,1159.0 723.0,1157.2 724.0,1155.2 725.0,1153.2 726.0,1151.2 727.0,1149.1 728.0,1146.9 729.0,1144.7 730.0,1142.5 731.0,1140.3 732.0,1138.1 733.0,1135.8 734.0,1133.6 735.0,1131.4 736.0,1129.3 737.0,1127.2 738.0,1125.1 739.0,1123.2 740.0,1121.3 741.0,1119.6 742.0,1117.9 743.0,1116.4 744.0,1115.0 745.0,1113.8 746.0,1112.7 747.0,1111.8 748.0,1111.1 749.0,1110.5 750.0,1110.1 751.0,1109.9 752.0,1109.9 753.0,1110.1 754.0,1110.5 755.0,1111.1 756.0,1111.8 757.0,1112.7 758.0,1113.8 759.0,1115.0 760.0,1116.4 761.0,1118.0 762.0,1119.6 763.0,1121.4 764.0,1123.3 765.0,1125.3 766.0,1127.3 767.0,1129.4 768.0,1131.6 769.0,1133.8 770.0,1136.1 771.0,1138.3 772.0,1140.6 773.0,1142.9 774.0,1145.1 775.0,1147.4 776.0,1149.6 777.0,1151.7 778.0,1153.8 779.0,1155.9 780.0,1157.8 781.0,1159.8 782.0,1161.6 783.0,1163.4 784.0,1165.0 785.0,1166.7 786.0,1168.2 787.0,1169.6 788.0,1171.0 789.0,1172.3 790.0,1173.5 791.0,1174.6 792.0,1175.6 793.0,1176.6 794.0,1177.5 795.0,1178.3 796.0,1179.1 797.0,1179.8 798.0,1180.4 799.0,1181.0 800.0,1181.6 801.0,1182.1 802.0,1182.5 803.0,1182.9 804.0,1183.3 805.0,1183.6 806.0,1183.9 807.0,1184.2 808.0,1184.4 809.0,1184.6 810.0,1184.8 811.0,1185.0 812.0,1185.2 813.0,1185.3 814.0,1185.4 815.0,1185.5 816.0,1185.6 817.0,1185.7 818.0,1185.8 819.0,1185.9 820.0,1185.9 821.0,1186.0 822.0,1186.1 823.0,1186.1 824.0,1186.1 825.0,1186.2 826.0,1186.2 827.0,1186.3 828.0,1186.3" fill="none" stroke="#ff0000" stroke-width="2.6" stroke-linejoin="round" stroke-linecap="round" />
<polyline points="721.0,1184.3 722.0,1184.3 723.0,1184.2 724.0,1184.2 725.0,1184.2 726.0,1184.1 727.0,1184.1 728.0,1184.0 729.0,1183.9 730.0,1183.8 731.0,1183.7 732.0,1183.5 733.0,1183.4 734.0,1183.2 735.0,1182.9 736.0,1182.7 737.0,1182.4 738.0,1182.0 739.0,1181.7 740.0,1181.2 741.0,1180.7 742.0,1180.2 743.0,1179.6 744.0,1179.0 745.0,1178.3 746.0,1177.5 747.0,1176.6 748.0,1175.7 749.0,1174.8 750.0,1173.7 751.0,1172.6 752.0,1171.5 753.0,1170.2 754.0,1169.0 755.0,1167.7 756.0,1166.3 757.0,1164.9 758.0,1163.5 759.0,1162.0 760.0,1160.6 761.0,1159.2 762.0,1157.7 763.0,1156.3 764.0,1155.0 765.0,1153.7 766.0,1152.5 767.0,1151.3 768.0,1150.3 769.0,1149.3 770.0,1148.5 771.0,1147.8 772.0,1147.2 773.0,1146.7 774.0,1146.4 775.0,1146.3 776.0,1146.3 777.0,1146.4 778.0,1146.7 779.0,1147.2 780.0,1147.8 781.0,1148.5 782.0,1149.4 783.0,1150.3 784.0,1151.4 785.0,1152.6 786.0,1153.8 787.0,1155.2 788.0,1156.5 789.0,1158.0 790.0,1159.4 791.0,1160.9 792.0,1162.4 793.0,1163.8 794.0,1165.3 795.0,1166.7 796.0,1168.2 797.0,1169.5 798.0,1170.8 799.0,1172.1 800.0,1173.3 801.0,1174.5 802.0,1175.6 803.0,1176.6 804.0,1177.5 805.0,1178.4 806.0,1179.3 807.0,1180.0 808.0,1180.7 809.0,1181.4 810.0,1181.9 811.0,1182.5 812.0,1182.9 813.0,1183.4 814.0,1183.8 815.0,1184.1 816.0,1184.4 817.0,1184.7 818.0,1184.9 819.0,1185.1 820.0,1185.3 821.0,1185.5 822.0,1185.6 823.0,1185.8 824.0,1185.9 825.0,1186.0 826.0,1186.1 827.0,1186.1 828.0,1186.2 829.0,1186.3 830.0,1186.3" fill="none" stroke="#0000ff" stroke-width="2.6" stroke-linejoin="round" stroke-linecap="round" />
<polyline points="718.0,1184.2 719.0,1184.2 720.0,1184.3 721.0,1184.3 722.0,1184.3 723.0,1184.3 724.0,1184.3 725.0,1184.3 726.0,1184.3 727.0,1184.3 728.0,1184.3 729.0,1184.3 730.0,1184.4 731.0,1184.4 732.0,1184.4 733.0,1184.4 734.0,1184.4 735.0,1184.4 736.0,1184.3 737.0,1184.3 738.0,1184.3 739.0,1184.3 740.0,1184.3 741.0,1184.2 742.0,1184.2 743.0,1184.1 744.0,1184.1 745.0,1184.0 746.0,1183.9 747.0,1183.8 748.0,1183.7 749.0,1183.6 750.0,1183.4 751.0,1183.2 752.0,1183.0 753.0,1182.8 754.0,1182.5 755.0,1182.2 756.0,1181.9 757.0,1181.5 758.0,1181.0 759.0,1180.5 760.0,1180.0 761.0,1179.3 762.0,1178.6 763.0,1177.9 764.0,1177.0 765.0,1176.1 766.0,1175.0 767.0,1173.9 768.0,1172.6 769.0,1171.3 770.0,1169.8 771.0,1168.2 772.0,1166.4 773.0,1164.6 774.0,1162.6 775.0,1160.4 776.0,1158.1 777.0,1155.7 778.0,1153.1 779.0,1150.4 780.0,1147.5 781.0,1144.4 782.0,1141.2 783.0,1137.9 784.0,1134.5 785.0,1130.9 786.0,1127.2 787.0,1123.4 788.0,1119.5 789.0,1115.6 790.0,1111.5 791.0,1107.4 792.0,1103.3 793.0,1099.2 794.0,1095.1 795.0,1091.0 796.0,1086.9 797.0,1083.0 798.0,1079.1 799.0,1075.3 800.0,1071.7 801.0,1068.2 802.0,1065.0 803.0,1061.9 804.0,1059.1 805.0,1056.5 806.0,1054.1 807.0,1052.1 808.0,1050.4 809.0,1049.0 810.0,1047.9 811.0,1047.1 812.0,1046.7 813.0,1046.6 814.0,1046.8 815.0,1047.4 816.0,1048.4 817.0,1049.6 818.0,1051.2 819.0,1053.1 820.0,1055.3 821.0,1057.8 822.0,1060.5 823.0,1063.5 824.0,1066.7 825.0,1070.1 826.0,1073.6 827.0,1077.3 828.0,1081.2 829.0,1085.1 830.0,1089.2 831.0,1093.3 832.0,1097.4 833.0,1101.6 834.0,1105.8 835.0,1109.9 836.0,1114.0 837.0,1118.1 838.0,1122.0 839.0,1125.9 840.0,1129.7 841.0,1133.4 842.0,1137.0 843.0,1140.4 844.0,1143.7 845.0,1146.9 846.0,1149.9 847.0,1152.8 848.0,1155.5 849.0,1158.0 850.0,1160.5 851.0,1162.7 852.0,1164.9 853.0,1166.9 854.0,1168.7 855.0,1170.4 856.0,1172.0 857.0,1173.5 858.0,1174.8 859.0,1176.1 860.0,1177.2 861.0,1178.3 862.0,1179.2 863.0,1180.1 864.0,1180.8 865.0,1181.6 866.0,1182.2 867.0,1182.8 868.0,1183.3 869.0,1183.7 870.0,1184.2 871.0,1184.5 872.0,1184.9 873.0,1185.2 874.0,1185.4 875.0,1185.7 876.0,1185.9 877.0,1186.1 878.0,1186.2 879.0,1186.4 880.0,1186.5 881.0,1186.6 882.0,1186.7 883.0,1186.8 884.0,1186.9 885.0,1187.0 886.0,1187.0 887.0,1187.1 888.0,1187.2 889.0,1187.2 890.0,1187.3 891.0,1187.3 892.0,1187.3 893.0,1187.4 894.0,1187.4 895.0,1187.4 896.0,1187.5 897.0,1187.5 898.0,1187.5 899.0,1187.6 900.0,1187.6 901.0,1187.6 902.0,1187.7 903.0,1187.7 904.0,1187.7 905.0,1187.7 906.0,1187.8 907.0,1187.8 908.0,1187.8" fill="none" stroke="#008000" stroke-width="2.6" stroke-linejoin="round" stroke-linecap="round" />
<polyline points="664.0,1183.5 665.0,1183.5 666.0,1183.5 667.0,1183.5 668.0,1183.5 669.0,1183.6 670.0,1183.6 671.0,1183.6 672.0,1183.6 673.0,1183.6 674.0,1183.7 675.0,1183.7 676.0,1183.7 677.0,1183.7 678.0,1183.7 679.0,1183.8 680.0,1183.8 681.0,1183.8 682.0,1183.8 683.0,1183.8 684.0,1183.8 685.0,1183.9 686.0,1183.9 687.0,1183.9 688.0,1183.9 689.0,1183.9 690.0,1184.0 691.0,1184.0 692.0,1184.0 693.0,1184.0 694.0,1184.0 695.0,1184.1 696.0,1184.1 697.0,1184.1 698.0,1184.1 699.0,1184.1 700.0,1184.1 701.0,1184.2 702.0,1184.2 703.0,1184.2 704.0,1184.2 705.0,1184.2 706.0,1184.3 707.0,1184.3 708.0,1184.3 709.0,1184.3 710.0,1184.3 711.0,1184.4 712.0,1184.4 713.0,1184.4 714.0,1184.4 715.0,1184.4 716.0,1184.4 717.0,1184.5 718.0,1184.5 719.0,1184.5 720.0,1184.5 721.0,1184.5 722.0,1184.6 723.0,1184.6 724.0,1184.6 725.0,1184.6 726.0,1184.6 727.0,1184.7 728.0,1184.7 729.0,1184.7 730.0,1184.7 731.0,1184.7 732.0,1184.7 733.0,1184.8 734.0,1184.8 735.0,1184.8 736.0,1184.8 737.0,1184.8 738.0,1184.9 739.0,1184.9 740.0,1184.9 741.0,1184.9 742.0,1184.9 743.0,1185.0 744.0,1185.0 745.0,1185.0 746.0,1185.0 747.0,1185.0 748.0,1185.0 749.0,1185.1 750.0,1185.1 751.0,1185.1 752.0,1185.1 753.0,1185.1 754.0,1185.2 755.0,1185.2 756.0,1185.2 757.0,1185.2 758.0,1185.2 759.0,1185.3 760.0,1185.3 761.0,1185.3 762.0,1185.3 763.0,1185.3 764.0,1185.3 765.0,1185.4 766.0,1185.4 767.0,1185.4 768.0,1185.4 769.0,1185.4 770.0,1185.5 771.0,1185.5 772.0,1185.5 773.0,1185.5 774.0,1185.5 775.0,1185.6 776.0,1185.6 777.0,1185.6 778.0,1185.6 779.0,1185.6 780.0,1185.6 781.0,1185.7 782.0,1185.7 783.0,1185.7 784.0,1185.7 785.0,1185.7 786.0,1185.8 787.0,1185.8 788.0,1185.8 789.0,1185.8 790.0,1185.8 791.0,1185.9 792.0,1185.9 793.0,1185.9 794.0,1185.9 795.0,1185.9 796.0,1185.9 797.0,1186.0 798.0,1186.0 799.0,1186.0 800.0,1186.0 801.0,1186.0 802.0,1186.1 803.0,1186.1 804.0,1186.1 805.0,1186.1 806.0,1186.1 807.0,1186.2 808.0,1186.2 809.0,1186.2 810.0,1186.2 811.0,1186.2 812.0,1186.2 813.0,1186.3 814.0,1186.3 815.0,1186.3 816.0,1186.3 817.0,1186.3 818.0,1186.3 819.0,1186.4 820.0,1186.4 821.0,1186.4 822.0,1186.4 823.0,1186.4 824.0,1186.4 825.0,1186.4 826.0,1186.4 827.0,1186.4 828.0,1186.4 829.0,1186.4 830.0,1186.4 831.0,1186.4 832.0,1186.4 833.0,1186.4 834.0,1186.4 835.0,1186.4 836.0,1186.4 837.0,1186.3 838.0,1186.3 839.0,1186.3 840.0,1186.2 841.0,1186.2 842.0,1186.2 843.0,1186.1 844.0,1186.1 845.0,1186.0 846.0,1186.0 847.0,1185.9 848.0,1185.8 849.0,1185.8 850.0,1185.7 851.0,1185.7 852.0,1185.6 853.0,1185.5 854.0,1185.5 855.0,1185.4 856.0,1185.3 857.0,1185.3 858.0,1185.2 859.0,1185.2 860.0,1185.2 861.0,1185.1 862.0,1185.1 863.0,1185.1 864.0,1185.1 865.0,1185.1 866.0,1185.1 867.0,1185.1 868.0,1185.1 869.0,1185.1 870.0,1185.2 871.0,1185.2 872.0,1185.3 873.0,1185.4 874.0,1185.4 875.0,1185.5 876.0,1185.6 877.0,1185.7 878.0,1185.8 879.0,1185.9" fill="none" stroke="#ff8000" stroke-width="1.8" stroke-linejoin="round" stroke-linecap="round" />
<polyline points="655.0,1182.3 656.0,1182.3 657.0,1182.3 658.0,1182.3 659.0,1182.3 660.0,1182.3 661.0,1182.3 662.0,1182.3 663.0,1182.3 664.0,1182.3 665.0,1182.3 666.0,1182.3 667.0,1182.3 668.0,1182.3 669.0,1182.3 670.0,1182.3 671.0,1182.2 672.0,1182.2 673.0,1182.2 674.0,1182.2 675.0,1182.2 676.0,1182.2 677.0,1182.1 678.0,1182.1 679.0,1182.1 680.0,1182.1 681.0,1182.0 682.0,1182.0 683.0,1181.9 684.0,1181.9 685.0,1181.8 686.0,1181.7 687.0,1181.7 688.0,1181.6 689.0,1181.5 690.0,1181.4 691.0,1181.2 692.0,1181.1 693.0,1180.9 694.0,1180.7 695.0,1180.5 696.0,1180.3 697.0,1180.1 698.0,1179.8 699.0,1179.5 700.0,1179.1 701.0,1178.7 702.0,1178.3 703.0,1177.8 704.0,1177.3 705.0,1176.8 706.0,1176.2 707.0,1175.5 708.0,1174.8 709.0,1174.0 710.0,1173.1 711.0,1172.2 712.0,1171.2 713.0,1170.1 714.0,1169.0 715.0,1167.7 716.0,1166.4 717.0,1165.0 718.0,1163.6 719.0,1162.0 720.0,1160.4 721.0,1158.6 722.0,1156.8 723.0,1155.0 724.0,1153.0 725.0,1151.0 726.0,1148.9 727.0,1146.7 728.0,1144.5 729.0,1142.2 730.0,1139.8 731.0,1137.5 732.0,1135.0 733.0,1132.6 734.0,1130.1 735.0,1127.7 736.0,1125.2 737.0,1122.7 738.0,1120.2 739.0,1117.8 740.0,1115.4 741.0,1113.0 742.0,1110.7 743.0,1108.4 744.0,1106.2 745.0,1104.1 746.0,1102.1 747.0,1100.1 748.0,1098.3 749.0,1096.5 750.0,1094.8 751.0,1093.3 752.0,1091.9 753.0,1090.5 754.0,1089.3 755.0,1088.2 756.0,1087.2 757.0,1086.3 758.0,1085.4 759.0,1084.7 760.0,1084.0 761.0,1083.4 762.0,1082.9 763.0,1082.5 764.0,1082.1 765.0,1081.7 766.0,1081.4 767.0,1081.1 768.0,1080.9 769.0,1080.7 770.0,1080.5 771.0,1080.3 772.0,1080.1 773.0,1080.0 774.0,1079.8 775.0,1079.6 776.0,1079.4 777.0,1079.2 778.0,1078.9 779.0,1078.6 780.0,1078.2 781.0,1077.8 782.0,1077.3 783.0,1076.6 784.0,1075.9 785.0,1075.0 786.0,1074.1 787.0,1073.0 788.0,1071.8 789.0,1070.5 790.0,1069.0 791.0,1067.5 792.0,1065.8 793.0,1064.1 794.0,1062.2 795.0,1060.3 796.0,1058.3 797.0,1056.3 798.0,1054.3 799.0,1052.2 800.0,1050.2 801.0,1048.3 802.0,1046.4 803.0,1044.6 804.0,1042.9 805.0,1041.4 806.0,1040.1 807.0,1039.0 808.0,1038.1 809.0,1037.4 810.0,1037.0 811.0,1036.9 812.0,1037.0 813.0,1037.5 814.0,1038.3 815.0,1039.3 816.0,1040.7 817.0,1042.4 818.0,1044.4 819.0,1046.6 820.0,1049.1 821.0,1051.9 822.0,1054.9 823.0,1058.1 824.0,1061.6 825.0,1065.2 826.0,1068.9 827.0,1072.8 828.0,1076.8 829.0,1080.8 830.0,1085.0 831.0,1089.1 832.0,1093.3 833.0,1097.5 834.0,1101.7 835.0,1105.8 836.0,1109.9 837.0,1113.9 838.0,1117.9 839.0,1121.7 840.0,1125.5 841.0,1129.1 842.0,1132.6 843.0,1135.9 844.0,1139.2 845.0,1142.3 846.0,1145.2 847.0,1148.0 848.0,1150.6 849.0,1153.1 850.0,1155.5 851.0,1157.7 852.0,1159.8 853.0,1161.7 854.0,1163.5 855.0,1165.2 856.0,1166.8 857.0,1168.2 858.0,1169.5 859.0,1170.8 860.0,1171.9 861.0,1172.9 862.0,1173.9 863.0,1174.8 864.0,1175.6 865.0,1176.3 866.0,1177.0 867.0,1177.7 868.0,1178.3 869.0,1178.8 870.0,1179.3 871.0,1179.8 872.0,1180.2 873.0,1180.6 874.0,1181.0 875.0,1181.4 876.0,1181.7 877.0,1182.0 878.0,1182.3 879.0,1182.6 880.0,1182.9 881.0,1183.1 882.0,1183.4 883.0,1183.6 884.0,1183.8 885.0,1184.0 886.0,1184.2 887.0,1184.4 888.0,1184.6 889.0,1184.7 890.0,1184.9 891.0,1185.0 892.0,1185.2 893.0,1185.3 894.0,1185.4 895.0,1185.5 896.0,1185.7 897.0,1185.8 898.0,1185.9 899.0,1186.0 900.0,1186.1 901.0,1186.1 902.0,1186.2 903.0,1186.3 904.0,1186.4 905.0,1186.4 906.0,1186.5 907.0,1186.6 908.0,1186.6 909.0,1186.7 910.0,1186.7 911.0,1186.8 912.0,1186.8 913.0,1186.9 914.0,1186.9 915.0,1187.0 916.0,1187.0 917.0,1187.1 918.0,1187.1 919.0,1187.2 920.0,1187.2 921.0,1187.2 922.0,1187.3 923.0,1187.3 924.0,1187.3 925.0,1187.4 926.0,1187.4 927.0,1187.4 928.0,1187.5 929.0,1187.5 930.0,1187.6 931.0,1187.6 932.0,1187.6 933.0,1187.7 934.0,1187.7 935.0,1187.7 936.0,1187.7 937.0,1187.8 938.0,1187.8 939.0,1187.8 940.0,1187.9 941.0,1187.9 942.0,1187.9 943.0,1188.0 944.0,1188.0 945.0,1188.0 946.0,1188.0 947.0,1188.1 948.0,1188.1 949.0,1188.1 950.0,1188.2 951.0,1188.2 952.0,1188.2 953.0,1188.2 954.0,1188.3 955.0,1188.3 956.0,1188.3 957.0,1188.4 958.0,1188.4 959.0,1188.4 960.0,1188.4 961.0,1188.5 962.0,1188.5 963.0,1188.5 964.0,1188.5 965.0,1188.6 966.0,1188.6 967.0,1188.6 968.0,1188.6 969.0,1188.7 970.0,1188.7 971.0,1188.7 972.0,1188.7 973.0,1188.8 974.0,1188.8 975.0,1188.8 976.0,1188.8 977.0,1188.9 978.0,1188.9 979.0,1188.9 980.0,1188.9 981.0,1189.0 982.0,1189.0 983.0,1189.0 984.0,1189.0 985.0,1189.1 986.0,1189.1 987.0,1189.1 988.0,1189.1 989.0,1189.1 990.0,1189.2" fill="none" stroke="#000" stroke-width="2.7" stroke-linejoin="round" stroke-linecap="round" />
<path d="M634.3 1217.0L634.3 1208.5 M695.9 1217.0L695.9 1212.7 M757.6 1217.0L757.6 1208.5 M819.2 1217.0L819.2 1212.7 M880.9 1217.0L880.9 1208.5 M942.5 1217.0L942.5 1212.7 M634.3 1008.2L634.3 1016.7 M695.9 1008.2L695.9 1012.5 M757.6 1008.2L757.6 1016.7 M819.2 1008.2L819.2 1012.5 M880.9 1008.2L880.9 1016.7 M942.5 1008.2L942.5 1012.5 M573.6 1034.0L577.9 1034.0 M1004.2 1034.0L999.9 1034.0 M573.6 1060.2L582.1 1060.2 M1004.2 1060.2L995.7 1060.2 M573.6 1086.4L577.9 1086.4 M1004.2 1086.4L999.9 1086.4 M573.6 1112.5L582.1 1112.5 M1004.2 1112.5L995.7 1112.5 M573.6 1138.7L577.9 1138.7 M1004.2 1138.7L999.9 1138.7 M573.6 1164.9L582.1 1164.9 M1004.2 1164.9L995.7 1164.9 M573.6 1191.0L577.9 1191.0 M1004.2 1191.0L999.9 1191.0" stroke="#000" stroke-width="1.6" fill="none"/>
<rect x="573.6" y="1008.2" width="430.6" height="208.8" fill="none" stroke="#000" stroke-width="1.6"/>
<polyline points="574.5,1413.0 575.5,1413.2 576.5,1414.2 577.5,1413.8 578.5,1413.6 579.5,1413.7 580.5,1412.9 581.5,1412.6 582.5,1413.5 583.5,1413.9 584.5,1413.1 585.5,1413.4 586.5,1413.6 587.5,1412.8 588.5,1412.7 589.5,1412.8 590.5,1414.3 591.5,1414.7 592.5,1414.4 593.5,1414.2 594.5,1413.5 595.5,1413.1 596.5,1413.4 597.5,1414.3 598.5,1414.1 599.5,1413.8 600.5,1413.6 601.5,1413.4 602.5,1413.7 603.5,1413.9 604.5,1413.1 605.5,1412.5 606.5,1412.7 607.5,1412.2 608.5,1412.9 609.5,1414.1 610.5,1413.6 611.5,1413.0 612.5,1412.7 613.5,1412.9 614.5,1413.3 615.5,1413.0 616.5,1412.7 617.5,1413.1 618.5,1412.9 619.5,1412.7 620.5,1412.4 621.5,1412.4 622.5,1412.6 623.5,1412.4 624.5,1412.6 625.5,1412.8 626.5,1412.6 627.5,1412.5 628.5,1413.0 629.5,1413.1 630.5,1411.9 631.5,1412.0 632.5,1412.8 633.5,1412.3 634.5,1411.8 635.5,1412.1 636.5,1413.4 637.5,1412.9 638.5,1411.7 639.5,1412.3 640.5,1413.0 641.5,1412.8 642.5,1413.1 643.5,1413.2 644.5,1412.3 645.5,1412.3 646.5,1412.4 647.5,1413.1 648.5,1412.6 649.5,1411.9 650.5,1412.5 651.5,1412.5 652.5,1412.3 653.5,1412.9 654.5,1412.6 655.5,1411.7 656.5,1411.5 657.5,1412.2 658.5,1412.1 659.5,1411.8 660.5,1411.6 661.5,1411.9 662.5,1412.6 663.5,1412.3 664.5,1412.6 665.5,1413.2 666.5,1412.9 667.5,1413.1 668.5,1413.3 669.5,1413.1 670.5,1412.9 671.5,1412.3 672.5,1411.8 673.5,1411.7 674.5,1411.6 675.5,1411.2 676.5,1411.4 677.5,1410.9 678.5,1411.5 679.5,1412.1 680.5,1410.7 681.5,1410.1 682.5,1410.5 683.5,1410.6 684.5,1410.8 685.5,1410.6 686.5,1410.6 687.5,1410.6 688.5,1409.8 689.5,1409.3 690.5,1409.1 691.5,1409.1 692.5,1409.0 693.5,1407.7 694.5,1407.2 695.5,1407.1 696.5,1407.6 697.5,1407.7 698.5,1406.5 699.5,1405.2 700.5,1404.0 701.5,1404.2 702.5,1404.4 703.5,1403.1 704.5,1401.9 705.5,1401.8 706.5,1401.1 707.5,1399.4 708.5,1398.2 709.5,1397.4 710.5,1396.7 711.5,1395.7 712.5,1394.2 713.5,1393.1 714.5,1392.7 715.5,1391.5 716.5,1389.5 717.5,1388.0 718.5,1386.4 719.5,1385.4 720.5,1384.2 721.5,1382.0 722.5,1380.1 723.5,1379.2 724.5,1378.1 725.5,1375.5 726.5,1373.2 727.5,1371.9 728.5,1370.1 729.5,1367.6 730.5,1365.8 731.5,1364.8 732.5,1362.9 733.5,1360.2 734.5,1358.9 735.5,1356.9 736.5,1355.5 737.5,1354.0 738.5,1351.9 739.5,1350.7 740.5,1348.6 741.5,1346.2 742.5,1344.8 743.5,1343.5 744.5,1342.1 745.5,1341.5 746.5,1339.9 747.5,1338.7 748.5,1338.1 749.5,1336.0 750.5,1335.3 751.5,1335.3 752.5,1333.9 753.5,1333.1 754.5,1333.5 755.5,1332.7 756.5,1331.5 757.5,1332.0 758.5,1331.5 759.5,1330.4 760.5,1330.4 761.5,1330.2 762.5,1330.0 763.5,1330.2 764.5,1330.7 765.5,1331.0 766.5,1330.5 767.5,1330.4 768.5,1331.2 769.5,1331.9 770.5,1332.0 771.5,1331.3 772.5,1330.3 773.5,1331.1 774.5,1331.0 775.5,1330.7 776.5,1331.5 777.5,1331.2 778.5,1331.1 779.5,1330.8 780.5,1330.3 781.5,1330.4 782.5,1330.8 783.5,1330.1 784.5,1327.6 785.5,1327.0 786.5,1326.7 787.5,1326.3 788.5,1325.8 789.5,1324.1 790.5,1322.7 791.5,1322.2 792.5,1321.4 793.5,1320.0 794.5,1318.9 795.5,1317.7 796.5,1316.9 797.5,1315.9 798.5,1314.2 799.5,1313.3 800.5,1311.5 801.5,1309.4 802.5,1309.5 803.5,1309.7 804.5,1309.4 805.5,1308.7 806.5,1308.6 807.5,1308.1 808.5,1307.7 809.5,1308.2 810.5,1308.6 811.5,1309.6 812.5,1311.1 813.5,1311.6 814.5,1312.1 815.5,1313.7 816.5,1315.4 817.5,1318.0 818.5,1320.6 819.5,1322.6 820.5,1324.5 821.5,1327.4 822.5,1330.1 823.5,1331.9 824.5,1334.4 825.5,1338.8 826.5,1342.1 827.5,1344.2 828.5,1347.6 829.5,1350.8 830.5,1353.4 831.5,1357.0 832.5,1359.9 833.5,1362.8 834.5,1365.7 835.5,1368.3 836.5,1371.3 837.5,1373.2 838.5,1376.3 839.5,1379.4 840.5,1381.4 841.5,1383.7 842.5,1385.7 843.5,1387.9 844.5,1390.2 845.5,1392.2 846.5,1393.8 847.5,1395.6 848.5,1396.9 849.5,1398.3 850.5,1400.4 851.5,1402.1 852.5,1403.3 853.5,1405.0 854.5,1406.0 855.5,1407.1 856.5,1407.5 857.5,1407.8 858.5,1407.9 859.5,1407.8 860.5,1410.4 861.5,1411.4 862.5,1411.4 863.5,1411.4 864.5,1411.2 865.5,1412.7 866.5,1413.1 867.5,1412.9 868.5,1413.9 869.5,1414.1 870.5,1413.4 871.5,1413.7 872.5,1414.2 873.5,1414.9 874.5,1415.2 875.5,1414.8 876.5,1415.4 877.5,1415.9 878.5,1415.4 879.5,1415.3 880.5,1415.5 881.5,1415.6 882.5,1415.6 883.5,1416.0 884.5,1416.0 885.5,1415.4 886.5,1416.0 887.5,1416.4 888.5,1416.0 889.5,1416.2 890.5,1416.6 891.5,1416.1 892.5,1416.6 893.5,1416.9 894.5,1416.9 895.5,1417.6 896.5,1417.6 897.5,1418.0 898.5,1418.1 899.5,1417.4 900.5,1418.0 901.5,1417.8 902.5,1416.5 903.5,1416.9 904.5,1417.6 905.5,1418.3 906.5,1418.2 907.5,1417.7 908.5,1416.9 909.5,1416.7 910.5,1417.8 911.5,1417.8 912.5,1417.3 913.5,1417.4 914.5,1416.9 915.5,1418.3 916.5,1419.5 917.5,1418.6 918.5,1417.7 919.5,1417.4 920.5,1417.6 921.5,1418.3 922.5,1418.5 923.5,1418.4 924.5,1418.4 925.5,1418.9 926.5,1419.8 927.5,1419.0 928.5,1418.1 929.5,1418.6 930.5,1418.7 931.5,1418.2 932.5,1417.6 933.5,1417.8 934.5,1417.9 935.5,1417.8 936.5,1418.6 937.5,1419.2 938.5,1419.6 939.5,1419.2 940.5,1418.5 941.5,1418.8 942.5,1419.4 943.5,1419.0 944.5,1418.9 945.5,1418.9 946.5,1419.3 947.5,1419.7 948.5,1419.1 949.5,1418.8 950.5,1418.6 951.5,1418.6 952.5,1418.7 953.5,1418.1 954.5,1418.5 955.5,1419.3 956.5,1419.3 957.5,1419.3 958.5,1419.9 959.5,1419.4 960.5,1419.2 961.5,1420.1 962.5,1419.1 963.5,1418.4 964.5,1418.6 965.5,1418.8 966.5,1419.0 967.5,1419.1 968.5,1418.8 969.5,1419.5 970.5,1420.0 971.5,1419.8 972.5,1418.9 973.5,1418.8 974.5,1419.3 975.5,1418.9 976.5,1419.6 977.5,1419.7 978.5,1418.5 979.5,1418.5 980.5,1419.5 981.5,1419.5 982.5,1419.2 983.5,1418.9 984.5,1419.6 985.5,1420.4 986.5,1420.2 987.5,1420.4 988.5,1420.1 989.5,1420.0 990.5,1420.1 991.5,1419.7 992.5,1419.8 993.5,1419.9 994.5,1420.6 995.5,1420.8 996.5,1420.8 997.5,1421.1 998.5,1420.0 999.5,1419.3 1000.5,1420.4 1001.5,1420.6 1002.5,1419.8 1003.5,1419.8" fill="none" stroke="#000" stroke-width="2.1" stroke-linejoin="round" stroke-linecap="round" />
<polyline points="660.0,1413.1 661.0,1413.2 662.0,1413.2 663.0,1413.2 664.0,1413.2 665.0,1413.2 666.0,1413.2 667.0,1413.2 668.0,1413.2 669.0,1413.1 670.0,1413.1 671.0,1413.1 672.0,1413.1 673.0,1413.1 674.0,1413.0 675.0,1413.0 676.0,1412.9 677.0,1412.9 678.0,1412.8 679.0,1412.8 680.0,1412.7 681.0,1412.6 682.0,1412.5 683.0,1412.4 684.0,1412.2 685.0,1412.1 686.0,1411.9 687.0,1411.7 688.0,1411.5 689.0,1411.3 690.0,1411.1 691.0,1410.8 692.0,1410.5 693.0,1410.2 694.0,1409.8 695.0,1409.5 696.0,1409.0 697.0,1408.6 698.0,1408.1 699.0,1407.6 700.0,1407.0 701.0,1406.4 702.0,1405.8 703.0,1405.1 704.0,1404.4 705.0,1403.6 706.0,1402.7 707.0,1401.8 708.0,1400.9 709.0,1399.9 710.0,1398.9 711.0,1397.8 712.0,1396.6 713.0,1395.4 714.0,1394.2 715.0,1392.9 716.0,1391.5 717.0,1390.1 718.0,1388.6 719.0,1387.1 720.0,1385.6 721.0,1384.0 722.0,1382.3 723.0,1380.6 724.0,1378.9 725.0,1377.2 726.0,1375.4 727.0,1373.6 728.0,1371.8 729.0,1370.0 730.0,1368.2 731.0,1366.4 732.0,1364.6 733.0,1362.7 734.0,1361.0 735.0,1359.2 736.0,1357.5 737.0,1355.8 738.0,1354.1 739.0,1352.5 740.0,1351.0 741.0,1349.5 742.0,1348.1 743.0,1346.8 744.0,1345.6 745.0,1344.4 746.0,1343.4 747.0,1342.4 748.0,1341.6 749.0,1340.9 750.0,1340.2 751.0,1339.7 752.0,1339.4 753.0,1339.1 754.0,1339.0 755.0,1338.9 756.0,1339.0 757.0,1339.3 758.0,1339.6 759.0,1340.1 760.0,1340.7 761.0,1341.4 762.0,1342.2 763.0,1343.2 764.0,1344.2 765.0,1345.3 766.0,1346.5 767.0,1347.9 768.0,1349.3 769.0,1350.7 770.0,1352.3 771.0,1353.9 772.0,1355.5 773.0,1357.2 774.0,1359.0 775.0,1360.8 776.0,1362.6 777.0,1364.4 778.0,1366.3 779.0,1368.1 780.0,1370.0 781.0,1371.9 782.0,1373.7 783.0,1375.6 784.0,1377.4 785.0,1379.2 786.0,1381.0 787.0,1382.7 788.0,1384.4 789.0,1386.1 790.0,1387.7 791.0,1389.3 792.0,1390.8 793.0,1392.3 794.0,1393.7 795.0,1395.1 796.0,1396.5 797.0,1397.7 798.0,1399.0 799.0,1400.1 800.0,1401.2 801.0,1402.3 802.0,1403.3 803.0,1404.3 804.0,1405.2 805.0,1406.0 806.0,1406.8 807.0,1407.6 808.0,1408.3 809.0,1409.0 810.0,1409.6 811.0,1410.2 812.0,1410.8 813.0,1411.3 814.0,1411.8 815.0,1412.2 816.0,1412.6 817.0,1413.0 818.0,1413.3 819.0,1413.7 820.0,1414.0 821.0,1414.2 822.0,1414.5 823.0,1414.7 824.0,1415.0 825.0,1415.2 826.0,1415.3 827.0,1415.5 828.0,1415.7 829.0,1415.8 830.0,1415.9 831.0,1416.1 832.0,1416.2 833.0,1416.3 834.0,1416.4 835.0,1416.4 836.0,1416.5 837.0,1416.6 838.0,1416.7 839.0,1416.7 840.0,1416.8 841.0,1416.8 842.0,1416.9 843.0,1416.9 844.0,1417.0 845.0,1417.0 846.0,1417.1 847.0,1417.1 848.0,1417.2 849.0,1417.2 850.0,1417.2" fill="none" stroke="#ff0000" stroke-width="2.6" stroke-linejoin="round" stroke-linecap="round" />
<polyline points="735.0,1414.7 736.0,1414.7 737.0,1414.7 738.0,1414.7 739.0,1414.6 740.0,1414.6 741.0,1414.5 742.0,1414.4 743.0,1414.4 744.0,1414.3 745.0,1414.2 746.0,1414.0 747.0,1413.9 748.0,1413.8 749.0,1413.6 750.0,1413.4 751.0,1413.2 752.0,1413.0 753.0,1412.8 754.0,1412.5 755.0,1412.2 756.0,1412.0 757.0,1411.7 758.0,1411.3 759.0,1411.0 760.0,1410.7 761.0,1410.3 762.0,1410.0 763.0,1409.7 764.0,1409.3 765.0,1408.9 766.0,1408.6 767.0,1408.3 768.0,1407.9 769.0,1407.6 770.0,1407.4 771.0,1407.1 772.0,1406.8 773.0,1406.6 774.0,1406.4 775.0,1406.3 776.0,1406.2 777.0,1406.1 778.0,1406.1 779.0,1406.1 780.0,1406.1 781.0,1406.2 782.0,1406.3 783.0,1406.4 784.0,1406.6 785.0,1406.8 786.0,1407.1 787.0,1407.4 788.0,1407.7 789.0,1408.0 790.0,1408.4 791.0,1408.7 792.0,1409.1 793.0,1409.5 794.0,1409.9 795.0,1410.3 796.0,1410.7 797.0,1411.0 798.0,1411.4 799.0,1411.8 800.0,1412.2 801.0,1412.5 802.0,1412.9 803.0,1413.2 804.0,1413.5 805.0,1413.8 806.0,1414.1 807.0,1414.4 808.0,1414.6 809.0,1414.8 810.0,1415.1 811.0,1415.2 812.0,1415.4 813.0,1415.6 814.0,1415.7 815.0,1415.9 816.0,1416.0 817.0,1416.1 818.0,1416.2 819.0,1416.3 820.0,1416.4 821.0,1416.5 822.0,1416.6 823.0,1416.6" fill="none" stroke="#0000ff" stroke-width="2.6" stroke-linejoin="round" stroke-linecap="round" />
<polyline points="731.0,1414.7 732.0,1414.7 733.0,1414.7 734.0,1414.7 735.0,1414.7 736.0,1414.7 737.0,1414.7 738.0,1414.7 739.0,1414.7 740.0,1414.7 741.0,1414.7 742.0,1414.6 743.0,1414.6 744.0,1414.6 745.0,1414.5 746.0,1414.5 747.0,1414.4 748.0,1414.3 749.0,1414.2 750.0,1414.1 751.0,1414.0 752.0,1413.9 753.0,1413.7 754.0,1413.5 755.0,1413.3 756.0,1413.0 757.0,1412.7 758.0,1412.4 759.0,1412.0 760.0,1411.6 761.0,1411.1 762.0,1410.6 763.0,1410.1 764.0,1409.4 765.0,1408.7 766.0,1407.9 767.0,1407.1 768.0,1406.1 769.0,1405.1 770.0,1404.0 771.0,1402.8 772.0,1401.5 773.0,1400.1 774.0,1398.6 775.0,1397.0 776.0,1395.3 777.0,1393.5 778.0,1391.5 779.0,1389.5 780.0,1387.3 781.0,1385.1 782.0,1382.7 783.0,1380.3 784.0,1377.7 785.0,1375.1 786.0,1372.4 787.0,1369.6 788.0,1366.8 789.0,1363.9 790.0,1361.0 791.0,1358.0 792.0,1355.1 793.0,1352.1 794.0,1349.2 795.0,1346.3 796.0,1343.5 797.0,1340.8 798.0,1338.1 799.0,1335.5 800.0,1333.1 801.0,1330.8 802.0,1328.7 803.0,1326.7 804.0,1324.9 805.0,1323.4 806.0,1322.0 807.0,1320.8 808.0,1319.9 809.0,1319.3 810.0,1318.8 811.0,1318.7 812.0,1318.7 813.0,1319.0 814.0,1319.6 815.0,1320.4 816.0,1321.5 817.0,1322.8 818.0,1324.3 819.0,1326.0 820.0,1327.9 821.0,1329.9 822.0,1332.2 823.0,1334.6 824.0,1337.1 825.0,1339.7 826.0,1342.5 827.0,1345.3 828.0,1348.2 829.0,1351.1 830.0,1354.1 831.0,1357.1 832.0,1360.1 833.0,1363.1 834.0,1366.0 835.0,1368.9 836.0,1371.8 837.0,1374.6 838.0,1377.3 839.0,1379.9 840.0,1382.5 841.0,1384.9 842.0,1387.3 843.0,1389.6 844.0,1391.7 845.0,1393.8 846.0,1395.7 847.0,1397.5 848.0,1399.2 849.0,1400.8 850.0,1402.3 851.0,1403.7 852.0,1405.0 853.0,1406.3 854.0,1407.4 855.0,1408.4 856.0,1409.3 857.0,1410.2 858.0,1411.0 859.0,1411.7 860.0,1412.4 861.0,1413.0 862.0,1413.5 863.0,1414.0 864.0,1414.4 865.0,1414.8 866.0,1415.2 867.0,1415.5 868.0,1415.8 869.0,1416.0 870.0,1416.3 871.0,1416.5 872.0,1416.7 873.0,1416.8 874.0,1417.0 875.0,1417.1 876.0,1417.2 877.0,1417.3 878.0,1417.4 879.0,1417.5 880.0,1417.6 881.0,1417.6 882.0,1417.7 883.0,1417.8 884.0,1417.8 885.0,1417.9 886.0,1417.9 887.0,1417.9 888.0,1418.0 889.0,1418.0 890.0,1418.1 891.0,1418.1 892.0,1418.1" fill="none" stroke="#008000" stroke-width="2.6" stroke-linejoin="round" stroke-linecap="round" />
<polyline points="660.0,1413.4 661.0,1413.4 662.0,1413.4 663.0,1413.5 664.0,1413.5 665.0,1413.5 666.0,1413.5 667.0,1413.6 668.0,1413.6 669.0,1413.6 670.0,1413.6 671.0,1413.6 672.0,1413.7 673.0,1413.7 674.0,1413.7 675.0,1413.7 676.0,1413.7 677.0,1413.8 678.0,1413.8 679.0,1413.8 680.0,1413.8 681.0,1413.9 682.0,1413.9 683.0,1413.9 684.0,1413.9 685.0,1413.9 686.0,1414.0 687.0,1414.0 688.0,1414.0 689.0,1414.0 690.0,1414.0 691.0,1414.1 692.0,1414.1 693.0,1414.1 694.0,1414.1 695.0,1414.2 696.0,1414.2 697.0,1414.2 698.0,1414.2 699.0,1414.2 700.0,1414.3 701.0,1414.3 702.0,1414.3 703.0,1414.3 704.0,1414.3 705.0,1414.4 706.0,1414.4 707.0,1414.4 708.0,1414.4 709.0,1414.5 710.0,1414.5 711.0,1414.5 712.0,1414.5 713.0,1414.5 714.0,1414.6 715.0,1414.6 716.0,1414.6 717.0,1414.6 718.0,1414.6 719.0,1414.7 720.0,1414.7 721.0,1414.7 722.0,1414.7 723.0,1414.8 724.0,1414.8 725.0,1414.8 726.0,1414.8 727.0,1414.8 728.0,1414.9 729.0,1414.9 730.0,1414.9 731.0,1414.9 732.0,1414.9 733.0,1415.0 734.0,1415.0 735.0,1415.0 736.0,1415.0 737.0,1415.1 738.0,1415.1 739.0,1415.1 740.0,1415.1 741.0,1415.1 742.0,1415.2 743.0,1415.2 744.0,1415.2 745.0,1415.2 746.0,1415.2 747.0,1415.3 748.0,1415.3 749.0,1415.3 750.0,1415.3 751.0,1415.4 752.0,1415.4 753.0,1415.4 754.0,1415.4 755.0,1415.4 756.0,1415.5 757.0,1415.5 758.0,1415.5 759.0,1415.5 760.0,1415.5 761.0,1415.6 762.0,1415.6 763.0,1415.6 764.0,1415.6 765.0,1415.7 766.0,1415.7 767.0,1415.7 768.0,1415.7 769.0,1415.7 770.0,1415.8 771.0,1415.8 772.0,1415.8 773.0,1415.8 774.0,1415.8 775.0,1415.9 776.0,1415.9 777.0,1415.9 778.0,1415.9 779.0,1416.0 780.0,1416.0 781.0,1416.0 782.0,1416.0 783.0,1416.0 784.0,1416.1 785.0,1416.1 786.0,1416.1 787.0,1416.1 788.0,1416.1 789.0,1416.2 790.0,1416.2 791.0,1416.2 792.0,1416.2 793.0,1416.3 794.0,1416.3 795.0,1416.3 796.0,1416.3 797.0,1416.3 798.0,1416.4 799.0,1416.4 800.0,1416.4 801.0,1416.4 802.0,1416.4 803.0,1416.5 804.0,1416.5 805.0,1416.5 806.0,1416.5 807.0,1416.6 808.0,1416.6 809.0,1416.6 810.0,1416.6 811.0,1416.6 812.0,1416.7 813.0,1416.7 814.0,1416.7 815.0,1416.7 816.0,1416.7 817.0,1416.8 818.0,1416.8 819.0,1416.8 820.0,1416.8 821.0,1416.9 822.0,1416.9 823.0,1416.9 824.0,1416.9 825.0,1416.9 826.0,1417.0 827.0,1417.0 828.0,1417.0 829.0,1417.0 830.0,1417.0 831.0,1417.1 832.0,1417.1 833.0,1417.1 834.0,1417.1 835.0,1417.2 836.0,1417.2 837.0,1417.2 838.0,1417.2 839.0,1417.2 840.0,1417.3 841.0,1417.3 842.0,1417.3 843.0,1417.3 844.0,1417.3 845.0,1417.4 846.0,1417.4 847.0,1417.4 848.0,1417.4 849.0,1417.5 850.0,1417.5 851.0,1417.5 852.0,1417.5 853.0,1417.5 854.0,1417.6 855.0,1417.6 856.0,1417.6 857.0,1417.6 858.0,1417.6 859.0,1417.7 860.0,1417.7 861.0,1417.7 862.0,1417.7 863.0,1417.8 864.0,1417.8 865.0,1417.8 866.0,1417.8 867.0,1417.8 868.0,1417.9 869.0,1417.9 870.0,1417.9 871.0,1417.9 872.0,1417.9 873.0,1418.0 874.0,1418.0 875.0,1418.0 876.0,1418.0 877.0,1418.1 878.0,1418.1 879.0,1418.1 880.0,1418.1 881.0,1418.1 882.0,1418.2 883.0,1418.2 884.0,1418.2 885.0,1418.2 886.0,1418.2 887.0,1418.3 888.0,1418.3 889.0,1418.3 890.0,1418.3 891.0,1418.4 892.0,1418.4 893.0,1418.4 894.0,1418.4 895.0,1418.4 896.0,1418.5 897.0,1418.5 898.0,1418.5 899.0,1418.5 900.0,1418.5 901.0,1418.6 902.0,1418.6 903.0,1418.6 904.0,1418.6 905.0,1418.7 906.0,1418.7 907.0,1418.7 908.0,1418.7 909.0,1418.7 910.0,1418.8 911.0,1418.8 912.0,1418.8 913.0,1418.8 914.0,1418.8 915.0,1418.9 916.0,1418.9 917.0,1418.9 918.0,1418.9 919.0,1419.0 920.0,1419.0 921.0,1419.0 922.0,1419.0 923.0,1419.0 924.0,1419.1 925.0,1419.1 926.0,1419.1 927.0,1419.1 928.0,1419.1 929.0,1419.2 930.0,1419.2 931.0,1419.2 932.0,1419.2 933.0,1419.3 934.0,1419.3 935.0,1419.3" fill="none" stroke="#000" stroke-width="2.4" stroke-linejoin="round" stroke-linecap="round" />
<polyline points="858.0,1417.4 859.0,1417.4 860.0,1417.4 861.0,1417.3 862.0,1417.3 863.0,1417.3 864.0,1417.3 865.0,1417.3 866.0,1417.2 867.0,1417.2 868.0,1417.2 869.0,1417.2 870.0,1417.2 871.0,1417.2 872.0,1417.2 873.0,1417.3 874.0,1417.3 875.0,1417.3 876.0,1417.4 877.0,1417.4 878.0,1417.5 879.0,1417.6 880.0,1417.6 881.0,1417.7 882.0,1417.7 883.0,1417.8 884.0,1417.9 885.0,1417.9 886.0,1418.0" fill="none" stroke="#ff8000" stroke-width="2.0" stroke-linejoin="round" stroke-linecap="round" />
<polyline points="660.0,1412.2 661.0,1412.2 662.0,1412.2 663.0,1412.2 664.0,1412.2 665.0,1412.2 666.0,1412.2 667.0,1412.1 668.0,1412.1 669.0,1412.1 670.0,1412.1 671.0,1412.0 672.0,1412.0 673.0,1411.9 674.0,1411.9 675.0,1411.8 676.0,1411.8 677.0,1411.7 678.0,1411.6 679.0,1411.5 680.0,1411.4 681.0,1411.3 682.0,1411.2 683.0,1411.1 684.0,1410.9 685.0,1410.7 686.0,1410.6 687.0,1410.4 688.0,1410.2 689.0,1409.9 690.0,1409.7 691.0,1409.4 692.0,1409.1 693.0,1408.7 694.0,1408.4 695.0,1408.0 696.0,1407.6 697.0,1407.1 698.0,1406.6 699.0,1406.1 700.0,1405.5 701.0,1404.9 702.0,1404.3 703.0,1403.6 704.0,1402.9 705.0,1402.1 706.0,1401.3 707.0,1400.4 708.0,1399.5 709.0,1398.5 710.0,1397.5 711.0,1396.4 712.0,1395.3 713.0,1394.1 714.0,1392.9 715.0,1391.6 716.0,1390.3 717.0,1388.9 718.0,1387.5 719.0,1386.0 720.0,1384.4 721.0,1382.9 722.0,1381.3 723.0,1379.6 724.0,1377.9 725.0,1376.2 726.0,1374.4 727.0,1372.7 728.0,1370.8 729.0,1369.0 730.0,1367.2 731.0,1365.3 732.0,1363.5 733.0,1361.7 734.0,1359.8 735.0,1358.0 736.0,1356.2 737.0,1354.4 738.0,1352.7 739.0,1350.9 740.0,1349.3 741.0,1347.6 742.0,1346.1 743.0,1344.6 744.0,1343.1 745.0,1341.7 746.0,1340.4 747.0,1339.1 748.0,1338.0 749.0,1336.9 750.0,1335.9 751.0,1335.0 752.0,1334.2 753.0,1333.4 754.0,1332.8 755.0,1332.2 756.0,1331.7 757.0,1331.3 758.0,1331.0 759.0,1330.7 760.0,1330.5 761.0,1330.4 762.0,1330.3 763.0,1330.3 764.0,1330.3 765.0,1330.4 766.0,1330.5 767.0,1330.6 768.0,1330.7 769.0,1330.8 770.0,1330.9 771.0,1331.0 772.0,1331.1 773.0,1331.2 774.0,1331.2 775.0,1331.2 776.0,1331.2 777.0,1331.1 778.0,1331.0 779.0,1330.8 780.0,1330.5 781.0,1330.2 782.0,1329.8 783.0,1329.3 784.0,1328.7 785.0,1328.1 786.0,1327.4 787.0,1326.6 788.0,1325.8 789.0,1324.8 790.0,1323.9 791.0,1322.8 792.0,1321.7 793.0,1320.6 794.0,1319.4 795.0,1318.3 796.0,1317.1 797.0,1315.9 798.0,1314.7 799.0,1313.6 800.0,1312.6 801.0,1311.6 802.0,1310.7 803.0,1309.8 804.0,1309.2 805.0,1308.6 806.0,1308.2 807.0,1308.0 808.0,1308.0 809.0,1308.1 810.0,1308.4 811.0,1309.0 812.0,1309.7 813.0,1310.7 814.0,1311.9 815.0,1313.3 816.0,1314.8 817.0,1316.6 818.0,1318.6 819.0,1320.7 820.0,1323.0 821.0,1325.5 822.0,1328.1 823.0,1330.8 824.0,1333.6 825.0,1336.4 826.0,1339.4 827.0,1342.4 828.0,1345.5 829.0,1348.5 830.0,1351.6 831.0,1354.7 832.0,1357.8 833.0,1360.8 834.0,1363.8 835.0,1366.7 836.0,1369.6 837.0,1372.4 838.0,1375.1 839.0,1377.8 840.0,1380.3 841.0,1382.8 842.0,1385.1 843.0,1387.3 844.0,1389.5 845.0,1391.5 846.0,1393.4 847.0,1395.2 848.0,1396.9 849.0,1398.5 850.0,1400.0 851.0,1401.4 852.0,1402.7 853.0,1403.9 854.0,1405.0 855.0,1406.0 856.0,1406.9 857.0,1407.8 858.0,1408.6 859.0,1409.3 860.0,1409.9 861.0,1410.5 862.0,1411.0 863.0,1411.5 864.0,1411.9 865.0,1412.3 866.0,1412.7 867.0,1413.0 868.0,1413.3 869.0,1413.5 870.0,1413.8 871.0,1414.0 872.0,1414.2 873.0,1414.4 874.0,1414.6 875.0,1414.8 876.0,1415.0 877.0,1415.1 878.0,1415.3 879.0,1415.5 880.0,1415.6 881.0,1415.7 882.0,1415.9 883.0,1416.0 884.0,1416.1 885.0,1416.2 886.0,1416.4 887.0,1416.5 888.0,1416.6 889.0,1416.6 890.0,1416.7 891.0,1416.8 892.0,1416.9 893.0,1417.0 894.0,1417.0 895.0,1417.1 896.0,1417.1 897.0,1417.2 898.0,1417.3 899.0,1417.3 900.0,1417.4 901.0,1417.4 902.0,1417.4 903.0,1417.5 904.0,1417.5 905.0,1417.6 906.0,1417.6 907.0,1417.7 908.0,1417.7 909.0,1417.7 910.0,1417.8 911.0,1417.8 912.0,1417.9 913.0,1417.9 914.0,1417.9 915.0,1418.0 916.0,1418.0 917.0,1418.0 918.0,1418.1 919.0,1418.1 920.0,1418.1 921.0,1418.2 922.0,1418.2 923.0,1418.2 924.0,1418.3 925.0,1418.3 926.0,1418.3 927.0,1418.4 928.0,1418.4 929.0,1418.4 930.0,1418.5 931.0,1418.5 932.0,1418.5 933.0,1418.6 934.0,1418.6 935.0,1418.6" fill="none" stroke="#000" stroke-width="2.7" stroke-linejoin="round" stroke-linecap="round" />
<path d="M634.3 1441.2L634.3 1432.7 M695.9 1441.2L695.9 1436.9 M757.6 1441.2L757.6 1432.7 M819.2 1441.2L819.2 1436.9 M880.9 1441.2L880.9 1432.7 M942.5 1441.2L942.5 1436.9 M634.3 1232.3L634.3 1240.8 M695.9 1232.3L695.9 1236.6 M757.6 1232.3L757.6 1240.8 M819.2 1232.3L819.2 1236.6 M880.9 1232.3L880.9 1240.8 M942.5 1232.3L942.5 1236.6 M573.6 1258.2L577.9 1258.2 M1004.2 1258.2L999.9 1258.2 M573.6 1284.4L582.1 1284.4 M1004.2 1284.4L995.7 1284.4 M573.6 1310.6L577.9 1310.6 M1004.2 1310.6L999.9 1310.6 M573.6 1336.7L582.1 1336.7 M1004.2 1336.7L995.7 1336.7 M573.6 1362.9L577.9 1362.9 M1004.2 1362.9L999.9 1362.9 M573.6 1389.0L582.1 1389.0 M1004.2 1389.0L995.7 1389.0 M573.6 1415.2L577.9 1415.2 M1004.2 1415.2L999.9 1415.2" stroke="#000" stroke-width="1.6" fill="none"/>
<rect x="573.6" y="1232.3" width="430.6" height="208.9" fill="none" stroke="#000" stroke-width="1.6"/>
<text x="123.1" y="1464.7" font-family='"Liberation Serif", "DejaVu Serif", serif' font-size="20.6" font-weight="bold" font-style="normal" text-anchor="middle" fill="#000" >536</text>
<text x="634.3" y="1467.7" font-family='"Liberation Serif", "DejaVu Serif", serif' font-size="20.6" font-weight="bold" font-style="normal" text-anchor="middle" fill="#000" >536</text>
<text x="246.8" y="1464.7" font-family='"Liberation Serif", "DejaVu Serif", serif' font-size="20.6" font-weight="bold" font-style="normal" text-anchor="middle" fill="#000" >532</text>
<text x="757.6" y="1467.7" font-family='"Liberation Serif", "DejaVu Serif", serif' font-size="20.6" font-weight="bold" font-style="normal" text-anchor="middle" fill="#000" >532</text>
<text x="370.5" y="1464.7" font-family='"Liberation Serif", "DejaVu Serif", serif' font-size="20.6" font-weight="bold" font-style="normal" text-anchor="middle" fill="#000" >528</text>
<text x="880.9" y="1467.7" font-family='"Liberation Serif", "DejaVu Serif", serif' font-size="20.6" font-weight="bold" font-style="normal" text-anchor="middle" fill="#000" >528</text>
<text x="494.1" y="1464.7" font-family='"Liberation Serif", "DejaVu Serif", serif' font-size="20.6" font-weight="bold" font-style="normal" text-anchor="middle" fill="#000" >524</text>
<text x="1004.1" y="1467.7" font-family='"Liberation Serif", "DejaVu Serif", serif' font-size="20.6" font-weight="bold" font-style="normal" text-anchor="middle" fill="#000" >524</text>
<text transform="translate(22.7,1120.0) rotate(-90)" font-family='"Liberation Serif", "DejaVu Serif", serif' font-size="21.5" font-weight="bold" text-anchor="middle"><tspan font-style="italic">I</tspan> (a. u.)</text>
<text transform="translate(534.7,1123.9) rotate(-90)" font-family='"Liberation Serif", "DejaVu Serif", serif' font-size="21.5" font-weight="bold" text-anchor="middle"><tspan font-style="italic">I</tspan> (a. u.)</text>
<text x="278" y="1501.5" font-family='"Liberation Sans", "DejaVu Sans", sans-serif' font-size="20.2" font-weight="bold" text-anchor="middle"><tspan font-style="italic">B. E.</tspan> (eV)</text>
<text x="788.4" y="1504.6" font-family='"Liberation Serif", "DejaVu Serif", serif' font-size="20.3" font-weight="bold" text-anchor="middle"><tspan font-style="italic">B. E.</tspan> (eV)</text>
<text x="70.2" y="808.9" font-family='"Liberation Serif", "DejaVu Serif", serif' font-size="20.3" font-weight="bold" font-style="normal" text-anchor="start" fill="#000" >O1s</text>
<path d="M78.0 837.8H124.4" stroke="#ff0000" stroke-width="2.4"/>
<text x="129.6" y="844.5" font-family='"Liberation Serif", "DejaVu Serif", serif' font-size="20.3" font-weight="bold" font-style="normal" text-anchor="start" fill="#000" >Si-O</text>
<path d="M78.0 864.7H124.4" stroke="#0000ff" stroke-width="2.4"/>
<text x="129.6" y="871.4" font-family='"Liberation Serif", "DejaVu Serif", serif' font-size="20.3" font-weight="bold" font-style="normal" text-anchor="start" fill="#000" >Si-O-Ti</text>
<path d="M78.0 891.4H124.4" stroke="#008000" stroke-width="2.4"/>
<text x="129.6" y="898.1" font-family='"Liberation Serif", "DejaVu Serif", serif' font-size="20.3" font-weight="bold" font-style="normal" text-anchor="start" fill="#000" >Ti-O</text>
<path d="M78.0 918.1H124.4" stroke="#ff8000" stroke-width="2.4"/>
<text x="129.6" y="924.8" font-family='"Liberation Serif", "DejaVu Serif", serif' font-size="20.3" font-weight="bold" font-style="normal" text-anchor="start" fill="#000" >O-def</text>
<text x="427.5" y="822.8" font-family='"Liberation Serif", "DejaVu Serif", serif' font-size="20.3" font-weight="bold" font-style="normal" text-anchor="start" fill="#000" >x = 1</text>
<text x="389.0" y="1062.5" font-family='"Liberation Serif", "DejaVu Serif", serif' font-size="20.3" font-weight="bold" font-style="normal" text-anchor="start" fill="#000" >x = 0.75</text>
<text x="404.5" y="1316.0" font-family='"Liberation Serif", "DejaVu Serif", serif' font-size="20.3" font-weight="bold" font-style="normal" text-anchor="start" fill="#000" >x = 0.5</text>
<text x="588.0" y="812.5" font-family='"Liberation Serif", "DejaVu Serif", serif' font-size="20.0" font-weight="bold" font-style="normal" text-anchor="start" fill="#000" >O1s</text>
<path d="M583.3 830.8H629.4" stroke="#ff0000" stroke-width="2.4"/>
<text x="634.8" y="837.8" font-family='"Liberation Serif", "DejaVu Serif", serif' font-size="20.0" font-weight="bold" font-style="normal" text-anchor="start" fill="#000" >Si-O</text>
<path d="M583.3 857.3H629.4" stroke="#0000ff" stroke-width="2.4"/>
<text x="634.8" y="864.3" font-family='"Liberation Serif", "DejaVu Serif", serif' font-size="20.0" font-weight="bold" font-style="normal" text-anchor="start" fill="#000" >Si-O-Ti</text>
<path d="M583.3 884.2H629.4" stroke="#008000" stroke-width="2.4"/>
<text x="634.8" y="891.2" font-family='"Liberation Serif", "DejaVu Serif", serif' font-size="20.0" font-weight="bold" font-style="normal" text-anchor="start" fill="#000" >Ti-O</text>
<path d="M583.3 910.9H629.4" stroke="#ff8000" stroke-width="2.4"/>
<text x="634.8" y="917.9" font-family='"Liberation Serif", "DejaVu Serif", serif' font-size="20.0" font-weight="bold" font-style="normal" text-anchor="start" fill="#000" >O-def</text>
<text x="937.0" y="827.5" font-family='"Liberation Serif", "DejaVu Serif", serif' font-size="19.8" font-weight="bold" font-style="normal" text-anchor="start" fill="#000" >x = 1</text>
<text x="899.0" y="1066.0" font-family='"Liberation Serif", "DejaVu Serif", serif' font-size="19.8" font-weight="bold" font-style="normal" text-anchor="start" fill="#000" >x = 0.75</text>
<text x="915.5" y="1319.0" font-family='"Liberation Serif", "DejaVu Serif", serif' font-size="19.8" font-weight="bold" font-style="normal" text-anchor="start" fill="#000" >x = 0.5</text>
</svg>
</body></html>
